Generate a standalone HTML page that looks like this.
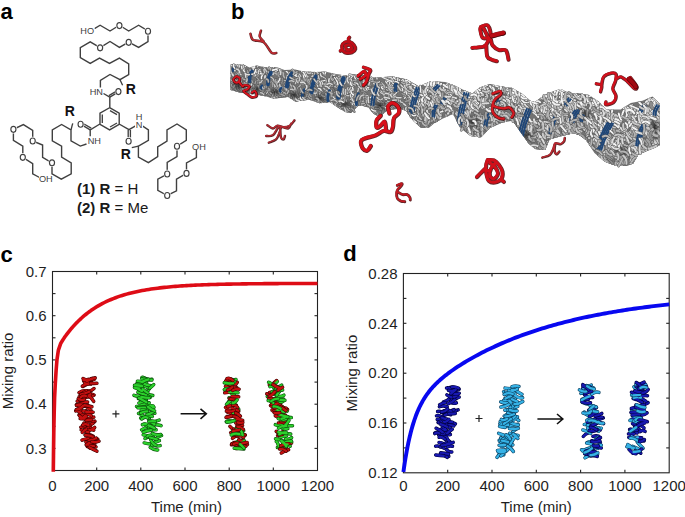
<!DOCTYPE html>
<html><head><meta charset="utf-8"><style>
html,body{margin:0;padding:0;background:#fff;}
svg{display:block;}
.tk{font-family:"Liberation Sans",sans-serif;font-size:15px;fill:#1e1e1e;}
.lab{font-family:"Liberation Sans",sans-serif;font-size:22px;font-weight:bold;fill:#000;}
</style></head><body>
<svg width="685" height="517" viewBox="0 0 685 517">
<rect width="685" height="517" fill="#fff"/>
<text x="0.5" y="18.5" class="lab">a</text>
<text x="231" y="18.5" class="lab">b</text>
<text x="0.5" y="261.5" class="lab">c</text>
<text x="343.3" y="261.3" class="lab">d</text>
<defs><clipPath id="bc"><polygon points="230.5,64.6 242.5,64.0 249.5,67.5 256.5,65.5 265.3,67.3 275.8,67.0 284.6,69.9 295.1,69.5 303.8,71.6 316.1,72.0 324.9,71.6 337.1,74.3 345.0,75.5 357.5,74.0 371.5,77.5 383.8,77.0 392.6,76.6 406.6,79.3 418.8,86.3 431.1,81.0 445.1,81.9 455.0,85.8 462.0,89.3 472.5,93.5 479.5,87.5 490.0,84.0 503.5,86.7 511.7,87.8 522.2,93.7 530.4,100.7 535.0,101.9 544.4,94.9 552.6,91.4 560.7,89.0 570.0,93.7 577.3,92.9 588.4,94.7 599.4,102.0 606.1,109.5 620.6,109.5 630.8,103.0 642.4,100.8 652.5,96.5 659.8,103.7 659.8,145.0 655.7,147.4 647.0,151.1 638.3,154.8 633.3,163.5 627.1,166.0 616.3,166.1 604.7,161.7 594.5,153.0 585.8,140.0 580.0,135.6 573.7,133.3 560.1,136.6 549.6,139.5 545.2,150.0 535.0,149.0 528.6,143.6 519.8,131.3 512.8,120.8 502.3,122.6 490.0,128.0 481.0,137.5 470.5,136.0 460.3,128.0 453.0,114.0 441.3,119.2 434.6,123.1 428.2,128.0 421.0,128.0 413.6,121.3 405.7,110.4 398.7,108.9 388.3,110.0 379.0,117.0 373.2,113.6 368.6,107.8 361.6,105.4 358.0,106.0 351.0,113.0 345.0,112.0 337.0,107.0 330.1,102.3 319.6,103.2 309.1,99.7 295.1,101.4 288.1,97.0 274.0,98.8 265.3,96.2 254.8,94.4 240.8,92.7 230.5,90.0"/></clipPath><radialGradient id="sp"><stop offset="0" stop-color="#141414" stop-opacity="0.95"/><stop offset="1" stop-color="#303030" stop-opacity="0"/></radialGradient></defs>
<polygon points="230.5,64.6 242.5,64.0 249.5,67.5 256.5,65.5 265.3,67.3 275.8,67.0 284.6,69.9 295.1,69.5 303.8,71.6 316.1,72.0 324.9,71.6 337.1,74.3 345.0,75.5 357.5,74.0 371.5,77.5 383.8,77.0 392.6,76.6 406.6,79.3 418.8,86.3 431.1,81.0 445.1,81.9 455.0,85.8 462.0,89.3 472.5,93.5 479.5,87.5 490.0,84.0 503.5,86.7 511.7,87.8 522.2,93.7 530.4,100.7 535.0,101.9 544.4,94.9 552.6,91.4 560.7,89.0 570.0,93.7 577.3,92.9 588.4,94.7 599.4,102.0 606.1,109.5 620.6,109.5 630.8,103.0 642.4,100.8 652.5,96.5 659.8,103.7 659.8,145.0 655.7,147.4 647.0,151.1 638.3,154.8 633.3,163.5 627.1,166.0 616.3,166.1 604.7,161.7 594.5,153.0 585.8,140.0 580.0,135.6 573.7,133.3 560.1,136.6 549.6,139.5 545.2,150.0 535.0,149.0 528.6,143.6 519.8,131.3 512.8,120.8 502.3,122.6 490.0,128.0 481.0,137.5 470.5,136.0 460.3,128.0 453.0,114.0 441.3,119.2 434.6,123.1 428.2,128.0 421.0,128.0 413.6,121.3 405.7,110.4 398.7,108.9 388.3,110.0 379.0,117.0 373.2,113.6 368.6,107.8 361.6,105.4 358.0,106.0 351.0,113.0 345.0,112.0 337.0,107.0 330.1,102.3 319.6,103.2 309.1,99.7 295.1,101.4 288.1,97.0 274.0,98.8 265.3,96.2 254.8,94.4 240.8,92.7 230.5,90.0" fill="#737373"/>
<g fill="none" stroke-linecap="round" clip-path="url(#bc)"><path d="M256.1 74.5Q258.5 73.6 261.1 74.0M240.7 81.7Q242.0 83.4 244.0 82.5M320.6 94.0Q321.6 96.2 324.0 95.4M415.2 92.4Q419.1 92.8 419.2 96.7M382.0 75.5Q385.3 76.9 386.0 80.4M361.9 104.3Q364.1 101.1 367.7 102.6M394.3 73.9Q393.5 77.2 395.7 79.8M297.2 97.8Q298.9 100.0 296.9 101.9M305.1 91.5Q307.3 93.0 309.8 92.7M415.2 98.1Q419.2 98.1 419.2 102.0M385.3 78.2Q387.2 79.9 388.1 82.4M233.6 80.6Q235.0 81.7 236.1 83.1M360.7 100.4Q363.1 100.7 362.8 103.1M300.5 83.4Q300.8 85.7 298.8 86.8M268.9 90.5Q270.6 90.9 271.7 92.3M371.2 93.3Q375.0 94.8 373.6 98.6M246.0 89.9Q247.5 92.0 249.5 93.5M297.4 87.9Q295.4 90.4 297.0 93.2M234.1 89.0Q236.0 90.8 238.1 89.2M339.4 93.1Q341.7 92.5 343.2 94.3M276.3 68.9Q277.8 67.6 279.5 68.6M318.2 82.6Q319.5 84.4 319.6 86.6M268.8 87.4Q268.0 89.2 269.4 90.5M265.1 85.9Q264.3 88.0 263.7 90.1M275.1 81.2Q276.9 83.5 279.3 81.8M343.0 75.6Q342.4 77.7 341.0 79.5M238.7 92.0Q240.5 93.3 242.5 94.3M279.3 72.0Q280.2 73.3 279.7 74.8M255.7 70.0Q257.4 71.0 257.9 72.9M327.7 90.1Q329.4 91.4 330.8 93.1M408.7 92.7Q409.1 94.9 406.9 95.8M356.4 102.1Q357.6 104.7 358.0 107.4M337.1 100.9Q336.7 104.1 333.9 105.6M228.9 86.0Q231.1 87.1 232.8 88.8M281.9 82.3Q283.2 83.8 285.2 83.3M407.8 110.9Q411.0 112.6 410.8 116.2M372.0 79.7Q370.3 82.1 370.6 85.1M341.3 76.9Q343.3 76.1 345.4 76.4M352.2 74.2Q354.1 74.3 355.9 75.0M340.5 98.1Q343.0 97.5 345.2 99.0M403.7 84.5Q404.3 86.2 405.5 87.4M240.1 73.9Q240.8 75.0 241.0 76.4M255.3 80.1Q257.8 81.3 258.4 84.0M347.9 75.4Q347.2 78.7 350.1 80.4M410.4 110.2Q407.0 111.0 407.4 114.4M305.4 74.1Q306.0 76.1 307.9 76.7M387.6 100.6Q387.7 103.7 389.8 106.0M359.5 72.6Q359.1 75.5 361.6 77.2M360.2 95.2Q363.8 95.6 364.3 99.3M403.2 95.9Q405.8 98.0 407.5 100.9" stroke="#505050" stroke-width="2.2"/><path d="M515.0 88.2Q515.0 90.5 516.3 92.4M578.3 120.0Q582.4 120.8 586.6 120.8M430.1 88.7Q431.0 90.4 431.3 92.2M594.5 122.0Q597.3 124.2 595.7 127.4M551.2 116.9Q548.2 119.3 548.7 123.1M492.8 83.6Q493.0 85.5 493.6 87.4M576.0 133.9Q579.2 133.4 580.0 136.5M538.5 145.3Q538.0 149.3 541.3 151.7M441.7 89.9Q444.8 90.2 446.4 92.9M517.8 116.8Q520.4 115.1 522.7 117.3M566.3 126.7Q569.5 129.3 570.1 133.5M565.3 107.3Q567.6 109.5 570.3 111.2M532.7 145.8Q536.2 147.2 535.7 150.9M494.1 109.7Q497.0 108.1 499.4 110.4M460.9 92.5Q463.5 92.8 465.1 90.8M605.8 158.4Q605.8 162.3 609.6 162.9M551.4 97.9Q553.7 99.9 552.1 102.5M616.2 153.2Q618.8 156.9 623.1 158.3M439.7 94.5Q440.5 96.4 440.4 98.5M480.2 113.7Q478.1 117.8 481.9 120.5M434.4 115.4Q437.4 116.8 436.1 119.9M486.7 83.2Q488.2 84.6 488.9 86.5M469.1 125.6Q469.4 128.8 467.9 131.8M613.8 137.9Q610.4 142.2 614.1 146.2M524.6 102.1Q525.6 104.6 524.3 107.1M572.9 125.4Q570.7 126.9 570.7 129.7M615.5 143.1Q614.9 146.9 618.5 148.5M479.1 132.7Q477.8 134.9 477.2 137.4M594.7 99.9Q596.3 102.4 596.7 105.3M490.5 114.3Q492.4 116.0 493.3 118.4M427.1 110.5Q426.7 113.4 429.5 114.0M601.3 123.1Q602.8 128.5 608.4 127.8M538.3 109.0Q541.8 106.2 544.8 109.6M499.2 106.7Q500.5 109.9 500.2 113.3M600.1 128.8Q604.2 127.7 607.2 130.6M593.3 135.6Q597.6 136.6 597.6 140.9M639.4 135.3Q642.4 135.2 645.3 135.7M544.6 123.7Q546.0 125.6 548.5 125.5M571.2 109.0Q571.0 111.1 570.4 113.1M487.9 91.6Q491.4 92.1 490.9 95.7M538.6 140.3Q540.8 142.3 539.8 145.2M589.8 142.4Q590.9 146.6 594.6 149.0M460.2 120.2Q462.8 120.6 464.9 119.0M544.8 135.4Q545.7 137.7 545.1 140.2M501.3 86.7Q500.5 90.9 504.2 93.0M477.3 125.5Q479.5 126.6 481.8 127.7M623.3 124.5Q622.5 128.5 626.2 130.1M623.7 138.9Q622.0 142.0 621.5 145.4M480.7 121.8Q480.5 125.2 478.8 128.2M575.2 119.4Q572.7 122.6 575.1 125.9M461.8 119.6Q465.5 122.6 468.6 118.9M513.9 121.0Q515.1 123.6 516.9 125.9M434.1 108.7Q435.5 110.4 437.7 110.9M493.2 81.5Q493.8 84.6 492.2 87.4M480.3 123.5Q484.3 124.1 484.6 128.1M524.5 128.1Q526.4 130.5 529.0 129.0M521.3 105.1Q524.7 107.1 523.8 110.9M572.3 99.0Q572.7 103.4 577.1 103.2M508.2 102.9Q509.4 104.6 510.2 106.6M624.8 151.8Q624.3 155.9 627.4 158.7M542.1 128.2Q544.6 132.5 549.3 131.3M550.5 132.0Q551.6 135.5 548.8 138.0M548.8 95.4Q546.7 98.1 543.6 99.6M447.2 82.7Q447.4 86.2 450.7 87.5M439.8 95.1Q438.6 97.9 439.9 100.6M545.3 104.7Q546.3 107.6 549.4 107.7M610.1 136.7Q611.3 140.2 613.6 143.1M471.8 131.3Q472.4 134.0 472.5 136.7M562.4 89.2Q562.6 91.5 561.4 93.5M593.2 130.8Q596.6 132.9 600.3 131.4M526.2 103.4Q528.0 105.4 529.6 107.7M469.0 99.6Q473.8 99.8 474.0 104.6M597.6 120.5Q600.5 123.6 604.6 122.7M487.6 125.5Q489.2 128.2 491.8 129.8M625.3 128.8Q622.7 132.5 626.3 135.2M561.8 107.4Q559.8 111.1 562.8 114.0M537.3 141.7Q540.1 145.2 537.8 149.2M524.9 105.0Q526.9 107.8 530.3 108.4M466.1 122.7Q468.2 124.2 468.2 126.9M446.2 85.0Q443.2 85.7 443.7 88.8M464.3 92.4Q464.6 94.7 462.6 95.8M556.9 88.9Q558.8 91.8 561.5 94.0M587.0 96.9Q590.3 98.7 593.1 101.2M554.4 128.9Q553.1 132.1 556.0 133.9M588.7 126.1Q589.5 129.8 589.7 133.4M478.7 92.5Q481.1 91.9 482.6 93.9M542.3 111.0Q543.8 113.0 545.1 115.1" stroke="#505050" stroke-width="2.7"/><path d="M658.1 116.4Q659.6 119.0 658.0 121.5M652.5 107.0Q653.1 109.5 654.6 111.7M657.0 118.3Q656.9 120.9 655.8 123.3M645.9 102.6Q648.9 98.9 653.7 99.5" stroke="#505050" stroke-width="3.2"/><path d="M297.2 97.8Q298.9 100.0 296.9 101.9" stroke="#787878" stroke-width="1.5"/><path d="M538.5 145.3Q538.0 149.3 541.3 151.7M550.5 132.0Q551.6 135.5 548.8 138.0" stroke="#787878" stroke-width="2.0"/><path d="M320.6 94.0Q321.6 96.2 324.0 95.4M360.7 100.4Q363.1 100.7 362.8 103.1M268.8 87.4Q268.0 89.2 269.4 90.5M238.7 92.0Q240.5 93.3 242.5 94.3M407.8 110.9Q411.0 112.6 410.8 116.2M240.1 73.9Q240.8 75.0 241.0 76.4" stroke="#8c8c8c" stroke-width="1.5"/><path d="M513.9 121.0Q515.1 123.6 516.9 125.9M537.3 141.7Q540.1 145.2 537.8 149.2" stroke="#8c8c8c" stroke-width="2.0"/><path d="M240.7 81.7Q242.0 83.4 244.0 82.5M246.0 89.9Q247.5 92.0 249.5 93.5M297.4 87.9Q295.4 90.4 297.0 93.2M234.1 89.0Q236.0 90.8 238.1 89.2M228.9 86.0Q231.1 87.1 232.8 88.8M352.2 74.2Q354.1 74.3 355.9 75.0M403.2 95.9Q405.8 98.0 407.5 100.9" stroke="#a0a0a0" stroke-width="1.5"/><path d="M576.0 133.9Q579.2 133.4 580.0 136.5M605.8 158.4Q605.8 162.3 609.6 162.9M460.2 120.2Q462.8 120.6 464.9 119.0M624.8 151.8Q624.3 155.9 627.4 158.7M471.8 131.3Q472.4 134.0 472.5 136.7" stroke="#a0a0a0" stroke-width="2.0"/><path d="M305.1 91.5Q307.3 93.0 309.8 92.7M415.2 98.1Q419.2 98.1 419.2 102.0M233.6 80.6Q235.0 81.7 236.1 83.1M300.5 83.4Q300.8 85.7 298.8 86.8M268.9 90.5Q270.6 90.9 271.7 92.3M276.3 68.9Q277.8 67.6 279.5 68.6M318.2 82.6Q319.5 84.4 319.6 86.6M265.1 85.9Q264.3 88.0 263.7 90.1M255.7 70.0Q257.4 71.0 257.9 72.9M327.7 90.1Q329.4 91.4 330.8 93.1M356.4 102.1Q357.6 104.7 358.0 107.4M337.1 100.9Q336.7 104.1 333.9 105.6M281.9 82.3Q283.2 83.8 285.2 83.3M255.3 80.1Q257.8 81.3 258.4 84.0M410.4 110.2Q407.0 111.0 407.4 114.4M387.6 100.6Q387.7 103.7 389.8 106.0M360.2 95.2Q363.8 95.6 364.3 99.3" stroke="#b4b4b4" stroke-width="1.5"/><path d="M578.3 120.0Q582.4 120.8 586.6 120.8M551.2 116.9Q548.2 119.3 548.7 123.1M566.3 126.7Q569.5 129.3 570.1 133.5M532.7 145.8Q536.2 147.2 535.7 150.9M480.2 113.7Q478.1 117.8 481.9 120.5M469.1 125.6Q469.4 128.8 467.9 131.8M479.1 132.7Q477.8 134.9 477.2 137.4M639.4 135.3Q642.4 135.2 645.3 135.7M544.6 123.7Q546.0 125.6 548.5 125.5M571.2 109.0Q571.0 111.1 570.4 113.1M538.6 140.3Q540.8 142.3 539.8 145.2M589.8 142.4Q590.9 146.6 594.6 149.0M477.3 125.5Q479.5 126.6 481.8 127.7M480.7 121.8Q480.5 125.2 478.8 128.2M461.8 119.6Q465.5 122.6 468.6 118.9M480.3 123.5Q484.3 124.1 484.6 128.1M524.5 128.1Q526.4 130.5 529.0 129.0M542.1 128.2Q544.6 132.5 549.3 131.3M593.2 130.8Q596.6 132.9 600.3 131.4M487.6 125.5Q489.2 128.2 491.8 129.8M561.8 107.4Q559.8 111.1 562.8 114.0M556.9 88.9Q558.8 91.8 561.5 94.0" stroke="#b4b4b4" stroke-width="2.0"/><path d="M256.1 74.5Q258.5 73.6 261.1 74.0M361.9 104.3Q364.1 101.1 367.7 102.6M343.0 75.6Q342.4 77.7 341.0 79.5M279.3 72.0Q280.2 73.3 279.7 74.8M408.7 92.7Q409.1 94.9 406.9 95.8M372.0 79.7Q370.3 82.1 370.6 85.1M347.9 75.4Q347.2 78.7 350.1 80.4" stroke="#c8c8c8" stroke-width="1.5"/><path d="M565.3 107.3Q567.6 109.5 570.3 111.2M460.9 92.5Q463.5 92.8 465.1 90.8M434.4 115.4Q437.4 116.8 436.1 119.9M613.8 137.9Q610.4 142.2 614.1 146.2M490.5 114.3Q492.4 116.0 493.3 118.4M499.2 106.7Q500.5 109.9 500.2 113.3M600.1 128.8Q604.2 127.7 607.2 130.6M593.3 135.6Q597.6 136.6 597.6 140.9M623.7 138.9Q622.0 142.0 621.5 145.4M575.2 119.4Q572.7 122.6 575.1 125.9M434.1 108.7Q435.5 110.4 437.7 110.9M493.2 81.5Q493.8 84.6 492.2 87.4M526.2 103.4Q528.0 105.4 529.6 107.7M625.3 128.8Q622.7 132.5 626.3 135.2M466.1 122.7Q468.2 124.2 468.2 126.9M464.3 92.4Q464.6 94.7 462.6 95.8M587.0 96.9Q590.3 98.7 593.1 101.2M554.4 128.9Q553.1 132.1 556.0 133.9" stroke="#c8c8c8" stroke-width="2.0"/><path d="M652.5 107.0Q653.1 109.5 654.6 111.7M657.0 118.3Q656.9 120.9 655.8 123.3" stroke="#c8c8c8" stroke-width="2.5"/><path d="M415.2 92.4Q419.1 92.8 419.2 96.7M371.2 93.3Q375.0 94.8 373.6 98.6M339.4 93.1Q341.7 92.5 343.2 94.3M275.1 81.2Q276.9 83.5 279.3 81.8M340.5 98.1Q343.0 97.5 345.2 99.0M403.7 84.5Q404.3 86.2 405.5 87.4" stroke="#dcdcdc" stroke-width="1.5"/><path d="M430.1 88.7Q431.0 90.4 431.3 92.2M594.5 122.0Q597.3 124.2 595.7 127.4M492.8 83.6Q493.0 85.5 493.6 87.4M517.8 116.8Q520.4 115.1 522.7 117.3M494.1 109.7Q497.0 108.1 499.4 110.4M616.2 153.2Q618.8 156.9 623.1 158.3M439.7 94.5Q440.5 96.4 440.4 98.5M486.7 83.2Q488.2 84.6 488.9 86.5M572.9 125.4Q570.7 126.9 570.7 129.7M615.5 143.1Q614.9 146.9 618.5 148.5M427.1 110.5Q426.7 113.4 429.5 114.0M601.3 123.1Q602.8 128.5 608.4 127.8M544.8 135.4Q545.7 137.7 545.1 140.2M501.3 86.7Q500.5 90.9 504.2 93.0M623.3 124.5Q622.5 128.5 626.2 130.1M508.2 102.9Q509.4 104.6 510.2 106.6M548.8 95.4Q546.7 98.1 543.6 99.6M439.8 95.1Q438.6 97.9 439.9 100.6M562.4 89.2Q562.6 91.5 561.4 93.5M524.9 105.0Q526.9 107.8 530.3 108.4" stroke="#dcdcdc" stroke-width="2.0"/><path d="M305.4 74.1Q306.0 76.1 307.9 76.7M359.5 72.6Q359.1 75.5 361.6 77.2" stroke="#f0f0f0" stroke-width="1.5"/><path d="M515.0 88.2Q515.0 90.5 516.3 92.4M441.7 89.9Q444.8 90.2 446.4 92.9M551.4 97.9Q553.7 99.9 552.1 102.5M524.6 102.1Q525.6 104.6 524.3 107.1M594.7 99.9Q596.3 102.4 596.7 105.3M538.3 109.0Q541.8 106.2 544.8 109.6M521.3 105.1Q524.7 107.1 523.8 110.9M572.3 99.0Q572.7 103.4 577.1 103.2M447.2 82.7Q447.4 86.2 450.7 87.5M545.3 104.7Q546.3 107.6 549.4 107.7M610.1 136.7Q611.3 140.2 613.6 143.1M469.0 99.6Q473.8 99.8 474.0 104.6M597.6 120.5Q600.5 123.6 604.6 122.7M446.2 85.0Q443.2 85.7 443.7 88.8M588.7 126.1Q589.5 129.8 589.7 133.4M478.7 92.5Q481.1 91.9 482.6 93.9" stroke="#f0f0f0" stroke-width="2.0"/><path d="M658.1 116.4Q659.6 119.0 658.0 121.5M645.9 102.6Q648.9 98.9 653.7 99.5" stroke="#f0f0f0" stroke-width="2.5"/><path d="M382.0 75.5Q385.3 76.9 386.0 80.4M394.3 73.9Q393.5 77.2 395.7 79.8M385.3 78.2Q387.2 79.9 388.1 82.4M341.3 76.9Q343.3 76.1 345.4 76.4" stroke="#f5f5f5" stroke-width="1.5"/><path d="M487.9 91.6Q491.4 92.1 490.9 95.7M542.3 111.0Q543.8 113.0 545.1 115.1" stroke="#f5f5f5" stroke-width="2.0"/><path d="M334.9 103.7Q336.5 105.6 335.5 107.9M341.1 101.9Q341.8 105.6 338.2 106.7M263.9 70.8Q264.5 72.3 264.9 73.9M409.6 94.7Q408.3 97.5 410.5 99.6M366.3 87.8Q368.4 86.8 369.5 88.9M363.6 86.2Q365.0 90.0 369.0 89.2M240.2 88.3Q240.4 90.0 242.1 90.2M344.4 76.1Q344.6 80.1 348.5 80.5M366.8 88.1Q363.6 90.1 365.0 93.7M272.0 81.1Q274.9 80.6 275.9 83.4M393.7 102.3Q394.1 103.9 394.2 105.6M379.2 89.8Q380.0 92.6 382.9 92.5M323.4 88.3Q326.2 89.5 326.5 92.6M278.5 91.4Q279.4 94.3 282.4 94.7M235.9 81.9Q237.1 84.0 237.4 86.4M402.4 102.6Q404.0 104.2 405.8 105.6M350.4 97.9Q353.4 96.0 356.5 97.8M251.8 89.5Q254.3 89.2 256.4 90.5M282.4 90.2Q283.7 91.6 285.5 91.4M405.4 95.0Q406.1 97.0 404.4 98.3M374.3 108.9Q377.3 106.8 380.0 109.3M316.6 80.4Q317.0 83.8 320.4 84.0M411.3 88.1Q412.3 90.2 414.7 90.1M414.3 100.1Q414.8 102.1 414.6 104.1M351.0 75.9Q352.6 76.4 354.2 76.2M404.7 90.3Q406.3 87.8 408.9 86.5M310.6 85.8Q312.2 87.0 311.9 89.0M246.7 74.2Q246.8 76.8 249.3 77.3M355.0 82.8Q357.6 82.8 358.4 85.4M235.3 79.0Q236.4 81.1 238.7 81.4M277.1 97.1Q278.2 94.2 281.3 94.3M280.6 70.0Q281.5 71.6 282.1 73.3M380.0 111.1Q380.3 113.6 382.1 115.3M372.7 87.0Q374.3 88.5 373.0 90.2M236.0 80.1Q237.0 81.2 238.4 81.0M414.2 105.3Q413.3 108.1 411.4 110.3M286.8 76.0Q286.1 78.6 287.4 81.0M380.1 83.0Q381.3 85.9 383.1 88.4M315.6 75.2Q314.9 77.6 317.3 78.5M392.1 92.0Q392.4 93.9 391.7 95.8M367.0 90.6Q365.0 91.7 365.9 93.8M372.0 90.5Q371.6 92.9 373.5 94.4M309.2 88.7Q309.7 90.7 311.6 91.5M346.4 110.5Q348.3 112.3 349.5 114.6M244.6 66.5Q244.5 68.4 244.1 70.2M353.1 75.3Q355.0 77.6 357.4 75.9M413.4 90.4Q411.0 92.7 411.7 96.0M236.8 73.0Q238.3 73.6 239.6 74.5M320.5 90.9Q319.3 93.0 320.0 95.4M341.3 107.9Q343.8 106.4 346.5 107.4M298.2 75.3Q299.3 77.7 297.8 79.9M317.3 73.1Q318.1 75.2 316.1 76.2M250.2 79.7Q252.9 80.6 252.7 83.5M389.9 103.5Q387.3 105.6 388.2 108.8M258.9 83.6Q258.7 85.3 260.4 85.8M386.1 80.3Q388.5 78.3 390.7 80.4M236.9 84.8Q237.7 86.4 237.4 88.1M339.6 75.2Q338.5 76.9 338.9 78.8M358.3 88.1Q358.7 90.0 357.6 91.5M411.7 89.8Q414.3 91.3 413.8 94.3" stroke="#505050" stroke-width="2.2"/><path d="M498.8 118.6Q500.7 122.9 505.3 122.2M568.5 103.3Q573.7 104.5 573.3 109.8M555.5 109.8Q558.0 111.1 558.3 113.9M575.2 106.1Q576.2 109.1 578.9 110.8M632.0 105.0Q633.1 108.4 636.5 109.1M621.9 140.8Q625.0 138.3 627.6 141.3M494.2 96.6Q492.0 98.1 492.2 100.6M509.0 90.1Q508.8 92.5 508.1 94.7M582.3 136.2Q585.1 137.1 586.4 139.7M588.9 129.3Q589.9 133.4 586.9 136.2M550.9 129.8Q554.3 131.8 553.6 135.7M515.8 100.5Q517.4 102.5 519.8 101.7M526.8 126.1Q529.9 127.7 533.0 129.4M489.5 100.3Q491.2 103.4 494.5 104.9M482.5 100.0Q485.3 100.1 485.6 102.9M585.1 119.1Q585.6 123.1 585.5 127.2M514.0 117.7Q515.4 120.4 517.8 122.3M583.5 101.5Q586.4 102.3 586.1 105.2M572.2 114.2Q571.7 117.1 573.4 119.6M428.9 113.7Q430.4 116.8 433.7 118.2M540.1 138.9Q537.7 140.7 539.0 143.4M571.6 109.2Q573.0 112.2 575.6 114.2M537.9 97.7Q540.8 98.7 543.8 99.0M573.9 115.5Q575.6 118.9 579.2 119.8M556.8 89.4Q553.9 90.9 554.7 94.1M611.4 126.4Q610.7 128.6 609.4 130.4M422.9 82.5Q425.7 82.4 426.5 85.1M625.9 156.3Q621.3 154.3 618.9 158.6M458.1 117.0Q455.3 120.0 457.2 123.6M544.8 103.1Q546.8 105.1 546.8 107.9M533.7 126.5Q535.0 130.1 538.8 130.6M600.7 111.8Q602.4 113.9 600.8 116.1M555.5 90.6Q554.4 93.6 557.3 95.0M472.5 96.6Q474.8 99.5 478.5 99.3M568.0 104.1Q567.5 108.5 571.8 109.3M557.2 95.3Q556.0 97.9 555.9 100.7M526.1 96.2Q527.4 99.7 525.8 103.1M477.5 129.9Q476.1 132.8 476.3 136.1M502.6 88.5Q504.5 87.1 506.7 88.0M428.5 88.0Q427.9 89.6 428.1 91.4M544.2 104.4Q542.8 108.3 544.9 111.9M534.4 140.5Q531.9 140.8 530.0 142.5M456.1 87.2Q459.8 88.7 459.4 92.7M498.6 117.2Q500.1 118.4 501.8 119.5M560.6 93.9Q564.5 94.3 566.7 97.4M474.3 91.6Q475.8 93.1 477.2 94.7M515.5 96.5Q518.8 98.0 518.2 101.6M472.6 106.8Q474.2 107.8 475.4 109.4M581.9 94.6Q581.8 97.2 583.9 98.6M537.4 109.3Q537.8 112.7 541.1 113.8M620.6 157.7Q623.6 160.1 623.1 163.9M608.6 115.6Q608.2 118.2 609.7 120.3M610.8 124.1Q611.3 127.7 614.9 127.8M427.0 103.4Q429.5 105.0 430.6 107.8M591.2 107.6Q590.9 111.2 593.9 113.1M470.7 99.4Q471.0 102.2 472.7 104.4M569.9 119.0Q572.3 120.3 573.9 122.4M475.5 125.4Q472.7 126.9 473.2 130.1M634.3 129.7Q635.1 132.1 636.2 134.4M575.0 118.6Q578.7 118.3 581.2 115.5M548.6 131.2Q552.8 132.7 552.7 137.2M555.3 107.4Q554.7 111.4 556.8 114.8M512.8 96.2Q514.4 98.0 516.9 97.7M545.0 102.0Q542.4 103.9 544.1 106.7M466.2 91.9Q468.9 95.9 473.1 93.5M475.9 124.1Q479.5 125.0 480.9 128.5M598.4 124.6Q600.3 127.5 602.8 129.8M603.7 153.9Q605.4 150.2 609.2 151.4M588.8 138.0Q593.7 138.2 595.5 142.7M527.8 97.4Q527.2 100.2 529.6 101.8M438.3 111.3Q440.2 111.8 441.0 113.7M539.2 145.3Q539.7 149.1 543.5 148.8M550.5 133.4Q550.1 135.7 550.7 138.0M475.7 114.8Q479.1 114.3 482.2 115.8M498.3 113.8Q500.5 114.2 502.7 114.5M449.2 100.2Q445.5 100.9 444.4 104.5M595.0 130.6Q597.4 132.8 595.9 135.6" stroke="#505050" stroke-width="2.7"/><path d="M649.0 120.6Q651.2 123.9 648.2 126.6M645.9 129.6Q645.4 132.9 647.4 135.7M647.9 115.8Q649.7 118.3 648.5 121.2M656.3 119.2Q657.2 123.2 658.9 126.9" stroke="#505050" stroke-width="3.2"/><path d="M258.9 83.6Q258.7 85.3 260.4 85.8" stroke="#787878" stroke-width="1.5"/><path d="M240.2 88.3Q240.4 90.0 242.1 90.2M282.4 90.2Q283.7 91.6 285.5 91.4M380.0 111.1Q380.3 113.6 382.1 115.3M372.7 87.0Q374.3 88.5 373.0 90.2" stroke="#8c8c8c" stroke-width="1.5"/><path d="M514.0 117.7Q515.4 120.4 517.8 122.3" stroke="#8c8c8c" stroke-width="2.0"/><path d="M263.9 70.8Q264.5 72.3 264.9 73.9M235.9 81.9Q237.1 84.0 237.4 86.4M350.4 97.9Q353.4 96.0 356.5 97.8M346.4 110.5Q348.3 112.3 349.5 114.6M250.2 79.7Q252.9 80.6 252.7 83.5M389.9 103.5Q387.3 105.6 388.2 108.8M236.9 84.8Q237.7 86.4 237.4 88.1" stroke="#a0a0a0" stroke-width="1.5"/><path d="M575.2 106.1Q576.2 109.1 578.9 110.8M582.3 136.2Q585.1 137.1 586.4 139.7M540.1 138.9Q537.7 140.7 539.0 143.4M573.9 115.5Q575.6 118.9 579.2 119.8M600.7 111.8Q602.4 113.9 600.8 116.1M515.5 96.5Q518.8 98.0 518.2 101.6M475.5 125.4Q472.7 126.9 473.2 130.1M548.6 131.2Q552.8 132.7 552.7 137.2M438.3 111.3Q440.2 111.8 441.0 113.7M475.7 114.8Q479.1 114.3 482.2 115.8" stroke="#a0a0a0" stroke-width="2.0"/><path d="M649.0 120.6Q651.2 123.9 648.2 126.6" stroke="#a0a0a0" stroke-width="2.5"/><path d="M334.9 103.7Q336.5 105.6 335.5 107.9M341.1 101.9Q341.8 105.6 338.2 106.7M393.7 102.3Q394.1 103.9 394.2 105.6M323.4 88.3Q326.2 89.5 326.5 92.6M278.5 91.4Q279.4 94.3 282.4 94.7M251.8 89.5Q254.3 89.2 256.4 90.5M374.3 108.9Q377.3 106.8 380.0 109.3M411.3 88.1Q412.3 90.2 414.7 90.1M414.3 100.1Q414.8 102.1 414.6 104.1M404.7 90.3Q406.3 87.8 408.9 86.5M235.3 79.0Q236.4 81.1 238.7 81.4M277.1 97.1Q278.2 94.2 281.3 94.3M320.5 90.9Q319.3 93.0 320.0 95.4M341.3 107.9Q343.8 106.4 346.5 107.4" stroke="#b4b4b4" stroke-width="1.5"/><path d="M498.8 118.6Q500.7 122.9 505.3 122.2M494.2 96.6Q492.0 98.1 492.2 100.6M588.9 129.3Q589.9 133.4 586.9 136.2M585.1 119.1Q585.6 123.1 585.5 127.2M611.4 126.4Q610.7 128.6 609.4 130.4M458.1 117.0Q455.3 120.0 457.2 123.6M533.7 126.5Q535.0 130.1 538.8 130.6M620.6 157.7Q623.6 160.1 623.1 163.9M591.2 107.6Q590.9 111.2 593.9 113.1M539.2 145.3Q539.7 149.1 543.5 148.8" stroke="#b4b4b4" stroke-width="2.0"/><path d="M246.7 74.2Q246.8 76.8 249.3 77.3M414.2 105.3Q413.3 108.1 411.4 110.3M286.8 76.0Q286.1 78.6 287.4 81.0M367.0 90.6Q365.0 91.7 365.9 93.8M372.0 90.5Q371.6 92.9 373.5 94.4M353.1 75.3Q355.0 77.6 357.4 75.9M236.8 73.0Q238.3 73.6 239.6 74.5M358.3 88.1Q358.7 90.0 357.6 91.5" stroke="#c8c8c8" stroke-width="1.5"/><path d="M555.5 109.8Q558.0 111.1 558.3 113.9M621.9 140.8Q625.0 138.3 627.6 141.3M550.9 129.8Q554.3 131.8 553.6 135.7M515.8 100.5Q517.4 102.5 519.8 101.7M526.8 126.1Q529.9 127.7 533.0 129.4M489.5 100.3Q491.2 103.4 494.5 104.9M428.9 113.7Q430.4 116.8 433.7 118.2M625.9 156.3Q621.3 154.3 618.9 158.6M557.2 95.3Q556.0 97.9 555.9 100.7M477.5 129.9Q476.1 132.8 476.3 136.1M544.2 104.4Q542.8 108.3 544.9 111.9M534.4 140.5Q531.9 140.8 530.0 142.5M498.6 117.2Q500.1 118.4 501.8 119.5M537.4 109.3Q537.8 112.7 541.1 113.8M610.8 124.1Q611.3 127.7 614.9 127.8M569.9 119.0Q572.3 120.3 573.9 122.4M555.3 107.4Q554.7 111.4 556.8 114.8M603.7 153.9Q605.4 150.2 609.2 151.4M588.8 138.0Q593.7 138.2 595.5 142.7M498.3 113.8Q500.5 114.2 502.7 114.5M449.2 100.2Q445.5 100.9 444.4 104.5M595.0 130.6Q597.4 132.8 595.9 135.6" stroke="#c8c8c8" stroke-width="2.0"/><path d="M645.9 129.6Q645.4 132.9 647.4 135.7M656.3 119.2Q657.2 123.2 658.9 126.9" stroke="#c8c8c8" stroke-width="2.5"/><path d="M363.6 86.2Q365.0 90.0 369.0 89.2M402.4 102.6Q404.0 104.2 405.8 105.6M405.4 95.0Q406.1 97.0 404.4 98.3M316.6 80.4Q317.0 83.8 320.4 84.0M310.6 85.8Q312.2 87.0 311.9 89.0M355.0 82.8Q357.6 82.8 358.4 85.4M236.0 80.1Q237.0 81.2 238.4 81.0M380.1 83.0Q381.3 85.9 383.1 88.4M309.2 88.7Q309.7 90.7 311.6 91.5M244.6 66.5Q244.5 68.4 244.1 70.2M413.4 90.4Q411.0 92.7 411.7 96.0M317.3 73.1Q318.1 75.2 316.1 76.2M339.6 75.2Q338.5 76.9 338.9 78.8M411.7 89.8Q414.3 91.3 413.8 94.3" stroke="#dcdcdc" stroke-width="1.5"/><path d="M632.0 105.0Q633.1 108.4 636.5 109.1M482.5 100.0Q485.3 100.1 485.6 102.9M583.5 101.5Q586.4 102.3 586.1 105.2M572.2 114.2Q571.7 117.1 573.4 119.6M537.9 97.7Q540.8 98.7 543.8 99.0M472.5 96.6Q474.8 99.5 478.5 99.3M502.6 88.5Q504.5 87.1 506.7 88.0M560.6 93.9Q564.5 94.3 566.7 97.4M472.6 106.8Q474.2 107.8 475.4 109.4M581.9 94.6Q581.8 97.2 583.9 98.6M608.6 115.6Q608.2 118.2 609.7 120.3M427.0 103.4Q429.5 105.0 430.6 107.8M634.3 129.7Q635.1 132.1 636.2 134.4M575.0 118.6Q578.7 118.3 581.2 115.5M512.8 96.2Q514.4 98.0 516.9 97.7M545.0 102.0Q542.4 103.9 544.1 106.7M475.9 124.1Q479.5 125.0 480.9 128.5" stroke="#dcdcdc" stroke-width="2.0"/><path d="M647.9 115.8Q649.7 118.3 648.5 121.2" stroke="#dcdcdc" stroke-width="2.5"/><path d="M409.6 94.7Q408.3 97.5 410.5 99.6M366.3 87.8Q368.4 86.8 369.5 88.9M366.8 88.1Q363.6 90.1 365.0 93.7M272.0 81.1Q274.9 80.6 275.9 83.4M392.1 92.0Q392.4 93.9 391.7 95.8M298.2 75.3Q299.3 77.7 297.8 79.9M386.1 80.3Q388.5 78.3 390.7 80.4" stroke="#f0f0f0" stroke-width="1.5"/><path d="M571.6 109.2Q573.0 112.2 575.6 114.2M556.8 89.4Q553.9 90.9 554.7 94.1M422.9 82.5Q425.7 82.4 426.5 85.1M555.5 90.6Q554.4 93.6 557.3 95.0M526.1 96.2Q527.4 99.7 525.8 103.1M470.7 99.4Q471.0 102.2 472.7 104.4M598.4 124.6Q600.3 127.5 602.8 129.8M550.5 133.4Q550.1 135.7 550.7 138.0" stroke="#f0f0f0" stroke-width="2.0"/><path d="M344.4 76.1Q344.6 80.1 348.5 80.5M379.2 89.8Q380.0 92.6 382.9 92.5M351.0 75.9Q352.6 76.4 354.2 76.2M280.6 70.0Q281.5 71.6 282.1 73.3M315.6 75.2Q314.9 77.6 317.3 78.5" stroke="#f5f5f5" stroke-width="1.5"/><path d="M568.5 103.3Q573.7 104.5 573.3 109.8M509.0 90.1Q508.8 92.5 508.1 94.7M544.8 103.1Q546.8 105.1 546.8 107.9M568.0 104.1Q567.5 108.5 571.8 109.3M428.5 88.0Q427.9 89.6 428.1 91.4M456.1 87.2Q459.8 88.7 459.4 92.7M474.3 91.6Q475.8 93.1 477.2 94.7M466.2 91.9Q468.9 95.9 473.1 93.5M527.8 97.4Q527.2 100.2 529.6 101.8" stroke="#f5f5f5" stroke-width="2.0"/><path d="M373.2 75.4Q376.9 75.4 377.1 79.1M276.9 93.9Q277.7 96.5 280.4 96.5M281.7 96.3Q283.4 94.3 285.4 95.9M330.7 100.8Q331.4 102.4 332.4 103.7M304.7 83.4Q305.9 85.5 307.1 87.6M392.1 102.0Q393.4 103.8 393.7 106.0M365.0 85.4Q362.5 87.5 362.2 90.8M276.1 81.6Q276.0 83.2 276.3 84.7M402.8 85.9Q401.4 88.5 402.8 91.0M360.5 85.1Q361.6 87.6 364.1 86.6M259.6 69.3Q259.4 71.5 261.6 71.8M270.9 82.2Q272.8 81.0 275.0 80.3M337.6 96.7Q339.9 96.7 341.9 98.0M415.6 106.0Q419.8 107.9 418.1 112.2M295.8 92.6Q297.2 93.6 297.6 95.4M351.6 100.9Q352.2 103.3 354.7 103.6M337.4 108.4Q339.3 107.1 340.9 108.7M395.3 75.6Q398.7 76.7 397.7 80.2M283.6 91.7Q283.8 94.4 282.5 96.7M236.7 90.0Q235.0 91.6 236.3 93.4M242.5 87.9Q242.9 89.4 243.9 90.4M330.8 96.5Q332.6 97.4 334.2 96.2M282.9 93.9Q281.6 94.6 281.3 96.1M327.4 93.5Q326.7 96.2 324.4 97.9M414.8 117.3Q412.1 118.5 411.7 121.5M288.3 73.2Q289.2 74.4 289.5 75.9M381.1 104.4Q382.7 105.7 384.3 107.1M389.2 74.7Q392.8 76.3 392.3 80.2M391.8 85.1Q392.1 88.0 394.9 88.2M370.5 110.9Q372.8 112.7 374.2 115.2M304.0 77.9Q305.7 79.4 307.9 79.4M301.6 89.8Q300.0 91.3 301.1 93.3M339.9 78.9Q342.3 80.5 344.1 78.3M296.1 79.4Q295.9 82.0 294.7 84.2M414.5 105.5Q416.8 107.2 419.0 108.9M349.2 93.0Q351.7 91.7 353.8 93.5M266.8 90.8Q266.5 93.5 269.0 94.7M406.8 106.8Q404.2 108.9 406.1 111.6M311.9 76.3Q315.0 74.3 317.5 77.1M393.5 90.5Q395.6 93.4 398.5 91.5M242.7 78.0Q243.6 79.3 245.1 79.9M292.3 72.2Q293.0 74.7 295.6 74.1M381.1 75.8Q382.9 79.1 386.4 77.9M311.8 92.2Q311.4 93.6 311.6 95.1M407.0 90.0Q408.1 91.7 410.2 91.7M291.7 70.3Q293.2 71.9 295.3 72.6M392.3 86.7Q391.7 89.2 393.0 91.3M387.5 92.9Q388.9 94.4 389.0 96.5M346.1 94.5Q345.8 96.5 344.3 98.0" stroke="#505050" stroke-width="2.2"/><path d="M613.9 155.0Q615.7 158.0 617.0 161.3M522.8 129.9Q524.6 132.4 522.7 134.8M632.4 134.1Q630.2 139.4 635.1 142.3M640.9 130.1Q643.0 132.4 641.4 135.1M627.0 118.5Q629.1 121.0 630.3 124.0M507.4 85.5Q508.2 89.4 504.5 90.7M634.5 153.2Q636.2 155.5 637.8 157.9M432.6 119.7Q434.8 121.0 436.9 122.7M425.3 105.0Q423.8 107.0 425.4 108.9M459.4 96.0Q460.9 98.4 462.5 100.8M640.9 110.6Q640.6 114.0 643.6 115.5M549.6 111.3Q553.9 112.3 553.8 116.8M483.1 121.2Q483.4 125.2 487.1 126.8M460.4 112.8Q462.1 115.3 465.2 115.6M589.8 115.0Q591.3 117.6 592.5 120.2M537.5 100.0Q535.4 103.3 534.4 107.1M561.0 121.0Q563.7 123.3 562.2 126.5M637.7 110.6Q636.2 113.7 634.8 116.9M552.4 93.9Q554.6 95.8 557.2 94.5M645.5 118.6Q645.8 121.1 646.1 123.7M460.9 102.7Q461.9 104.6 462.2 106.7M601.5 130.5Q604.6 131.9 603.4 135.1M513.4 86.6Q511.2 90.8 514.7 94.0M543.8 108.8Q547.1 109.4 547.9 112.7M468.4 101.1Q472.1 102.0 472.8 105.7M634.0 120.0Q638.1 121.9 638.8 126.5M616.3 140.9Q619.9 143.0 622.1 146.5M640.2 114.9Q642.8 117.3 645.6 119.6M496.9 106.6Q501.0 106.6 502.9 110.2M564.0 88.4Q566.9 90.9 567.1 94.7M549.9 125.1Q553.4 125.6 556.0 127.9M464.7 91.5Q465.6 93.6 467.8 93.7M570.4 100.0Q574.1 103.0 572.6 107.4M550.0 92.7Q552.6 92.7 553.6 95.0M430.6 95.9Q433.7 95.7 434.7 98.6M559.1 107.3Q560.8 110.0 561.3 113.2M570.8 114.0Q572.0 116.1 571.8 118.6M453.3 110.6Q452.8 114.0 453.0 117.6M597.0 117.5Q596.7 121.2 594.3 124.0M610.1 116.0Q612.3 117.8 614.3 119.9M527.5 138.6Q527.4 142.4 530.7 144.4M523.8 118.1Q525.5 119.3 527.3 120.2M635.1 111.5Q633.5 114.9 634.2 118.7M523.9 122.7Q527.3 121.9 529.0 124.9M492.9 122.9Q495.5 124.6 496.1 127.7M641.1 148.4Q642.8 151.5 640.9 154.5M520.6 97.8Q522.1 100.8 525.1 102.4M621.8 134.7Q624.8 137.0 628.6 136.9M482.9 103.8Q481.5 105.8 482.5 108.1M469.3 110.5Q471.4 111.4 472.9 109.8M475.3 125.8Q474.0 129.8 477.1 132.7M549.6 122.8Q550.1 126.2 553.5 126.9M537.1 102.0Q537.9 105.7 540.3 108.6M530.3 123.4Q533.8 123.8 536.4 126.2M502.7 95.5Q505.5 99.2 509.9 97.8M495.5 85.5Q497.6 86.6 499.9 86.6M434.7 85.2Q437.9 86.4 438.1 89.9M542.5 127.3Q541.1 130.6 544.2 132.5M480.8 88.2Q483.8 88.3 486.7 88.1M609.3 140.2Q612.7 143.6 609.8 147.4M516.1 104.9Q515.1 107.6 512.4 106.7M513.4 114.6Q517.1 114.5 520.2 116.4M430.3 120.6Q428.0 122.0 427.5 124.6M628.8 111.1Q626.1 114.4 629.2 117.3M507.2 115.8Q507.5 118.5 510.1 119.1M431.9 105.5Q434.4 106.3 435.5 108.7M450.9 90.2Q450.1 92.5 451.6 94.4M486.4 94.1Q488.3 96.3 486.5 98.6M448.9 88.7Q450.1 91.1 452.4 92.5M587.8 102.8Q591.5 102.9 594.0 105.6M481.8 118.3Q482.6 121.1 480.5 123.3M490.1 107.7Q492.4 109.4 493.9 111.7M628.9 146.0Q628.2 150.4 632.0 152.7M563.2 102.7Q563.3 107.0 560.1 109.9M608.8 127.4Q611.6 129.6 609.4 132.4M626.4 118.9Q628.5 120.8 631.3 120.9M455.4 102.7Q457.5 104.0 458.1 106.4M624.3 144.8Q626.8 146.3 629.7 146.1M457.1 101.3Q459.2 101.2 460.7 102.8M462.6 94.1Q465.9 92.4 469.4 93.5M459.8 109.1Q463.9 108.9 464.1 113.0M591.7 127.4Q593.2 130.9 590.7 133.8M450.8 96.9Q453.6 97.4 456.2 98.2M545.0 104.6Q546.4 106.5 548.5 107.8M615.0 156.3Q618.0 157.1 617.8 160.1M627.4 157.9Q623.7 159.9 625.2 163.9M500.2 101.0Q498.9 103.4 500.0 105.8" stroke="#505050" stroke-width="2.7"/><path d="M650.9 121.3Q645.3 120.6 643.7 125.9M644.0 104.0Q645.2 108.2 649.6 107.6M653.5 108.4Q655.8 112.1 658.0 116.0M651.9 102.6Q654.7 106.2 653.7 110.7M649.0 96.0Q649.7 102.0 655.7 101.6" stroke="#505050" stroke-width="3.2"/><path d="M276.9 93.9Q277.7 96.5 280.4 96.5M281.7 96.3Q283.4 94.3 285.4 95.9M337.6 96.7Q339.9 96.7 341.9 98.0M282.9 93.9Q281.6 94.6 281.3 96.1M370.5 110.9Q372.8 112.7 374.2 115.2M296.1 79.4Q295.9 82.0 294.7 84.2" stroke="#8c8c8c" stroke-width="1.5"/><path d="M513.4 114.6Q517.1 114.5 520.2 116.4" stroke="#8c8c8c" stroke-width="2.0"/><path d="M392.1 102.0Q393.4 103.8 393.7 106.0M276.1 81.6Q276.0 83.2 276.3 84.7M295.8 92.6Q297.2 93.6 297.6 95.4M351.6 100.9Q352.2 103.3 354.7 103.6M337.4 108.4Q339.3 107.1 340.9 108.7M236.7 90.0Q235.0 91.6 236.3 93.4M330.8 96.5Q332.6 97.4 334.2 96.2M381.1 104.4Q382.7 105.7 384.3 107.1M393.5 90.5Q395.6 93.4 398.5 91.5M292.3 72.2Q293.0 74.7 295.6 74.1M311.8 92.2Q311.4 93.6 311.6 95.1" stroke="#a0a0a0" stroke-width="1.5"/><path d="M549.6 111.3Q553.9 112.3 553.8 116.8M523.9 122.7Q527.3 121.9 529.0 124.9M492.9 122.9Q495.5 124.6 496.1 127.7M549.6 122.8Q550.1 126.2 553.5 126.9M542.5 127.3Q541.1 130.6 544.2 132.5M615.0 156.3Q618.0 157.1 617.8 160.1M627.4 157.9Q623.7 159.9 625.2 163.9" stroke="#a0a0a0" stroke-width="2.0"/><path d="M283.6 91.7Q283.8 94.4 282.5 96.7M242.5 87.9Q242.9 89.4 243.9 90.4M301.6 89.8Q300.0 91.3 301.1 93.3M339.9 78.9Q342.3 80.5 344.1 78.3M266.8 90.8Q266.5 93.5 269.0 94.7M242.7 78.0Q243.6 79.3 245.1 79.9M387.5 92.9Q388.9 94.4 389.0 96.5" stroke="#b4b4b4" stroke-width="1.5"/><path d="M613.9 155.0Q615.7 158.0 617.0 161.3M522.8 129.9Q524.6 132.4 522.7 134.8M632.4 134.1Q630.2 139.4 635.1 142.3M634.5 153.2Q636.2 155.5 637.8 157.9M432.6 119.7Q434.8 121.0 436.9 122.7M425.3 105.0Q423.8 107.0 425.4 108.9M483.1 121.2Q483.4 125.2 487.1 126.8M453.3 110.6Q452.8 114.0 453.0 117.6M475.3 125.8Q474.0 129.8 477.1 132.7M609.3 140.2Q612.7 143.6 609.8 147.4M516.1 104.9Q515.1 107.6 512.4 106.7M430.3 120.6Q428.0 122.0 427.5 124.6M628.9 146.0Q628.2 150.4 632.0 152.7M459.8 109.1Q463.9 108.9 464.1 113.0M591.7 127.4Q593.2 130.9 590.7 133.8" stroke="#b4b4b4" stroke-width="2.0"/><path d="M330.7 100.8Q331.4 102.4 332.4 103.7M304.7 83.4Q305.9 85.5 307.1 87.6M365.0 85.4Q362.5 87.5 362.2 90.8M360.5 85.1Q361.6 87.6 364.1 86.6M259.6 69.3Q259.4 71.5 261.6 71.8M270.9 82.2Q272.8 81.0 275.0 80.3M414.8 117.3Q412.1 118.5 411.7 121.5M389.2 74.7Q392.8 76.3 392.3 80.2M414.5 105.5Q416.8 107.2 419.0 108.9M349.2 93.0Q351.7 91.7 353.8 93.5M406.8 106.8Q404.2 108.9 406.1 111.6M407.0 90.0Q408.1 91.7 410.2 91.7M346.1 94.5Q345.8 96.5 344.3 98.0" stroke="#c8c8c8" stroke-width="1.5"/><path d="M640.9 130.1Q643.0 132.4 641.4 135.1M589.8 115.0Q591.3 117.6 592.5 120.2M634.0 120.0Q638.1 121.9 638.8 126.5M549.9 125.1Q553.4 125.6 556.0 127.9M641.1 148.4Q642.8 151.5 640.9 154.5M469.3 110.5Q471.4 111.4 472.9 109.8M537.1 102.0Q537.9 105.7 540.3 108.6M507.2 115.8Q507.5 118.5 510.1 119.1M431.9 105.5Q434.4 106.3 435.5 108.7M450.9 90.2Q450.1 92.5 451.6 94.4M486.4 94.1Q488.3 96.3 486.5 98.6M624.3 144.8Q626.8 146.3 629.7 146.1" stroke="#c8c8c8" stroke-width="2.0"/><path d="M650.9 121.3Q645.3 120.6 643.7 125.9M644.0 104.0Q645.2 108.2 649.6 107.6" stroke="#c8c8c8" stroke-width="2.5"/><path d="M373.2 75.4Q376.9 75.4 377.1 79.1M415.6 106.0Q419.8 107.9 418.1 112.2M395.3 75.6Q398.7 76.7 397.7 80.2M327.4 93.5Q326.7 96.2 324.4 97.9M288.3 73.2Q289.2 74.4 289.5 75.9M311.9 76.3Q315.0 74.3 317.5 77.1M291.7 70.3Q293.2 71.9 295.3 72.6" stroke="#dcdcdc" stroke-width="1.5"/><path d="M627.0 118.5Q629.1 121.0 630.3 124.0M552.4 93.9Q554.6 95.8 557.2 94.5M645.5 118.6Q645.8 121.1 646.1 123.7M468.4 101.1Q472.1 102.0 472.8 105.7M616.3 140.9Q619.9 143.0 622.1 146.5M640.2 114.9Q642.8 117.3 645.6 119.6M570.4 100.0Q574.1 103.0 572.6 107.4M550.0 92.7Q552.6 92.7 553.6 95.0M559.1 107.3Q560.8 110.0 561.3 113.2M597.0 117.5Q596.7 121.2 594.3 124.0M610.1 116.0Q612.3 117.8 614.3 119.9M621.8 134.7Q624.8 137.0 628.6 136.9M482.9 103.8Q481.5 105.8 482.5 108.1M530.3 123.4Q533.8 123.8 536.4 126.2M448.9 88.7Q450.1 91.1 452.4 92.5M481.8 118.3Q482.6 121.1 480.5 123.3M490.1 107.7Q492.4 109.4 493.9 111.7M563.2 102.7Q563.3 107.0 560.1 109.9M608.8 127.4Q611.6 129.6 609.4 132.4M626.4 118.9Q628.5 120.8 631.3 120.9M462.6 94.1Q465.9 92.4 469.4 93.5M450.8 96.9Q453.6 97.4 456.2 98.2M500.2 101.0Q498.9 103.4 500.0 105.8" stroke="#dcdcdc" stroke-width="2.0"/><path d="M402.8 85.9Q401.4 88.5 402.8 91.0" stroke="#f0f0f0" stroke-width="1.5"/><path d="M507.4 85.5Q508.2 89.4 504.5 90.7M561.0 121.0Q563.7 123.3 562.2 126.5M637.7 110.6Q636.2 113.7 634.8 116.9M601.5 130.5Q604.6 131.9 603.4 135.1M513.4 86.6Q511.2 90.8 514.7 94.0M543.8 108.8Q547.1 109.4 547.9 112.7M496.9 106.6Q501.0 106.6 502.9 110.2M564.0 88.4Q566.9 90.9 567.1 94.7M570.8 114.0Q572.0 116.1 571.8 118.6M527.5 138.6Q527.4 142.4 530.7 144.4M523.8 118.1Q525.5 119.3 527.3 120.2M520.6 97.8Q522.1 100.8 525.1 102.4M502.7 95.5Q505.5 99.2 509.9 97.8M495.5 85.5Q497.6 86.6 499.9 86.6M587.8 102.8Q591.5 102.9 594.0 105.6M457.1 101.3Q459.2 101.2 460.7 102.8" stroke="#f0f0f0" stroke-width="2.0"/><path d="M651.9 102.6Q654.7 106.2 653.7 110.7" stroke="#f0f0f0" stroke-width="2.5"/><path d="M391.8 85.1Q392.1 88.0 394.9 88.2M304.0 77.9Q305.7 79.4 307.9 79.4M381.1 75.8Q382.9 79.1 386.4 77.9M392.3 86.7Q391.7 89.2 393.0 91.3" stroke="#f5f5f5" stroke-width="1.5"/><path d="M459.4 96.0Q460.9 98.4 462.5 100.8M640.9 110.6Q640.6 114.0 643.6 115.5M460.4 112.8Q462.1 115.3 465.2 115.6M537.5 100.0Q535.4 103.3 534.4 107.1M460.9 102.7Q461.9 104.6 462.2 106.7M464.7 91.5Q465.6 93.6 467.8 93.7M430.6 95.9Q433.7 95.7 434.7 98.6M635.1 111.5Q633.5 114.9 634.2 118.7M434.7 85.2Q437.9 86.4 438.1 89.9M480.8 88.2Q483.8 88.3 486.7 88.1M628.8 111.1Q626.1 114.4 629.2 117.3M455.4 102.7Q457.5 104.0 458.1 106.4M545.0 104.6Q546.4 106.5 548.5 107.8" stroke="#f5f5f5" stroke-width="2.0"/><path d="M653.5 108.4Q655.8 112.1 658.0 116.0M649.0 96.0Q649.7 102.0 655.7 101.6" stroke="#f5f5f5" stroke-width="2.5"/><path d="M250.6 90.8Q249.7 92.5 251.3 93.5M327.0 90.5Q328.0 92.5 327.0 94.6M372.9 76.6Q371.4 78.9 373.3 80.8M229.5 82.3Q230.5 84.1 231.1 86.0M386.6 89.6Q388.3 91.1 390.4 90.2M328.6 90.8Q330.2 91.7 332.0 92.1M347.3 75.6Q349.1 75.8 350.1 77.2M294.8 75.4Q297.2 76.1 299.0 77.8M393.6 93.1Q392.7 95.7 394.1 98.0M279.1 77.9Q279.3 80.4 281.7 80.9M375.2 106.2Q377.5 107.1 379.8 106.4M374.9 105.1Q371.6 107.6 373.8 111.1M410.5 113.5Q410.6 115.2 410.6 116.9M268.5 88.3Q269.6 90.0 270.3 91.9M410.3 99.1Q412.6 100.6 415.3 101.6M337.6 83.4Q338.8 86.0 338.9 88.9M411.8 115.9Q414.7 117.2 417.9 117.1M254.6 86.8Q253.5 88.1 253.4 89.9M299.1 74.0Q300.2 75.1 300.8 76.5M377.2 85.7Q379.9 88.4 378.3 91.9M263.6 66.6Q265.3 69.0 263.8 71.5M338.1 101.3Q340.4 101.5 342.2 103.0M275.0 95.0Q275.6 96.7 277.4 97.1M322.5 76.7Q324.7 77.9 326.4 79.8M348.3 91.8Q350.9 92.3 352.4 94.4M350.6 102.5Q353.6 103.6 352.5 106.6M342.8 81.0Q345.7 81.7 348.7 81.4M360.2 102.1Q362.0 101.5 363.8 101.1M363.1 102.8Q364.8 103.9 365.4 105.9M352.1 110.9Q352.0 113.2 350.1 114.6M297.5 80.4Q295.5 81.4 295.5 83.8M373.2 113.5Q375.6 112.5 377.4 114.5M354.2 100.8Q356.1 101.0 357.8 101.6M411.2 81.7Q413.8 81.4 415.2 83.5M319.3 99.7Q321.7 100.7 321.9 103.2M365.3 97.0Q364.8 99.1 366.1 100.8M283.9 92.4Q286.0 92.7 286.2 94.7M392.8 90.1Q394.9 90.4 396.3 92.0M245.4 83.3Q247.4 84.8 248.3 87.2M274.3 90.1Q275.0 92.2 276.0 94.1M242.2 62.8Q242.2 65.9 245.2 66.6M267.2 84.3Q265.8 85.8 266.1 87.8M248.3 91.1Q248.3 92.6 247.2 93.5M331.8 94.8Q332.9 97.3 335.0 98.8M398.9 97.6Q397.1 99.7 399.1 101.6M366.4 86.5Q363.5 89.0 365.7 92.1M239.4 85.1Q240.1 86.8 241.1 88.2M283.9 80.4Q285.5 80.4 286.7 81.4M334.6 77.4Q335.3 79.7 337.7 80.0M319.4 102.0Q318.3 103.2 318.3 104.9M297.4 71.7Q297.0 73.9 295.5 75.5" stroke="#505050" stroke-width="2.2"/><path d="M504.1 96.5Q506.2 99.2 509.3 100.4M554.8 98.6Q553.6 102.2 557.1 103.6M633.4 137.9Q635.4 140.2 634.7 143.2M497.4 95.6Q499.2 99.0 502.6 100.9M609.0 123.2Q612.6 122.3 615.1 125.2M445.7 114.8Q446.9 117.9 450.1 117.9M481.8 125.3Q482.9 127.9 482.4 130.6M489.2 118.0Q492.6 120.0 492.7 123.9M630.4 161.7Q632.9 164.7 636.6 165.9M602.3 149.7Q600.7 152.0 601.1 154.7M479.7 123.9Q478.1 127.0 476.8 130.2M437.3 116.2Q438.6 118.2 438.0 120.5M601.2 105.0Q599.2 107.5 598.2 110.5M542.4 136.6Q543.5 138.6 545.3 140.0M488.0 88.4Q486.9 90.8 488.5 93.0M534.0 103.2Q531.5 107.9 536.2 110.4M570.0 98.6Q572.1 101.7 571.7 105.5M629.7 105.9Q632.1 107.5 631.0 110.2M502.2 107.8Q502.6 110.8 502.1 113.9M451.5 85.5Q449.2 87.7 450.7 90.5M451.9 99.4Q452.5 101.3 451.6 103.2M644.2 147.9Q647.5 149.9 646.3 153.6M577.7 115.0Q576.6 118.7 579.0 121.7M631.8 132.4Q633.9 134.4 635.6 136.7M591.2 109.5Q594.7 110.0 598.2 111.0M567.0 90.0Q567.4 94.1 571.2 95.7M537.7 130.1Q539.9 130.4 541.8 129.1M446.7 91.5Q449.9 89.3 452.5 92.0M598.1 109.5Q597.8 112.6 594.8 113.0M528.1 105.0Q530.7 108.3 534.8 107.2M572.4 112.8Q574.0 114.4 575.3 116.4M521.9 98.8Q520.1 101.0 519.2 103.7M642.8 146.2Q643.6 150.4 641.9 154.3M624.6 109.7Q628.3 111.7 632.0 114.0M453.6 87.2Q453.5 89.6 453.7 92.0M436.2 119.4Q436.4 123.5 440.5 123.5M603.1 126.8Q608.5 126.2 610.0 131.4M641.1 103.7Q643.8 107.0 647.8 108.5M496.8 109.8Q494.8 112.6 495.0 116.0M564.0 96.3Q566.4 99.1 564.7 102.4M502.9 115.5Q504.6 116.9 506.6 118.1M542.3 142.5Q544.6 145.2 544.3 148.8M638.6 151.3Q642.2 153.5 645.1 150.5M528.8 136.9Q528.7 140.6 532.2 141.9M536.5 109.0Q534.7 111.0 533.6 113.4M630.1 131.7Q633.4 134.1 632.5 138.1M562.2 119.4Q561.3 124.0 565.8 125.2M475.7 132.4Q478.7 134.2 478.6 137.6M554.4 99.4Q553.5 103.4 556.5 106.2M619.7 126.6Q619.5 130.5 623.1 132.2M476.2 93.9Q475.2 96.6 477.8 97.8M546.0 111.0Q544.4 114.3 542.7 117.6M444.5 85.9Q446.6 87.1 448.7 88.4M598.4 127.5Q596.8 130.4 597.0 133.8M548.0 95.6Q548.9 97.8 548.9 100.2M550.5 135.5Q551.9 137.3 553.2 139.3M518.9 90.8Q518.8 93.2 518.6 95.6M552.5 118.5Q553.7 121.2 556.4 122.5M610.6 113.4Q615.0 113.3 617.8 116.6M439.6 101.0Q442.8 99.4 444.6 102.4M549.3 95.2Q546.8 98.2 547.7 102.0M592.6 135.6Q589.8 140.6 594.5 143.7M598.6 153.8Q603.0 151.3 606.6 154.8M528.6 109.3Q527.4 111.7 529.6 113.3M604.5 110.9Q608.2 110.3 609.9 113.6M526.5 137.9Q529.0 141.0 526.9 144.4M473.8 123.3Q476.1 121.3 479.1 121.8M473.5 88.7Q474.3 91.4 476.7 92.9M523.4 108.5Q525.5 110.0 526.8 112.3M611.0 119.5Q607.8 123.7 611.0 127.9M626.3 134.2Q628.3 136.0 630.2 137.8M468.4 89.0Q471.0 91.9 468.7 95.0M598.0 133.6Q596.4 137.5 595.8 141.7M614.2 114.9Q617.6 117.6 619.1 121.7M449.4 107.3Q447.9 108.9 448.6 110.9M624.0 150.9Q626.6 152.4 625.5 155.2M550.7 127.0Q554.2 127.6 554.0 131.2M553.5 100.1Q556.4 102.2 557.6 105.5M482.3 104.8Q483.0 107.8 485.5 109.7M562.2 96.7Q562.3 100.8 564.9 103.9M605.0 154.4Q608.3 154.9 608.4 158.2M582.7 128.1Q583.9 130.3 586.4 130.8M509.4 92.4Q511.8 95.2 515.4 96.0M480.8 128.7Q481.4 132.8 485.3 133.8M539.5 112.9Q542.9 116.2 540.9 120.5M468.7 97.7Q471.5 96.1 474.0 98.0M546.2 100.4Q549.8 100.8 550.7 104.2M450.1 108.8Q449.6 111.6 447.9 113.8" stroke="#505050" stroke-width="2.7"/><path d="M651.3 104.8Q652.5 107.3 655.1 108.3M653.3 144.2Q658.1 142.7 659.7 147.5" stroke="#505050" stroke-width="3.2"/><path d="M229.5 82.3Q230.5 84.1 231.1 86.0M410.5 113.5Q410.6 115.2 410.6 116.9M248.3 91.1Q248.3 92.6 247.2 93.5M239.4 85.1Q240.1 86.8 241.1 88.2" stroke="#8c8c8c" stroke-width="1.5"/><path d="M436.2 119.4Q436.4 123.5 440.5 123.5M480.8 128.7Q481.4 132.8 485.3 133.8" stroke="#8c8c8c" stroke-width="2.0"/><path d="M279.1 77.9Q279.3 80.4 281.7 80.9M338.1 101.3Q340.4 101.5 342.2 103.0M275.0 95.0Q275.6 96.7 277.4 97.1M352.1 110.9Q352.0 113.2 350.1 114.6M373.2 113.5Q375.6 112.5 377.4 114.5M354.2 100.8Q356.1 101.0 357.8 101.6M319.3 99.7Q321.7 100.7 321.9 103.2M365.3 97.0Q364.8 99.1 366.1 100.8M267.2 84.3Q265.8 85.8 266.1 87.8M319.4 102.0Q318.3 103.2 318.3 104.9" stroke="#a0a0a0" stroke-width="1.5"/><path d="M445.7 114.8Q446.9 117.9 450.1 117.9M602.3 149.7Q600.7 152.0 601.1 154.7M479.7 123.9Q478.1 127.0 476.8 130.2M437.3 116.2Q438.6 118.2 438.0 120.5M638.6 151.3Q642.2 153.5 645.1 150.5M550.5 135.5Q551.9 137.3 553.2 139.3M598.6 153.8Q603.0 151.3 606.6 154.8M449.4 107.3Q447.9 108.9 448.6 110.9M605.0 154.4Q608.3 154.9 608.4 158.2" stroke="#a0a0a0" stroke-width="2.0"/><path d="M250.6 90.8Q249.7 92.5 251.3 93.5M327.0 90.5Q328.0 92.5 327.0 94.6M386.6 89.6Q388.3 91.1 390.4 90.2M328.6 90.8Q330.2 91.7 332.0 92.1M337.6 83.4Q338.8 86.0 338.9 88.9M350.6 102.5Q353.6 103.6 352.5 106.6M360.2 102.1Q362.0 101.5 363.8 101.1M363.1 102.8Q364.8 103.9 365.4 105.9M283.9 92.4Q286.0 92.7 286.2 94.7M392.8 90.1Q394.9 90.4 396.3 92.0M398.9 97.6Q397.1 99.7 399.1 101.6M283.9 80.4Q285.5 80.4 286.7 81.4" stroke="#b4b4b4" stroke-width="1.5"/><path d="M489.2 118.0Q492.6 120.0 492.7 123.9M542.4 136.6Q543.5 138.6 545.3 140.0M451.5 85.5Q449.2 87.7 450.7 90.5M577.7 115.0Q576.6 118.7 579.0 121.7M537.7 130.1Q539.9 130.4 541.8 129.1M446.7 91.5Q449.9 89.3 452.5 92.0M642.8 146.2Q643.6 150.4 641.9 154.3M603.1 126.8Q608.5 126.2 610.0 131.4M502.9 115.5Q504.6 116.9 506.6 118.1M542.3 142.5Q544.6 145.2 544.3 148.8M528.8 136.9Q528.7 140.6 532.2 141.9M619.7 126.6Q619.5 130.5 623.1 132.2M546.0 111.0Q544.4 114.3 542.7 117.6M598.4 127.5Q596.8 130.4 597.0 133.8M548.0 95.6Q548.9 97.8 548.9 100.2M552.5 118.5Q553.7 121.2 556.4 122.5M592.6 135.6Q589.8 140.6 594.5 143.7M526.5 137.9Q529.0 141.0 526.9 144.4M626.3 134.2Q628.3 136.0 630.2 137.8M550.7 127.0Q554.2 127.6 554.0 131.2M582.7 128.1Q583.9 130.3 586.4 130.8M539.5 112.9Q542.9 116.2 540.9 120.5M468.7 97.7Q471.5 96.1 474.0 98.0" stroke="#b4b4b4" stroke-width="2.0"/><path d="M393.6 93.1Q392.7 95.7 394.1 98.0M375.2 106.2Q377.5 107.1 379.8 106.4M268.5 88.3Q269.6 90.0 270.3 91.9M411.8 115.9Q414.7 117.2 417.9 117.1M254.6 86.8Q253.5 88.1 253.4 89.9M299.1 74.0Q300.2 75.1 300.8 76.5M377.2 85.7Q379.9 88.4 378.3 91.9M263.6 66.6Q265.3 69.0 263.8 71.5M322.5 76.7Q324.7 77.9 326.4 79.8M348.3 91.8Q350.9 92.3 352.4 94.4M297.5 80.4Q295.5 81.4 295.5 83.8M245.4 83.3Q247.4 84.8 248.3 87.2M274.3 90.1Q275.0 92.2 276.0 94.1M366.4 86.5Q363.5 89.0 365.7 92.1" stroke="#c8c8c8" stroke-width="1.5"/><path d="M633.4 137.9Q635.4 140.2 634.7 143.2M497.4 95.6Q499.2 99.0 502.6 100.9M481.8 125.3Q482.9 127.9 482.4 130.6M630.4 161.7Q632.9 164.7 636.6 165.9M644.2 147.9Q647.5 149.9 646.3 153.6M631.8 132.4Q633.9 134.4 635.6 136.7M591.2 109.5Q594.7 110.0 598.2 111.0M598.1 109.5Q597.8 112.6 594.8 113.0M641.1 103.7Q643.8 107.0 647.8 108.5M496.8 109.8Q494.8 112.6 495.0 116.0M630.1 131.7Q633.4 134.1 632.5 138.1M562.2 119.4Q561.3 124.0 565.8 125.2M475.7 132.4Q478.7 134.2 478.6 137.6M554.4 99.4Q553.5 103.4 556.5 106.2M476.2 93.9Q475.2 96.6 477.8 97.8M444.5 85.9Q446.6 87.1 448.7 88.4M610.6 113.4Q615.0 113.3 617.8 116.6M439.6 101.0Q442.8 99.4 444.6 102.4M549.3 95.2Q546.8 98.2 547.7 102.0M528.6 109.3Q527.4 111.7 529.6 113.3M473.8 123.3Q476.1 121.3 479.1 121.8M598.0 133.6Q596.4 137.5 595.8 141.7M614.2 114.9Q617.6 117.6 619.1 121.7M624.0 150.9Q626.6 152.4 625.5 155.2M482.3 104.8Q483.0 107.8 485.5 109.7" stroke="#c8c8c8" stroke-width="2.0"/><path d="M374.9 105.1Q371.6 107.6 373.8 111.1M410.3 99.1Q412.6 100.6 415.3 101.6M331.8 94.8Q332.9 97.3 335.0 98.8M297.4 71.7Q297.0 73.9 295.5 75.5" stroke="#dcdcdc" stroke-width="1.5"/><path d="M504.1 96.5Q506.2 99.2 509.3 100.4M609.0 123.2Q612.6 122.3 615.1 125.2M488.0 88.4Q486.9 90.8 488.5 93.0M534.0 103.2Q531.5 107.9 536.2 110.4M629.7 105.9Q632.1 107.5 631.0 110.2M502.2 107.8Q502.6 110.8 502.1 113.9M528.1 105.0Q530.7 108.3 534.8 107.2M572.4 112.8Q574.0 114.4 575.3 116.4M624.6 109.7Q628.3 111.7 632.0 114.0M453.6 87.2Q453.5 89.6 453.7 92.0M564.0 96.3Q566.4 99.1 564.7 102.4M604.5 110.9Q608.2 110.3 609.9 113.6M473.5 88.7Q474.3 91.4 476.7 92.9M523.4 108.5Q525.5 110.0 526.8 112.3M553.5 100.1Q556.4 102.2 557.6 105.5M509.4 92.4Q511.8 95.2 515.4 96.0M450.1 108.8Q449.6 111.6 447.9 113.8" stroke="#dcdcdc" stroke-width="2.0"/><path d="M653.3 144.2Q658.1 142.7 659.7 147.5" stroke="#dcdcdc" stroke-width="2.5"/><path d="M342.8 81.0Q345.7 81.7 348.7 81.4M411.2 81.7Q413.8 81.4 415.2 83.5M242.2 62.8Q242.2 65.9 245.2 66.6M334.6 77.4Q335.3 79.7 337.7 80.0" stroke="#f0f0f0" stroke-width="1.5"/><path d="M601.2 105.0Q599.2 107.5 598.2 110.5M521.9 98.8Q520.1 101.0 519.2 103.7M518.9 90.8Q518.8 93.2 518.6 95.6M611.0 119.5Q607.8 123.7 611.0 127.9M468.4 89.0Q471.0 91.9 468.7 95.0M546.2 100.4Q549.8 100.8 550.7 104.2" stroke="#f0f0f0" stroke-width="2.0"/><path d="M651.3 104.8Q652.5 107.3 655.1 108.3" stroke="#f0f0f0" stroke-width="2.5"/><path d="M372.9 76.6Q371.4 78.9 373.3 80.8M347.3 75.6Q349.1 75.8 350.1 77.2M294.8 75.4Q297.2 76.1 299.0 77.8" stroke="#f5f5f5" stroke-width="1.5"/><path d="M554.8 98.6Q553.6 102.2 557.1 103.6M570.0 98.6Q572.1 101.7 571.7 105.5M451.9 99.4Q452.5 101.3 451.6 103.2M567.0 90.0Q567.4 94.1 571.2 95.7M536.5 109.0Q534.7 111.0 533.6 113.4M562.2 96.7Q562.3 100.8 564.9 103.9" stroke="#f5f5f5" stroke-width="2.0"/><path d="M385.8 81.7Q388.5 83.9 387.6 87.3M249.1 86.2Q249.4 87.9 250.9 88.8M266.3 91.1Q263.3 92.7 264.9 95.7M307.8 98.8Q308.6 100.2 309.8 101.1M241.5 82.0Q241.7 83.8 243.4 84.3M314.6 91.9Q316.9 91.6 319.2 91.3M300.7 96.4Q304.2 97.1 304.1 100.6M309.2 71.4Q310.7 72.6 312.3 73.6M358.7 77.0Q359.1 78.7 360.2 80.1M392.6 104.9Q392.8 107.3 392.9 109.7M244.0 91.5Q246.1 90.7 248.5 90.5M362.8 84.5Q359.8 87.0 361.9 90.3M406.1 107.3Q404.9 109.3 406.4 111.1M369.2 81.0Q370.6 83.3 369.1 85.6M418.5 87.4Q416.5 89.4 418.3 91.5M325.8 93.6Q328.6 94.9 327.5 97.8M267.1 91.4Q267.6 93.1 266.1 94.1M386.9 104.1Q387.7 107.3 385.8 110.0M409.3 85.0Q410.0 87.3 410.5 89.6M249.4 83.6Q250.7 84.8 250.0 86.3M256.8 80.4Q259.7 81.1 259.4 84.0M282.3 96.1Q283.3 97.9 285.4 98.1M422.1 89.9Q421.3 92.5 422.3 95.1M376.8 94.5Q378.8 95.2 378.8 97.3M336.7 77.4Q339.0 79.2 337.3 81.6M275.9 68.3Q275.3 70.7 277.0 72.4M346.9 106.5Q346.4 109.6 349.3 110.7M309.1 91.6Q308.0 94.5 310.1 96.8M332.7 83.8Q331.8 85.5 332.2 87.5M231.0 83.6Q231.2 85.9 232.9 87.3M417.6 94.6Q416.2 97.4 413.0 97.7M310.8 89.3Q308.6 90.6 309.2 93.1M416.7 100.7Q415.8 104.1 417.3 107.4M271.4 66.0Q270.5 68.8 272.8 70.7M414.5 107.3Q416.2 107.9 417.5 109.2M286.3 71.6Q289.4 72.8 288.8 76.2M418.2 122.7Q419.5 124.6 419.5 126.9M315.7 82.7Q318.1 83.8 317.7 86.4M392.3 108.0Q392.1 110.1 393.6 111.7M385.5 87.1Q384.7 90.0 382.3 91.9M397.0 102.8Q399.4 104.1 400.4 106.5M278.1 65.7Q277.8 69.0 274.6 69.6M267.7 90.8Q269.5 91.5 270.5 93.1" stroke="#505050" stroke-width="2.2"/><path d="M594.6 110.8Q596.8 110.9 598.8 111.8M554.7 109.2Q556.1 111.3 557.7 113.3M618.8 153.9Q621.4 155.5 622.7 158.4M521.5 113.6Q521.1 115.5 521.3 117.5M494.3 98.6Q492.5 99.3 491.3 100.8M462.7 108.9Q461.3 110.4 461.8 112.4M543.6 108.3Q544.0 111.7 547.1 112.8M439.1 96.2Q439.2 99.4 436.6 101.2M566.9 128.1Q565.8 131.3 568.8 132.9M613.6 151.1Q611.7 156.0 616.3 158.3M526.5 134.0Q529.3 133.6 530.6 136.1M503.0 87.8Q504.1 91.0 501.9 93.6M640.7 121.0Q641.8 123.3 641.4 125.8M457.6 120.3Q457.4 124.5 461.4 126.0M592.4 119.4Q596.6 119.6 600.1 121.8M562.0 110.5Q563.7 114.0 566.3 117.0M474.7 112.9Q477.4 113.8 479.1 116.0M433.0 112.9Q436.0 115.6 434.8 119.4M521.3 127.3Q524.3 126.8 526.4 129.0M481.6 98.5Q481.0 101.6 483.7 103.0M602.4 123.0Q604.6 124.7 604.0 127.3M444.7 108.0Q448.0 107.0 451.4 107.9M586.1 123.9Q586.5 126.3 584.9 128.1M594.3 98.7Q599.6 101.4 597.1 106.7M518.1 104.7Q522.1 106.6 520.3 110.7M490.5 82.7Q490.9 85.9 493.1 88.1M495.6 96.5Q498.1 96.3 499.2 98.5M464.6 124.9Q466.9 124.5 469.2 125.0M561.9 107.2Q559.9 109.5 561.1 112.2M429.0 92.1Q431.3 91.1 433.1 92.8M618.6 125.0Q619.2 128.3 619.7 131.7M595.6 138.4Q592.4 139.2 591.6 142.5M568.2 123.2Q564.1 125.8 566.3 130.0M608.1 125.4Q609.6 130.2 604.9 132.0M540.7 145.1Q541.3 148.1 544.4 148.5M586.4 120.6Q590.4 119.3 594.5 119.1M572.1 95.7Q571.6 99.3 575.2 100.5M503.0 83.5Q500.7 86.7 503.1 89.8M440.8 97.4Q443.3 97.1 444.6 99.2M592.7 118.0Q594.1 120.5 595.7 122.9M459.8 104.0Q463.1 107.5 459.7 110.9M488.2 113.7Q490.4 116.2 489.8 119.5M600.6 130.5Q601.9 134.4 606.0 134.9M616.1 160.7Q615.2 163.7 615.2 166.9M551.5 110.7Q553.1 112.7 554.8 114.6M501.1 115.6Q505.5 116.3 505.4 120.8M559.5 87.0Q562.5 89.8 563.1 93.8M447.4 96.0Q447.6 98.5 446.1 100.5M443.5 84.8Q445.8 87.0 448.9 87.7M424.9 116.6Q427.2 114.7 429.7 116.3M564.6 121.5Q565.9 124.0 565.8 126.8M586.8 96.2Q590.1 98.5 590.0 102.4M549.9 135.2Q548.6 139.9 553.0 141.8M433.9 79.5Q435.6 80.4 436.5 82.2M443.2 93.2Q440.3 96.2 443.0 99.4M475.2 87.1Q477.5 88.8 480.0 90.3M540.4 108.5Q540.8 111.7 543.9 112.4M643.6 113.5Q642.3 117.0 643.4 120.6M616.0 117.8Q618.2 121.3 617.7 125.4M593.7 109.4Q595.6 111.5 594.5 114.0M595.0 104.6Q597.4 107.8 601.5 108.4M630.9 129.9Q633.5 131.3 632.8 134.1M556.6 133.9Q562.0 133.2 563.1 138.5M427.4 86.4Q428.6 87.6 430.3 88.4M592.1 129.0Q589.2 132.8 592.3 136.5M435.6 105.7Q436.5 108.6 434.2 110.6M536.3 137.5Q538.9 139.5 541.7 137.9M473.7 93.1Q474.5 95.7 475.3 98.3M547.2 113.3Q549.3 114.6 551.7 114.8M506.3 101.6Q509.9 99.6 513.1 102.3M481.6 85.9Q484.9 85.3 485.6 88.6M474.3 104.3Q476.6 103.4 478.9 104.5M607.4 105.5Q603.3 108.3 604.7 113.0M518.8 109.2Q519.9 112.0 522.9 112.0M518.3 95.3Q522.6 94.6 523.9 98.7M436.3 110.4Q439.0 113.9 442.6 111.2M426.2 122.7Q427.0 125.1 426.9 127.6M639.2 118.1Q641.8 119.6 644.4 118.3M426.5 127.2Q429.0 127.6 431.0 129.0M525.9 102.1Q526.0 107.0 530.9 107.3M491.3 87.1Q492.2 89.5 490.8 91.7M640.0 113.9Q641.6 116.8 641.8 120.2M462.2 114.9Q465.7 113.2 467.9 116.4M604.8 119.2Q606.5 122.8 606.6 126.7M576.6 104.6Q578.5 105.9 580.5 106.9M549.2 135.5Q552.3 138.2 551.8 142.3M465.4 121.8Q464.7 124.5 466.4 126.7M449.7 92.1Q449.2 94.3 451.2 95.4M634.7 144.3Q639.5 144.3 640.3 149.0M521.6 109.5Q523.9 112.2 526.7 114.4M469.4 93.1Q471.2 95.1 471.1 97.7M496.0 108.2Q496.5 111.0 494.6 113.1M563.2 113.6Q567.0 114.4 566.8 118.3" stroke="#505050" stroke-width="2.7"/><path d="M655.6 116.3Q657.8 117.6 658.9 119.9M648.9 99.2Q650.6 101.5 649.1 104.1M649.8 140.5Q653.4 142.8 657.6 143.9M656.2 114.9Q657.0 117.1 658.3 119.1M656.2 127.0Q656.1 131.8 659.8 134.8" stroke="#505050" stroke-width="3.2"/><path d="M244.0 91.5Q246.1 90.7 248.5 90.5M267.1 91.4Q267.6 93.1 266.1 94.1" stroke="#787878" stroke-width="1.5"/><path d="M266.3 91.1Q263.3 92.7 264.9 95.7M241.5 82.0Q241.7 83.8 243.4 84.3M310.8 89.3Q308.6 90.6 309.2 93.1M397.0 102.8Q399.4 104.1 400.4 106.5" stroke="#8c8c8c" stroke-width="1.5"/><path d="M521.5 113.6Q521.1 115.5 521.3 117.5M549.9 135.2Q548.6 139.9 553.0 141.8M556.6 133.9Q562.0 133.2 563.1 138.5" stroke="#8c8c8c" stroke-width="2.0"/><path d="M249.1 86.2Q249.4 87.9 250.9 88.8M307.8 98.8Q308.6 100.2 309.8 101.1M249.4 83.6Q250.7 84.8 250.0 86.3M256.8 80.4Q259.7 81.1 259.4 84.0M282.3 96.1Q283.3 97.9 285.4 98.1M346.9 106.5Q346.4 109.6 349.3 110.7M231.0 83.6Q231.2 85.9 232.9 87.3M418.2 122.7Q419.5 124.6 419.5 126.9" stroke="#a0a0a0" stroke-width="1.5"/><path d="M462.7 108.9Q461.3 110.4 461.8 112.4M526.5 134.0Q529.3 133.6 530.6 136.1M457.6 120.3Q457.4 124.5 461.4 126.0M490.5 82.7Q490.9 85.9 493.1 88.1M540.7 145.1Q541.3 148.1 544.4 148.5M586.8 96.2Q590.1 98.5 590.0 102.4M630.9 129.9Q633.5 131.3 632.8 134.1M521.6 109.5Q523.9 112.2 526.7 114.4" stroke="#a0a0a0" stroke-width="2.0"/><path d="M300.7 96.4Q304.2 97.1 304.1 100.6M325.8 93.6Q328.6 94.9 327.5 97.8M386.9 104.1Q387.7 107.3 385.8 110.0M376.8 94.5Q378.8 95.2 378.8 97.3M309.1 91.6Q308.0 94.5 310.1 96.8M416.7 100.7Q415.8 104.1 417.3 107.4M271.4 66.0Q270.5 68.8 272.8 70.7M267.7 90.8Q269.5 91.5 270.5 93.1" stroke="#b4b4b4" stroke-width="1.5"/><path d="M618.8 153.9Q621.4 155.5 622.7 158.4M613.6 151.1Q611.7 156.0 616.3 158.3M562.0 110.5Q563.7 114.0 566.3 117.0M474.7 112.9Q477.4 113.8 479.1 116.0M521.3 127.3Q524.3 126.8 526.4 129.0M602.4 123.0Q604.6 124.7 604.0 127.3M586.1 123.9Q586.5 126.3 584.9 128.1M429.0 92.1Q431.3 91.1 433.1 92.8M551.5 110.7Q553.1 112.7 554.8 114.6M501.1 115.6Q505.5 116.3 505.4 120.8M564.6 121.5Q565.9 124.0 565.8 126.8M443.2 93.2Q440.3 96.2 443.0 99.4M639.2 118.1Q641.8 119.6 644.4 118.3M426.5 127.2Q429.0 127.6 431.0 129.0M462.2 114.9Q465.7 113.2 467.9 116.4M563.2 113.6Q567.0 114.4 566.8 118.3" stroke="#b4b4b4" stroke-width="2.0"/><path d="M649.8 140.5Q653.4 142.8 657.6 143.9" stroke="#b4b4b4" stroke-width="2.5"/><path d="M314.6 91.9Q316.9 91.6 319.2 91.3M392.6 104.9Q392.8 107.3 392.9 109.7M362.8 84.5Q359.8 87.0 361.9 90.3M369.2 81.0Q370.6 83.3 369.1 85.6M332.7 83.8Q331.8 85.5 332.2 87.5M414.5 107.3Q416.2 107.9 417.5 109.2M392.3 108.0Q392.1 110.1 393.6 111.7M385.5 87.1Q384.7 90.0 382.3 91.9" stroke="#c8c8c8" stroke-width="1.5"/><path d="M494.3 98.6Q492.5 99.3 491.3 100.8M444.7 108.0Q448.0 107.0 451.4 107.9M561.9 107.2Q559.9 109.5 561.1 112.2M488.2 113.7Q490.4 116.2 489.8 119.5M447.4 96.0Q447.6 98.5 446.1 100.5M424.9 116.6Q427.2 114.7 429.7 116.3M643.6 113.5Q642.3 117.0 643.4 120.6M616.0 117.8Q618.2 121.3 617.7 125.4M427.4 86.4Q428.6 87.6 430.3 88.4M536.3 137.5Q538.9 139.5 541.7 137.9M473.7 93.1Q474.5 95.7 475.3 98.3M506.3 101.6Q509.9 99.6 513.1 102.3M474.3 104.3Q476.6 103.4 478.9 104.5M426.2 122.7Q427.0 125.1 426.9 127.6M640.0 113.9Q641.6 116.8 641.8 120.2M634.7 144.3Q639.5 144.3 640.3 149.0M469.4 93.1Q471.2 95.1 471.1 97.7" stroke="#c8c8c8" stroke-width="2.0"/><path d="M656.2 127.0Q656.1 131.8 659.8 134.8" stroke="#c8c8c8" stroke-width="2.5"/><path d="M309.2 71.4Q310.7 72.6 312.3 73.6M406.1 107.3Q404.9 109.3 406.4 111.1M418.5 87.4Q416.5 89.4 418.3 91.5M422.1 89.9Q421.3 92.5 422.3 95.1M336.7 77.4Q339.0 79.2 337.3 81.6M315.7 82.7Q318.1 83.8 317.7 86.4" stroke="#dcdcdc" stroke-width="1.5"/><path d="M439.1 96.2Q439.2 99.4 436.6 101.2M566.9 128.1Q565.8 131.3 568.8 132.9M433.0 112.9Q436.0 115.6 434.8 119.4M481.6 98.5Q481.0 101.6 483.7 103.0M594.3 98.7Q599.6 101.4 597.1 106.7M518.1 104.7Q522.1 106.6 520.3 110.7M464.6 124.9Q466.9 124.5 469.2 125.0M618.6 125.0Q619.2 128.3 619.7 131.7M595.6 138.4Q592.4 139.2 591.6 142.5M568.2 123.2Q564.1 125.8 566.3 130.0M608.1 125.4Q609.6 130.2 604.9 132.0M586.4 120.6Q590.4 119.3 594.5 119.1M572.1 95.7Q571.6 99.3 575.2 100.5M503.0 83.5Q500.7 86.7 503.1 89.8M440.8 97.4Q443.3 97.1 444.6 99.2M616.1 160.7Q615.2 163.7 615.2 166.9M559.5 87.0Q562.5 89.8 563.1 93.8M540.4 108.5Q540.8 111.7 543.9 112.4M595.0 104.6Q597.4 107.8 601.5 108.4M435.6 105.7Q436.5 108.6 434.2 110.6M547.2 113.3Q549.3 114.6 551.7 114.8M518.8 109.2Q519.9 112.0 522.9 112.0M491.3 87.1Q492.2 89.5 490.8 91.7M549.2 135.5Q552.3 138.2 551.8 142.3" stroke="#dcdcdc" stroke-width="2.0"/><path d="M655.6 116.3Q657.8 117.6 658.9 119.9M648.9 99.2Q650.6 101.5 649.1 104.1" stroke="#dcdcdc" stroke-width="2.5"/><path d="M385.8 81.7Q388.5 83.9 387.6 87.3M358.7 77.0Q359.1 78.7 360.2 80.1M409.3 85.0Q410.0 87.3 410.5 89.6M275.9 68.3Q275.3 70.7 277.0 72.4M417.6 94.6Q416.2 97.4 413.0 97.7M278.1 65.7Q277.8 69.0 274.6 69.6" stroke="#f0f0f0" stroke-width="1.5"/><path d="M543.6 108.3Q544.0 111.7 547.1 112.8M640.7 121.0Q641.8 123.3 641.4 125.8M592.7 118.0Q594.1 120.5 595.7 122.9M600.6 130.5Q601.9 134.4 606.0 134.9M433.9 79.5Q435.6 80.4 436.5 82.2M475.2 87.1Q477.5 88.8 480.0 90.3M592.1 129.0Q589.2 132.8 592.3 136.5M481.6 85.9Q484.9 85.3 485.6 88.6M518.3 95.3Q522.6 94.6 523.9 98.7M436.3 110.4Q439.0 113.9 442.6 111.2M604.8 119.2Q606.5 122.8 606.6 126.7M576.6 104.6Q578.5 105.9 580.5 106.9M465.4 121.8Q464.7 124.5 466.4 126.7M449.7 92.1Q449.2 94.3 451.2 95.4M496.0 108.2Q496.5 111.0 494.6 113.1" stroke="#f0f0f0" stroke-width="2.0"/><path d="M656.2 114.9Q657.0 117.1 658.3 119.1" stroke="#f0f0f0" stroke-width="2.5"/><path d="M286.3 71.6Q289.4 72.8 288.8 76.2" stroke="#f5f5f5" stroke-width="1.5"/><path d="M594.6 110.8Q596.8 110.9 598.8 111.8M554.7 109.2Q556.1 111.3 557.7 113.3M503.0 87.8Q504.1 91.0 501.9 93.6M592.4 119.4Q596.6 119.6 600.1 121.8M495.6 96.5Q498.1 96.3 499.2 98.5M459.8 104.0Q463.1 107.5 459.7 110.9M443.5 84.8Q445.8 87.0 448.9 87.7M593.7 109.4Q595.6 111.5 594.5 114.0M607.4 105.5Q603.3 108.3 604.7 113.0M525.9 102.1Q526.0 107.0 530.9 107.3" stroke="#f5f5f5" stroke-width="2.0"/><path d="M373.3 101.5Q372.6 104.0 372.8 106.6M381.7 103.8Q384.8 104.6 387.0 106.9M250.0 70.6Q251.2 71.4 251.7 72.9M406.6 91.7Q408.6 94.8 412.1 93.9M393.3 77.0Q395.5 77.1 396.7 79.1M274.2 72.9Q277.0 73.1 277.7 75.8M419.9 99.1Q418.6 101.7 419.0 104.7M240.2 86.5Q241.6 85.8 243.1 85.1M330.4 85.8Q328.5 88.1 329.8 90.8M341.0 98.1Q338.2 99.1 337.6 102.0M340.3 81.3Q343.6 80.0 345.3 83.0M303.1 72.2Q304.9 72.8 306.8 73.2M265.3 69.6Q266.9 70.8 266.4 72.7M272.2 69.1Q274.4 70.1 276.2 71.7M325.6 83.4Q326.8 85.9 328.8 87.7M332.8 78.8Q333.5 80.1 333.9 81.6M308.6 70.2Q310.0 71.2 310.1 72.9M315.9 82.9Q319.2 82.2 320.2 85.4M287.2 75.4Q289.3 74.9 291.2 73.7M339.9 86.3Q339.9 88.9 342.6 88.9M368.2 89.0Q371.3 89.8 373.4 87.5M383.8 97.1Q384.7 98.8 386.4 99.7M379.6 82.9Q376.9 85.7 378.8 89.1M334.8 86.8Q337.7 87.0 340.5 87.5M230.5 78.3Q230.0 81.4 233.0 82.3M395.8 97.3Q398.4 98.0 401.1 97.8M415.3 114.9Q418.1 115.3 421.0 115.9M328.6 96.0Q329.2 98.8 330.8 101.1M329.1 78.8Q328.4 81.1 329.3 83.2M331.4 86.8Q331.0 88.3 331.3 89.9M269.4 93.3Q270.4 95.7 271.1 98.2M258.4 69.7Q260.4 70.4 260.7 72.4M234.1 62.1Q235.4 64.0 234.9 66.3M390.3 78.8Q391.3 81.4 393.2 83.4M238.8 82.6Q241.1 83.1 242.4 85.1M377.1 97.5Q379.1 100.9 382.5 98.9M417.2 93.6Q419.0 95.5 421.5 94.7M412.1 99.8Q409.9 101.1 409.0 103.6M258.3 69.4Q259.1 71.8 261.5 72.4M375.8 88.8Q376.3 92.3 373.2 94.0M315.6 92.2Q316.1 94.0 317.9 94.1M282.7 87.2Q285.2 87.3 285.3 89.9M290.6 84.4Q290.8 87.2 292.6 89.4M251.8 84.3Q254.5 85.5 254.1 88.4M295.6 88.0Q294.0 89.3 295.4 90.9M269.8 88.8Q271.2 91.0 273.6 91.9M232.7 65.6Q233.0 67.7 234.7 68.8M413.9 103.3Q412.7 107.4 416.6 109.0M371.4 112.6Q373.4 112.3 375.3 112.8M360.6 104.1Q362.5 103.6 364.5 103.6M267.8 71.5Q269.2 73.7 271.4 75.1M236.0 68.3Q235.7 69.7 234.4 70.3M286.2 87.0Q286.1 89.8 287.9 91.9M314.4 78.4Q314.9 80.0 313.8 81.4M305.0 87.3Q307.9 89.3 306.4 92.5M386.1 87.3Q388.4 87.2 388.8 89.4M255.7 73.0Q257.0 73.7 258.0 74.9M255.9 80.9Q255.5 82.3 255.0 83.6M365.4 93.1Q366.3 96.5 369.6 97.5M415.6 85.5Q417.7 88.1 419.6 90.9" stroke="#505050" stroke-width="2.2"/><path d="M619.3 154.8Q621.5 151.1 625.4 152.8M525.8 129.2Q529.9 132.1 527.4 136.5M494.9 90.3Q496.2 93.5 494.5 96.5M624.7 109.3Q625.3 112.4 628.0 114.2M568.7 126.6Q571.9 129.6 570.5 133.7M536.2 132.7Q539.7 133.5 539.3 137.1M539.6 97.0Q541.9 98.3 544.4 99.4M548.2 118.1Q550.4 118.2 552.3 119.1M519.3 117.1Q514.9 117.9 515.2 122.3M474.7 100.3Q473.0 102.0 472.3 104.2M641.6 143.1Q640.7 145.7 641.0 148.5M509.1 113.7Q511.7 115.4 514.4 113.9M424.6 96.9Q426.5 99.8 425.0 102.9M634.9 153.1Q635.6 156.5 637.0 159.7M435.5 106.7Q435.4 108.7 436.8 110.2M432.8 106.1Q430.5 110.2 434.4 112.8M608.9 137.8Q611.8 139.1 611.9 142.3M536.1 102.5Q536.2 106.0 539.6 107.1M443.2 96.1Q447.4 94.6 449.1 98.6M432.7 104.3Q435.4 104.8 436.8 107.2M494.2 120.5Q496.8 121.1 497.6 123.8M607.4 118.5Q610.5 121.5 614.5 123.2M460.2 100.6Q463.3 102.7 464.2 106.3M563.0 131.4Q567.1 132.0 568.0 136.1M562.4 96.9Q566.4 99.5 564.8 104.0M548.8 91.2Q547.6 94.8 550.0 97.7M577.7 129.3Q579.1 131.5 581.6 131.5M461.8 125.1Q465.6 123.5 467.3 127.2M522.2 124.4Q523.8 127.9 527.3 129.5M630.1 110.8Q631.9 112.9 634.5 113.9M624.0 147.6Q628.6 149.5 629.6 154.3M517.3 117.2Q519.0 119.3 516.9 121.1M645.0 125.4Q646.7 128.8 645.5 132.4M631.3 108.0Q632.0 111.3 630.1 114.0M489.0 125.0Q493.0 124.1 494.5 127.9M445.6 97.9Q445.6 100.4 447.4 102.3M506.7 114.5Q509.0 117.0 511.0 119.7M630.7 156.8Q631.3 161.9 636.3 163.0M506.5 96.8Q509.0 98.3 511.8 97.3M501.0 121.1Q502.1 123.6 500.1 125.5M441.1 83.7Q438.8 86.0 440.0 89.0M559.6 119.8Q563.2 120.3 564.7 117.0M546.2 93.9Q547.1 97.7 550.9 97.9M485.7 83.9Q487.4 85.6 489.9 85.4M630.6 118.7Q633.1 121.1 635.1 123.9M506.9 107.8Q509.3 107.7 511.3 108.9M444.4 96.3Q443.8 98.6 443.0 101.0M609.4 159.8Q610.6 162.8 612.1 165.6M606.8 127.5Q606.4 130.5 608.9 132.2M579.9 96.0Q582.9 97.5 585.9 98.9M566.1 127.5Q569.3 126.1 570.9 129.3M600.9 150.0Q604.2 151.8 605.6 155.3M457.7 122.5Q459.6 125.0 460.7 127.9M456.2 106.0Q459.1 106.5 459.5 109.4M540.1 136.3Q542.5 137.5 542.4 140.1M639.3 110.0Q641.7 111.0 642.7 113.4M604.8 153.5Q603.6 156.6 605.1 159.5M437.3 103.8Q439.3 105.3 441.8 104.7M588.9 126.4Q592.8 125.6 596.3 127.5M629.4 137.6Q632.4 139.2 634.3 142.1M586.9 126.9Q586.1 129.8 588.0 132.0M446.0 107.9Q448.5 110.9 452.4 110.3M506.2 87.0Q504.9 89.9 506.3 92.7M616.6 154.1Q620.7 154.3 624.3 156.0M482.5 88.7Q484.7 87.2 486.5 85.2M636.6 112.5Q640.2 113.5 641.5 117.0M429.5 103.8Q430.3 106.5 432.9 107.8M475.6 100.4Q476.0 102.7 478.2 103.5M539.9 136.0Q541.7 138.1 543.5 140.1M548.7 120.2Q550.7 123.0 554.2 123.5M566.9 119.1Q567.2 122.9 570.9 123.6M520.2 95.1Q520.9 97.7 523.5 98.2M475.1 119.9Q473.7 122.0 475.2 124.2M475.2 95.2Q476.9 96.5 479.0 97.4M600.9 123.1Q601.7 126.5 601.0 129.8" stroke="#505050" stroke-width="2.7"/><path d="M646.7 107.7Q651.3 108.5 653.0 112.9M657.9 103.1Q655.5 108.2 660.5 110.6M660.6 142.6Q660.4 145.2 659.9 147.7M656.0 126.9Q658.5 127.2 660.3 129.0M657.5 104.7Q657.2 109.2 655.3 113.1M656.0 129.9Q655.9 132.9 655.1 135.8" stroke="#505050" stroke-width="3.2"/><path d="M269.4 93.3Q270.4 95.7 271.1 98.2" stroke="#8c8c8c" stroke-width="1.5"/><path d="M563.0 131.4Q567.1 132.0 568.0 136.1M501.0 121.1Q502.1 123.6 500.1 125.5M457.7 122.5Q459.6 125.0 460.7 127.9M548.7 120.2Q550.7 123.0 554.2 123.5" stroke="#8c8c8c" stroke-width="2.0"/><path d="M328.6 96.0Q329.2 98.8 330.8 101.1M238.8 82.6Q241.1 83.1 242.4 85.1M315.6 92.2Q316.1 94.0 317.9 94.1M282.7 87.2Q285.2 87.3 285.3 89.9M251.8 84.3Q254.5 85.5 254.1 88.4M269.8 88.8Q271.2 91.0 273.6 91.9M413.9 103.3Q412.7 107.4 416.6 109.0M305.0 87.3Q307.9 89.3 306.4 92.5M255.9 80.9Q255.5 82.3 255.0 83.6" stroke="#a0a0a0" stroke-width="1.5"/><path d="M641.6 143.1Q640.7 145.7 641.0 148.5M634.9 153.1Q635.6 156.5 637.0 159.7M445.6 97.9Q445.6 100.4 447.4 102.3M559.6 119.8Q563.2 120.3 564.7 117.0M588.9 126.4Q592.8 125.6 596.3 127.5" stroke="#a0a0a0" stroke-width="2.0"/><path d="M656.0 126.9Q658.5 127.2 660.3 129.0" stroke="#a0a0a0" stroke-width="2.5"/><path d="M373.3 101.5Q372.6 104.0 372.8 106.6M406.6 91.7Q408.6 94.8 412.1 93.9M274.2 72.9Q277.0 73.1 277.7 75.8M240.2 86.5Q241.6 85.8 243.1 85.1M230.5 78.3Q230.0 81.4 233.0 82.3M412.1 99.8Q409.9 101.1 409.0 103.6M258.3 69.4Q259.1 71.8 261.5 72.4M290.6 84.4Q290.8 87.2 292.6 89.4M295.6 88.0Q294.0 89.3 295.4 90.9M371.4 112.6Q373.4 112.3 375.3 112.8M360.6 104.1Q362.5 103.6 364.5 103.6M267.8 71.5Q269.2 73.7 271.4 75.1M314.4 78.4Q314.9 80.0 313.8 81.4M255.7 73.0Q257.0 73.7 258.0 74.9M365.4 93.1Q366.3 96.5 369.6 97.5" stroke="#b4b4b4" stroke-width="1.5"/><path d="M525.8 129.2Q529.9 132.1 527.4 136.5M568.7 126.6Q571.9 129.6 570.5 133.7M519.3 117.1Q514.9 117.9 515.2 122.3M432.7 104.3Q435.4 104.8 436.8 107.2M494.2 120.5Q496.8 121.1 497.6 123.8M461.8 125.1Q465.6 123.5 467.3 127.2M522.2 124.4Q523.8 127.9 527.3 129.5M630.1 110.8Q631.9 112.9 634.5 113.9M645.0 125.4Q646.7 128.8 645.5 132.4M506.7 114.5Q509.0 117.0 511.0 119.7M630.7 156.8Q631.3 161.9 636.3 163.0M546.2 93.9Q547.1 97.7 550.9 97.9M630.6 118.7Q633.1 121.1 635.1 123.9M604.8 153.5Q603.6 156.6 605.1 159.5M506.2 87.0Q504.9 89.9 506.3 92.7M539.9 136.0Q541.7 138.1 543.5 140.1M566.9 119.1Q567.2 122.9 570.9 123.6" stroke="#b4b4b4" stroke-width="2.0"/><path d="M660.6 142.6Q660.4 145.2 659.9 147.7M656.0 129.9Q655.9 132.9 655.1 135.8" stroke="#b4b4b4" stroke-width="2.5"/><path d="M381.7 103.8Q384.8 104.6 387.0 106.9M330.4 85.8Q328.5 88.1 329.8 90.8M341.0 98.1Q338.2 99.1 337.6 102.0M272.2 69.1Q274.4 70.1 276.2 71.7M287.2 75.4Q289.3 74.9 291.2 73.7M339.9 86.3Q339.9 88.9 342.6 88.9M379.6 82.9Q376.9 85.7 378.8 89.1M334.8 86.8Q337.7 87.0 340.5 87.5M415.3 114.9Q418.1 115.3 421.0 115.9M234.1 62.1Q235.4 64.0 234.9 66.3M377.1 97.5Q379.1 100.9 382.5 98.9M375.8 88.8Q376.3 92.3 373.2 94.0M232.7 65.6Q233.0 67.7 234.7 68.8M286.2 87.0Q286.1 89.8 287.9 91.9" stroke="#c8c8c8" stroke-width="1.5"/><path d="M494.9 90.3Q496.2 93.5 494.5 96.5M536.2 132.7Q539.7 133.5 539.3 137.1M548.2 118.1Q550.4 118.2 552.3 119.1M607.4 118.5Q610.5 121.5 614.5 123.2M577.7 129.3Q579.1 131.5 581.6 131.5M517.3 117.2Q519.0 119.3 516.9 121.1M489.0 125.0Q493.0 124.1 494.5 127.9M506.5 96.8Q509.0 98.3 511.8 97.3M506.9 107.8Q509.3 107.7 511.3 108.9M609.4 159.8Q610.6 162.8 612.1 165.6M606.8 127.5Q606.4 130.5 608.9 132.2M566.1 127.5Q569.3 126.1 570.9 129.3M600.9 150.0Q604.2 151.8 605.6 155.3M456.2 106.0Q459.1 106.5 459.5 109.4M629.4 137.6Q632.4 139.2 634.3 142.1M586.9 126.9Q586.1 129.8 588.0 132.0M446.0 107.9Q448.5 110.9 452.4 110.3" stroke="#c8c8c8" stroke-width="2.0"/><path d="M250.0 70.6Q251.2 71.4 251.7 72.9M419.9 99.1Q418.6 101.7 419.0 104.7M265.3 69.6Q266.9 70.8 266.4 72.7M325.6 83.4Q326.8 85.9 328.8 87.7M332.8 78.8Q333.5 80.1 333.9 81.6M315.9 82.9Q319.2 82.2 320.2 85.4M368.2 89.0Q371.3 89.8 373.4 87.5M383.8 97.1Q384.7 98.8 386.4 99.7M395.8 97.3Q398.4 98.0 401.1 97.8M331.4 86.8Q331.0 88.3 331.3 89.9M258.4 69.7Q260.4 70.4 260.7 72.4M417.2 93.6Q419.0 95.5 421.5 94.7M236.0 68.3Q235.7 69.7 234.4 70.3M386.1 87.3Q388.4 87.2 388.8 89.4" stroke="#dcdcdc" stroke-width="1.5"/><path d="M539.6 97.0Q541.9 98.3 544.4 99.4M474.7 100.3Q473.0 102.0 472.3 104.2M509.1 113.7Q511.7 115.4 514.4 113.9M424.6 96.9Q426.5 99.8 425.0 102.9M435.5 106.7Q435.4 108.7 436.8 110.2M536.1 102.5Q536.2 106.0 539.6 107.1M562.4 96.9Q566.4 99.5 564.8 104.0M624.0 147.6Q628.6 149.5 629.6 154.3M540.1 136.3Q542.5 137.5 542.4 140.1M437.3 103.8Q439.3 105.3 441.8 104.7M616.6 154.1Q620.7 154.3 624.3 156.0M482.5 88.7Q484.7 87.2 486.5 85.2M429.5 103.8Q430.3 106.5 432.9 107.8" stroke="#dcdcdc" stroke-width="2.0"/><path d="M657.9 103.1Q655.5 108.2 660.5 110.6" stroke="#dcdcdc" stroke-width="2.5"/><path d="M340.3 81.3Q343.6 80.0 345.3 83.0M303.1 72.2Q304.9 72.8 306.8 73.2M329.1 78.8Q328.4 81.1 329.3 83.2" stroke="#f0f0f0" stroke-width="1.5"/><path d="M619.3 154.8Q621.5 151.1 625.4 152.8M432.8 106.1Q430.5 110.2 434.4 112.8M460.2 100.6Q463.3 102.7 464.2 106.3M548.8 91.2Q547.6 94.8 550.0 97.7M631.3 108.0Q632.0 111.3 630.1 114.0M485.7 83.9Q487.4 85.6 489.9 85.4M444.4 96.3Q443.8 98.6 443.0 101.0M579.9 96.0Q582.9 97.5 585.9 98.9M639.3 110.0Q641.7 111.0 642.7 113.4M636.6 112.5Q640.2 113.5 641.5 117.0M520.2 95.1Q520.9 97.7 523.5 98.2M475.2 95.2Q476.9 96.5 479.0 97.4M600.9 123.1Q601.7 126.5 601.0 129.8" stroke="#f0f0f0" stroke-width="2.0"/><path d="M646.7 107.7Q651.3 108.5 653.0 112.9M657.5 104.7Q657.2 109.2 655.3 113.1" stroke="#f0f0f0" stroke-width="2.5"/><path d="M393.3 77.0Q395.5 77.1 396.7 79.1M308.6 70.2Q310.0 71.2 310.1 72.9M390.3 78.8Q391.3 81.4 393.2 83.4M415.6 85.5Q417.7 88.1 419.6 90.9" stroke="#f5f5f5" stroke-width="1.5"/><path d="M624.7 109.3Q625.3 112.4 628.0 114.2M608.9 137.8Q611.8 139.1 611.9 142.3M443.2 96.1Q447.4 94.6 449.1 98.6M441.1 83.7Q438.8 86.0 440.0 89.0M475.6 100.4Q476.0 102.7 478.2 103.5M475.1 119.9Q473.7 122.0 475.2 124.2" stroke="#f5f5f5" stroke-width="2.0"/><path d="M234.7 89.2Q236.8 90.0 237.2 92.2M376.7 106.1Q380.1 106.0 381.1 109.2M256.6 63.9Q257.3 65.3 257.8 66.9M311.0 78.3Q308.9 80.3 309.1 83.2M279.9 67.4Q281.1 69.2 280.4 71.1M356.0 74.4Q356.5 77.8 359.6 79.1M385.8 76.4Q387.3 77.3 389.0 77.0M308.2 89.1Q309.6 90.3 308.6 92.0M251.2 85.3Q252.4 86.4 251.7 88.0M252.5 65.2Q251.4 66.7 252.7 68.0M394.4 88.1Q392.9 89.9 394.2 91.8M322.1 70.7Q323.0 73.3 325.2 74.9M338.4 88.7Q338.0 90.4 338.5 92.1M251.4 64.7Q252.1 67.3 254.8 67.3M364.3 91.6Q363.0 94.9 366.1 96.7M276.6 79.5Q277.6 82.1 280.3 82.7M408.5 95.6Q410.7 98.7 407.9 101.3M410.9 86.6Q410.6 90.2 414.1 90.8M235.8 73.9Q236.3 76.9 239.2 76.5M397.4 77.4Q398.1 79.2 399.7 80.2M371.3 108.0Q373.9 108.5 374.7 111.1M285.5 82.1Q283.5 83.4 284.8 85.4M369.9 89.4Q371.5 89.4 373.0 88.5M345.3 95.0Q347.2 96.3 349.4 95.6M389.1 87.1Q389.9 89.3 392.2 89.9M228.4 64.1Q230.1 66.3 232.7 65.4M254.4 65.7Q254.6 68.1 253.1 69.9M273.5 93.1Q272.9 95.6 274.7 97.5M348.9 106.9Q350.1 109.1 352.3 110.0M250.8 65.6Q252.5 66.8 252.8 68.8M408.1 112.9Q409.9 113.3 411.7 113.7M272.2 71.7Q273.3 72.9 273.0 74.5M260.0 69.2Q257.2 70.7 258.5 73.6M424.4 99.8Q422.6 103.1 419.3 101.4M324.4 100.1Q327.2 101.5 327.8 104.5M382.7 86.8Q382.4 88.8 383.7 90.4M317.8 95.1Q318.5 97.5 320.9 96.8M412.6 101.8Q414.3 104.2 416.6 106.1M260.5 73.4Q262.3 74.9 264.3 73.5M315.3 100.5Q316.0 102.0 317.7 102.1M361.7 86.6Q365.0 87.6 364.4 91.0M229.5 69.4Q231.6 70.3 231.3 72.6M239.5 77.1Q241.3 78.2 241.1 80.3M371.3 89.9Q373.2 91.6 373.0 94.2M381.7 82.9Q384.1 84.7 384.9 87.6M304.7 97.6Q306.4 95.7 308.8 96.7M370.1 106.6Q367.9 108.1 369.0 110.5M354.7 106.3Q355.1 108.3 355.6 110.3M372.9 101.7Q375.6 104.0 373.9 107.1M402.6 79.4Q405.2 79.8 405.8 82.4M274.6 87.4Q277.7 87.5 278.5 90.4M412.6 99.5Q411.3 101.8 412.3 104.3M243.4 70.0Q244.1 71.1 244.8 72.2M308.4 83.6Q310.8 83.5 311.1 85.9M413.6 116.9Q412.7 120.8 416.3 122.5M236.0 64.0Q237.7 65.4 238.9 67.3M372.0 79.7Q374.0 81.4 374.1 84.0M407.8 82.8Q410.2 82.9 411.0 85.2M344.9 89.2Q346.8 91.0 347.5 93.5M267.8 90.5Q268.2 92.3 266.7 93.4M358.5 86.0Q360.4 89.1 364.0 88.5M368.0 100.6Q369.8 99.9 371.5 100.6" stroke="#505050" stroke-width="2.2"/><path d="M559.8 93.9Q561.9 95.4 564.4 94.9M585.0 116.4Q587.5 117.2 588.9 119.4M630.3 147.5Q632.6 148.4 634.7 149.7M621.4 152.2Q623.1 154.9 626.2 155.5M512.5 115.0Q514.6 117.1 515.1 120.1M610.0 160.6Q613.5 163.6 613.1 168.3M616.6 118.9Q616.0 122.3 618.8 124.2M561.6 106.9Q561.3 109.5 559.2 110.9M569.5 92.2Q574.5 91.3 576.9 95.8M624.1 104.7Q622.4 107.7 625.3 109.7M578.9 121.5Q580.0 124.4 583.1 124.4M476.8 131.4Q478.8 133.2 479.2 135.9M614.2 124.3Q616.4 125.3 618.0 127.2M425.9 124.0Q425.6 126.9 427.3 129.3M481.1 125.0Q484.0 126.5 486.2 128.8M580.9 135.3Q585.2 136.3 584.7 140.7M437.0 97.8Q439.5 101.7 436.0 104.7M432.2 100.5Q431.7 103.5 433.7 105.8M497.8 117.7Q499.1 119.6 500.6 121.5M618.6 119.4Q618.4 123.5 619.2 127.5M606.1 119.1Q604.8 122.8 607.3 125.8M443.2 98.6Q442.8 101.2 445.1 102.5M597.0 157.4Q600.1 157.6 603.0 156.3M597.0 130.8Q599.5 131.7 600.0 134.3M550.9 102.5Q548.4 104.3 550.0 106.8M570.2 108.7Q571.3 112.2 574.2 114.4M570.8 128.1Q569.4 132.4 572.6 135.6M587.5 97.0Q589.7 95.9 592.1 95.8M593.5 129.6Q593.6 132.7 596.6 133.1M623.1 147.9Q624.3 150.0 623.9 152.5M454.4 82.2Q457.7 85.0 454.9 88.2M497.9 92.1Q501.0 90.6 504.3 91.9M556.4 125.8Q556.4 130.1 559.5 133.1M537.5 139.8Q541.2 141.1 541.3 144.9M537.2 104.6Q536.3 108.1 538.2 111.2M494.2 94.3Q495.9 96.9 498.9 95.8M600.0 153.7Q597.7 156.6 598.0 160.3M553.4 126.6Q556.8 129.2 557.4 133.5M481.8 102.0Q482.8 105.0 484.4 107.8M520.3 107.0Q523.0 108.4 522.4 111.4M568.2 95.3Q570.8 96.9 572.8 99.1M547.4 142.1Q544.8 145.0 546.6 148.4M618.1 134.7Q619.0 140.2 624.4 140.1M585.5 129.7Q586.8 132.4 587.6 135.2M559.7 90.5Q562.0 91.6 563.4 93.6M606.3 154.5Q608.7 154.3 610.5 155.9M616.8 161.0Q614.5 163.1 615.3 166.0M431.7 96.4Q434.6 99.2 432.8 102.8M456.1 90.2Q458.9 91.0 460.5 93.4M585.9 126.7Q585.0 128.6 583.6 130.3M496.4 98.9Q498.7 100.9 501.5 99.7M425.4 113.4Q428.2 114.9 429.3 117.8M585.9 125.9Q588.6 129.2 585.9 132.5M601.3 123.1Q602.8 126.1 605.1 128.6M531.2 137.0Q530.9 139.6 533.0 141.2M545.0 142.2Q547.8 143.5 546.7 146.3M473.4 109.4Q476.3 108.5 477.7 111.3M631.7 143.5Q630.7 146.3 633.2 147.7M531.6 145.6Q535.6 144.7 539.2 146.8M609.6 149.2Q609.2 152.7 611.0 155.7M546.9 126.9Q544.7 128.3 544.1 130.8M614.0 118.8Q615.8 121.2 618.3 119.7M552.7 102.2Q552.4 104.9 552.6 107.6M467.3 119.2Q464.4 119.0 463.6 121.8M497.5 95.1Q498.6 97.8 501.3 99.1M525.8 106.4Q526.9 108.2 527.4 110.4M569.9 131.4Q573.6 132.2 576.3 134.8M499.0 106.7Q502.3 108.3 501.6 111.8M502.0 109.6Q501.7 112.9 504.6 114.5M485.8 97.0Q484.5 100.4 486.4 103.6M526.2 139.8Q528.8 142.6 530.0 146.2M513.6 98.0Q517.9 98.0 518.2 102.2M613.4 136.3Q617.3 138.3 621.5 138.9M533.3 112.3Q536.1 114.3 538.3 117.0" stroke="#505050" stroke-width="2.7"/><path d="M654.5 118.6Q654.6 122.7 658.0 125.0M647.5 124.9Q645.2 128.3 647.6 131.7M650.3 110.9Q649.7 115.8 653.7 118.8M655.8 135.9Q658.2 137.3 660.5 138.8M647.8 124.7Q647.8 128.3 646.8 131.7" stroke="#505050" stroke-width="3.2"/><path d="M308.2 89.1Q309.6 90.3 308.6 92.0M324.4 100.1Q327.2 101.5 327.8 104.5" stroke="#787878" stroke-width="1.5"/><path d="M476.8 131.4Q478.8 133.2 479.2 135.9" stroke="#787878" stroke-width="2.0"/><path d="M234.7 89.2Q236.8 90.0 237.2 92.2M251.2 85.3Q252.4 86.4 251.7 88.0M276.6 79.5Q277.6 82.1 280.3 82.7M354.7 106.3Q355.1 108.3 355.6 110.3" stroke="#8c8c8c" stroke-width="1.5"/><path d="M610.0 160.6Q613.5 163.6 613.1 168.3M585.9 126.7Q585.0 128.6 583.6 130.3M425.4 113.4Q428.2 114.9 429.3 117.8M585.9 125.9Q588.6 129.2 585.9 132.5" stroke="#8c8c8c" stroke-width="2.0"/><path d="M394.4 88.1Q392.9 89.9 394.2 91.8M235.8 73.9Q236.3 76.9 239.2 76.5M285.5 82.1Q283.5 83.4 284.8 85.4M273.5 93.1Q272.9 95.6 274.7 97.5M408.1 112.9Q409.9 113.3 411.7 113.7M317.8 95.1Q318.5 97.5 320.9 96.8M315.3 100.5Q316.0 102.0 317.7 102.1M304.7 97.6Q306.4 95.7 308.8 96.7" stroke="#a0a0a0" stroke-width="1.5"/><path d="M512.5 115.0Q514.6 117.1 515.1 120.1M597.0 157.4Q600.1 157.6 603.0 156.3M600.0 153.7Q597.7 156.6 598.0 160.3" stroke="#a0a0a0" stroke-width="2.0"/><path d="M364.3 91.6Q363.0 94.9 366.1 96.7M369.9 89.4Q371.5 89.4 373.0 88.5M250.8 65.6Q252.5 66.8 252.8 68.8M361.7 86.6Q365.0 87.6 364.4 91.0M381.7 82.9Q384.1 84.7 384.9 87.6M274.6 87.4Q277.7 87.5 278.5 90.4M368.0 100.6Q369.8 99.9 371.5 100.6" stroke="#b4b4b4" stroke-width="1.5"/><path d="M621.4 152.2Q623.1 154.9 626.2 155.5M578.9 121.5Q580.0 124.4 583.1 124.4M425.9 124.0Q425.6 126.9 427.3 129.3M497.8 117.7Q499.1 119.6 500.6 121.5M623.1 147.9Q624.3 150.0 623.9 152.5M537.5 139.8Q541.2 141.1 541.3 144.9M553.4 126.6Q556.8 129.2 557.4 133.5M606.3 154.5Q608.7 154.3 610.5 155.9M616.8 161.0Q614.5 163.1 615.3 166.0M531.2 137.0Q530.9 139.6 533.0 141.2M631.7 143.5Q630.7 146.3 633.2 147.7M609.6 149.2Q609.2 152.7 611.0 155.7M499.0 106.7Q502.3 108.3 501.6 111.8M502.0 109.6Q501.7 112.9 504.6 114.5M613.4 136.3Q617.3 138.3 621.5 138.9" stroke="#b4b4b4" stroke-width="2.0"/><path d="M655.8 135.9Q658.2 137.3 660.5 138.8M647.8 124.7Q647.8 128.3 646.8 131.7" stroke="#b4b4b4" stroke-width="2.5"/><path d="M376.7 106.1Q380.1 106.0 381.1 109.2M256.6 63.9Q257.3 65.3 257.8 66.9M311.0 78.3Q308.9 80.3 309.1 83.2M252.5 65.2Q251.4 66.7 252.7 68.0M338.4 88.7Q338.0 90.4 338.5 92.1M371.3 108.0Q373.9 108.5 374.7 111.1M345.3 95.0Q347.2 96.3 349.4 95.6M389.1 87.1Q389.9 89.3 392.2 89.9M348.9 106.9Q350.1 109.1 352.3 110.0M239.5 77.1Q241.3 78.2 241.1 80.3M370.1 106.6Q367.9 108.1 369.0 110.5M372.9 101.7Q375.6 104.0 373.9 107.1M407.8 82.8Q410.2 82.9 411.0 85.2M344.9 89.2Q346.8 91.0 347.5 93.5M267.8 90.5Q268.2 92.3 266.7 93.4M358.5 86.0Q360.4 89.1 364.0 88.5" stroke="#c8c8c8" stroke-width="1.5"/><path d="M630.3 147.5Q632.6 148.4 634.7 149.7M580.9 135.3Q585.2 136.3 584.7 140.7M437.0 97.8Q439.5 101.7 436.0 104.7M432.2 100.5Q431.7 103.5 433.7 105.8M570.2 108.7Q571.3 112.2 574.2 114.4M570.8 128.1Q569.4 132.4 572.6 135.6M556.4 125.8Q556.4 130.1 559.5 133.1M537.2 104.6Q536.3 108.1 538.2 111.2M494.2 94.3Q495.9 96.9 498.9 95.8M547.4 142.1Q544.8 145.0 546.6 148.4M618.1 134.7Q619.0 140.2 624.4 140.1M585.5 129.7Q586.8 132.4 587.6 135.2M601.3 123.1Q602.8 126.1 605.1 128.6M545.0 142.2Q547.8 143.5 546.7 146.3M473.4 109.4Q476.3 108.5 477.7 111.3M467.3 119.2Q464.4 119.0 463.6 121.8M526.2 139.8Q528.8 142.6 530.0 146.2" stroke="#c8c8c8" stroke-width="2.0"/><path d="M647.5 124.9Q645.2 128.3 647.6 131.7" stroke="#c8c8c8" stroke-width="2.5"/><path d="M356.0 74.4Q356.5 77.8 359.6 79.1M322.1 70.7Q323.0 73.3 325.2 74.9M408.5 95.6Q410.7 98.7 407.9 101.3M228.4 64.1Q230.1 66.3 232.7 65.4M254.4 65.7Q254.6 68.1 253.1 69.9M260.0 69.2Q257.2 70.7 258.5 73.6M424.4 99.8Q422.6 103.1 419.3 101.4M382.7 86.8Q382.4 88.8 383.7 90.4M229.5 69.4Q231.6 70.3 231.3 72.6M402.6 79.4Q405.2 79.8 405.8 82.4M412.6 99.5Q411.3 101.8 412.3 104.3M308.4 83.6Q310.8 83.5 311.1 85.9M236.0 64.0Q237.7 65.4 238.9 67.3" stroke="#dcdcdc" stroke-width="1.5"/><path d="M585.0 116.4Q587.5 117.2 588.9 119.4M561.6 106.9Q561.3 109.5 559.2 110.9M481.1 125.0Q484.0 126.5 486.2 128.8M618.6 119.4Q618.4 123.5 619.2 127.5M606.1 119.1Q604.8 122.8 607.3 125.8M443.2 98.6Q442.8 101.2 445.1 102.5M550.9 102.5Q548.4 104.3 550.0 106.8M454.4 82.2Q457.7 85.0 454.9 88.2M481.8 102.0Q482.8 105.0 484.4 107.8M520.3 107.0Q523.0 108.4 522.4 111.4M568.2 95.3Q570.8 96.9 572.8 99.1M456.1 90.2Q458.9 91.0 460.5 93.4M496.4 98.9Q498.7 100.9 501.5 99.7M531.6 145.6Q535.6 144.7 539.2 146.8M546.9 126.9Q544.7 128.3 544.1 130.8M497.5 95.1Q498.6 97.8 501.3 99.1M525.8 106.4Q526.9 108.2 527.4 110.4M569.9 131.4Q573.6 132.2 576.3 134.8M485.8 97.0Q484.5 100.4 486.4 103.6M513.6 98.0Q517.9 98.0 518.2 102.2" stroke="#dcdcdc" stroke-width="2.0"/><path d="M654.5 118.6Q654.6 122.7 658.0 125.0" stroke="#dcdcdc" stroke-width="2.5"/><path d="M279.9 67.4Q281.1 69.2 280.4 71.1M251.4 64.7Q252.1 67.3 254.8 67.3M397.4 77.4Q398.1 79.2 399.7 80.2M272.2 71.7Q273.3 72.9 273.0 74.5M412.6 101.8Q414.3 104.2 416.6 106.1M260.5 73.4Q262.3 74.9 264.3 73.5M371.3 89.9Q373.2 91.6 373.0 94.2M243.4 70.0Q244.1 71.1 244.8 72.2M413.6 116.9Q412.7 120.8 416.3 122.5M372.0 79.7Q374.0 81.4 374.1 84.0" stroke="#f0f0f0" stroke-width="1.5"/><path d="M559.8 93.9Q561.9 95.4 564.4 94.9M616.6 118.9Q616.0 122.3 618.8 124.2M569.5 92.2Q574.5 91.3 576.9 95.8M614.2 124.3Q616.4 125.3 618.0 127.2M597.0 130.8Q599.5 131.7 600.0 134.3M587.5 97.0Q589.7 95.9 592.1 95.8M497.9 92.1Q501.0 90.6 504.3 91.9M559.7 90.5Q562.0 91.6 563.4 93.6M431.7 96.4Q434.6 99.2 432.8 102.8M552.7 102.2Q552.4 104.9 552.6 107.6" stroke="#f0f0f0" stroke-width="2.0"/><path d="M650.3 110.9Q649.7 115.8 653.7 118.8" stroke="#f0f0f0" stroke-width="2.5"/><path d="M385.8 76.4Q387.3 77.3 389.0 77.0M410.9 86.6Q410.6 90.2 414.1 90.8" stroke="#f5f5f5" stroke-width="1.5"/><path d="M624.1 104.7Q622.4 107.7 625.3 109.7M593.5 129.6Q593.6 132.7 596.6 133.1M614.0 118.8Q615.8 121.2 618.3 119.7M533.3 112.3Q536.1 114.3 538.3 117.0" stroke="#f5f5f5" stroke-width="2.0"/><path d="M410.8 113.1Q414.2 114.8 412.6 118.2M337.3 95.2Q339.2 97.4 340.5 99.9M321.4 95.0Q322.7 97.2 325.1 96.8M307.1 78.1Q308.7 80.2 309.9 82.5M383.3 93.6Q383.1 95.6 384.8 96.6M390.3 103.5Q390.2 105.6 392.2 106.3M338.9 100.3Q339.4 101.9 340.2 103.4M272.7 83.3Q274.3 84.4 275.0 86.2M309.3 94.2Q310.6 96.7 311.7 99.3M325.3 78.6Q326.4 80.2 326.1 82.0M352.5 74.9Q355.1 76.6 355.8 79.7M350.4 78.3Q352.7 80.8 352.0 84.1M337.9 78.6Q340.6 78.4 342.0 80.7M353.2 86.8Q351.7 88.2 352.9 89.9M229.5 78.2Q230.0 80.2 231.2 81.7M344.4 77.3Q345.8 78.2 347.1 79.2M352.3 95.0Q352.8 96.8 351.7 98.3M289.9 78.1Q290.4 80.8 293.1 80.4M380.1 84.2Q379.0 85.5 377.7 86.6M390.6 106.3Q391.0 108.6 393.3 108.7M228.6 80.3Q231.4 79.1 232.9 81.7M274.1 66.2Q272.6 68.4 272.5 71.1M242.6 63.5Q243.6 64.9 243.2 66.6M336.2 81.9Q335.5 83.9 336.7 85.6M339.9 90.8Q341.0 92.3 341.7 94.1M405.7 79.8Q406.4 83.5 409.9 84.7M352.7 99.0Q353.5 100.9 352.9 102.8M386.7 93.7Q389.0 93.2 390.4 91.5M362.5 76.2Q364.0 78.8 363.4 81.8M414.5 114.2Q414.9 116.7 415.2 119.2M294.4 98.1Q295.0 101.8 298.7 101.3M279.1 85.6Q280.9 86.3 282.4 87.6M334.2 81.4Q333.7 83.1 335.2 84.2M279.0 89.0Q279.9 91.0 282.1 91.4M280.7 94.5Q282.3 95.3 284.1 95.6M269.2 68.3Q270.8 69.1 271.7 70.6M264.6 68.5Q266.0 69.9 266.5 71.8M365.4 102.1Q368.2 101.6 370.9 102.3M265.1 75.7Q264.2 78.8 267.0 80.4M342.1 80.3Q343.1 82.1 344.5 83.6M261.1 95.0Q262.4 97.0 264.5 95.8M279.6 84.2Q280.1 86.2 280.5 88.1M339.2 107.0Q340.6 108.1 341.0 109.9M392.2 101.1Q394.2 102.9 396.4 104.3M360.9 75.4Q361.5 77.7 363.9 77.7M274.5 86.1Q276.3 87.1 278.4 87.7M306.9 91.9Q307.8 94.3 310.2 93.4M318.0 88.0Q320.0 89.7 322.2 91.2M377.7 100.9Q380.2 102.0 382.6 103.4M263.9 69.5Q263.9 71.2 264.6 72.8M379.7 87.2Q378.1 88.2 378.4 90.2M417.1 91.5Q420.1 93.0 423.6 92.8M350.8 99.2Q353.0 99.5 352.7 101.8M371.4 105.8Q373.3 107.3 374.3 109.5" stroke="#505050" stroke-width="2.2"/><path d="M455.2 92.0Q455.8 94.8 458.7 94.8M591.6 139.9Q591.8 142.9 590.5 145.6M506.6 99.2Q509.7 99.6 509.6 102.7M529.4 118.9Q529.9 122.0 533.0 122.4M456.5 86.3Q458.1 88.2 457.3 90.5M571.6 126.0Q573.8 129.5 574.7 133.5M640.0 110.2Q639.5 113.1 641.9 114.7M426.2 91.9Q425.1 94.4 427.0 96.3M516.2 122.5Q516.1 126.2 516.5 129.9M565.6 92.6Q563.2 96.5 565.4 100.7M631.0 115.9Q633.4 117.8 635.9 116.2M489.1 112.4Q487.8 114.4 488.0 116.8M497.5 96.2Q495.6 97.5 493.5 98.5M468.4 128.5Q471.2 130.0 470.2 133.1M464.2 104.2Q468.3 104.7 469.1 108.7M602.9 105.6Q601.1 107.2 600.6 109.6M642.2 133.6Q646.8 134.4 650.2 137.6M622.1 154.5Q621.3 158.4 619.7 162.1M547.7 137.4Q549.9 136.8 552.2 136.7M611.1 140.0Q613.6 141.6 612.5 144.4M602.3 115.4Q599.7 118.8 600.2 123.0M427.1 116.5Q430.7 116.8 431.3 120.3M566.9 97.9Q569.0 102.3 565.9 106.0M535.0 131.3Q535.9 133.8 537.1 136.2M526.9 122.7Q525.0 124.8 526.6 127.2M541.5 120.6Q541.6 124.6 543.3 128.3M568.7 128.2Q565.7 130.1 566.9 133.3M504.0 115.3Q507.5 115.3 508.4 118.6M470.9 103.9Q471.4 107.5 472.7 110.9M431.8 120.9Q434.8 119.1 437.5 121.3M624.4 104.5Q626.2 108.7 630.0 111.1M610.2 154.8Q612.6 156.5 611.4 159.2M577.7 121.0Q578.0 125.6 582.6 125.7M558.8 108.7Q562.6 111.0 560.3 114.9M602.5 114.8Q600.0 118.4 602.2 122.2M575.4 124.0Q573.8 128.0 577.1 130.6M636.9 126.2Q636.4 130.1 636.3 134.1M448.4 94.2Q448.8 96.1 450.3 97.3M636.8 132.7Q637.2 136.6 640.8 138.1M547.6 113.5Q550.5 115.3 552.5 118.1M547.7 95.8Q548.1 99.9 552.2 99.7M596.0 114.1Q599.0 115.7 601.5 118.0M583.0 109.5Q583.4 113.6 581.6 117.3M522.6 110.5Q524.1 113.5 527.2 112.4M631.7 142.4Q634.9 145.7 635.1 150.2M562.0 95.6Q563.7 96.9 565.6 97.7M636.7 151.3Q638.4 155.8 634.8 158.9M570.9 126.2Q574.9 127.4 574.3 131.6M579.4 125.9Q582.0 126.1 583.8 127.9M546.4 107.5Q548.3 109.3 549.2 111.7M573.6 96.9Q578.2 95.1 580.0 99.7M584.5 114.4Q583.5 117.8 586.9 119.1M559.9 97.1Q563.7 98.5 564.8 102.3M582.3 127.9Q585.8 128.2 586.8 131.5M581.0 102.3Q580.9 105.7 583.4 108.1M634.3 156.3Q633.8 160.8 630.3 163.6M485.6 116.3Q489.1 117.8 491.3 120.8M424.5 113.7Q425.9 117.0 425.0 120.4M458.3 111.4Q457.9 115.8 462.0 117.2M464.9 104.1Q466.5 106.2 464.8 108.3M622.4 136.7Q621.7 140.3 622.9 143.8M544.1 94.5Q545.9 96.6 548.6 97.2M562.9 130.7Q562.8 134.3 566.4 134.6M600.2 113.8Q602.0 116.3 601.3 119.3M615.3 157.0Q619.8 155.6 623.9 158.1M473.3 121.3Q477.3 121.8 478.5 125.7M635.2 148.9Q636.0 152.5 639.8 152.9M494.9 110.7Q495.0 113.3 497.4 114.0M470.4 99.7Q469.4 102.9 472.3 104.6M577.9 101.8Q581.7 103.0 584.7 105.6M427.0 118.1Q427.4 121.2 424.9 122.9M568.4 119.1Q568.3 122.8 566.5 126.0M641.8 128.6Q640.5 132.1 641.7 135.5M468.8 106.4Q468.6 109.2 471.4 109.7M475.3 135.8Q477.0 138.0 479.7 138.8M543.1 139.9Q545.5 143.0 548.9 145.0M613.3 132.2Q616.3 129.3 619.7 131.7M453.8 87.4Q454.2 91.6 458.3 92.6M562.6 114.4Q563.5 117.2 561.7 119.5M610.5 143.6Q615.7 142.8 617.7 147.7M577.8 96.4Q579.3 98.0 581.3 98.8M599.5 147.5Q603.5 150.8 607.2 147.1" stroke="#505050" stroke-width="2.7"/><path d="M646.8 144.2Q649.8 147.6 654.3 147.5M652.3 111.3Q652.1 113.8 651.5 116.2M658.5 128.7Q657.3 131.0 658.1 133.4M657.6 136.5Q661.0 138.2 659.5 141.7M649.8 129.0Q653.0 128.6 655.2 130.9" stroke="#505050" stroke-width="3.2"/><path d="M294.4 98.1Q295.0 101.8 298.7 101.3M280.7 94.5Q282.3 95.3 284.1 95.6" stroke="#787878" stroke-width="1.5"/><path d="M427.1 116.5Q430.7 116.8 431.3 120.3" stroke="#787878" stroke-width="2.0"/><path d="M261.1 95.0Q262.4 97.0 264.5 95.8M306.9 91.9Q307.8 94.3 310.2 93.4" stroke="#8c8c8c" stroke-width="1.5"/><path d="M579.4 125.9Q582.0 126.1 583.8 127.9M543.1 139.9Q545.5 143.0 548.9 145.0" stroke="#8c8c8c" stroke-width="2.0"/><path d="M229.5 78.2Q230.0 80.2 231.2 81.7M386.7 93.7Q389.0 93.2 390.4 91.5M339.2 107.0Q340.6 108.1 341.0 109.9M392.2 101.1Q394.2 102.9 396.4 104.3M274.5 86.1Q276.3 87.1 278.4 87.7" stroke="#a0a0a0" stroke-width="1.5"/><path d="M571.6 126.0Q573.8 129.5 574.7 133.5M516.2 122.5Q516.1 126.2 516.5 129.9M431.8 120.9Q434.8 119.1 437.5 121.3M610.2 154.8Q612.6 156.5 611.4 159.2M575.4 124.0Q573.8 128.0 577.1 130.6M485.6 116.3Q489.1 117.8 491.3 120.8M635.2 148.9Q636.0 152.5 639.8 152.9M427.0 118.1Q427.4 121.2 424.9 122.9M599.5 147.5Q603.5 150.8 607.2 147.1" stroke="#a0a0a0" stroke-width="2.0"/><path d="M657.6 136.5Q661.0 138.2 659.5 141.7" stroke="#a0a0a0" stroke-width="2.5"/><path d="M337.3 95.2Q339.2 97.4 340.5 99.9M321.4 95.0Q322.7 97.2 325.1 96.8M390.3 103.5Q390.2 105.6 392.2 106.3M338.9 100.3Q339.4 101.9 340.2 103.4M309.3 94.2Q310.6 96.7 311.7 99.3M228.6 80.3Q231.4 79.1 232.9 81.7M336.2 81.9Q335.5 83.9 336.7 85.6M334.2 81.4Q333.7 83.1 335.2 84.2M279.0 89.0Q279.9 91.0 282.1 91.4M365.4 102.1Q368.2 101.6 370.9 102.3M318.0 88.0Q320.0 89.7 322.2 91.2M371.4 105.8Q373.3 107.3 374.3 109.5" stroke="#b4b4b4" stroke-width="1.5"/><path d="M591.6 139.9Q591.8 142.9 590.5 145.6M622.1 154.5Q621.3 158.4 619.7 162.1M566.9 97.9Q569.0 102.3 565.9 106.0M541.5 120.6Q541.6 124.6 543.3 128.3M568.7 128.2Q565.7 130.1 566.9 133.3M577.7 121.0Q578.0 125.6 582.6 125.7M602.5 114.8Q600.0 118.4 602.2 122.2M636.9 126.2Q636.4 130.1 636.3 134.1M570.9 126.2Q574.9 127.4 574.3 131.6M582.3 127.9Q585.8 128.2 586.8 131.5M562.9 130.7Q562.8 134.3 566.4 134.6M473.3 121.3Q477.3 121.8 478.5 125.7M494.9 110.7Q495.0 113.3 497.4 114.0M641.8 128.6Q640.5 132.1 641.7 135.5M613.3 132.2Q616.3 129.3 619.7 131.7" stroke="#b4b4b4" stroke-width="2.0"/><path d="M307.1 78.1Q308.7 80.2 309.9 82.5M272.7 83.3Q274.3 84.4 275.0 86.2M325.3 78.6Q326.4 80.2 326.1 82.0M353.2 86.8Q351.7 88.2 352.9 89.9M344.4 77.3Q345.8 78.2 347.1 79.2M380.1 84.2Q379.0 85.5 377.7 86.6M390.6 106.3Q391.0 108.6 393.3 108.7M274.1 66.2Q272.6 68.4 272.5 71.1M414.5 114.2Q414.9 116.7 415.2 119.2M279.1 85.6Q280.9 86.3 282.4 87.6M269.2 68.3Q270.8 69.1 271.7 70.6M264.6 68.5Q266.0 69.9 266.5 71.8M342.1 80.3Q343.1 82.1 344.5 83.6M279.6 84.2Q280.1 86.2 280.5 88.1M377.7 100.9Q380.2 102.0 382.6 103.4M263.9 69.5Q263.9 71.2 264.6 72.8" stroke="#c8c8c8" stroke-width="1.5"/><path d="M565.6 92.6Q563.2 96.5 565.4 100.7M489.1 112.4Q487.8 114.4 488.0 116.8M468.4 128.5Q471.2 130.0 470.2 133.1M464.2 104.2Q468.3 104.7 469.1 108.7M642.2 133.6Q646.8 134.4 650.2 137.6M547.7 137.4Q549.9 136.8 552.2 136.7M535.0 131.3Q535.9 133.8 537.1 136.2M526.9 122.7Q525.0 124.8 526.6 127.2M504.0 115.3Q507.5 115.3 508.4 118.6M470.9 103.9Q471.4 107.5 472.7 110.9M448.4 94.2Q448.8 96.1 450.3 97.3M636.8 132.7Q637.2 136.6 640.8 138.1M522.6 110.5Q524.1 113.5 527.2 112.4M562.0 95.6Q563.7 96.9 565.6 97.7M546.4 107.5Q548.3 109.3 549.2 111.7M584.5 114.4Q583.5 117.8 586.9 119.1M634.3 156.3Q633.8 160.8 630.3 163.6M424.5 113.7Q425.9 117.0 425.0 120.4M458.3 111.4Q457.9 115.8 462.0 117.2M470.4 99.7Q469.4 102.9 472.3 104.6M577.9 101.8Q581.7 103.0 584.7 105.6M568.4 119.1Q568.3 122.8 566.5 126.0M468.8 106.4Q468.6 109.2 471.4 109.7M475.3 135.8Q477.0 138.0 479.7 138.8" stroke="#c8c8c8" stroke-width="2.0"/><path d="M646.8 144.2Q649.8 147.6 654.3 147.5M658.5 128.7Q657.3 131.0 658.1 133.4M649.8 129.0Q653.0 128.6 655.2 130.9" stroke="#c8c8c8" stroke-width="2.5"/><path d="M383.3 93.6Q383.1 95.6 384.8 96.6M350.4 78.3Q352.7 80.8 352.0 84.1M352.3 95.0Q352.8 96.8 351.7 98.3M289.9 78.1Q290.4 80.8 293.1 80.4M242.6 63.5Q243.6 64.9 243.2 66.6M352.7 99.0Q353.5 100.9 352.9 102.8M362.5 76.2Q364.0 78.8 363.4 81.8M379.7 87.2Q378.1 88.2 378.4 90.2M417.1 91.5Q420.1 93.0 423.6 92.8M350.8 99.2Q353.0 99.5 352.7 101.8" stroke="#dcdcdc" stroke-width="1.5"/><path d="M455.2 92.0Q455.8 94.8 458.7 94.8M506.6 99.2Q509.7 99.6 509.6 102.7M456.5 86.3Q458.1 88.2 457.3 90.5M640.0 110.2Q639.5 113.1 641.9 114.7M497.5 96.2Q495.6 97.5 493.5 98.5M602.9 105.6Q601.1 107.2 600.6 109.6M547.6 113.5Q550.5 115.3 552.5 118.1M547.7 95.8Q548.1 99.9 552.2 99.7M596.0 114.1Q599.0 115.7 601.5 118.0M583.0 109.5Q583.4 113.6 581.6 117.3M636.7 151.3Q638.4 155.8 634.8 158.9M622.4 136.7Q621.7 140.3 622.9 143.8M600.2 113.8Q602.0 116.3 601.3 119.3M615.3 157.0Q619.8 155.6 623.9 158.1M562.6 114.4Q563.5 117.2 561.7 119.5" stroke="#dcdcdc" stroke-width="2.0"/><path d="M410.8 113.1Q414.2 114.8 412.6 118.2M337.9 78.6Q340.6 78.4 342.0 80.7M339.9 90.8Q341.0 92.3 341.7 94.1M405.7 79.8Q406.4 83.5 409.9 84.7M265.1 75.7Q264.2 78.8 267.0 80.4M360.9 75.4Q361.5 77.7 363.9 77.7" stroke="#f0f0f0" stroke-width="1.5"/><path d="M529.4 118.9Q529.9 122.0 533.0 122.4M426.2 91.9Q425.1 94.4 427.0 96.3M631.0 115.9Q633.4 117.8 635.9 116.2M611.1 140.0Q613.6 141.6 612.5 144.4M602.3 115.4Q599.7 118.8 600.2 123.0M624.4 104.5Q626.2 108.7 630.0 111.1M558.8 108.7Q562.6 111.0 560.3 114.9M631.7 142.4Q634.9 145.7 635.1 150.2M464.9 104.1Q466.5 106.2 464.8 108.3" stroke="#f0f0f0" stroke-width="2.0"/><path d="M652.3 111.3Q652.1 113.8 651.5 116.2" stroke="#f0f0f0" stroke-width="2.5"/><path d="M352.5 74.9Q355.1 76.6 355.8 79.7" stroke="#f5f5f5" stroke-width="1.5"/><path d="M573.6 96.9Q578.2 95.1 580.0 99.7M559.9 97.1Q563.7 98.5 564.8 102.3M581.0 102.3Q580.9 105.7 583.4 108.1M544.1 94.5Q545.9 96.6 548.6 97.2M453.8 87.4Q454.2 91.6 458.3 92.6M610.5 143.6Q615.7 142.8 617.7 147.7M577.8 96.4Q579.3 98.0 581.3 98.8" stroke="#f5f5f5" stroke-width="2.0"/><path d="M413.4 93.0Q415.1 94.1 416.5 95.7M275.7 79.5Q275.1 81.0 276.0 82.4M239.0 65.3Q239.6 67.1 238.1 68.4M348.1 87.7Q346.1 89.0 347.4 91.0M352.1 87.0Q353.3 88.6 352.8 90.6M326.4 90.3Q327.9 91.6 328.5 93.5M401.7 80.6Q403.8 81.0 405.1 82.8M319.6 83.0Q319.0 85.2 320.9 86.6M347.0 80.6Q347.6 83.4 350.5 84.0M311.8 81.8Q311.7 84.3 310.4 86.4M420.4 114.1Q418.2 116.5 420.5 118.9M299.9 81.2Q303.3 80.0 304.9 83.3M231.8 73.4Q232.3 74.7 233.3 75.7M390.9 104.9Q392.1 106.9 394.3 107.0M420.2 99.0Q420.3 101.3 418.4 102.6M317.5 94.5Q318.7 97.2 316.9 99.5M248.4 73.1Q248.9 75.6 248.5 78.1M289.5 72.7Q290.8 73.7 292.4 73.3M256.4 69.5Q255.9 71.1 256.7 72.5M349.3 73.6Q351.2 74.2 351.4 76.2M247.7 70.7Q248.3 72.3 247.2 73.6M357.8 72.8Q358.6 74.8 360.6 75.5M263.4 94.5Q263.5 96.4 262.0 97.5M355.5 81.6Q354.0 83.2 355.5 84.7M402.0 93.7Q404.0 94.0 405.6 95.5M413.9 90.6Q415.4 93.4 416.5 96.4M302.9 90.8Q306.0 91.7 306.5 95.0M339.8 84.2Q342.2 83.8 343.6 85.9M278.4 72.8Q278.5 74.4 280.0 75.0M253.2 75.5Q255.5 77.6 258.2 75.9M359.6 101.2Q358.0 103.0 359.3 105.1M355.7 105.9Q357.3 108.1 359.9 107.4M351.1 105.6Q353.3 108.7 350.6 111.4M315.8 82.2Q313.8 83.1 314.3 85.2M335.7 84.8Q337.5 84.7 338.8 85.9M318.4 88.5Q320.4 88.5 321.2 90.4M257.2 80.3Q258.7 80.9 258.7 82.6M412.6 89.3Q414.1 90.4 415.0 92.1M387.3 101.5Q389.8 102.5 392.5 102.4M363.3 82.6Q365.5 79.4 368.7 81.7M353.2 101.0Q351.7 102.4 352.3 104.4M342.9 99.4Q344.0 101.7 344.9 103.9M320.2 100.7Q322.3 102.6 324.5 104.3M388.3 80.9Q389.9 82.0 389.8 83.9M400.1 100.3Q400.2 102.6 402.6 102.6M271.3 81.6Q273.0 82.3 274.6 81.4M270.1 92.7Q272.1 93.2 272.3 95.3M229.3 72.6Q232.2 71.8 233.4 74.6M408.7 117.2Q410.7 116.0 412.3 117.6M257.8 78.5Q257.8 80.5 259.8 80.5M276.0 82.4Q276.8 84.6 277.7 86.8M394.3 76.0Q393.5 78.5 396.0 79.3M366.1 99.0Q366.5 101.5 367.0 104.0M315.3 93.0Q314.8 94.6 316.0 95.9M233.6 85.5Q235.0 87.2 235.3 89.3M275.7 81.1Q277.0 81.8 277.3 83.3" stroke="#505050" stroke-width="2.2"/><path d="M433.7 115.8Q432.7 119.6 436.0 121.8M601.2 155.5Q601.4 158.6 603.5 161.0M468.5 133.0Q470.1 135.5 472.9 136.7M541.9 108.0Q543.2 111.3 543.5 114.9M543.0 142.0Q547.2 145.0 544.2 149.4M557.7 103.8Q561.3 104.3 562.4 100.8M603.8 152.1Q608.4 151.7 609.9 156.0M530.3 140.2Q532.0 141.6 534.2 141.3M428.6 81.8Q431.2 82.0 432.8 84.0M617.1 164.1Q619.5 165.7 622.3 165.4M501.6 88.1Q504.3 89.4 507.0 90.4M565.9 92.2Q564.3 94.5 564.9 97.2M436.9 98.4Q436.9 100.4 437.2 102.3M431.1 79.5Q433.9 81.2 432.3 84.1M456.9 122.1Q458.7 124.2 461.3 125.3M644.9 130.4Q645.6 133.3 647.7 135.4M582.6 113.4Q581.7 116.5 582.1 119.7M589.6 123.3Q589.5 127.0 593.1 127.4M525.8 112.3Q526.9 114.4 528.2 116.5M531.8 138.4Q534.0 138.4 536.2 138.2M633.6 124.6Q630.5 127.2 632.9 130.4M501.4 99.6Q503.7 99.4 505.4 101.0M529.5 135.0Q532.3 137.1 533.3 140.4M447.9 83.7Q450.8 82.2 453.0 84.6M630.4 137.5Q633.7 139.8 637.7 138.9M509.8 114.6Q513.7 114.5 515.0 118.3M600.2 107.1Q603.6 106.8 605.3 109.8M434.8 92.9Q436.2 95.8 438.4 98.2M462.4 98.6Q465.3 94.8 469.2 97.5M618.7 113.5Q619.4 117.2 621.4 120.3M423.2 82.6Q424.0 85.2 426.8 85.3M587.8 92.8Q585.9 96.1 588.1 99.1M496.3 95.0Q499.5 95.7 498.8 98.9M483.6 117.7Q487.1 117.9 488.8 120.8M516.0 88.7Q513.9 92.9 517.7 95.7M597.6 129.0Q595.0 133.0 597.6 137.0M474.9 102.2Q476.3 103.9 477.4 105.8M612.7 108.2Q611.6 111.4 612.4 114.8M534.1 104.4Q534.5 107.7 532.3 110.2M623.7 131.3Q628.9 132.1 630.0 137.2M511.8 111.2Q515.4 112.2 519.1 112.9M555.1 134.9Q557.2 137.4 559.5 139.8M519.8 91.7Q518.9 93.7 519.4 95.9M464.1 103.4Q462.5 105.8 461.1 108.3M566.8 132.9Q567.8 136.4 571.4 135.7M606.5 110.9Q607.2 113.0 607.3 115.3M602.2 109.9Q605.0 111.1 604.9 114.1M487.7 113.6Q491.6 114.7 491.6 118.8M561.0 86.3Q558.3 90.2 561.7 93.5M588.9 101.9Q592.4 104.7 589.8 108.4M641.7 139.4Q646.6 140.4 648.3 145.1M449.0 84.6Q449.9 87.4 452.9 87.2M642.7 122.4Q646.6 120.3 649.6 123.5M437.2 88.9Q439.3 90.8 439.5 93.7M521.3 117.2Q521.0 120.2 522.0 123.1M430.5 81.2Q430.2 84.3 430.6 87.3M618.1 152.5Q620.2 153.5 622.4 153.5M510.9 85.9Q514.4 87.0 513.9 90.6M546.3 105.1Q545.4 107.2 546.6 109.2M541.0 143.8Q542.8 147.3 546.7 147.4M506.1 112.9Q509.7 113.4 510.6 116.9M501.9 102.1Q501.8 106.6 506.2 107.8M626.5 136.6Q627.7 139.6 628.8 142.7M484.9 128.2Q487.8 130.4 490.8 128.3M630.7 143.1Q632.3 146.5 632.5 150.3M478.5 96.5Q480.6 94.9 483.3 95.0M605.6 108.6Q609.9 110.7 609.4 115.5M492.4 123.3Q491.8 125.4 492.5 127.6M512.8 120.9Q515.4 122.8 517.0 125.7M634.7 109.0Q635.3 111.4 634.6 113.8M435.9 86.9Q434.3 90.0 436.3 92.8M643.3 123.0Q641.8 128.1 646.3 130.9M631.9 136.1Q634.6 139.4 636.0 143.5M484.6 125.1Q487.0 127.2 487.0 130.3M583.6 121.8Q586.5 121.2 589.1 122.8M469.3 101.7Q469.2 104.1 470.8 106.0M473.7 116.9Q475.2 120.3 475.0 124.0M603.7 135.3Q604.6 139.3 608.8 139.2M577.7 128.3Q581.6 127.5 585.2 129.0M559.3 116.3Q559.4 118.9 561.7 120.2M447.8 90.4Q448.7 92.8 451.3 92.8M522.6 105.6Q526.2 108.8 523.9 113.0" stroke="#505050" stroke-width="2.7"/><path d="M654.5 139.9Q657.5 143.6 662.1 143.0M644.0 118.2Q648.5 117.2 649.9 121.5M644.6 131.7Q646.5 133.0 648.7 133.4" stroke="#505050" stroke-width="3.2"/><path d="M351.1 105.6Q353.3 108.7 350.6 111.4" stroke="#787878" stroke-width="1.5"/><path d="M512.8 120.9Q515.4 122.8 517.0 125.7" stroke="#787878" stroke-width="2.0"/><path d="M420.4 114.1Q418.2 116.5 420.5 118.9M317.5 94.5Q318.7 97.2 316.9 99.5M359.6 101.2Q358.0 103.0 359.3 105.1" stroke="#8c8c8c" stroke-width="1.5"/><path d="M275.7 79.5Q275.1 81.0 276.0 82.4M390.9 104.9Q392.1 106.9 394.3 107.0M247.7 70.7Q248.3 72.3 247.2 73.6M357.8 72.8Q358.6 74.8 360.6 75.5M402.0 93.7Q404.0 94.0 405.6 95.5M339.8 84.2Q342.2 83.8 343.6 85.9M253.2 75.5Q255.5 77.6 258.2 75.9M257.2 80.3Q258.7 80.9 258.7 82.6M320.2 100.7Q322.3 102.6 324.5 104.3M229.3 72.6Q232.2 71.8 233.4 74.6M233.6 85.5Q235.0 87.2 235.3 89.3M275.7 81.1Q277.0 81.8 277.3 83.3" stroke="#a0a0a0" stroke-width="1.5"/><path d="M530.3 140.2Q532.0 141.6 534.2 141.3M617.1 164.1Q619.5 165.7 622.3 165.4M531.8 138.4Q534.0 138.4 536.2 138.2M509.8 114.6Q513.7 114.5 515.0 118.3M555.1 134.9Q557.2 137.4 559.5 139.8M566.8 132.9Q567.8 136.4 571.4 135.7M641.7 139.4Q646.6 140.4 648.3 145.1M643.3 123.0Q641.8 128.1 646.3 130.9" stroke="#a0a0a0" stroke-width="2.0"/><path d="M239.0 65.3Q239.6 67.1 238.1 68.4M311.8 81.8Q311.7 84.3 310.4 86.4M248.4 73.1Q248.9 75.6 248.5 78.1M289.5 72.7Q290.8 73.7 292.4 73.3M263.4 94.5Q263.5 96.4 262.0 97.5M302.9 90.8Q306.0 91.7 306.5 95.0M342.9 99.4Q344.0 101.7 344.9 103.9M388.3 80.9Q389.9 82.0 389.8 83.9M271.3 81.6Q273.0 82.3 274.6 81.4M408.7 117.2Q410.7 116.0 412.3 117.6M276.0 82.4Q276.8 84.6 277.7 86.8M366.1 99.0Q366.5 101.5 367.0 104.0M315.3 93.0Q314.8 94.6 316.0 95.9" stroke="#b4b4b4" stroke-width="1.5"/><path d="M433.7 115.8Q432.7 119.6 436.0 121.8M543.0 142.0Q547.2 145.0 544.2 149.4M456.9 122.1Q458.7 124.2 461.3 125.3M529.5 135.0Q532.3 137.1 533.3 140.4M630.4 137.5Q633.7 139.8 637.7 138.9M511.8 111.2Q515.4 112.2 519.1 112.9M487.7 113.6Q491.6 114.7 491.6 118.8M541.0 143.8Q542.8 147.3 546.7 147.4M484.9 128.2Q487.8 130.4 490.8 128.3M630.7 143.1Q632.3 146.5 632.5 150.3M492.4 123.3Q491.8 125.4 492.5 127.6M631.9 136.1Q634.6 139.4 636.0 143.5M447.8 90.4Q448.7 92.8 451.3 92.8" stroke="#b4b4b4" stroke-width="2.0"/><path d="M644.0 118.2Q648.5 117.2 649.9 121.5" stroke="#b4b4b4" stroke-width="2.5"/><path d="M413.4 93.0Q415.1 94.1 416.5 95.7M326.4 90.3Q327.9 91.6 328.5 93.5M319.6 83.0Q319.0 85.2 320.9 86.6M355.5 81.6Q354.0 83.2 355.5 84.7M278.4 72.8Q278.5 74.4 280.0 75.0M355.7 105.9Q357.3 108.1 359.9 107.4M412.6 89.3Q414.1 90.4 415.0 92.1M387.3 101.5Q389.8 102.5 392.5 102.4M400.1 100.3Q400.2 102.6 402.6 102.6M270.1 92.7Q272.1 93.2 272.3 95.3" stroke="#c8c8c8" stroke-width="1.5"/><path d="M601.2 155.5Q601.4 158.6 603.5 161.0M468.5 133.0Q470.1 135.5 472.9 136.7M603.8 152.1Q608.4 151.7 609.9 156.0M431.1 79.5Q433.9 81.2 432.3 84.1M447.9 83.7Q450.8 82.2 453.0 84.6M496.3 95.0Q499.5 95.7 498.8 98.9M483.6 117.7Q487.1 117.9 488.8 120.8M437.2 88.9Q439.3 90.8 439.5 93.7M478.5 96.5Q480.6 94.9 483.3 95.0M634.7 109.0Q635.3 111.4 634.6 113.8M484.6 125.1Q487.0 127.2 487.0 130.3M583.6 121.8Q586.5 121.2 589.1 122.8M577.7 128.3Q581.6 127.5 585.2 129.0M522.6 105.6Q526.2 108.8 523.9 113.0" stroke="#c8c8c8" stroke-width="2.0"/><path d="M654.5 139.9Q657.5 143.6 662.1 143.0M644.6 131.7Q646.5 133.0 648.7 133.4" stroke="#c8c8c8" stroke-width="2.5"/><path d="M348.1 87.7Q346.1 89.0 347.4 91.0M401.7 80.6Q403.8 81.0 405.1 82.8M299.9 81.2Q303.3 80.0 304.9 83.3M231.8 73.4Q232.3 74.7 233.3 75.7M256.4 69.5Q255.9 71.1 256.7 72.5M315.8 82.2Q313.8 83.1 314.3 85.2M257.8 78.5Q257.8 80.5 259.8 80.5" stroke="#dcdcdc" stroke-width="1.5"/><path d="M541.9 108.0Q543.2 111.3 543.5 114.9M436.9 98.4Q436.9 100.4 437.2 102.3M644.9 130.4Q645.6 133.3 647.7 135.4M582.6 113.4Q581.7 116.5 582.1 119.7M589.6 123.3Q589.5 127.0 593.1 127.4M633.6 124.6Q630.5 127.2 632.9 130.4M501.4 99.6Q503.7 99.4 505.4 101.0M434.8 92.9Q436.2 95.8 438.4 98.2M587.8 92.8Q585.9 96.1 588.1 99.1M623.7 131.3Q628.9 132.1 630.0 137.2M464.1 103.4Q462.5 105.8 461.1 108.3M602.2 109.9Q605.0 111.1 604.9 114.1M588.9 101.9Q592.4 104.7 589.8 108.4M449.0 84.6Q449.9 87.4 452.9 87.2M521.3 117.2Q521.0 120.2 522.0 123.1M430.5 81.2Q430.2 84.3 430.6 87.3M618.1 152.5Q620.2 153.5 622.4 153.5M546.3 105.1Q545.4 107.2 546.6 109.2M506.1 112.9Q509.7 113.4 510.6 116.9M501.9 102.1Q501.8 106.6 506.2 107.8M626.5 136.6Q627.7 139.6 628.8 142.7M605.6 108.6Q609.9 110.7 609.4 115.5M435.9 86.9Q434.3 90.0 436.3 92.8M473.7 116.9Q475.2 120.3 475.0 124.0M559.3 116.3Q559.4 118.9 561.7 120.2" stroke="#dcdcdc" stroke-width="2.0"/><path d="M352.1 87.0Q353.3 88.6 352.8 90.6M347.0 80.6Q347.6 83.4 350.5 84.0M420.2 99.0Q420.3 101.3 418.4 102.6M318.4 88.5Q320.4 88.5 321.2 90.4M353.2 101.0Q351.7 102.4 352.3 104.4M394.3 76.0Q393.5 78.5 396.0 79.3" stroke="#f0f0f0" stroke-width="1.5"/><path d="M428.6 81.8Q431.2 82.0 432.8 84.0M501.6 88.1Q504.3 89.4 507.0 90.4M565.9 92.2Q564.3 94.5 564.9 97.2M525.8 112.3Q526.9 114.4 528.2 116.5M600.2 107.1Q603.6 106.8 605.3 109.8M462.4 98.6Q465.3 94.8 469.2 97.5M423.2 82.6Q424.0 85.2 426.8 85.3M516.0 88.7Q513.9 92.9 517.7 95.7M597.6 129.0Q595.0 133.0 597.6 137.0M474.9 102.2Q476.3 103.9 477.4 105.8M612.7 108.2Q611.6 111.4 612.4 114.8M519.8 91.7Q518.9 93.7 519.4 95.9M561.0 86.3Q558.3 90.2 561.7 93.5M510.9 85.9Q514.4 87.0 513.9 90.6M469.3 101.7Q469.2 104.1 470.8 106.0M603.7 135.3Q604.6 139.3 608.8 139.2" stroke="#f0f0f0" stroke-width="2.0"/><path d="M349.3 73.6Q351.2 74.2 351.4 76.2M413.9 90.6Q415.4 93.4 416.5 96.4M335.7 84.8Q337.5 84.7 338.8 85.9M363.3 82.6Q365.5 79.4 368.7 81.7" stroke="#f5f5f5" stroke-width="1.5"/><path d="M557.7 103.8Q561.3 104.3 562.4 100.8M618.7 113.5Q619.4 117.2 621.4 120.3M534.1 104.4Q534.5 107.7 532.3 110.2M606.5 110.9Q607.2 113.0 607.3 115.3M642.7 122.4Q646.6 120.3 649.6 123.5" stroke="#f5f5f5" stroke-width="2.0"/><path d="M413.6 105.5Q413.3 107.7 414.9 109.3M290.0 83.8Q290.5 85.4 291.9 86.3M290.6 89.3Q293.2 88.9 294.5 91.3M383.2 109.7Q382.3 112.7 383.6 115.5M391.1 79.4Q393.6 80.9 395.8 82.8M242.7 77.6Q240.6 79.7 241.5 82.4M417.2 100.1Q418.3 102.6 419.1 105.3M292.6 95.6Q294.2 97.7 294.2 100.3M301.7 71.4Q302.9 72.4 304.0 73.4M355.1 93.5Q354.9 95.1 355.4 96.7M379.2 81.9Q377.3 82.7 377.6 84.8M405.3 101.6Q408.3 99.7 411.2 101.8M343.1 98.0Q346.0 98.8 346.6 101.7M238.5 63.2Q239.3 64.9 239.3 66.9M383.6 91.3Q385.3 92.5 387.2 93.2M331.1 87.4Q333.6 89.1 334.5 92.1M339.3 94.3Q339.7 96.9 341.6 98.7M256.7 77.5Q258.7 79.0 259.5 81.5M413.7 111.9Q415.9 113.9 417.9 116.1M351.8 92.7Q349.2 94.9 351.3 97.6M408.2 97.6Q409.9 97.9 411.6 98.2M320.7 83.7Q323.0 83.1 325.1 84.4M331.6 74.2Q333.0 76.0 334.9 74.9M242.3 63.9Q243.6 65.5 243.4 67.5M262.2 75.6Q260.9 76.9 261.5 78.7M325.8 93.7Q327.8 95.7 326.1 98.1M365.0 97.6Q368.1 98.1 369.0 101.0M419.9 105.8Q422.4 107.5 423.2 110.3M285.2 83.8Q286.2 85.4 288.1 85.6M241.8 83.8Q244.4 82.9 245.3 85.5M406.7 113.1Q409.7 112.5 411.3 115.0M414.3 87.1Q415.4 89.0 417.5 88.1M417.1 85.4Q416.3 88.9 419.4 90.8M390.6 104.5Q391.7 106.3 392.8 108.1M347.5 88.0Q347.3 90.1 349.1 91.2M249.2 86.3Q247.6 86.5 246.5 87.7M320.5 73.8Q320.2 75.9 322.1 76.7M267.6 65.0Q266.8 67.8 269.2 69.4M353.2 102.3Q354.4 103.7 355.5 105.2M394.1 93.7Q395.4 95.2 394.9 97.1M268.2 77.5Q267.5 79.0 265.9 78.9M400.9 84.8Q402.3 87.0 404.7 88.1M282.2 78.4Q283.4 81.0 281.4 83.1M268.0 74.9Q268.5 76.3 267.9 77.6M241.1 63.8Q240.7 66.9 243.6 67.8M291.7 68.9Q292.5 70.7 293.9 72.0M286.0 83.0Q285.3 84.9 287.3 85.6M338.2 88.6Q339.9 90.0 340.8 92.1M374.2 94.7Q372.8 96.4 374.0 98.2M268.3 88.2Q269.8 89.2 269.2 90.8M236.9 78.7Q237.9 80.1 239.0 81.4M238.6 72.8Q240.3 73.1 241.0 74.8M340.1 77.7Q340.5 79.2 341.3 80.6M266.3 90.4Q268.6 89.8 270.7 90.9M232.6 70.0Q233.8 70.8 235.2 70.7" stroke="#505050" stroke-width="2.2"/><path d="M565.0 109.4Q567.1 110.9 567.9 113.5M623.7 110.7Q621.9 113.7 622.2 117.2M436.4 110.2Q437.7 111.8 439.0 113.4M450.3 82.7Q449.4 85.4 449.3 88.2M439.5 105.6Q439.3 107.7 438.2 109.3M492.9 117.6Q494.6 119.3 494.0 121.7M477.5 117.2Q480.6 119.1 483.9 120.6M471.2 95.3Q475.2 92.8 477.7 96.8M539.4 147.3Q540.8 149.8 542.9 151.8M523.2 121.2Q522.6 123.7 520.3 125.0M563.0 132.2Q564.7 133.8 564.9 136.2M458.4 122.2Q458.8 124.1 459.5 125.8M441.9 104.0Q441.2 106.7 443.7 107.8M601.2 146.2Q602.6 147.9 603.4 150.0M633.8 143.8Q630.1 145.8 630.8 150.0M459.7 117.1Q456.3 119.1 457.3 122.9M492.6 97.7Q496.7 97.9 498.3 101.7M500.5 111.0Q498.7 112.2 498.9 114.4M460.2 106.1Q462.2 105.4 463.1 103.5M474.3 103.5Q470.1 104.8 471.2 109.0M546.5 122.1Q548.9 122.4 550.7 124.1M437.2 89.4Q436.7 92.6 439.8 93.6M557.6 104.0Q557.9 106.3 557.0 108.5M432.9 111.1Q432.2 114.0 430.8 116.5M634.7 143.1Q636.4 146.1 636.6 149.5M639.3 102.5Q641.2 104.7 643.7 106.2M446.1 100.1Q446.4 102.9 445.7 105.7M631.9 118.4Q634.8 120.5 633.4 123.8M532.3 134.5Q532.7 137.1 534.8 138.5M630.3 105.6Q634.5 107.1 638.4 109.2M494.5 119.4Q496.9 118.3 498.6 120.3M485.9 108.5Q487.0 110.1 488.4 111.4M586.1 141.1Q586.6 143.6 588.9 144.4M633.4 131.2Q636.8 135.6 632.5 139.0M563.3 98.3Q564.9 99.8 566.6 101.1M508.4 93.1Q511.5 93.0 513.2 95.6M504.5 118.9Q505.9 120.9 505.5 123.4M581.5 123.5Q582.0 127.2 584.5 129.9M594.1 110.7Q597.4 114.3 602.0 112.9M466.2 102.3Q465.9 105.5 463.8 107.9M429.2 102.8Q430.4 105.0 428.9 107.1M634.2 143.6Q636.9 145.7 640.1 146.1M436.2 120.2Q437.2 121.8 436.8 123.8M535.1 122.0Q538.5 121.7 539.3 124.9M567.9 124.9Q569.5 128.4 566.1 130.2M571.7 128.3Q571.7 133.4 576.8 133.5M582.5 92.9Q582.5 97.9 587.4 98.8M497.1 106.7Q498.5 109.3 499.8 112.0M440.2 95.4Q442.4 97.6 441.4 100.5M513.6 94.7Q514.2 97.8 514.9 100.8M466.6 113.1Q468.0 114.6 468.2 116.6M569.7 99.3Q568.7 103.8 573.1 105.3M599.9 144.2Q602.8 145.8 603.1 149.1M482.5 132.1Q481.5 135.6 484.8 137.2M439.3 91.6Q439.5 93.7 441.6 94.2M623.7 158.5Q625.5 156.8 627.5 155.5M634.5 157.4Q633.3 160.3 635.0 163.0M618.3 138.8Q617.9 143.1 618.3 147.5M539.3 120.2Q541.6 123.1 544.9 121.7M499.5 87.5Q499.4 91.3 501.0 94.7M522.7 98.7Q525.1 98.3 527.3 99.7M546.3 93.4Q550.8 92.3 552.1 96.8M525.0 127.3Q522.6 130.0 524.7 132.9M642.9 145.8Q646.5 147.8 650.0 149.9M541.8 110.0Q541.0 113.7 544.6 114.7M545.2 104.7Q542.9 106.2 543.7 108.8M521.5 103.2Q525.0 104.4 527.3 107.4M621.6 152.1Q624.3 153.8 625.5 156.7M527.8 126.2Q528.3 128.8 530.6 130.0M439.8 87.6Q441.5 91.5 445.4 89.8M574.5 94.7Q576.0 97.9 579.4 99.1M556.0 121.5Q558.9 122.4 561.8 122.2M435.5 79.3Q435.1 81.5 436.1 83.6M581.8 92.7Q582.8 96.1 580.8 99.1M435.9 93.2Q434.2 95.3 435.2 97.9M477.0 90.7Q478.7 93.3 479.8 96.1M611.5 140.1Q611.2 143.8 611.4 147.5M605.3 143.8Q608.1 146.8 612.2 147.4" stroke="#505050" stroke-width="2.7"/><path d="M655.9 112.0Q652.6 116.4 656.7 120.1M643.3 108.9Q646.9 106.6 649.9 109.6M653.7 104.2Q656.9 104.1 658.4 106.9M654.5 139.6Q656.6 141.5 659.1 140.2M644.3 110.4Q647.5 113.6 649.5 117.6M655.2 106.3Q657.8 107.8 659.8 110.0M646.9 127.4Q650.4 128.1 650.3 131.7M656.3 121.2Q660.4 119.0 663.1 122.8" stroke="#505050" stroke-width="3.2"/><path d="M236.9 78.7Q237.9 80.1 239.0 81.4" stroke="#787878" stroke-width="1.5"/><path d="M459.7 117.1Q456.3 119.1 457.3 122.9" stroke="#787878" stroke-width="2.0"/><path d="M383.2 109.7Q382.3 112.7 383.6 115.5M285.2 83.8Q286.2 85.4 288.1 85.6M390.6 104.5Q391.7 106.3 392.8 108.1M282.2 78.4Q283.4 81.0 281.4 83.1M266.3 90.4Q268.6 89.8 270.7 90.9" stroke="#8c8c8c" stroke-width="1.5"/><path d="M436.2 120.2Q437.2 121.8 436.8 123.8M621.6 152.1Q624.3 153.8 625.5 156.7M527.8 126.2Q528.3 128.8 530.6 130.0" stroke="#8c8c8c" stroke-width="2.0"/><path d="M242.7 77.6Q240.6 79.7 241.5 82.4M292.6 95.6Q294.2 97.7 294.2 100.3M355.1 93.5Q354.9 95.1 355.4 96.7M405.3 101.6Q408.3 99.7 411.2 101.8M256.7 77.5Q258.7 79.0 259.5 81.5M365.0 97.6Q368.1 98.1 369.0 101.0M241.8 83.8Q244.4 82.9 245.3 85.5M249.2 86.3Q247.6 86.5 246.5 87.7M286.0 83.0Q285.3 84.9 287.3 85.6M268.3 88.2Q269.8 89.2 269.2 90.8" stroke="#a0a0a0" stroke-width="1.5"/><path d="M439.5 105.6Q439.3 107.7 438.2 109.3M539.4 147.3Q540.8 149.8 542.9 151.8M633.8 143.8Q630.1 145.8 630.8 150.0M432.9 111.1Q432.2 114.0 430.8 116.5M571.7 128.3Q571.7 133.4 576.8 133.5M466.6 113.1Q468.0 114.6 468.2 116.6M642.9 145.8Q646.5 147.8 650.0 149.9" stroke="#a0a0a0" stroke-width="2.0"/><path d="M290.0 83.8Q290.5 85.4 291.9 86.3M383.6 91.3Q385.3 92.5 387.2 93.2M331.1 87.4Q333.6 89.1 334.5 92.1M325.8 93.7Q327.8 95.7 326.1 98.1M419.9 105.8Q422.4 107.5 423.2 110.3" stroke="#b4b4b4" stroke-width="1.5"/><path d="M436.4 110.2Q437.7 111.8 439.0 113.4M523.2 121.2Q522.6 123.7 520.3 125.0M563.0 132.2Q564.7 133.8 564.9 136.2M458.4 122.2Q458.8 124.1 459.5 125.8M441.9 104.0Q441.2 106.7 443.7 107.8M532.3 134.5Q532.7 137.1 534.8 138.5M586.1 141.1Q586.6 143.6 588.9 144.4M633.4 131.2Q636.8 135.6 632.5 139.0M623.7 158.5Q625.5 156.8 627.5 155.5M634.5 157.4Q633.3 160.3 635.0 163.0" stroke="#b4b4b4" stroke-width="2.0"/><path d="M655.9 112.0Q652.6 116.4 656.7 120.1" stroke="#b4b4b4" stroke-width="2.5"/><path d="M290.6 89.3Q293.2 88.9 294.5 91.3M343.1 98.0Q346.0 98.8 346.6 101.7M413.7 111.9Q415.9 113.9 417.9 116.1M320.7 83.7Q323.0 83.1 325.1 84.4M242.3 63.9Q243.6 65.5 243.4 67.5M406.7 113.1Q409.7 112.5 411.3 115.0M347.5 88.0Q347.3 90.1 349.1 91.2M267.6 65.0Q266.8 67.8 269.2 69.4M353.2 102.3Q354.4 103.7 355.5 105.2M268.0 74.9Q268.5 76.3 267.9 77.6M241.1 63.8Q240.7 66.9 243.6 67.8M374.2 94.7Q372.8 96.4 374.0 98.2M340.1 77.7Q340.5 79.2 341.3 80.6" stroke="#c8c8c8" stroke-width="1.5"/><path d="M450.3 82.7Q449.4 85.4 449.3 88.2M492.9 117.6Q494.6 119.3 494.0 121.7M601.2 146.2Q602.6 147.9 603.4 150.0M492.6 97.7Q496.7 97.9 498.3 101.7M500.5 111.0Q498.7 112.2 498.9 114.4M546.5 122.1Q548.9 122.4 550.7 124.1M437.2 89.4Q436.7 92.6 439.8 93.6M557.6 104.0Q557.9 106.3 557.0 108.5M446.1 100.1Q446.4 102.9 445.7 105.7M494.5 119.4Q496.9 118.3 498.6 120.3M485.9 108.5Q487.0 110.1 488.4 111.4M504.5 118.9Q505.9 120.9 505.5 123.4M581.5 123.5Q582.0 127.2 584.5 129.9M429.2 102.8Q430.4 105.0 428.9 107.1M535.1 122.0Q538.5 121.7 539.3 124.9M567.9 124.9Q569.5 128.4 566.1 130.2M599.9 144.2Q602.8 145.8 603.1 149.1M482.5 132.1Q481.5 135.6 484.8 137.2M439.3 91.6Q439.5 93.7 441.6 94.2M499.5 87.5Q499.4 91.3 501.0 94.7M522.7 98.7Q525.1 98.3 527.3 99.7M546.3 93.4Q550.8 92.3 552.1 96.8M525.0 127.3Q522.6 130.0 524.7 132.9M439.8 87.6Q441.5 91.5 445.4 89.8M574.5 94.7Q576.0 97.9 579.4 99.1M556.0 121.5Q558.9 122.4 561.8 122.2" stroke="#c8c8c8" stroke-width="2.0"/><path d="M644.3 110.4Q647.5 113.6 649.5 117.6M655.2 106.3Q657.8 107.8 659.8 110.0M646.9 127.4Q650.4 128.1 650.3 131.7M656.3 121.2Q660.4 119.0 663.1 122.8" stroke="#c8c8c8" stroke-width="2.5"/><path d="M413.6 105.5Q413.3 107.7 414.9 109.3M417.2 100.1Q418.3 102.6 419.1 105.3M301.7 71.4Q302.9 72.4 304.0 73.4M238.5 63.2Q239.3 64.9 239.3 66.9M339.3 94.3Q339.7 96.9 341.6 98.7M351.8 92.7Q349.2 94.9 351.3 97.6M408.2 97.6Q409.9 97.9 411.6 98.2M331.6 74.2Q333.0 76.0 334.9 74.9M417.1 85.4Q416.3 88.9 419.4 90.8M320.5 73.8Q320.2 75.9 322.1 76.7M394.1 93.7Q395.4 95.2 394.9 97.1M268.2 77.5Q267.5 79.0 265.9 78.9M400.9 84.8Q402.3 87.0 404.7 88.1M291.7 68.9Q292.5 70.7 293.9 72.0M338.2 88.6Q339.9 90.0 340.8 92.1M238.6 72.8Q240.3 73.1 241.0 74.8M232.6 70.0Q233.8 70.8 235.2 70.7" stroke="#dcdcdc" stroke-width="1.5"/><path d="M565.0 109.4Q567.1 110.9 567.9 113.5M477.5 117.2Q480.6 119.1 483.9 120.6M474.3 103.5Q470.1 104.8 471.2 109.0M634.7 143.1Q636.4 146.1 636.6 149.5M631.9 118.4Q634.8 120.5 633.4 123.8M594.1 110.7Q597.4 114.3 602.0 112.9M497.1 106.7Q498.5 109.3 499.8 112.0M513.6 94.7Q514.2 97.8 514.9 100.8M569.7 99.3Q568.7 103.8 573.1 105.3M618.3 138.8Q617.9 143.1 618.3 147.5M539.3 120.2Q541.6 123.1 544.9 121.7M521.5 103.2Q525.0 104.4 527.3 107.4M435.5 79.3Q435.1 81.5 436.1 83.6M581.8 92.7Q582.8 96.1 580.8 99.1M611.5 140.1Q611.2 143.8 611.4 147.5M605.3 143.8Q608.1 146.8 612.2 147.4" stroke="#dcdcdc" stroke-width="2.0"/><path d="M643.3 108.9Q646.9 106.6 649.9 109.6M654.5 139.6Q656.6 141.5 659.1 140.2" stroke="#dcdcdc" stroke-width="2.5"/><path d="M391.1 79.4Q393.6 80.9 395.8 82.8" stroke="#f0f0f0" stroke-width="1.5"/><path d="M460.2 106.1Q462.2 105.4 463.1 103.5M630.3 105.6Q634.5 107.1 638.4 109.2M466.2 102.3Q465.9 105.5 463.8 107.9M634.2 143.6Q636.9 145.7 640.1 146.1M440.2 95.4Q442.4 97.6 441.4 100.5M545.2 104.7Q542.9 106.2 543.7 108.8" stroke="#f0f0f0" stroke-width="2.0"/><path d="M653.7 104.2Q656.9 104.1 658.4 106.9" stroke="#f0f0f0" stroke-width="2.5"/><path d="M379.2 81.9Q377.3 82.7 377.6 84.8M262.2 75.6Q260.9 76.9 261.5 78.7M414.3 87.1Q415.4 89.0 417.5 88.1" stroke="#f5f5f5" stroke-width="1.5"/><path d="M623.7 110.7Q621.9 113.7 622.2 117.2M471.2 95.3Q475.2 92.8 477.7 96.8M639.3 102.5Q641.2 104.7 643.7 106.2M563.3 98.3Q564.9 99.8 566.6 101.1M508.4 93.1Q511.5 93.0 513.2 95.6M582.5 92.9Q582.5 97.9 587.4 98.8M541.8 110.0Q541.0 113.7 544.6 114.7M435.9 93.2Q434.2 95.3 435.2 97.9M477.0 90.7Q478.7 93.3 479.8 96.1" stroke="#f5f5f5" stroke-width="2.0"/><path d="M303.6 92.9Q306.0 94.0 308.6 94.8M393.4 74.4Q393.2 76.6 394.3 78.6M328.0 69.2Q325.5 70.9 325.1 73.9M402.5 79.4Q403.6 81.7 406.0 82.1M304.9 88.2Q303.1 89.6 303.9 91.7M409.3 96.7Q411.0 98.2 411.5 100.3M261.0 88.0Q262.3 89.7 264.1 88.7M289.9 94.4Q290.4 96.2 291.4 97.8M367.8 74.7Q368.9 76.7 369.9 78.6M272.6 70.3Q275.0 68.9 277.6 70.1M278.3 72.5Q277.1 75.6 279.8 77.5M317.1 100.0Q317.8 102.4 318.9 104.7M262.2 85.5Q262.5 87.0 262.6 88.4M303.3 74.8Q303.9 77.3 304.5 79.9M288.6 90.7Q288.0 92.3 287.0 93.8M344.2 107.5Q345.8 110.0 346.3 113.0M370.6 80.9Q369.1 82.8 368.8 85.1M364.8 84.6Q365.5 87.5 364.4 90.3M380.5 85.7Q381.0 88.0 383.0 89.0M304.6 93.2Q306.8 94.0 306.2 96.2M389.7 82.3Q388.6 85.6 391.7 87.1M281.1 92.1Q282.2 93.5 281.3 94.9M416.0 105.5Q419.0 107.5 421.5 104.8M329.6 92.7Q331.0 93.8 332.4 94.9M331.0 100.6Q334.0 98.8 336.4 101.3M361.0 100.1Q359.5 102.5 359.4 105.4M268.3 93.7Q269.0 95.5 270.9 95.1M383.5 103.2Q383.3 106.8 386.8 107.7M305.6 74.0Q307.6 75.9 307.0 78.6M320.4 80.9Q322.7 81.2 325.0 80.4M414.1 114.0Q416.4 116.4 416.9 119.6M301.4 98.3Q298.3 97.7 297.7 100.7M300.2 78.0Q300.4 79.5 301.3 80.8M295.5 89.1Q294.5 90.4 294.7 92.1M241.4 66.2Q241.6 67.5 242.0 68.8M291.5 91.8Q292.0 93.8 294.0 93.5M258.0 85.7Q259.0 87.6 259.3 89.6M269.9 69.5Q272.5 68.0 274.1 70.4M388.1 77.1Q391.1 76.6 392.7 79.2M238.9 92.8Q240.1 93.0 241.4 93.2M367.2 104.7Q369.3 104.8 370.0 106.8M283.7 72.9Q282.4 75.6 284.6 77.7M345.7 103.5Q345.9 106.8 349.2 106.7M365.2 93.9Q365.9 95.6 367.8 95.8M407.0 81.5Q407.1 84.4 409.9 84.9M331.7 90.4Q330.1 92.5 330.8 95.0M262.2 80.4Q261.6 82.6 259.2 82.9" stroke="#505050" stroke-width="2.2"/><path d="M590.1 128.7Q589.1 131.1 587.8 133.5M467.1 120.8Q468.7 123.9 472.1 124.5M594.6 114.0Q597.5 116.5 596.0 120.1M559.2 101.0Q556.0 104.2 558.8 107.8M532.5 97.5Q532.8 101.2 533.5 104.8M517.8 118.9Q521.5 120.4 520.7 124.4M528.6 125.4Q529.2 128.5 532.2 129.3M486.0 109.1Q489.2 108.2 490.8 111.1M561.4 114.4Q564.2 115.2 567.1 115.2M611.5 115.2Q613.2 119.9 618.2 120.1M522.4 115.0Q524.5 116.5 523.8 119.0M447.7 106.9Q448.2 109.7 445.5 110.9M603.3 137.2Q607.5 139.8 605.2 144.2M592.5 102.9Q595.8 104.7 598.8 102.6M516.6 106.7Q516.7 109.4 515.4 111.9M460.9 96.9Q462.8 99.6 465.7 101.2M530.0 101.4Q527.7 102.2 526.8 104.5M444.0 109.1Q446.4 111.1 449.5 110.6M637.2 124.9Q640.5 125.9 643.9 125.7M510.8 115.4Q513.2 117.2 512.0 120.0M421.0 94.9Q423.2 97.0 426.1 96.4M533.9 128.5Q532.6 130.8 532.8 133.3M421.3 104.7Q423.4 105.9 425.5 107.3M554.6 132.5Q556.6 134.7 559.3 136.0M631.3 158.3Q629.3 162.3 632.7 165.4M631.9 147.5Q635.4 147.9 635.9 151.4M435.6 85.7Q435.8 88.9 433.3 90.7M615.8 163.7Q618.3 162.7 620.7 163.8M534.4 105.5Q532.1 109.2 535.3 112.0M606.6 144.3Q606.0 147.6 607.8 150.3M634.7 112.6Q633.4 115.9 630.9 118.3M455.5 106.7Q457.9 106.3 460.3 105.8M530.7 138.1Q533.0 137.5 535.3 137.0M625.6 123.1Q628.2 124.7 627.4 127.7M546.7 104.0Q550.6 105.1 551.0 109.1M484.2 116.1Q483.1 119.7 485.2 122.8M517.8 125.4Q521.1 125.1 521.7 128.4M616.0 118.4Q617.9 120.9 620.9 121.7M592.3 112.3Q594.6 110.3 597.5 111.5M470.9 110.2Q469.1 113.3 468.9 116.8M633.7 138.6Q639.1 140.2 638.0 145.7M439.7 80.0Q437.1 82.5 439.1 85.6M510.1 91.9Q511.9 92.7 513.8 93.1M498.3 109.8Q500.6 106.8 504.4 106.2M511.6 103.4Q512.2 107.3 516.2 107.4M542.7 126.9Q545.1 127.9 547.4 129.2M522.0 100.2Q524.9 104.5 529.5 102.2M471.6 104.3Q470.5 106.9 473.0 108.4M552.5 102.4Q555.1 104.6 555.4 108.1M512.3 100.3Q515.2 102.8 518.9 103.6M579.2 132.4Q581.7 134.6 579.9 137.4M512.6 109.3Q515.8 111.8 516.6 115.8M549.6 92.7Q551.0 96.5 547.8 98.8M604.2 123.1Q605.3 125.9 608.3 125.7M425.9 89.3Q428.5 90.3 430.9 91.9M561.8 95.0Q564.6 92.8 566.8 95.6M520.9 133.2Q520.4 137.9 525.0 139.1M548.1 125.2Q547.0 127.7 548.3 130.1M534.8 125.5Q537.8 124.9 538.9 127.7M535.9 101.4Q538.5 100.1 540.2 102.3M422.0 122.0Q423.0 124.9 425.9 125.8M608.2 126.3Q610.8 127.1 611.9 129.6M497.2 95.1Q499.9 96.7 502.0 94.3M454.0 99.9Q453.7 102.8 456.5 103.3M570.6 114.7Q573.4 115.8 572.5 118.7M582.1 107.0Q584.2 108.4 586.4 109.6M551.0 96.9Q551.1 99.1 552.5 100.8M603.3 134.1Q603.3 137.1 604.0 140.0M595.7 125.9Q598.8 129.6 595.4 133.0M441.5 113.9Q437.9 115.9 439.9 119.5M469.4 118.3Q472.7 119.5 475.4 117.4M526.5 139.9Q528.7 141.5 530.3 143.6M434.8 101.7Q436.7 100.2 438.8 101.4M450.8 100.8Q452.1 102.9 450.2 104.6M603.9 111.6Q607.6 113.3 608.4 117.3M593.0 107.6Q593.7 111.2 596.4 113.6M512.6 96.9Q512.8 99.4 514.8 100.8M564.0 100.1Q563.0 103.3 565.9 104.9M620.7 127.7Q621.7 130.7 624.9 131.0M498.9 88.2Q501.7 90.8 500.0 94.3M462.6 85.4Q459.3 87.5 459.9 91.4M562.1 97.5Q564.8 99.4 566.6 102.2M480.9 99.8Q482.7 104.0 479.2 106.9M532.7 147.3Q534.2 149.7 537.0 150.0M422.0 112.2Q423.1 113.8 423.3 115.8M562.2 113.8Q560.1 117.8 562.2 121.9M518.6 125.7Q516.6 128.3 518.9 130.6M627.2 107.5Q629.5 108.7 630.8 111.1" stroke="#505050" stroke-width="2.7"/><path d="M656.6 112.0Q658.5 115.7 662.6 116.4M648.6 138.2Q653.8 138.1 655.7 143.0M648.5 148.6Q652.8 149.0 656.1 146.0M660.7 102.9Q659.4 105.4 658.6 108.0M654.4 102.2Q653.8 105.1 656.0 107.2M646.0 106.8Q646.7 111.2 650.6 113.4" stroke="#505050" stroke-width="3.2"/><path d="M518.6 125.7Q516.6 128.3 518.9 130.6" stroke="#787878" stroke-width="2.0"/><path d="M361.0 100.1Q359.5 102.5 359.4 105.4M268.3 93.7Q269.0 95.5 270.9 95.1M291.5 91.8Q292.0 93.8 294.0 93.5M345.7 103.5Q345.9 106.8 349.2 106.7" stroke="#8c8c8c" stroke-width="1.5"/><path d="M444.0 109.1Q446.4 111.1 449.5 110.6M526.5 139.9Q528.7 141.5 530.3 143.6" stroke="#8c8c8c" stroke-width="2.0"/><path d="M303.6 92.9Q306.0 94.0 308.6 94.8M304.9 88.2Q303.1 89.6 303.9 91.7M289.9 94.4Q290.4 96.2 291.4 97.8M278.3 72.5Q277.1 75.6 279.8 77.5M304.6 93.2Q306.8 94.0 306.2 96.2M383.5 103.2Q383.3 106.8 386.8 107.7M295.5 89.1Q294.5 90.4 294.7 92.1M238.9 92.8Q240.1 93.0 241.4 93.2" stroke="#a0a0a0" stroke-width="1.5"/><path d="M554.6 132.5Q556.6 134.7 559.3 136.0M606.6 144.3Q606.0 147.6 607.8 150.3M634.7 112.6Q633.4 115.9 630.9 118.3M498.3 109.8Q500.6 106.8 504.4 106.2" stroke="#a0a0a0" stroke-width="2.0"/><path d="M261.0 88.0Q262.3 89.7 264.1 88.7M317.1 100.0Q317.8 102.4 318.9 104.7M288.6 90.7Q288.0 92.3 287.0 93.8M281.1 92.1Q282.2 93.5 281.3 94.9M329.6 92.7Q331.0 93.8 332.4 94.9M301.4 98.3Q298.3 97.7 297.7 100.7M300.2 78.0Q300.4 79.5 301.3 80.8M258.0 85.7Q259.0 87.6 259.3 89.6M269.9 69.5Q272.5 68.0 274.1 70.4M367.2 104.7Q369.3 104.8 370.0 106.8M283.7 72.9Q282.4 75.6 284.6 77.7M331.7 90.4Q330.1 92.5 330.8 95.0" stroke="#b4b4b4" stroke-width="1.5"/><path d="M590.1 128.7Q589.1 131.1 587.8 133.5M517.8 118.9Q521.5 120.4 520.7 124.4M486.0 109.1Q489.2 108.2 490.8 111.1M603.3 137.2Q607.5 139.8 605.2 144.2M533.9 128.5Q532.6 130.8 532.8 133.3M484.2 116.1Q483.1 119.7 485.2 122.8M517.8 125.4Q521.1 125.1 521.7 128.4M552.5 102.4Q555.1 104.6 555.4 108.1M512.6 109.3Q515.8 111.8 516.6 115.8M520.9 133.2Q520.4 137.9 525.0 139.1M422.0 122.0Q423.0 124.9 425.9 125.8M454.0 99.9Q453.7 102.8 456.5 103.3M595.7 125.9Q598.8 129.6 595.4 133.0M441.5 113.9Q437.9 115.9 439.9 119.5M532.7 147.3Q534.2 149.7 537.0 150.0M422.0 112.2Q423.1 113.8 423.3 115.8" stroke="#b4b4b4" stroke-width="2.0"/><path d="M262.2 85.5Q262.5 87.0 262.6 88.4M344.2 107.5Q345.8 110.0 346.3 113.0M364.8 84.6Q365.5 87.5 364.4 90.3M331.0 100.6Q334.0 98.8 336.4 101.3M414.1 114.0Q416.4 116.4 416.9 119.6M365.2 93.9Q365.9 95.6 367.8 95.8M407.0 81.5Q407.1 84.4 409.9 84.9M262.2 80.4Q261.6 82.6 259.2 82.9" stroke="#c8c8c8" stroke-width="1.5"/><path d="M467.1 120.8Q468.7 123.9 472.1 124.5M561.4 114.4Q564.2 115.2 567.1 115.2M447.7 106.9Q448.2 109.7 445.5 110.9M516.6 106.7Q516.7 109.4 515.4 111.9M460.9 96.9Q462.8 99.6 465.7 101.2M510.8 115.4Q513.2 117.2 512.0 120.0M631.3 158.3Q629.3 162.3 632.7 165.4M615.8 163.7Q618.3 162.7 620.7 163.8M616.0 118.4Q617.9 120.9 620.9 121.7M633.7 138.6Q639.1 140.2 638.0 145.7M511.6 103.4Q512.2 107.3 516.2 107.4M542.7 126.9Q545.1 127.9 547.4 129.2M534.8 125.5Q537.8 124.9 538.9 127.7M570.6 114.7Q573.4 115.8 572.5 118.7M603.3 134.1Q603.3 137.1 604.0 140.0M450.8 100.8Q452.1 102.9 450.2 104.6M564.0 100.1Q563.0 103.3 565.9 104.9M562.2 113.8Q560.1 117.8 562.2 121.9" stroke="#c8c8c8" stroke-width="2.0"/><path d="M648.5 148.6Q652.8 149.0 656.1 146.0M660.7 102.9Q659.4 105.4 658.6 108.0M646.0 106.8Q646.7 111.2 650.6 113.4" stroke="#c8c8c8" stroke-width="2.5"/><path d="M402.5 79.4Q403.6 81.7 406.0 82.1M409.3 96.7Q411.0 98.2 411.5 100.3M367.8 74.7Q368.9 76.7 369.9 78.6M370.6 80.9Q369.1 82.8 368.8 85.1M389.7 82.3Q388.6 85.6 391.7 87.1M416.0 105.5Q419.0 107.5 421.5 104.8M388.1 77.1Q391.1 76.6 392.7 79.2" stroke="#dcdcdc" stroke-width="1.5"/><path d="M532.5 97.5Q532.8 101.2 533.5 104.8M528.6 125.4Q529.2 128.5 532.2 129.3M522.4 115.0Q524.5 116.5 523.8 119.0M631.9 147.5Q635.4 147.9 635.9 151.4M435.6 85.7Q435.8 88.9 433.3 90.7M534.4 105.5Q532.1 109.2 535.3 112.0M455.5 106.7Q457.9 106.3 460.3 105.8M530.7 138.1Q533.0 137.5 535.3 137.0M592.3 112.3Q594.6 110.3 597.5 111.5M470.9 110.2Q469.1 113.3 468.9 116.8M579.2 132.4Q581.7 134.6 579.9 137.4M549.6 92.7Q551.0 96.5 547.8 98.8M548.1 125.2Q547.0 127.7 548.3 130.1M608.2 126.3Q610.8 127.1 611.9 129.6M582.1 107.0Q584.2 108.4 586.4 109.6M551.0 96.9Q551.1 99.1 552.5 100.8M469.4 118.3Q472.7 119.5 475.4 117.4M434.8 101.7Q436.7 100.2 438.8 101.4M603.9 111.6Q607.6 113.3 608.4 117.3M593.0 107.6Q593.7 111.2 596.4 113.6M620.7 127.7Q621.7 130.7 624.9 131.0M498.9 88.2Q501.7 90.8 500.0 94.3M480.9 99.8Q482.7 104.0 479.2 106.9" stroke="#dcdcdc" stroke-width="2.0"/><path d="M656.6 112.0Q658.5 115.7 662.6 116.4M648.6 138.2Q653.8 138.1 655.7 143.0" stroke="#dcdcdc" stroke-width="2.5"/><path d="M328.0 69.2Q325.5 70.9 325.1 73.9M303.3 74.8Q303.9 77.3 304.5 79.9M320.4 80.9Q322.7 81.2 325.0 80.4M241.4 66.2Q241.6 67.5 242.0 68.8" stroke="#f0f0f0" stroke-width="1.5"/><path d="M559.2 101.0Q556.0 104.2 558.8 107.8M611.5 115.2Q613.2 119.9 618.2 120.1M530.0 101.4Q527.7 102.2 526.8 104.5M637.2 124.9Q640.5 125.9 643.9 125.7M421.0 94.9Q423.2 97.0 426.1 96.4M421.3 104.7Q423.4 105.9 425.5 107.3M625.6 123.1Q628.2 124.7 627.4 127.7M546.7 104.0Q550.6 105.1 551.0 109.1M439.7 80.0Q437.1 82.5 439.1 85.6M522.0 100.2Q524.9 104.5 529.5 102.2M471.6 104.3Q470.5 106.9 473.0 108.4M512.3 100.3Q515.2 102.8 518.9 103.6M425.9 89.3Q428.5 90.3 430.9 91.9M535.9 101.4Q538.5 100.1 540.2 102.3M512.6 96.9Q512.8 99.4 514.8 100.8M562.1 97.5Q564.8 99.4 566.6 102.2M627.2 107.5Q629.5 108.7 630.8 111.1" stroke="#f0f0f0" stroke-width="2.0"/><path d="M393.4 74.4Q393.2 76.6 394.3 78.6M272.6 70.3Q275.0 68.9 277.6 70.1M380.5 85.7Q381.0 88.0 383.0 89.0M305.6 74.0Q307.6 75.9 307.0 78.6" stroke="#f5f5f5" stroke-width="1.5"/><path d="M594.6 114.0Q597.5 116.5 596.0 120.1M592.5 102.9Q595.8 104.7 598.8 102.6M510.1 91.9Q511.9 92.7 513.8 93.1M604.2 123.1Q605.3 125.9 608.3 125.7M561.8 95.0Q564.6 92.8 566.8 95.6M497.2 95.1Q499.9 96.7 502.0 94.3M462.6 85.4Q459.3 87.5 459.9 91.4" stroke="#f5f5f5" stroke-width="2.0"/><path d="M654.4 102.2Q653.8 105.1 656.0 107.2" stroke="#f5f5f5" stroke-width="2.5"/><path d="M412.0 84.1Q413.9 84.6 415.5 85.9M406.2 88.7Q406.3 91.3 404.1 92.8M396.5 105.1Q398.5 105.4 399.0 107.4M348.0 77.1Q345.9 80.2 348.6 82.8M237.5 80.3Q237.7 82.6 235.7 83.8M373.0 106.0Q375.2 105.3 377.3 106.1M280.7 94.0Q282.7 95.0 284.7 95.8M384.2 97.5Q386.8 97.5 389.4 98.2M368.3 97.0Q367.9 99.8 368.6 102.5M279.5 69.7Q280.6 71.9 280.7 74.4M299.6 94.1Q301.5 94.9 303.5 94.7M374.3 109.9Q377.1 111.6 377.7 114.9M363.4 87.4Q363.0 89.8 365.2 90.8M405.1 80.9Q408.5 79.7 410.1 82.8M384.9 93.8Q388.3 92.7 390.5 95.6M409.7 103.9Q413.4 104.6 413.9 108.3M255.9 88.0Q255.7 89.6 254.1 89.9M417.1 109.1Q419.0 111.0 417.2 113.0M293.1 85.9Q295.6 87.2 294.9 90.0M318.2 80.5Q317.2 81.7 317.4 83.3M420.0 103.6Q421.4 106.4 422.1 109.4M304.7 78.9Q305.7 80.1 306.5 81.5M380.6 100.8Q381.4 102.7 383.4 103.0M311.5 91.8Q313.8 93.8 316.8 92.9M405.1 83.9Q404.4 85.9 405.2 87.9M375.8 86.6Q377.5 83.5 380.9 84.4M308.2 95.7Q308.9 97.4 310.2 98.6M250.0 70.0Q251.2 71.1 252.9 71.1M417.6 120.4Q419.2 121.5 421.1 121.5M406.1 81.5Q405.7 83.9 407.0 86.1M246.5 91.3Q245.9 93.6 248.0 94.5M295.3 97.9Q296.3 100.7 299.3 100.8M321.2 81.0Q322.8 82.3 322.1 84.3M336.1 83.9Q337.9 85.4 338.6 87.8M376.2 90.4Q377.3 93.2 379.0 95.8M422.4 109.5Q422.0 111.3 422.1 113.1M230.2 81.3Q231.1 82.9 233.0 83.2M385.9 102.4Q387.8 102.9 388.9 104.7M299.8 81.3Q300.4 84.3 303.5 83.9M315.0 71.1Q314.2 73.1 314.4 75.2M372.7 95.1Q372.3 97.0 370.4 97.5M380.8 91.0Q382.3 92.5 383.9 93.8M338.6 73.9Q341.0 75.0 343.4 76.2M381.8 106.5Q385.1 105.8 386.0 109.1M232.4 88.1Q230.2 90.2 232.2 92.4M325.0 85.9Q327.9 86.3 329.4 88.8M396.9 92.0Q395.8 94.2 393.6 95.2M418.7 113.2Q417.8 117.3 421.3 119.4M350.8 82.0Q349.9 84.2 351.9 85.7M387.2 81.2Q389.7 80.2 392.1 81.3M352.0 83.5Q353.5 84.6 355.4 85.0M327.0 84.4Q329.6 82.7 332.1 84.5M331.7 75.2Q329.7 78.2 332.5 80.3M289.3 94.6Q290.2 96.8 289.2 99.0M405.6 84.0Q407.5 84.7 409.4 84.5M397.6 85.5Q399.2 88.2 401.1 90.8" stroke="#505050" stroke-width="2.2"/><path d="M442.5 96.5Q444.7 97.4 447.1 96.8M428.4 101.7Q429.9 103.6 428.9 105.9M578.5 135.2Q583.8 134.3 584.6 139.5M493.0 107.6Q495.4 109.9 494.5 113.1M423.5 91.3Q424.4 94.6 426.1 97.6M607.0 133.8Q610.8 134.2 610.7 137.9M629.3 150.0Q629.3 154.3 631.8 157.9M523.0 129.1Q525.3 129.1 527.4 128.0M552.6 109.8Q552.6 112.2 551.0 114.1M603.6 161.3Q606.1 160.6 607.5 162.9M551.2 120.2Q552.8 122.6 555.5 121.8M503.3 87.2Q506.0 89.5 504.5 92.8M528.3 128.3Q531.7 128.5 532.8 131.8M634.4 124.4Q636.8 122.7 639.7 123.3M435.9 96.0Q437.0 97.5 437.8 99.3M640.8 150.6Q645.5 150.5 645.9 155.2M425.0 113.4Q426.9 114.3 428.3 115.9M595.4 132.2Q598.8 135.5 597.1 139.9M625.2 107.9Q627.0 110.0 628.3 112.5M433.4 80.0Q430.5 81.7 430.9 85.0M623.3 124.1Q622.7 127.0 624.1 129.5M463.4 99.0Q466.5 99.2 466.5 102.4M553.2 96.9Q552.9 101.4 557.4 101.8M532.5 125.8Q535.1 128.2 535.1 131.8M521.5 94.4Q524.7 96.4 526.1 100.0M629.1 122.0Q629.0 125.1 631.9 125.9M518.1 96.9Q519.6 99.7 518.5 102.7M551.2 107.7Q553.7 109.8 555.8 112.4M609.4 120.8Q611.4 124.3 608.1 126.6M632.2 126.2Q637.7 126.4 637.8 132.0M464.3 118.9Q466.2 120.2 468.0 121.7M466.5 127.3Q469.6 128.3 468.7 131.4M442.9 99.5Q440.8 101.8 443.1 104.0M431.2 83.7Q433.1 83.3 434.9 83.4M603.8 140.9Q604.4 144.7 601.5 147.3M635.1 142.2Q630.9 143.4 628.5 147.1M558.2 89.4Q561.5 88.4 563.8 91.0M500.0 121.0Q503.4 121.3 505.5 124.0M596.4 150.4Q599.9 151.2 601.8 154.3M573.5 106.7Q577.7 107.4 577.6 111.8M478.0 133.1Q478.4 136.7 479.6 140.2M633.4 154.6Q632.6 157.3 634.8 159.0M431.5 85.9Q431.3 89.1 434.4 89.4M587.7 110.1Q586.8 112.8 587.0 115.7M456.5 112.1Q459.4 113.2 460.9 116.0M638.8 115.2Q638.3 119.2 640.1 122.8M521.0 130.1Q525.0 127.2 528.7 130.6M598.0 107.8Q597.2 110.2 597.8 112.6M449.5 83.1Q453.1 83.8 453.7 87.5M603.0 139.7Q607.9 138.9 608.9 143.7M576.1 128.5Q576.2 131.9 579.5 132.6M524.1 108.3Q527.8 108.6 527.6 112.2M561.0 125.9Q563.4 128.8 565.9 131.5M627.3 110.1Q632.0 109.0 634.2 113.3M460.9 112.0Q465.1 110.7 467.0 114.5M558.0 90.4Q557.0 92.5 556.2 94.8M606.7 150.9Q610.0 150.9 613.3 150.3M612.3 146.2Q616.0 147.3 619.1 149.8M432.0 124.5Q431.2 127.2 429.0 128.8M606.8 160.6Q609.5 163.9 612.8 166.5M602.6 145.6Q604.3 148.4 602.1 150.7M493.3 101.9Q495.5 103.6 497.4 105.6M556.6 101.2Q557.0 105.9 561.6 107.2M549.8 128.8Q549.8 131.2 551.2 133.3M524.7 104.3Q526.8 107.6 530.6 106.4M555.0 114.2Q554.4 116.9 554.4 119.7M542.0 139.1Q543.3 140.9 544.1 143.0M615.0 121.3Q617.4 122.2 619.3 123.8M441.0 106.2Q441.5 108.8 444.1 108.6M500.8 101.6Q506.0 102.9 504.8 108.1M626.5 132.7Q628.0 136.6 631.4 139.0M529.9 101.3Q533.3 102.6 536.8 103.8M545.0 107.2Q544.4 110.0 543.6 112.8M626.2 111.1Q627.9 114.2 626.0 117.2M559.9 124.5Q559.2 127.5 556.3 128.3M456.0 113.7Q458.0 116.8 461.2 115.1M533.7 125.9Q533.1 121.5 537.5 120.7M458.2 104.9Q460.0 106.6 462.4 107.3M469.8 124.0Q472.3 125.5 474.7 124.1M602.2 137.7Q606.8 139.6 605.5 144.4M632.8 143.5Q637.9 146.3 641.6 141.9M454.1 104.6Q455.1 107.3 458.0 106.7" stroke="#505050" stroke-width="2.7"/><path d="M649.7 135.2Q652.8 137.1 652.4 140.7M647.0 139.5Q649.7 141.6 649.9 145.1M654.6 130.3Q658.6 130.1 659.1 134.1" stroke="#505050" stroke-width="3.2"/><path d="M246.5 91.3Q245.9 93.6 248.0 94.5M230.2 81.3Q231.1 82.9 233.0 83.2M232.4 88.1Q230.2 90.2 232.2 92.4" stroke="#8c8c8c" stroke-width="1.5"/><path d="M523.0 129.1Q525.3 129.1 527.4 128.0M532.5 125.8Q535.1 128.2 535.1 131.8M606.8 160.6Q609.5 163.9 612.8 166.5M549.8 128.8Q549.8 131.2 551.2 133.3M533.7 125.9Q533.1 121.5 537.5 120.7" stroke="#8c8c8c" stroke-width="2.0"/><path d="M280.7 94.0Q282.7 95.0 284.7 95.8M299.6 94.1Q301.5 94.9 303.5 94.7M374.3 109.9Q377.1 111.6 377.7 114.9M380.6 100.8Q381.4 102.7 383.4 103.0M308.2 95.7Q308.9 97.4 310.2 98.6M385.9 102.4Q387.8 102.9 388.9 104.7M299.8 81.3Q300.4 84.3 303.5 83.9M289.3 94.6Q290.2 96.8 289.2 99.0" stroke="#a0a0a0" stroke-width="1.5"/><path d="M578.5 135.2Q583.8 134.3 584.6 139.5M607.0 133.8Q610.8 134.2 610.7 137.9M503.3 87.2Q506.0 89.5 504.5 92.8M500.0 121.0Q503.4 121.3 505.5 124.0M432.0 124.5Q431.2 127.2 429.0 128.8M559.9 124.5Q559.2 127.5 556.3 128.3" stroke="#a0a0a0" stroke-width="2.0"/><path d="M647.0 139.5Q649.7 141.6 649.9 145.1" stroke="#a0a0a0" stroke-width="2.5"/><path d="M237.5 80.3Q237.7 82.6 235.7 83.8M363.4 87.4Q363.0 89.8 365.2 90.8M255.9 88.0Q255.7 89.6 254.1 89.9M417.1 109.1Q419.0 111.0 417.2 113.0M420.0 103.6Q421.4 106.4 422.1 109.4M304.7 78.9Q305.7 80.1 306.5 81.5M417.6 120.4Q419.2 121.5 421.1 121.5M336.1 83.9Q337.9 85.4 338.6 87.8M315.0 71.1Q314.2 73.1 314.4 75.2M352.0 83.5Q353.5 84.6 355.4 85.0M331.7 75.2Q329.7 78.2 332.5 80.3" stroke="#b4b4b4" stroke-width="1.5"/><path d="M629.3 150.0Q629.3 154.3 631.8 157.9M603.6 161.3Q606.1 160.6 607.5 162.9M640.8 150.6Q645.5 150.5 645.9 155.2M425.0 113.4Q426.9 114.3 428.3 115.9M609.4 120.8Q611.4 124.3 608.1 126.6M632.2 126.2Q637.7 126.4 637.8 132.0M431.2 83.7Q433.1 83.3 434.9 83.4M603.8 140.9Q604.4 144.7 601.5 147.3M635.1 142.2Q630.9 143.4 628.5 147.1M596.4 150.4Q599.9 151.2 601.8 154.3M633.4 154.6Q632.6 157.3 634.8 159.0M456.5 112.1Q459.4 113.2 460.9 116.0M606.7 150.9Q610.0 150.9 613.3 150.3M602.6 145.6Q604.3 148.4 602.1 150.7M555.0 114.2Q554.4 116.9 554.4 119.7M441.0 106.2Q441.5 108.8 444.1 108.6M632.8 143.5Q637.9 146.3 641.6 141.9M454.1 104.6Q455.1 107.3 458.0 106.7" stroke="#b4b4b4" stroke-width="2.0"/><path d="M649.7 135.2Q652.8 137.1 652.4 140.7" stroke="#b4b4b4" stroke-width="2.5"/><path d="M373.0 106.0Q375.2 105.3 377.3 106.1M293.1 85.9Q295.6 87.2 294.9 90.0M375.8 86.6Q377.5 83.5 380.9 84.4M406.1 81.5Q405.7 83.9 407.0 86.1M381.8 106.5Q385.1 105.8 386.0 109.1M418.7 113.2Q417.8 117.3 421.3 119.4M405.6 84.0Q407.5 84.7 409.4 84.5M397.6 85.5Q399.2 88.2 401.1 90.8" stroke="#c8c8c8" stroke-width="1.5"/><path d="M428.4 101.7Q429.9 103.6 428.9 105.9M493.0 107.6Q495.4 109.9 494.5 113.1M551.2 120.2Q552.8 122.6 555.5 121.8M528.3 128.3Q531.7 128.5 532.8 131.8M634.4 124.4Q636.8 122.7 639.7 123.3M435.9 96.0Q437.0 97.5 437.8 99.3M623.3 124.1Q622.7 127.0 624.1 129.5M478.0 133.1Q478.4 136.7 479.6 140.2M587.7 110.1Q586.8 112.8 587.0 115.7M521.0 130.1Q525.0 127.2 528.7 130.6M603.0 139.7Q607.9 138.9 608.9 143.7M576.1 128.5Q576.2 131.9 579.5 132.6M612.3 146.2Q616.0 147.3 619.1 149.8M493.3 101.9Q495.5 103.6 497.4 105.6M500.8 101.6Q506.0 102.9 504.8 108.1M626.5 132.7Q628.0 136.6 631.4 139.0M456.0 113.7Q458.0 116.8 461.2 115.1" stroke="#c8c8c8" stroke-width="2.0"/><path d="M406.2 88.7Q406.3 91.3 404.1 92.8M396.5 105.1Q398.5 105.4 399.0 107.4M348.0 77.1Q345.9 80.2 348.6 82.8M384.2 97.5Q386.8 97.5 389.4 98.2M368.3 97.0Q367.9 99.8 368.6 102.5M279.5 69.7Q280.6 71.9 280.7 74.4M384.9 93.8Q388.3 92.7 390.5 95.6M318.2 80.5Q317.2 81.7 317.4 83.3M311.5 91.8Q313.8 93.8 316.8 92.9M405.1 83.9Q404.4 85.9 405.2 87.9M250.0 70.0Q251.2 71.1 252.9 71.1M295.3 97.9Q296.3 100.7 299.3 100.8M321.2 81.0Q322.8 82.3 322.1 84.3M376.2 90.4Q377.3 93.2 379.0 95.8M422.4 109.5Q422.0 111.3 422.1 113.1M380.8 91.0Q382.3 92.5 383.9 93.8M325.0 85.9Q327.9 86.3 329.4 88.8M396.9 92.0Q395.8 94.2 393.6 95.2M327.0 84.4Q329.6 82.7 332.1 84.5" stroke="#dcdcdc" stroke-width="1.5"/><path d="M442.5 96.5Q444.7 97.4 447.1 96.8M595.4 132.2Q598.8 135.5 597.1 139.9M625.2 107.9Q627.0 110.0 628.3 112.5M518.1 96.9Q519.6 99.7 518.5 102.7M551.2 107.7Q553.7 109.8 555.8 112.4M464.3 118.9Q466.2 120.2 468.0 121.7M442.9 99.5Q440.8 101.8 443.1 104.0M573.5 106.7Q577.7 107.4 577.6 111.8M638.8 115.2Q638.3 119.2 640.1 122.8M598.0 107.8Q597.2 110.2 597.8 112.6M449.5 83.1Q453.1 83.8 453.7 87.5M524.1 108.3Q527.8 108.6 527.6 112.2M460.9 112.0Q465.1 110.7 467.0 114.5M556.6 101.2Q557.0 105.9 561.6 107.2M524.7 104.3Q526.8 107.6 530.6 106.4M542.0 139.1Q543.3 140.9 544.1 143.0M545.0 107.2Q544.4 110.0 543.6 112.8M469.8 124.0Q472.3 125.5 474.7 124.1M602.2 137.7Q606.8 139.6 605.5 144.4" stroke="#dcdcdc" stroke-width="2.0"/><path d="M405.1 80.9Q408.5 79.7 410.1 82.8M409.7 103.9Q413.4 104.6 413.9 108.3M372.7 95.1Q372.3 97.0 370.4 97.5M338.6 73.9Q341.0 75.0 343.4 76.2M350.8 82.0Q349.9 84.2 351.9 85.7" stroke="#f0f0f0" stroke-width="1.5"/><path d="M423.5 91.3Q424.4 94.6 426.1 97.6M463.4 99.0Q466.5 99.2 466.5 102.4M521.5 94.4Q524.7 96.4 526.1 100.0M629.1 122.0Q629.0 125.1 631.9 125.9M466.5 127.3Q469.6 128.3 468.7 131.4M561.0 125.9Q563.4 128.8 565.9 131.5M558.0 90.4Q557.0 92.5 556.2 94.8M615.0 121.3Q617.4 122.2 619.3 123.8M529.9 101.3Q533.3 102.6 536.8 103.8M626.2 111.1Q627.9 114.2 626.0 117.2M458.2 104.9Q460.0 106.6 462.4 107.3" stroke="#f0f0f0" stroke-width="2.0"/><path d="M654.6 130.3Q658.6 130.1 659.1 134.1" stroke="#f0f0f0" stroke-width="2.5"/><path d="M412.0 84.1Q413.9 84.6 415.5 85.9M387.2 81.2Q389.7 80.2 392.1 81.3" stroke="#f5f5f5" stroke-width="1.5"/><path d="M552.6 109.8Q552.6 112.2 551.0 114.1M433.4 80.0Q430.5 81.7 430.9 85.0M553.2 96.9Q552.9 101.4 557.4 101.8M558.2 89.4Q561.5 88.4 563.8 91.0M431.5 85.9Q431.3 89.1 434.4 89.4M627.3 110.1Q632.0 109.0 634.2 113.3" stroke="#f5f5f5" stroke-width="2.0"/><path d="M414.3 104.4Q413.7 107.6 415.2 110.5M306.9 78.6Q306.6 81.9 309.6 83.3" stroke="#505050" stroke-width="2.2"/><path d="M529.9 133.7Q533.1 136.4 536.4 133.9M541.1 105.9Q544.4 103.8 548.4 103.3M594.0 111.5Q597.8 111.0 599.2 114.7M608.3 149.6Q610.4 153.4 614.8 153.7M570.6 104.4Q573.8 106.6 574.0 110.5M567.1 125.8Q570.1 128.1 569.1 131.7" stroke="#505050" stroke-width="2.7"/><path d="M306.9 78.6Q306.6 81.9 309.6 83.3" stroke="#a0a0a0" stroke-width="1.5"/><path d="M529.9 133.7Q533.1 136.4 536.4 133.9M594.0 111.5Q597.8 111.0 599.2 114.7M608.3 149.6Q610.4 153.4 614.8 153.7" stroke="#b4b4b4" stroke-width="2.0"/><path d="M541.1 105.9Q544.4 103.8 548.4 103.3M570.6 104.4Q573.8 106.6 574.0 110.5M567.1 125.8Q570.1 128.1 569.1 131.7" stroke="#c8c8c8" stroke-width="2.0"/><path d="M414.3 104.4Q413.7 107.6 415.2 110.5" stroke="#f0f0f0" stroke-width="1.5"/></g>
<g clip-path="url(#bc)" opacity="0.75">
<ellipse cx="238" cy="86" rx="7" ry="5" fill="url(#sp)"/>
<ellipse cx="257" cy="89" rx="6" ry="4" fill="url(#sp)"/>
<ellipse cx="275" cy="92" rx="7" ry="5" fill="url(#sp)"/>
<ellipse cx="294" cy="95" rx="7" ry="5" fill="url(#sp)"/>
<ellipse cx="303" cy="94" rx="5" ry="4" fill="url(#sp)"/>
<ellipse cx="320" cy="98" rx="7" ry="5" fill="url(#sp)"/>
<ellipse cx="345" cy="104" rx="8" ry="5" fill="url(#sp)"/>
<ellipse cx="380" cy="106" rx="9" ry="6" fill="url(#sp)"/>
<ellipse cx="410" cy="116" rx="9" ry="7" fill="url(#sp)"/>
<ellipse cx="473" cy="122" rx="10" ry="8" fill="url(#sp)"/>
<ellipse cx="528" cy="135" rx="10" ry="10" fill="url(#sp)"/>
<ellipse cx="584" cy="115" rx="8" ry="9" fill="url(#sp)"/>
<ellipse cx="622" cy="152" rx="10" ry="9" fill="url(#sp)"/>
<ellipse cx="655" cy="128" rx="6" ry="16" fill="url(#sp)"/>
</g>
<g stroke="#1f4677" stroke-width="1.9" fill="none" stroke-linecap="round" clip-path="url(#bc)"><path d="M234.5 67.0Q231.8 69.0 233.0 71.0" stroke-width="2.2"/><path d="M252.0 71.5Q248.8 76.5 249.5 81.5" stroke-width="3.7"/><path d="M271.0 72.5Q267.5 78.5 268.0 84.5" stroke-width="3.7"/><path d="M292.0 73.5Q287.5 80.0 287.0 86.5" stroke-width="4.2"/><path d="M262.0 85.5Q259.8 87.5 261.5 89.5" stroke-width="2.2"/><path d="M281.5 87.6Q279.0 89.7 280.5 91.7" stroke-width="2.2"/><path d="M316.0 76.5Q311.8 84.5 311.5 92.5" stroke-width="4.2"/><path d="M304.5 89.5Q301.5 93.5 302.5 97.5" stroke-width="2.7"/><path d="M343.5 78.5Q339.0 88.0 338.5 97.5" stroke-width="4.7"/><path d="M329.5 90.6Q326.8 95.7 328.0 100.8" stroke-width="2.7"/><path d="M358.5 93.6Q355.5 99.2 356.5 104.9" stroke-width="2.7"/><path d="M378.7 84.3Q374.2 94.8 373.7 105.3" stroke-width="1.9"/><path d="M376.3 83.7Q371.8 94.2 371.3 104.7" stroke-width="1.9"/><path d="M397.9 82.1Q395.1 86.6 396.4 91.1" stroke-width="1.9"/><path d="M396.1 81.9Q393.4 86.4 394.6 90.9" stroke-width="1.9"/><path d="M420.4 88.5Q414.9 101.5 413.4 114.5" stroke-width="1.9"/><path d="M418.5 88.0Q413.0 101.0 411.5 114.0" stroke-width="1.9"/><path d="M416.6 87.5Q411.1 100.5 409.6 113.5" stroke-width="1.9"/><path d="M439.3 86.1Q434.6 89.8 433.8 93.6" stroke-width="1.9"/><path d="M437.7 84.9Q432.9 88.7 432.2 92.4" stroke-width="1.9"/><path d="M436.9 105.7Q433.6 111.2 434.4 116.7" stroke-width="1.9"/><path d="M435.1 105.3Q431.9 110.8 432.6 116.3" stroke-width="1.9"/><path d="M445.8 98.4Q442.3 101.2 442.8 103.9" stroke-width="1.9"/><path d="M444.2 97.6Q440.7 100.3 441.2 103.1" stroke-width="1.9"/><path d="M468.5 93.7Q463.0 109.4 461.5 125.2" stroke-width="1.9"/><path d="M466.4 93.2Q460.9 109.0 459.4 124.7" stroke-width="1.9"/><path d="M464.3 92.7Q458.8 108.5 457.3 124.2" stroke-width="1.9"/><path d="M490.6 114.3Q486.6 120.6 486.6 126.8" stroke-width="1.9"/><path d="M488.4 113.7Q484.4 119.9 484.4 126.2" stroke-width="1.9"/><path d="M501.3 98.4Q498.0 101.1 498.8 103.9" stroke-width="1.9"/><path d="M499.7 97.6Q496.5 100.4 497.2 103.1" stroke-width="1.9"/><path d="M531.1 110.0Q525.0 123.5 522.9 137.0" stroke-width="1.9"/><path d="M529.0 109.4Q522.9 122.9 520.8 136.4" stroke-width="1.9"/><path d="M526.9 108.8Q520.8 122.3 518.7 135.8" stroke-width="1.9"/><path d="M557.2 116.4Q552.5 125.2 551.8 134.1" stroke-width="1.9"/><path d="M554.8 115.6Q550.1 124.5 549.4 133.3" stroke-width="1.9"/><path d="M570.5 99.6Q566.7 102.6 567.0 105.6" stroke-width="1.9"/><path d="M568.5 98.4Q564.8 101.4 565.0 104.4" stroke-width="1.9"/><path d="M579.8 111.0Q574.8 116.5 573.8 122.0" stroke-width="1.9"/><path d="M578.0 110.0Q573.0 115.5 572.0 121.0" stroke-width="1.9"/><path d="M576.2 109.0Q571.2 114.5 570.2 120.0" stroke-width="1.9"/><path d="M583.8 115.5Q581.1 118.4 582.3 121.2" stroke-width="1.9"/><path d="M582.2 115.1Q579.4 117.9 580.7 120.8" stroke-width="1.9"/><path d="M612.9 123.7Q605.1 136.7 601.3 149.8" stroke-width="1.9"/><path d="M611.3 123.0Q603.5 136.0 599.7 149.1" stroke-width="1.9"/><path d="M609.7 122.2Q601.9 135.3 598.1 148.3" stroke-width="1.9"/><path d="M608.1 121.5Q600.3 134.6 596.5 147.6" stroke-width="1.9"/><path d="M645.6 126.0Q640.7 136.2 639.8 146.3" stroke-width="1.9"/><path d="M643.8 125.5Q638.9 135.7 638.0 145.8" stroke-width="1.9"/><path d="M642.0 125.0Q637.1 135.1 636.2 145.3" stroke-width="1.9"/><path d="M645.9 106.2Q641.9 108.9 641.9 111.7" stroke-width="1.9"/><path d="M644.1 104.8Q640.1 107.6 640.1 110.3" stroke-width="1.9"/><path d="M659.1 105.9Q655.3 110.6 655.6 115.4" stroke-width="1.9"/><path d="M656.9 105.1Q653.2 109.9 653.4 114.6" stroke-width="1.9"/></g>
<g fill="none" stroke-linecap="round" clip-path="url(#bc)"><path d="M319.6 81.2Q321.1 83.6 321.1 86.4M414.3 105.8Q418.2 105.6 419.3 109.3M314.0 79.1Q315.2 81.0 316.9 82.5M300.6 88.3Q300.8 91.0 303.0 92.8M259.9 89.5Q261.1 91.6 263.4 91.0M234.4 85.7Q234.1 87.1 233.0 88.0M316.2 98.3Q318.8 98.6 318.9 101.2M244.4 82.9Q245.7 83.7 246.9 84.6M279.9 78.6Q279.4 80.7 277.9 82.2M339.0 78.7Q339.3 81.5 340.6 84.0M365.7 104.8Q363.7 105.7 364.2 107.8M340.1 82.6Q340.8 84.2 341.9 85.4M315.6 71.6Q317.6 71.9 318.2 73.8M294.1 71.8Q295.5 73.1 297.0 71.8M290.0 77.3Q292.2 79.0 294.8 79.9" stroke="#505050" stroke-width="2.2"/><path d="M609.9 151.4Q612.0 155.2 616.3 155.6M422.0 100.6Q421.2 103.4 423.3 105.3M607.9 116.5Q610.0 119.7 613.5 118.4M517.6 114.1Q520.0 115.7 522.8 115.4M540.1 112.6Q543.6 114.9 544.8 118.8M643.8 105.3Q646.7 108.9 645.3 113.3M445.3 96.5Q447.7 97.4 450.2 96.6M559.5 120.9Q562.2 123.1 565.6 122.4M562.0 92.3Q561.4 94.5 561.9 96.8M619.2 145.2Q617.8 149.9 621.9 152.5M496.9 90.5Q501.6 90.5 501.7 95.2M594.5 135.9Q597.7 138.1 600.4 140.9M549.0 94.0Q550.8 95.8 551.6 98.2M610.4 130.9Q612.3 132.5 614.2 134.2M617.4 153.6Q619.4 156.5 617.9 159.7M496.6 108.3Q498.9 109.4 501.3 110.3M596.8 141.0Q596.4 144.0 596.4 147.0M463.0 115.5Q461.6 118.1 462.1 121.0M430.6 102.6Q432.0 104.2 431.9 106.4M428.8 79.4Q428.6 82.4 428.0 85.3M636.6 156.7Q633.2 158.4 631.7 161.9M491.2 94.1Q495.0 96.9 492.9 101.1M427.0 87.0Q424.8 89.3 425.2 92.5" stroke="#505050" stroke-width="2.7"/><path d="M647.1 117.1Q651.7 117.3 655.7 119.3M645.6 107.7Q648.7 108.4 648.0 111.5" stroke="#505050" stroke-width="3.2"/><path d="M259.9 89.5Q261.1 91.6 263.4 91.0M234.4 85.7Q234.1 87.1 233.0 88.0" stroke="#8c8c8c" stroke-width="1.5"/><path d="M496.6 108.3Q498.9 109.4 501.3 110.3" stroke="#8c8c8c" stroke-width="2.0"/><path d="M365.7 104.8Q363.7 105.7 364.2 107.8" stroke="#a0a0a0" stroke-width="1.5"/><path d="M609.9 151.4Q612.0 155.2 616.3 155.6M517.6 114.1Q520.0 115.7 522.8 115.4M540.1 112.6Q543.6 114.9 544.8 118.8" stroke="#a0a0a0" stroke-width="2.0"/><path d="M300.6 88.3Q300.8 91.0 303.0 92.8M316.2 98.3Q318.8 98.6 318.9 101.2M244.4 82.9Q245.7 83.7 246.9 84.6M294.1 71.8Q295.5 73.1 297.0 71.8" stroke="#b4b4b4" stroke-width="1.5"/><path d="M559.5 120.9Q562.2 123.1 565.6 122.4M496.9 90.5Q501.6 90.5 501.7 95.2M596.8 141.0Q596.4 144.0 596.4 147.0M636.6 156.7Q633.2 158.4 631.7 161.9" stroke="#b4b4b4" stroke-width="2.0"/><path d="M414.3 105.8Q418.2 105.6 419.3 109.3M314.0 79.1Q315.2 81.0 316.9 82.5M339.0 78.7Q339.3 81.5 340.6 84.0M315.6 71.6Q317.6 71.9 318.2 73.8M290.0 77.3Q292.2 79.0 294.8 79.9" stroke="#c8c8c8" stroke-width="1.5"/><path d="M594.5 135.9Q597.7 138.1 600.4 140.9M617.4 153.6Q619.4 156.5 617.9 159.7M463.0 115.5Q461.6 118.1 462.1 121.0M491.2 94.1Q495.0 96.9 492.9 101.1" stroke="#c8c8c8" stroke-width="2.0"/><path d="M645.6 107.7Q648.7 108.4 648.0 111.5" stroke="#c8c8c8" stroke-width="2.5"/><path d="M319.6 81.2Q321.1 83.6 321.1 86.4M340.1 82.6Q340.8 84.2 341.9 85.4" stroke="#dcdcdc" stroke-width="1.5"/><path d="M422.0 100.6Q421.2 103.4 423.3 105.3M607.9 116.5Q610.0 119.7 613.5 118.4M445.3 96.5Q447.7 97.4 450.2 96.6M427.0 87.0Q424.8 89.3 425.2 92.5" stroke="#dcdcdc" stroke-width="2.0"/><path d="M279.9 78.6Q279.4 80.7 277.9 82.2" stroke="#f0f0f0" stroke-width="1.5"/><path d="M643.8 105.3Q646.7 108.9 645.3 113.3M619.2 145.2Q617.8 149.9 621.9 152.5M610.4 130.9Q612.3 132.5 614.2 134.2M430.6 102.6Q432.0 104.2 431.9 106.4" stroke="#f0f0f0" stroke-width="2.0"/><path d="M647.1 117.1Q651.7 117.3 655.7 119.3" stroke="#f0f0f0" stroke-width="2.5"/><path d="M562.0 92.3Q561.4 94.5 561.9 96.8M549.0 94.0Q550.8 95.8 551.6 98.2M428.8 79.4Q428.6 82.4 428.0 85.3" stroke="#f5f5f5" stroke-width="2.0"/><path d="M342.8 89.0Q345.3 91.2 344.3 94.4M329.0 92.2Q330.8 92.7 332.3 93.8M399.9 76.2Q396.7 77.3 397.8 80.6M302.7 97.5Q303.9 99.5 306.0 100.3M395.1 81.6Q397.3 81.4 398.7 83.0M271.2 97.2Q274.2 96.4 275.7 99.2M251.9 74.3Q254.3 73.6 255.7 75.6M307.2 72.7Q309.0 74.1 310.9 72.9M230.3 68.8Q230.2 71.0 231.2 73.0M359.0 95.2Q356.9 97.3 356.5 100.3M350.7 87.3Q349.8 88.8 348.8 90.2M413.0 93.2Q412.3 95.8 414.9 96.5M274.3 97.3Q274.9 98.5 275.5 99.7M330.3 92.3Q332.4 94.4 331.1 97.0" stroke="#505050" stroke-width="2.2"/><path d="M485.0 126.6Q487.3 129.1 488.2 132.3M588.9 122.0Q587.0 126.1 589.8 129.7M447.2 105.2Q449.3 107.9 449.6 111.3M559.1 116.9Q561.4 119.6 560.7 123.0M570.6 121.9Q573.2 119.8 576.6 119.7M500.3 84.4Q501.6 86.6 500.6 89.0M498.2 102.8Q497.3 105.3 494.7 105.0M542.8 122.6Q543.5 125.8 543.1 129.0M433.8 78.9Q435.2 82.4 433.3 85.7M486.1 98.3Q484.4 101.1 484.0 104.3M423.0 97.6Q421.0 99.5 422.6 101.7M606.1 150.7Q607.5 155.0 611.9 155.1M432.7 96.3Q432.2 99.1 434.8 100.3M547.3 104.6Q548.6 106.1 550.4 107.2M483.7 86.6Q484.0 88.5 485.1 90.1M602.9 136.6Q606.2 134.7 609.0 137.4M592.6 121.3Q592.6 125.6 596.3 127.9M603.0 110.9Q605.3 113.9 602.6 116.4M631.7 153.0Q635.2 155.6 639.5 156.4M552.5 112.9Q554.6 115.2 556.7 117.6M581.1 110.8Q579.2 115.0 583.1 117.4M473.2 121.0Q476.0 121.3 475.8 124.1M458.4 92.0Q459.6 94.5 462.1 95.8M436.6 114.9Q437.6 116.5 438.5 118.1" stroke="#505050" stroke-width="2.7"/><path d="M653.0 129.8Q654.7 133.1 652.3 136.1M647.9 103.4Q651.9 102.6 653.6 106.3" stroke="#505050" stroke-width="3.2"/><path d="M271.2 97.2Q274.2 96.4 275.7 99.2M330.3 92.3Q332.4 94.4 331.1 97.0" stroke="#a0a0a0" stroke-width="1.5"/><path d="M485.0 126.6Q487.3 129.1 488.2 132.3M588.9 122.0Q587.0 126.1 589.8 129.7" stroke="#a0a0a0" stroke-width="2.0"/><path d="M653.0 129.8Q654.7 133.1 652.3 136.1" stroke="#a0a0a0" stroke-width="2.5"/><path d="M329.0 92.2Q330.8 92.7 332.3 93.8M359.0 95.2Q356.9 97.3 356.5 100.3" stroke="#b4b4b4" stroke-width="1.5"/><path d="M570.6 121.9Q573.2 119.8 576.6 119.7M498.2 102.8Q497.3 105.3 494.7 105.0M486.1 98.3Q484.4 101.1 484.0 104.3M606.1 150.7Q607.5 155.0 611.9 155.1M432.7 96.3Q432.2 99.1 434.8 100.3M547.3 104.6Q548.6 106.1 550.4 107.2M602.9 136.6Q606.2 134.7 609.0 137.4M631.7 153.0Q635.2 155.6 639.5 156.4M552.5 112.9Q554.6 115.2 556.7 117.6M436.6 114.9Q437.6 116.5 438.5 118.1" stroke="#b4b4b4" stroke-width="2.0"/><path d="M342.8 89.0Q345.3 91.2 344.3 94.4M302.7 97.5Q303.9 99.5 306.0 100.3M307.2 72.7Q309.0 74.1 310.9 72.9M350.7 87.3Q349.8 88.8 348.8 90.2M274.3 97.3Q274.9 98.5 275.5 99.7" stroke="#c8c8c8" stroke-width="1.5"/><path d="M542.8 122.6Q543.5 125.8 543.1 129.0M592.6 121.3Q592.6 125.6 596.3 127.9M581.1 110.8Q579.2 115.0 583.1 117.4" stroke="#c8c8c8" stroke-width="2.0"/><path d="M399.9 76.2Q396.7 77.3 397.8 80.6M251.9 74.3Q254.3 73.6 255.7 75.6M413.0 93.2Q412.3 95.8 414.9 96.5" stroke="#dcdcdc" stroke-width="1.5"/><path d="M447.2 105.2Q449.3 107.9 449.6 111.3M483.7 86.6Q484.0 88.5 485.1 90.1M603.0 110.9Q605.3 113.9 602.6 116.4M458.4 92.0Q459.6 94.5 462.1 95.8" stroke="#dcdcdc" stroke-width="2.0"/><path d="M647.9 103.4Q651.9 102.6 653.6 106.3" stroke="#dcdcdc" stroke-width="2.5"/><path d="M395.1 81.6Q397.3 81.4 398.7 83.0M230.3 68.8Q230.2 71.0 231.2 73.0" stroke="#f0f0f0" stroke-width="1.5"/><path d="M559.1 116.9Q561.4 119.6 560.7 123.0M423.0 97.6Q421.0 99.5 422.6 101.7M473.2 121.0Q476.0 121.3 475.8 124.1" stroke="#f0f0f0" stroke-width="2.0"/><path d="M500.3 84.4Q501.6 86.6 500.6 89.0M433.8 78.9Q435.2 82.4 433.3 85.7" stroke="#f5f5f5" stroke-width="2.0"/><path d="M351.1 89.9Q350.3 93.4 353.6 95.0M350.6 72.9Q353.2 74.9 351.5 77.7M314.4 88.1Q316.5 89.1 318.0 90.9M272.3 82.4Q272.1 84.5 272.7 86.5M408.7 107.8Q413.1 107.9 413.6 112.3M405.9 91.0Q406.0 92.8 406.9 94.2M271.0 77.1Q273.2 78.0 273.9 80.4M246.1 75.1Q247.3 74.3 248.6 75.0M309.6 94.0Q309.6 95.8 311.1 96.7M345.0 98.7Q343.7 100.3 344.3 102.3M371.6 89.6Q371.7 93.3 374.9 95.0M373.0 109.5Q373.7 112.1 376.4 112.3M255.5 70.0Q257.5 70.2 258.6 68.5M403.5 108.3Q403.0 111.0 405.5 112.3M364.1 95.1Q360.1 95.2 359.8 99.2" stroke="#505050" stroke-width="2.2"/><path d="M507.9 113.3Q509.7 115.7 512.1 117.5M442.5 93.3Q442.8 95.6 441.8 97.7M612.0 146.7Q614.5 150.0 618.4 148.6M564.5 100.3Q559.5 100.4 559.3 105.3M641.8 138.6Q643.7 142.1 642.7 145.9M530.7 128.3Q530.9 131.5 531.9 134.4M636.0 131.7Q639.7 133.0 643.4 134.3M531.5 98.9Q529.6 102.7 531.8 106.4M553.2 132.6Q551.9 136.0 551.6 139.6M562.3 116.3Q562.6 118.8 563.0 121.2M615.9 162.2Q614.4 166.5 618.7 168.3M561.7 98.1Q561.2 101.1 562.8 103.8M466.8 120.0Q468.9 122.8 467.4 126.0M530.7 124.7Q533.0 128.4 529.8 131.3M581.7 96.8Q586.0 97.6 588.0 101.5M632.1 116.3Q635.2 118.8 635.3 122.8M494.9 106.9Q497.1 107.8 497.1 110.2M549.6 123.6Q550.1 127.2 552.1 130.2M639.6 106.5Q641.4 108.4 644.0 109.0M495.4 95.2Q499.1 95.8 501.6 98.6M577.8 123.3Q579.2 127.8 583.8 127.4M565.8 93.9Q563.9 98.0 566.2 101.9M489.6 85.4Q491.5 87.4 491.7 90.2M521.3 96.9Q524.8 100.2 528.2 96.9" stroke="#505050" stroke-width="2.7"/><path d="M659.4 139.0Q660.6 141.6 660.9 144.5" stroke="#505050" stroke-width="3.2"/><path d="M255.5 70.0Q257.5 70.2 258.6 68.5" stroke="#8c8c8c" stroke-width="1.5"/><path d="M489.6 85.4Q491.5 87.4 491.7 90.2" stroke="#8c8c8c" stroke-width="2.0"/><path d="M314.4 88.1Q316.5 89.1 318.0 90.9M272.3 82.4Q272.1 84.5 272.7 86.5M309.6 94.0Q309.6 95.8 311.1 96.7M345.0 98.7Q343.7 100.3 344.3 102.3M373.0 109.5Q373.7 112.1 376.4 112.3M403.5 108.3Q403.0 111.0 405.5 112.3" stroke="#a0a0a0" stroke-width="1.5"/><path d="M507.9 113.3Q509.7 115.7 512.1 117.5M442.5 93.3Q442.8 95.6 441.8 97.7" stroke="#a0a0a0" stroke-width="2.0"/><path d="M659.4 139.0Q660.6 141.6 660.9 144.5" stroke="#a0a0a0" stroke-width="2.5"/><path d="M530.7 128.3Q530.9 131.5 531.9 134.4M553.2 132.6Q551.9 136.0 551.6 139.6M615.9 162.2Q614.4 166.5 618.7 168.3M577.8 123.3Q579.2 127.8 583.8 127.4M565.8 93.9Q563.9 98.0 566.2 101.9" stroke="#b4b4b4" stroke-width="2.0"/><path d="M408.7 107.8Q413.1 107.9 413.6 112.3M271.0 77.1Q273.2 78.0 273.9 80.4M246.1 75.1Q247.3 74.3 248.6 75.0M364.1 95.1Q360.1 95.2 359.8 99.2" stroke="#c8c8c8" stroke-width="1.5"/><path d="M641.8 138.6Q643.7 142.1 642.7 145.9M562.3 116.3Q562.6 118.8 563.0 121.2M639.6 106.5Q641.4 108.4 644.0 109.0" stroke="#c8c8c8" stroke-width="2.0"/><path d="M371.6 89.6Q371.7 93.3 374.9 95.0" stroke="#dcdcdc" stroke-width="1.5"/><path d="M612.0 146.7Q614.5 150.0 618.4 148.6M564.5 100.3Q559.5 100.4 559.3 105.3M636.0 131.7Q639.7 133.0 643.4 134.3M466.8 120.0Q468.9 122.8 467.4 126.0M530.7 124.7Q533.0 128.4 529.8 131.3M632.1 116.3Q635.2 118.8 635.3 122.8M494.9 106.9Q497.1 107.8 497.1 110.2M549.6 123.6Q550.1 127.2 552.1 130.2M495.4 95.2Q499.1 95.8 501.6 98.6" stroke="#dcdcdc" stroke-width="2.0"/><path d="M405.9 91.0Q406.0 92.8 406.9 94.2" stroke="#f0f0f0" stroke-width="1.5"/><path d="M351.1 89.9Q350.3 93.4 353.6 95.0M350.6 72.9Q353.2 74.9 351.5 77.7" stroke="#f5f5f5" stroke-width="1.5"/><path d="M531.5 98.9Q529.6 102.7 531.8 106.4M561.7 98.1Q561.2 101.1 562.8 103.8M581.7 96.8Q586.0 97.6 588.0 101.5M521.3 96.9Q524.8 100.2 528.2 96.9" stroke="#f5f5f5" stroke-width="2.0"/></g>
<g fill="none" stroke-linecap="round"><path d="M331.1 87.9Q333.5 88.5 333.9 90.9M260.7 92.7Q262.7 92.7 263.7 94.5M266.0 79.1Q268.6 79.3 268.4 82.0M246.1 77.5Q248.0 79.6 246.3 81.8" stroke="#505050" stroke-width="2.2"/><path d="M622.3 158.8Q620.7 162.5 618.6 166.0M441.1 114.4Q441.0 116.4 440.2 118.3M570.7 113.9Q573.3 116.0 571.5 118.8M459.1 99.5Q459.3 102.9 462.7 103.0M636.6 122.1Q632.0 122.0 629.6 125.9M518.2 97.8Q520.1 100.8 517.5 103.0M606.1 155.8Q608.2 157.1 610.3 158.5M437.1 98.3Q436.1 101.2 439.0 102.3M608.0 113.3Q606.3 117.0 607.7 120.8" stroke="#505050" stroke-width="2.7"/><path d="M331.1 87.9Q333.5 88.5 333.9 90.9" stroke="#787878" stroke-width="1.5"/><path d="M606.1 155.8Q608.2 157.1 610.3 158.5" stroke="#8c8c8c" stroke-width="2.0"/><path d="M266.0 79.1Q268.6 79.3 268.4 82.0" stroke="#b4b4b4" stroke-width="1.5"/><path d="M622.3 158.8Q620.7 162.5 618.6 166.0M518.2 97.8Q520.1 100.8 517.5 103.0M437.1 98.3Q436.1 101.2 439.0 102.3M608.0 113.3Q606.3 117.0 607.7 120.8" stroke="#b4b4b4" stroke-width="2.0"/><path d="M260.7 92.7Q262.7 92.7 263.7 94.5M246.1 77.5Q248.0 79.6 246.3 81.8" stroke="#c8c8c8" stroke-width="1.5"/><path d="M459.1 99.5Q459.3 102.9 462.7 103.0" stroke="#c8c8c8" stroke-width="2.0"/><path d="M441.1 114.4Q441.0 116.4 440.2 118.3M570.7 113.9Q573.3 116.0 571.5 118.8" stroke="#dcdcdc" stroke-width="2.0"/><path d="M636.6 122.1Q632.0 122.0 629.6 125.9" stroke="#f0f0f0" stroke-width="2.0"/><path d="M339.4 78.0Q338.4 79.5 339.2 81.1M388.2 87.1Q389.1 89.8 391.5 91.6M292.5 69.7Q295.3 71.7 293.4 74.6M300.4 97.8Q300.6 99.6 302.3 99.9" stroke="#505050" stroke-width="2.2"/><path d="M509.9 98.3Q512.3 96.9 514.5 98.7M575.6 103.9Q574.7 106.3 575.6 108.6M593.4 118.1Q594.4 120.4 596.5 121.7M632.3 127.2Q634.5 128.7 636.9 129.8M463.6 123.5Q464.1 127.4 461.3 130.2M555.1 110.9Q559.1 113.3 557.6 117.7M629.2 148.1Q628.6 151.0 630.4 153.4M566.6 123.3Q570.2 124.4 570.0 128.2M446.2 103.2Q446.9 106.2 449.3 108.1" stroke="#505050" stroke-width="2.7"/><path d="M593.4 118.1Q594.4 120.4 596.5 121.7" stroke="#8c8c8c" stroke-width="2.0"/><path d="M339.4 78.0Q338.4 79.5 339.2 81.1M292.5 69.7Q295.3 71.7 293.4 74.6" stroke="#b4b4b4" stroke-width="1.5"/><path d="M463.6 123.5Q464.1 127.4 461.3 130.2M446.2 103.2Q446.9 106.2 449.3 108.1" stroke="#b4b4b4" stroke-width="2.0"/><path d="M388.2 87.1Q389.1 89.8 391.5 91.6" stroke="#c8c8c8" stroke-width="1.5"/><path d="M566.6 123.3Q570.2 124.4 570.0 128.2" stroke="#c8c8c8" stroke-width="2.0"/><path d="M509.9 98.3Q512.3 96.9 514.5 98.7M575.6 103.9Q574.7 106.3 575.6 108.6M555.1 110.9Q559.1 113.3 557.6 117.7" stroke="#dcdcdc" stroke-width="2.0"/><path d="M300.4 97.8Q300.6 99.6 302.3 99.9" stroke="#f0f0f0" stroke-width="1.5"/><path d="M632.3 127.2Q634.5 128.7 636.9 129.8M629.2 148.1Q628.6 151.0 630.4 153.4" stroke="#f0f0f0" stroke-width="2.0"/><path d="M306.6 85.4Q307.6 87.6 305.8 89.2M370.7 81.1Q373.6 82.1 376.6 82.2M336.3 91.5Q338.7 91.1 339.3 93.4M351.9 98.6Q352.2 100.5 353.7 101.7" stroke="#505050" stroke-width="2.2"/><path d="M562.3 112.3Q564.5 115.1 567.6 113.2M603.6 117.4Q607.4 119.0 610.2 122.0M548.2 93.7Q548.1 96.3 549.3 98.6M479.0 95.2Q477.1 97.7 479.1 100.0M516.2 118.6Q518.1 121.2 518.1 124.4M613.2 113.8Q609.8 116.8 612.6 120.4M531.5 123.9Q535.0 124.0 537.6 126.3M622.9 116.7Q625.4 118.6 628.5 118.9M452.1 86.1Q450.7 89.6 452.8 92.8" stroke="#505050" stroke-width="2.7"/><path d="M336.3 91.5Q338.7 91.1 339.3 93.4" stroke="#a0a0a0" stroke-width="1.5"/><path d="M562.3 112.3Q564.5 115.1 567.6 113.2" stroke="#a0a0a0" stroke-width="2.0"/><path d="M370.7 81.1Q373.6 82.1 376.6 82.2" stroke="#b4b4b4" stroke-width="1.5"/><path d="M548.2 93.7Q548.1 96.3 549.3 98.6M531.5 123.9Q535.0 124.0 537.6 126.3M622.9 116.7Q625.4 118.6 628.5 118.9" stroke="#b4b4b4" stroke-width="2.0"/><path d="M613.2 113.8Q609.8 116.8 612.6 120.4" stroke="#c8c8c8" stroke-width="2.0"/><path d="M306.6 85.4Q307.6 87.6 305.8 89.2M351.9 98.6Q352.2 100.5 353.7 101.7" stroke="#dcdcdc" stroke-width="1.5"/><path d="M479.0 95.2Q477.1 97.7 479.1 100.0M452.1 86.1Q450.7 89.6 452.8 92.8" stroke="#dcdcdc" stroke-width="2.0"/><path d="M603.6 117.4Q607.4 119.0 610.2 122.0M516.2 118.6Q518.1 121.2 518.1 124.4" stroke="#f0f0f0" stroke-width="2.0"/><path d="M385.4 107.7Q388.7 108.1 389.9 105.0M413.9 113.4Q416.5 114.3 418.1 116.5M303.5 72.3Q304.6 74.5 305.7 76.7" stroke="#505050" stroke-width="2.2"/><path d="M613.7 129.6Q616.1 133.0 614.7 136.9M614.4 137.4Q612.3 139.7 612.0 142.9M642.6 116.3Q646.4 116.0 648.9 118.7M438.1 109.6Q437.7 113.4 440.8 115.6M461.6 114.4Q463.9 116.3 464.2 119.2M511.2 118.2Q512.9 119.5 513.0 121.7M560.8 111.4Q560.3 113.6 560.8 115.9M462.6 125.7Q465.4 126.9 465.7 129.8M568.6 92.6Q571.8 93.5 572.0 96.8" stroke="#505050" stroke-width="2.7"/><path d="M651.1 102.6Q650.0 106.0 652.7 108.3" stroke="#505050" stroke-width="3.2"/><path d="M462.6 125.7Q465.4 126.9 465.7 129.8" stroke="#8c8c8c" stroke-width="2.0"/><path d="M651.1 102.6Q650.0 106.0 652.7 108.3" stroke="#8c8c8c" stroke-width="2.5"/><path d="M613.7 129.6Q616.1 133.0 614.7 136.9M461.6 114.4Q463.9 116.3 464.2 119.2M568.6 92.6Q571.8 93.5 572.0 96.8" stroke="#a0a0a0" stroke-width="2.0"/><path d="M511.2 118.2Q512.9 119.5 513.0 121.7" stroke="#b4b4b4" stroke-width="2.0"/><path d="M413.9 113.4Q416.5 114.3 418.1 116.5" stroke="#c8c8c8" stroke-width="1.5"/><path d="M438.1 109.6Q437.7 113.4 440.8 115.6M560.8 111.4Q560.3 113.6 560.8 115.9" stroke="#c8c8c8" stroke-width="2.0"/><path d="M385.4 107.7Q388.7 108.1 389.9 105.0" stroke="#dcdcdc" stroke-width="1.5"/><path d="M614.4 137.4Q612.3 139.7 612.0 142.9M642.6 116.3Q646.4 116.0 648.9 118.7" stroke="#dcdcdc" stroke-width="2.0"/><path d="M303.5 72.3Q304.6 74.5 305.7 76.7" stroke="#f0f0f0" stroke-width="1.5"/><path d="M380.6 92.7Q382.5 93.7 384.4 94.8M379.1 84.1Q379.9 86.0 379.9 88.0" stroke="#505050" stroke-width="2.2"/><path d="M510.1 89.4Q510.2 92.6 511.2 95.7M429.3 90.9Q432.6 91.5 433.3 94.8M464.7 96.6Q465.4 98.7 467.1 100.1M486.1 112.5Q484.7 115.4 486.2 118.4M482.8 91.0Q486.2 93.0 489.2 90.6M442.1 100.4Q444.6 102.6 447.8 101.9M542.8 133.5Q542.6 136.7 545.3 138.3M595.5 140.0Q598.4 141.2 599.3 144.2M442.6 101.2Q443.6 103.0 444.9 104.5M642.3 145.2Q644.0 147.5 646.4 148.7" stroke="#505050" stroke-width="2.7"/><path d="M651.2 126.3Q652.0 129.6 652.0 133.1" stroke="#505050" stroke-width="3.2"/><path d="M379.1 84.1Q379.9 86.0 379.9 88.0" stroke="#8c8c8c" stroke-width="1.5"/><path d="M651.2 126.3Q652.0 129.6 652.0 133.1" stroke="#8c8c8c" stroke-width="2.5"/><path d="M464.7 96.6Q465.4 98.7 467.1 100.1M486.1 112.5Q484.7 115.4 486.2 118.4" stroke="#a0a0a0" stroke-width="2.0"/><path d="M510.1 89.4Q510.2 92.6 511.2 95.7" stroke="#b4b4b4" stroke-width="2.0"/><path d="M380.6 92.7Q382.5 93.7 384.4 94.8" stroke="#c8c8c8" stroke-width="1.5"/><path d="M429.3 90.9Q432.6 91.5 433.3 94.8M482.8 91.0Q486.2 93.0 489.2 90.6M542.8 133.5Q542.6 136.7 545.3 138.3M642.3 145.2Q644.0 147.5 646.4 148.7" stroke="#c8c8c8" stroke-width="2.0"/><path d="M595.5 140.0Q598.4 141.2 599.3 144.2M442.6 101.2Q443.6 103.0 444.9 104.5" stroke="#dcdcdc" stroke-width="2.0"/><path d="M442.1 100.4Q444.6 102.6 447.8 101.9" stroke="#f0f0f0" stroke-width="2.0"/><path d="M245.0 73.3Q246.8 75.1 249.3 74.6M387.9 84.5Q389.3 88.4 393.4 87.8M377.2 82.1Q376.0 85.9 379.4 88.0M269.2 67.5Q271.0 68.2 270.6 70.0M245.4 74.2Q245.6 75.7 245.9 77.3M336.4 91.4Q336.4 94.9 339.3 96.6" stroke="#505050" stroke-width="2.2"/><path d="M474.3 104.8Q477.4 105.7 478.2 108.8M426.4 107.1Q423.8 108.0 424.3 110.7M543.9 95.5Q543.4 99.6 546.8 101.9M447.7 99.0Q450.3 100.9 453.5 101.5M501.8 94.5Q502.3 97.5 499.9 99.3M430.4 87.4Q431.9 90.7 435.1 92.4M556.3 112.8Q558.2 113.9 559.9 115.2" stroke="#505050" stroke-width="2.7"/><path d="M426.4 107.1Q423.8 108.0 424.3 110.7" stroke="#a0a0a0" stroke-width="2.0"/><path d="M387.9 84.5Q389.3 88.4 393.4 87.8M269.2 67.5Q271.0 68.2 270.6 70.0" stroke="#b4b4b4" stroke-width="1.5"/><path d="M543.9 95.5Q543.4 99.6 546.8 101.9M501.8 94.5Q502.3 97.5 499.9 99.3M430.4 87.4Q431.9 90.7 435.1 92.4" stroke="#b4b4b4" stroke-width="2.0"/><path d="M377.2 82.1Q376.0 85.9 379.4 88.0M336.4 91.4Q336.4 94.9 339.3 96.6" stroke="#c8c8c8" stroke-width="1.5"/><path d="M474.3 104.8Q477.4 105.7 478.2 108.8M447.7 99.0Q450.3 100.9 453.5 101.5" stroke="#c8c8c8" stroke-width="2.0"/><path d="M245.0 73.3Q246.8 75.1 249.3 74.6M245.4 74.2Q245.6 75.7 245.9 77.3" stroke="#dcdcdc" stroke-width="1.5"/><path d="M556.3 112.8Q558.2 113.9 559.9 115.2" stroke="#dcdcdc" stroke-width="2.0"/><path d="M389.9 94.2Q390.8 95.9 392.1 97.1M339.0 101.2Q341.4 100.8 343.3 102.3M343.8 88.9Q341.9 92.1 344.6 94.8M371.6 109.3Q373.1 111.5 375.8 111.0M294.8 79.9Q297.4 77.2 300.1 79.8M336.4 80.6Q338.0 82.3 337.9 84.7M420.2 85.9Q421.1 89.0 420.4 92.1" stroke="#505050" stroke-width="2.2"/><path d="M529.1 136.5Q528.9 138.8 531.0 140.0M527.5 104.1Q530.0 105.9 531.8 108.4M593.7 107.5Q594.9 110.7 598.3 111.2M552.1 120.8Q554.6 118.2 558.1 118.5M545.8 132.8Q546.7 135.4 549.5 135.4M620.9 151.7Q626.1 150.7 628.5 155.3" stroke="#505050" stroke-width="2.7"/><path d="M527.5 104.1Q530.0 105.9 531.8 108.4" stroke="#8c8c8c" stroke-width="2.0"/><path d="M593.7 107.5Q594.9 110.7 598.3 111.2" stroke="#a0a0a0" stroke-width="2.0"/><path d="M294.8 79.9Q297.4 77.2 300.1 79.8" stroke="#b4b4b4" stroke-width="1.5"/><path d="M529.1 136.5Q528.9 138.8 531.0 140.0M552.1 120.8Q554.6 118.2 558.1 118.5M620.9 151.7Q626.1 150.7 628.5 155.3" stroke="#b4b4b4" stroke-width="2.0"/><path d="M343.8 88.9Q341.9 92.1 344.6 94.8" stroke="#c8c8c8" stroke-width="1.5"/><path d="M545.8 132.8Q546.7 135.4 549.5 135.4" stroke="#c8c8c8" stroke-width="2.0"/><path d="M389.9 94.2Q390.8 95.9 392.1 97.1" stroke="#dcdcdc" stroke-width="1.5"/><path d="M339.0 101.2Q341.4 100.8 343.3 102.3M371.6 109.3Q373.1 111.5 375.8 111.0M336.4 80.6Q338.0 82.3 337.9 84.7M420.2 85.9Q421.1 89.0 420.4 92.1" stroke="#f0f0f0" stroke-width="1.5"/><path d="M300.5 82.5Q303.4 81.3 305.3 83.9M401.7 82.5Q403.1 83.6 404.9 83.8M411.7 114.7Q413.6 116.4 415.9 115.2M361.4 91.0Q364.3 91.7 366.2 94.0M255.8 69.4Q255.6 71.8 254.1 73.8" stroke="#505050" stroke-width="2.2"/><path d="M483.6 98.9Q481.9 101.9 484.0 104.6M486.4 109.1Q488.6 112.1 492.2 111.0M460.5 117.2Q457.7 119.8 459.2 123.4M578.3 115.5Q580.4 116.6 582.3 118.1M446.1 101.0Q448.4 101.1 449.1 103.2M496.6 105.7Q498.6 107.9 501.6 107.6M426.4 96.8Q427.9 97.8 429.3 98.9" stroke="#505050" stroke-width="2.7"/><path d="M652.7 129.3Q648.6 132.0 648.3 136.8" stroke="#505050" stroke-width="3.2"/><path d="M361.4 91.0Q364.3 91.7 366.2 94.0" stroke="#8c8c8c" stroke-width="1.5"/><path d="M401.7 82.5Q403.1 83.6 404.9 83.8" stroke="#b4b4b4" stroke-width="1.5"/><path d="M578.3 115.5Q580.4 116.6 582.3 118.1" stroke="#b4b4b4" stroke-width="2.0"/><path d="M652.7 129.3Q648.6 132.0 648.3 136.8" stroke="#b4b4b4" stroke-width="2.5"/><path d="M496.6 105.7Q498.6 107.9 501.6 107.6" stroke="#c8c8c8" stroke-width="2.0"/><path d="M300.5 82.5Q303.4 81.3 305.3 83.9" stroke="#dcdcdc" stroke-width="1.5"/><path d="M483.6 98.9Q481.9 101.9 484.0 104.6M460.5 117.2Q457.7 119.8 459.2 123.4" stroke="#dcdcdc" stroke-width="2.0"/><path d="M411.7 114.7Q413.6 116.4 415.9 115.2M255.8 69.4Q255.6 71.8 254.1 73.8" stroke="#f0f0f0" stroke-width="1.5"/><path d="M486.4 109.1Q488.6 112.1 492.2 111.0M446.1 101.0Q448.4 101.1 449.1 103.2M426.4 96.8Q427.9 97.8 429.3 98.9" stroke="#f0f0f0" stroke-width="2.0"/><path d="M298.3 75.9Q300.9 78.6 298.6 81.5M307.7 90.2Q309.7 89.0 311.8 90.3M353.0 80.6Q354.7 79.8 356.1 80.9M318.4 75.7Q318.4 77.6 319.3 79.2" stroke="#505050" stroke-width="2.2"/><path d="M447.7 106.1Q450.3 106.5 451.4 108.9M610.9 150.7Q613.1 152.2 614.1 154.7M489.9 86.1Q491.3 88.6 494.0 89.7M528.5 125.9Q528.2 127.9 528.8 129.8M582.1 94.9Q585.8 97.8 584.9 102.4M632.4 121.5Q634.7 125.0 638.7 124.4M468.6 128.0Q469.2 130.4 470.2 132.5M547.0 114.1Q546.3 116.8 548.7 118.0" stroke="#505050" stroke-width="2.7"/><path d="M652.7 132.9Q653.9 136.2 657.4 135.7" stroke="#505050" stroke-width="3.2"/><path d="M353.0 80.6Q354.7 79.8 356.1 80.9" stroke="#a0a0a0" stroke-width="1.5"/><path d="M307.7 90.2Q309.7 89.0 311.8 90.3" stroke="#b4b4b4" stroke-width="1.5"/><path d="M652.7 132.9Q653.9 136.2 657.4 135.7" stroke="#b4b4b4" stroke-width="2.5"/><path d="M298.3 75.9Q300.9 78.6 298.6 81.5M318.4 75.7Q318.4 77.6 319.3 79.2" stroke="#c8c8c8" stroke-width="1.5"/><path d="M610.9 150.7Q613.1 152.2 614.1 154.7M632.4 121.5Q634.7 125.0 638.7 124.4" stroke="#c8c8c8" stroke-width="2.0"/><path d="M528.5 125.9Q528.2 127.9 528.8 129.8M582.1 94.9Q585.8 97.8 584.9 102.4M547.0 114.1Q546.3 116.8 548.7 118.0" stroke="#dcdcdc" stroke-width="2.0"/><path d="M447.7 106.1Q450.3 106.5 451.4 108.9M489.9 86.1Q491.3 88.6 494.0 89.7M468.6 128.0Q469.2 130.4 470.2 132.5" stroke="#f0f0f0" stroke-width="2.0"/><path d="M392.7 100.3Q394.5 100.2 396.3 100.1M296.1 79.5Q296.2 81.8 298.2 82.8M409.0 112.9Q410.7 114.6 410.9 117.1M251.5 84.1Q251.3 86.3 249.2 86.8M345.6 89.4Q345.2 91.9 345.6 94.3" stroke="#505050" stroke-width="2.2"/><path d="M482.5 103.4Q485.5 103.2 488.5 103.3M644.0 124.5Q645.2 129.0 643.5 133.4M467.2 111.0Q469.6 113.9 467.2 116.7M516.7 106.8Q514.9 109.1 516.3 111.7M425.0 113.2Q426.5 116.2 429.0 118.5M459.7 99.5Q461.7 102.4 458.7 104.4M593.7 100.1Q595.3 103.0 596.8 105.8" stroke="#505050" stroke-width="2.7"/><path d="M651.4 132.2Q648.8 136.0 652.0 139.3" stroke="#505050" stroke-width="3.2"/><path d="M651.4 132.2Q648.8 136.0 652.0 139.3" stroke="#8c8c8c" stroke-width="2.5"/><path d="M409.0 112.9Q410.7 114.6 410.9 117.1" stroke="#a0a0a0" stroke-width="1.5"/><path d="M644.0 124.5Q645.2 129.0 643.5 133.4" stroke="#b4b4b4" stroke-width="2.0"/><path d="M296.1 79.5Q296.2 81.8 298.2 82.8M345.6 89.4Q345.2 91.9 345.6 94.3" stroke="#c8c8c8" stroke-width="1.5"/><path d="M467.2 111.0Q469.6 113.9 467.2 116.7M459.7 99.5Q461.7 102.4 458.7 104.4" stroke="#c8c8c8" stroke-width="2.0"/><path d="M392.7 100.3Q394.5 100.2 396.3 100.1M251.5 84.1Q251.3 86.3 249.2 86.8" stroke="#dcdcdc" stroke-width="1.5"/><path d="M482.5 103.4Q485.5 103.2 488.5 103.3M516.7 106.8Q514.9 109.1 516.3 111.7" stroke="#dcdcdc" stroke-width="2.0"/><path d="M425.0 113.2Q426.5 116.2 429.0 118.5M593.7 100.1Q595.3 103.0 596.8 105.8" stroke="#f0f0f0" stroke-width="2.0"/><path d="M371.3 77.5Q369.7 78.8 369.6 80.8M349.2 74.7Q351.5 74.3 352.6 76.4M359.8 82.1Q360.2 84.1 361.1 86.0" stroke="#505050" stroke-width="2.2"/><path d="M538.2 114.6Q541.1 113.4 543.2 115.8M473.6 128.1Q475.3 130.2 477.9 131.1M585.0 117.8Q588.4 120.0 587.4 123.9M623.2 155.6Q627.2 158.8 626.4 163.8M615.1 135.3Q619.6 133.0 623.0 136.8M628.5 112.9Q630.5 115.3 630.0 118.3M552.5 122.2Q552.7 126.1 552.5 130.0M587.8 120.3Q589.6 121.6 591.1 123.3M490.2 115.2Q492.1 117.5 492.0 120.4M567.5 103.3Q570.3 105.3 570.8 108.7" stroke="#505050" stroke-width="2.7"/><path d="M359.8 82.1Q360.2 84.1 361.1 86.0" stroke="#a0a0a0" stroke-width="1.5"/><path d="M628.5 112.9Q630.5 115.3 630.0 118.3" stroke="#a0a0a0" stroke-width="2.0"/><path d="M538.2 114.6Q541.1 113.4 543.2 115.8" stroke="#b4b4b4" stroke-width="2.0"/><path d="M371.3 77.5Q369.7 78.8 369.6 80.8" stroke="#c8c8c8" stroke-width="1.5"/><path d="M473.6 128.1Q475.3 130.2 477.9 131.1M623.2 155.6Q627.2 158.8 626.4 163.8M615.1 135.3Q619.6 133.0 623.0 136.8M552.5 122.2Q552.7 126.1 552.5 130.0M490.2 115.2Q492.1 117.5 492.0 120.4M567.5 103.3Q570.3 105.3 570.8 108.7" stroke="#c8c8c8" stroke-width="2.0"/><path d="M349.2 74.7Q351.5 74.3 352.6 76.4" stroke="#dcdcdc" stroke-width="1.5"/><path d="M585.0 117.8Q588.4 120.0 587.4 123.9" stroke="#dcdcdc" stroke-width="2.0"/><path d="M587.8 120.3Q589.6 121.6 591.1 123.3" stroke="#f0f0f0" stroke-width="2.0"/><path d="M351.2 108.2Q353.8 109.3 354.5 111.9M236.4 69.1Q239.4 69.7 239.8 72.7M236.0 80.6Q237.8 81.3 237.2 83.1M233.8 64.4Q232.9 66.6 234.7 68.2" stroke="#505050" stroke-width="2.2"/><path d="M534.0 119.3Q533.9 122.2 536.6 123.1M428.7 108.6Q430.7 107.3 432.7 108.7M639.9 145.2Q638.9 149.5 640.3 153.6M639.7 138.9Q641.5 141.2 641.8 144.0M492.8 87.6Q495.0 89.8 493.8 92.7M533.9 122.7Q534.3 126.2 537.7 126.9M599.1 140.3Q597.9 143.0 597.2 146.0M549.0 124.5Q552.7 127.4 550.6 131.7M446.7 93.5Q448.6 91.4 451.2 92.6" stroke="#505050" stroke-width="2.7"/><path d="M351.2 108.2Q353.8 109.3 354.5 111.9" stroke="#a0a0a0" stroke-width="1.5"/><path d="M533.9 122.7Q534.3 126.2 537.7 126.9" stroke="#a0a0a0" stroke-width="2.0"/><path d="M236.0 80.6Q237.8 81.3 237.2 83.1" stroke="#b4b4b4" stroke-width="1.5"/><path d="M428.7 108.6Q430.7 107.3 432.7 108.7M599.1 140.3Q597.9 143.0 597.2 146.0M549.0 124.5Q552.7 127.4 550.6 131.7M446.7 93.5Q448.6 91.4 451.2 92.6" stroke="#b4b4b4" stroke-width="2.0"/><path d="M236.4 69.1Q239.4 69.7 239.8 72.7" stroke="#dcdcdc" stroke-width="1.5"/><path d="M534.0 119.3Q533.9 122.2 536.6 123.1M639.9 145.2Q638.9 149.5 640.3 153.6" stroke="#dcdcdc" stroke-width="2.0"/><path d="M233.8 64.4Q232.9 66.6 234.7 68.2" stroke="#f0f0f0" stroke-width="1.5"/><path d="M639.7 138.9Q641.5 141.2 641.8 144.0M492.8 87.6Q495.0 89.8 493.8 92.7" stroke="#f0f0f0" stroke-width="2.0"/><path d="M289.5 81.2Q291.8 80.0 293.9 81.6" stroke="#505050" stroke-width="2.2"/><path d="M548.3 111.9Q546.9 115.9 549.6 119.2M552.8 102.1Q555.1 105.5 559.1 104.7M512.5 96.5Q512.3 98.9 513.6 100.9" stroke="#505050" stroke-width="2.7"/><path d="M548.3 111.9Q546.9 115.9 549.6 119.2" stroke="#b4b4b4" stroke-width="2.0"/><path d="M289.5 81.2Q291.8 80.0 293.9 81.6" stroke="#c8c8c8" stroke-width="1.5"/><path d="M552.8 102.1Q555.1 105.5 559.1 104.7M512.5 96.5Q512.3 98.9 513.6 100.9" stroke="#f0f0f0" stroke-width="2.0"/></g>
<path d="M250.5,33.8C250.9,34.8 250.9,38.6 253.1,40.0C255.3,41.4 260.5,40.1 263.6,42.2C266.7,44.3 269.4,50.9 271.5,52.7C273.6,54.5 275.5,53.0 276.3,53.1M263.6,41.3C263.0,40.5 260.1,38.2 259.7,36.5C259.3,34.8 260.8,31.8 261.0,30.8" fill="none" stroke="#420004" stroke-width="2.5" stroke-linecap="round" stroke-linejoin="round" opacity="0.85"/>
<path d="M250.5,33.8C250.9,34.8 250.9,38.6 253.1,40.0C255.3,41.4 260.5,40.1 263.6,42.2C266.7,44.3 269.4,50.9 271.5,52.7C273.6,54.5 275.5,53.0 276.3,53.1M263.6,41.3C263.0,40.5 260.1,38.2 259.7,36.5C259.3,34.8 260.8,31.8 261.0,30.8" fill="none" stroke="#c42a30" stroke-width="1.4" stroke-linecap="round" stroke-linejoin="round" transform="translate(-0.3,-0.3)"/>
<path d="M343.0,51.0C342.8,50.2 341.7,47.4 342.0,46.0C342.3,44.6 343.7,43.2 345.0,42.5C346.3,41.8 348.5,41.6 350.0,42.0C351.5,42.4 353.1,43.8 354.0,45.0C354.9,46.2 355.8,47.8 355.5,49.0C355.2,50.2 353.6,51.8 352.0,52.5C350.4,53.2 347.5,53.2 346.0,53.0C344.5,52.8 343.5,51.3 343.0,51.0M345.5,46.0C346.2,45.8 348.9,44.5 350.0,45.0C351.1,45.5 352.5,48.2 352.0,49.0C351.5,49.8 348.1,50.5 347.0,50.0C345.9,49.5 345.8,46.7 345.5,46.0M349.5,42.0C349.3,41.5 348.5,39.8 348.5,39.0C348.5,38.2 349.3,37.8 349.5,37.5M342.0,50.0 L340.5,51.0" fill="none" stroke="#420004" stroke-width="3.7" stroke-linecap="round" stroke-linejoin="round" opacity="0.85"/>
<path d="M343.0,51.0C342.8,50.2 341.7,47.4 342.0,46.0C342.3,44.6 343.7,43.2 345.0,42.5C346.3,41.8 348.5,41.6 350.0,42.0C351.5,42.4 353.1,43.8 354.0,45.0C354.9,46.2 355.8,47.8 355.5,49.0C355.2,50.2 353.6,51.8 352.0,52.5C350.4,53.2 347.5,53.2 346.0,53.0C344.5,52.8 343.5,51.3 343.0,51.0M345.5,46.0C346.2,45.8 348.9,44.5 350.0,45.0C351.1,45.5 352.5,48.2 352.0,49.0C351.5,49.8 348.1,50.5 347.0,50.0C345.9,49.5 345.8,46.7 345.5,46.0M349.5,42.0C349.3,41.5 348.5,39.8 348.5,39.0C348.5,38.2 349.3,37.8 349.5,37.5M342.0,50.0 L340.5,51.0" fill="none" stroke="#c00c16" stroke-width="2.6" stroke-linecap="round" stroke-linejoin="round" transform="translate(-0.3,-0.3)"/>
<path d="M481.0,27.0C482.2,26.8 486.4,24.1 488.0,25.6C489.6,27.1 491.3,33.9 490.5,36.0C489.7,38.1 484.7,39.0 483.0,38.0C481.3,37.0 480.7,31.8 480.4,30.0C480.1,28.2 480.9,27.5 481.0,27.0M484.0,29.0 L487.0,35.0M490.0,37.0C491.0,36.7 493.8,35.6 496.0,35.0C498.2,34.4 502.2,33.8 503.5,33.5M472.4,48.0C473.3,47.9 476.2,47.7 478.0,47.5C479.8,47.3 481.7,47.4 483.1,46.9C484.5,46.4 485.3,46.1 486.3,44.8C487.3,43.5 488.6,40.0 489.0,39.0M486.3,44.8C486.5,46.8 486.4,54.0 487.3,56.5C488.2,59.0 490.0,58.9 491.6,59.7C493.2,60.5 496.0,61.0 496.9,61.3M491.0,40.0C491.3,40.9 491.4,43.8 492.7,45.5C494.0,47.2 496.8,49.3 499.0,50.1C501.2,50.9 504.4,48.9 506.0,50.5C507.6,52.1 508.2,58.2 508.6,59.7" fill="none" stroke="#420004" stroke-width="4.0" stroke-linecap="round" stroke-linejoin="round" opacity="0.85"/>
<path d="M481.0,27.0C482.2,26.8 486.4,24.1 488.0,25.6C489.6,27.1 491.3,33.9 490.5,36.0C489.7,38.1 484.7,39.0 483.0,38.0C481.3,37.0 480.7,31.8 480.4,30.0C480.1,28.2 480.9,27.5 481.0,27.0M484.0,29.0 L487.0,35.0M490.0,37.0C491.0,36.7 493.8,35.6 496.0,35.0C498.2,34.4 502.2,33.8 503.5,33.5M472.4,48.0C473.3,47.9 476.2,47.7 478.0,47.5C479.8,47.3 481.7,47.4 483.1,46.9C484.5,46.4 485.3,46.1 486.3,44.8C487.3,43.5 488.6,40.0 489.0,39.0M486.3,44.8C486.5,46.8 486.4,54.0 487.3,56.5C488.2,59.0 490.0,58.9 491.6,59.7C493.2,60.5 496.0,61.0 496.9,61.3M491.0,40.0C491.3,40.9 491.4,43.8 492.7,45.5C494.0,47.2 496.8,49.3 499.0,50.1C501.2,50.9 504.4,48.9 506.0,50.5C507.6,52.1 508.2,58.2 508.6,59.7" fill="none" stroke="#cc0e18" stroke-width="2.9" stroke-linecap="round" stroke-linejoin="round" transform="translate(-0.3,-0.3)"/>
<path d="M492.0,36.0C492.8,35.8 495.1,35.0 497.0,34.5C498.9,34.0 502.4,33.2 503.5,33.0" fill="none" stroke="#420004" stroke-width="5.1" stroke-linecap="round" stroke-linejoin="round" opacity="0.85"/>
<path d="M492.0,36.0C492.8,35.8 495.1,35.0 497.0,34.5C498.9,34.0 502.4,33.2 503.5,33.0" fill="none" stroke="#b80c14" stroke-width="4.0" stroke-linecap="round" stroke-linejoin="round" transform="translate(-0.3,-0.3)"/>
<path d="M596.4,83.9C597.3,84.2 601.0,84.2 601.7,85.5C602.4,86.8 600.8,90.8 600.6,91.9M601.7,85.5C602.1,84.1 602.2,79.0 603.8,77.0C605.4,75.0 609.2,73.7 611.3,73.3C613.3,72.9 615.4,73.1 616.1,74.4C616.8,75.7 616.0,78.9 615.5,81.3C615.0,83.7 612.8,86.2 612.9,88.7C613.0,91.2 616.0,93.9 616.1,96.2C616.2,98.5 615.1,101.2 613.4,102.6C611.7,104.0 607.2,104.8 606.0,104.7C604.8,104.6 606.0,102.5 606.0,102.0M616.6,79.1C617.3,78.8 619.1,76.6 620.9,77.0C622.7,77.4 624.9,79.3 627.2,81.3C629.5,83.2 633.1,87.8 634.7,88.7C636.3,89.6 637.5,88.4 636.8,86.6C636.1,84.8 631.5,79.1 630.4,77.6" fill="none" stroke="#420004" stroke-width="3.5" stroke-linecap="round" stroke-linejoin="round" opacity="0.85"/>
<path d="M596.4,83.9C597.3,84.2 601.0,84.2 601.7,85.5C602.4,86.8 600.8,90.8 600.6,91.9M601.7,85.5C602.1,84.1 602.2,79.0 603.8,77.0C605.4,75.0 609.2,73.7 611.3,73.3C613.3,72.9 615.4,73.1 616.1,74.4C616.8,75.7 616.0,78.9 615.5,81.3C615.0,83.7 612.8,86.2 612.9,88.7C613.0,91.2 616.0,93.9 616.1,96.2C616.2,98.5 615.1,101.2 613.4,102.6C611.7,104.0 607.2,104.8 606.0,104.7C604.8,104.6 606.0,102.5 606.0,102.0M616.6,79.1C617.3,78.8 619.1,76.6 620.9,77.0C622.7,77.4 624.9,79.3 627.2,81.3C629.5,83.2 633.1,87.8 634.7,88.7C636.3,89.6 637.5,88.4 636.8,86.6C636.1,84.8 631.5,79.1 630.4,77.6" fill="none" stroke="#d0101c" stroke-width="2.4" stroke-linecap="round" stroke-linejoin="round" transform="translate(-0.3,-0.3)"/>
<path d="M629.0,79.0C629.8,79.8 632.8,82.7 634.0,84.0C635.2,85.3 635.7,86.5 636.0,87.0" fill="none" stroke="#420004" stroke-width="4.9" stroke-linecap="round" stroke-linejoin="round" opacity="0.85"/>
<path d="M629.0,79.0C629.8,79.8 632.8,82.7 634.0,84.0C635.2,85.3 635.7,86.5 636.0,87.0" fill="none" stroke="#a00810" stroke-width="3.8" stroke-linecap="round" stroke-linejoin="round" transform="translate(-0.3,-0.3)"/>
<path d="M236.6,76.6C237.1,76.9 239.3,77.3 239.7,78.2C240.1,79.1 239.6,81.2 238.9,82.0C238.2,82.8 236.7,83.2 235.8,82.8C234.9,82.4 233.4,80.7 233.5,79.7C233.6,78.7 236.1,77.1 236.6,76.6M238.9,82.0C239.2,82.3 239.8,82.8 240.5,83.6C241.2,84.4 242.0,86.5 242.8,86.7C243.6,87.0 243.9,85.1 245.1,85.1C246.3,85.1 249.4,85.9 249.8,86.7C250.2,87.5 248.4,89.0 247.4,89.8C246.4,90.6 243.6,90.5 243.6,91.3C243.6,92.1 246.0,93.4 247.4,94.4C248.8,95.4 250.6,97.2 252.1,97.5C253.6,97.8 256.2,97.0 256.7,96.0C257.2,95.0 256.0,91.8 255.2,91.3C254.4,90.8 252.6,92.6 252.1,92.9" fill="none" stroke="#420004" stroke-width="2.9" stroke-linecap="round" stroke-linejoin="round" opacity="0.85"/>
<path d="M236.6,76.6C237.1,76.9 239.3,77.3 239.7,78.2C240.1,79.1 239.6,81.2 238.9,82.0C238.2,82.8 236.7,83.2 235.8,82.8C234.9,82.4 233.4,80.7 233.5,79.7C233.6,78.7 236.1,77.1 236.6,76.6M238.9,82.0C239.2,82.3 239.8,82.8 240.5,83.6C241.2,84.4 242.0,86.5 242.8,86.7C243.6,87.0 243.9,85.1 245.1,85.1C246.3,85.1 249.4,85.9 249.8,86.7C250.2,87.5 248.4,89.0 247.4,89.8C246.4,90.6 243.6,90.5 243.6,91.3C243.6,92.1 246.0,93.4 247.4,94.4C248.8,95.4 250.6,97.2 252.1,97.5C253.6,97.8 256.2,97.0 256.7,96.0C257.2,95.0 256.0,91.8 255.2,91.3C254.4,90.8 252.6,92.6 252.1,92.9" fill="none" stroke="#d8141e" stroke-width="1.8" stroke-linecap="round" stroke-linejoin="round" transform="translate(-0.3,-0.3)"/>
<path d="M363.6,67.4C364.8,67.9 369.6,69.0 370.5,70.1C371.4,71.2 369.6,72.0 369.0,73.9C368.4,75.8 367.6,79.8 366.7,81.7C365.8,83.6 364.1,84.9 363.6,85.5M358.2,76.2C359.2,75.4 363.0,71.7 364.3,71.6C365.6,71.5 366.5,74.2 365.9,75.5C365.3,76.8 361.4,78.7 360.5,79.3" fill="none" stroke="#420004" stroke-width="3.7" stroke-linecap="round" stroke-linejoin="round" opacity="0.85"/>
<path d="M363.6,67.4C364.8,67.9 369.6,69.0 370.5,70.1C371.4,71.2 369.6,72.0 369.0,73.9C368.4,75.8 367.6,79.8 366.7,81.7C365.8,83.6 364.1,84.9 363.6,85.5M358.2,76.2C359.2,75.4 363.0,71.7 364.3,71.6C365.6,71.5 366.5,74.2 365.9,75.5C365.3,76.8 361.4,78.7 360.5,79.3" fill="none" stroke="#d8101a" stroke-width="2.6" stroke-linecap="round" stroke-linejoin="round" transform="translate(-0.3,-0.3)"/>
<path d="M389.5,113.6C389.3,112.4 387.7,108.3 388.3,106.6C388.9,104.8 391.3,102.9 393.0,103.1C394.7,103.3 397.8,106.0 398.7,107.8C399.6,109.5 399.5,111.9 398.7,113.6C397.9,115.3 395.1,115.9 394.1,118.2C393.1,120.5 393.5,125.2 392.9,127.5C392.3,129.8 392.1,131.5 390.6,132.1C389.1,132.7 386.2,130.4 383.7,131.0C381.2,131.6 378.6,134.3 375.5,135.6C372.4,136.8 367.5,137.5 365.1,138.5C362.7,139.5 361.4,139.8 361.0,141.4C360.6,143.1 361.7,146.9 362.8,148.4C363.9,149.9 366.0,151.1 367.4,150.7C368.8,150.3 370.3,146.9 370.9,146.1M386.0,128.7C385.8,127.5 385.8,122.1 384.8,121.7C383.8,121.3 381.6,125.3 380.2,126.3C378.8,127.3 377.3,128.5 376.7,127.5C376.1,126.5 376.0,122.4 376.7,120.5C377.4,118.6 380.1,116.7 380.8,115.9" fill="none" stroke="#420004" stroke-width="4.3" stroke-linecap="round" stroke-linejoin="round" opacity="0.85"/>
<path d="M389.5,113.6C389.3,112.4 387.7,108.3 388.3,106.6C388.9,104.8 391.3,102.9 393.0,103.1C394.7,103.3 397.8,106.0 398.7,107.8C399.6,109.5 399.5,111.9 398.7,113.6C397.9,115.3 395.1,115.9 394.1,118.2C393.1,120.5 393.5,125.2 392.9,127.5C392.3,129.8 392.1,131.5 390.6,132.1C389.1,132.7 386.2,130.4 383.7,131.0C381.2,131.6 378.6,134.3 375.5,135.6C372.4,136.8 367.5,137.5 365.1,138.5C362.7,139.5 361.4,139.8 361.0,141.4C360.6,143.1 361.7,146.9 362.8,148.4C363.9,149.9 366.0,151.1 367.4,150.7C368.8,150.3 370.3,146.9 370.9,146.1M386.0,128.7C385.8,127.5 385.8,122.1 384.8,121.7C383.8,121.3 381.6,125.3 380.2,126.3C378.8,127.3 377.3,128.5 376.7,127.5C376.1,126.5 376.0,122.4 376.7,120.5C377.4,118.6 380.1,116.7 380.8,115.9" fill="none" stroke="#d8101a" stroke-width="3.2" stroke-linecap="round" stroke-linejoin="round" transform="translate(-0.3,-0.3)"/>
<path d="M493.0,93.9C494.2,93.5 498.7,91.2 500.0,91.3C501.3,91.4 501.6,93.5 500.9,94.8C500.2,96.1 497.0,97.5 495.7,99.1C494.4,100.7 493.0,103.1 493.0,104.4C493.0,105.7 493.9,106.3 495.7,107.0C497.4,107.7 501.2,108.5 503.5,108.7C505.8,108.9 507.9,107.2 509.6,107.9C511.3,108.6 513.5,111.5 513.9,113.1C514.3,114.7 512.3,116.7 512.0,117.4M493.0,104.4C492.9,105.3 492.3,108.4 492.5,110.0C492.7,111.6 492.9,112.6 494.0,114.0C495.1,115.4 497.3,117.5 499.0,118.3C500.7,119.1 503.2,118.9 504.0,119.0" fill="none" stroke="#420004" stroke-width="3.3" stroke-linecap="round" stroke-linejoin="round" opacity="0.85"/>
<path d="M493.0,93.9C494.2,93.5 498.7,91.2 500.0,91.3C501.3,91.4 501.6,93.5 500.9,94.8C500.2,96.1 497.0,97.5 495.7,99.1C494.4,100.7 493.0,103.1 493.0,104.4C493.0,105.7 493.9,106.3 495.7,107.0C497.4,107.7 501.2,108.5 503.5,108.7C505.8,108.9 507.9,107.2 509.6,107.9C511.3,108.6 513.5,111.5 513.9,113.1C514.3,114.7 512.3,116.7 512.0,117.4M493.0,104.4C492.9,105.3 492.3,108.4 492.5,110.0C492.7,111.6 492.9,112.6 494.0,114.0C495.1,115.4 497.3,117.5 499.0,118.3C500.7,119.1 503.2,118.9 504.0,119.0" fill="none" stroke="#d41a22" stroke-width="2.2" stroke-linecap="round" stroke-linejoin="round" transform="translate(-0.3,-0.3)"/>
<path d="M267.4,125.2C268.3,125.8 271.2,128.4 272.9,128.5C274.6,128.6 275.8,126.0 277.6,125.8C279.4,125.6 281.7,127.2 283.7,127.2C285.7,127.2 288.0,126.9 289.8,125.8C291.6,124.7 293.7,121.3 294.5,120.4M266.1,136.0C267.2,135.9 271.0,136.6 272.9,135.3C274.8,134.1 276.4,130.0 277.6,128.5C278.8,127.0 279.9,126.8 280.3,126.5M268.8,142.7C270.0,142.1 274.4,141.1 276.2,139.4C278.0,137.7 278.7,134.6 279.6,132.6C280.5,130.6 280.2,127.9 281.7,127.2C283.2,126.5 286.8,129.1 288.4,128.5C290.0,127.9 290.7,124.6 291.1,123.8M280.3,128.5C280.4,130.0 280.4,135.5 281.0,137.3C281.6,139.1 283.0,139.6 283.7,139.4C284.4,139.2 284.8,136.6 285.0,136.0" fill="none" stroke="#420004" stroke-width="2.4" stroke-linecap="round" stroke-linejoin="round" opacity="0.85"/>
<path d="M267.4,125.2C268.3,125.8 271.2,128.4 272.9,128.5C274.6,128.6 275.8,126.0 277.6,125.8C279.4,125.6 281.7,127.2 283.7,127.2C285.7,127.2 288.0,126.9 289.8,125.8C291.6,124.7 293.7,121.3 294.5,120.4M266.1,136.0C267.2,135.9 271.0,136.6 272.9,135.3C274.8,134.1 276.4,130.0 277.6,128.5C278.8,127.0 279.9,126.8 280.3,126.5M268.8,142.7C270.0,142.1 274.4,141.1 276.2,139.4C278.0,137.7 278.7,134.6 279.6,132.6C280.5,130.6 280.2,127.9 281.7,127.2C283.2,126.5 286.8,129.1 288.4,128.5C290.0,127.9 290.7,124.6 291.1,123.8M280.3,128.5C280.4,130.0 280.4,135.5 281.0,137.3C281.6,139.1 283.0,139.6 283.7,139.4C284.4,139.2 284.8,136.6 285.0,136.0" fill="none" stroke="#b82a32" stroke-width="1.3" stroke-linecap="round" stroke-linejoin="round" transform="translate(-0.3,-0.3)"/>
<path d="M542.4,157.7C543.6,157.2 548.1,156.4 549.9,155.0C551.7,153.6 552.4,150.9 553.3,149.0C554.2,147.1 554.1,144.3 555.3,143.5C556.5,142.7 559.2,144.5 560.7,144.2C562.2,143.9 563.4,142.5 564.1,141.5C564.8,140.5 564.7,138.7 564.8,138.1M555.3,143.5C555.2,144.6 554.4,148.5 554.6,150.3C554.8,152.1 555.9,154.2 556.7,154.4C557.5,154.6 559.0,152.1 559.4,151.7" fill="none" stroke="#420004" stroke-width="2.5" stroke-linecap="round" stroke-linejoin="round" opacity="0.85"/>
<path d="M542.4,157.7C543.6,157.2 548.1,156.4 549.9,155.0C551.7,153.6 552.4,150.9 553.3,149.0C554.2,147.1 554.1,144.3 555.3,143.5C556.5,142.7 559.2,144.5 560.7,144.2C562.2,143.9 563.4,142.5 564.1,141.5C564.8,140.5 564.7,138.7 564.8,138.1M555.3,143.5C555.2,144.6 554.4,148.5 554.6,150.3C554.8,152.1 555.9,154.2 556.7,154.4C557.5,154.6 559.0,152.1 559.4,151.7" fill="none" stroke="#c02830" stroke-width="1.4" stroke-linecap="round" stroke-linejoin="round" transform="translate(-0.3,-0.3)"/>
<path d="M477.0,177.1C477.8,176.2 480.5,173.5 482.0,172.0C483.5,170.5 485.3,168.7 486.0,168.0M487.8,160.0C488.8,160.1 492.1,159.7 494.0,160.5C495.9,161.3 497.6,163.1 499.0,165.0C500.4,166.9 502.1,169.4 502.5,171.7C502.9,174.0 502.8,177.2 501.5,179.0C500.2,180.8 497.1,182.2 495.0,182.5C492.9,182.8 490.4,182.4 489.0,181.0C487.6,179.6 487.0,176.6 486.5,174.0C486.0,171.4 486.0,167.8 486.2,165.5C486.4,163.2 487.5,160.9 487.8,160.0M490.0,163.0C490.8,163.7 493.7,165.2 495.0,167.0C496.3,168.8 498.2,172.0 498.0,174.0C497.8,176.0 495.3,178.7 494.0,179.0C492.7,179.3 490.5,177.7 490.0,176.0C489.5,174.3 490.0,171.2 491.0,169.0C492.0,166.8 495.2,164.0 496.0,163.0M501.0,179.4 L504.0,182.0M484.0,170.0 L490.0,171.0" fill="none" stroke="#420004" stroke-width="4.1" stroke-linecap="round" stroke-linejoin="round" opacity="0.85"/>
<path d="M477.0,177.1C477.8,176.2 480.5,173.5 482.0,172.0C483.5,170.5 485.3,168.7 486.0,168.0M487.8,160.0C488.8,160.1 492.1,159.7 494.0,160.5C495.9,161.3 497.6,163.1 499.0,165.0C500.4,166.9 502.1,169.4 502.5,171.7C502.9,174.0 502.8,177.2 501.5,179.0C500.2,180.8 497.1,182.2 495.0,182.5C492.9,182.8 490.4,182.4 489.0,181.0C487.6,179.6 487.0,176.6 486.5,174.0C486.0,171.4 486.0,167.8 486.2,165.5C486.4,163.2 487.5,160.9 487.8,160.0M490.0,163.0C490.8,163.7 493.7,165.2 495.0,167.0C496.3,168.8 498.2,172.0 498.0,174.0C497.8,176.0 495.3,178.7 494.0,179.0C492.7,179.3 490.5,177.7 490.0,176.0C489.5,174.3 490.0,171.2 491.0,169.0C492.0,166.8 495.2,164.0 496.0,163.0M501.0,179.4 L504.0,182.0M484.0,170.0 L490.0,171.0" fill="none" stroke="#d0101a" stroke-width="3.0" stroke-linecap="round" stroke-linejoin="round" transform="translate(-0.3,-0.3)"/>
<path d="M397.3,185.4C398.1,185.1 401.2,183.6 401.9,183.7C402.6,183.8 402.0,185.0 401.3,186.0C400.6,187.0 398.7,188.3 397.9,189.5C397.1,190.7 396.8,191.6 396.7,193.0C396.6,194.4 396.6,196.8 397.3,198.2C398.0,199.5 399.6,200.5 400.8,201.1C402.1,201.7 404.1,201.6 404.8,201.7M398.4,192.4C399.1,192.8 401.0,194.3 402.5,194.7C404.0,195.1 405.9,194.2 407.2,194.7C408.4,195.2 409.5,196.7 410.0,197.6C410.5,198.5 410.2,199.6 410.3,200.0" fill="none" stroke="#420004" stroke-width="2.9" stroke-linecap="round" stroke-linejoin="round" opacity="0.85"/>
<path d="M397.3,185.4C398.1,185.1 401.2,183.6 401.9,183.7C402.6,183.8 402.0,185.0 401.3,186.0C400.6,187.0 398.7,188.3 397.9,189.5C397.1,190.7 396.8,191.6 396.7,193.0C396.6,194.4 396.6,196.8 397.3,198.2C398.0,199.5 399.6,200.5 400.8,201.1C402.1,201.7 404.1,201.6 404.8,201.7M398.4,192.4C399.1,192.8 401.0,194.3 402.5,194.7C404.0,195.1 405.9,194.2 407.2,194.7C408.4,195.2 409.5,196.7 410.0,197.6C410.5,198.5 410.2,199.6 410.3,200.0" fill="none" stroke="#c41a22" stroke-width="1.8" stroke-linecap="round" stroke-linejoin="round" transform="translate(-0.3,-0.3)"/>
<polyline points="94.5,28.6 100.1,25.2 110.0,31.0 119.4,25.2 128.7,31.0 138.6,25.2 148.0,31.0 148.0,41.5 138.6,47.4 128.7,42.1 119.4,47.4 110.0,41.5 100.1,47.6 90.2,41.8 80.3,47.6 80.3,57.5 90.2,63.4 99.5,58.1 109.5,63.4 119.4,58.1 128.7,63.9 128.7,74.5 120.0,79.7 110.0,74.5 100.4,80.3 100.4,88.0" fill="none" stroke="#404040" stroke-width="1.4" stroke-linejoin="miter" stroke-linecap="butt"/>
<line x1="120.0" y1="79.7" x2="122.6" y2="85.3" stroke="#404040" stroke-width="1.35"/>
<polyline points="103.5,93.5 109.8,97.2 109.8,107.5" fill="none" stroke="#404040" stroke-width="1.4" stroke-linejoin="miter" stroke-linecap="butt"/>
<line x1="109.8" y1="97.2" x2="116.5" y2="93.2" stroke="#404040" stroke-width="1.35"/>
<line x1="108.9" y1="95.6" x2="115.6" y2="91.6" stroke="#404040" stroke-width="1.35"/>
<polyline points="109.6,107.7 119.2,113.2 119.2,124.3 109.6,129.9 100.0,124.4 100.0,113.2 109.6,107.7 119.2,113.2" fill="none" stroke="#404040" stroke-width="1.4" stroke-linejoin="miter" stroke-linecap="butt"/>
<line x1="102.3" y1="114.5" x2="102.3" y2="123.1" stroke="#404040" stroke-width="1.35"/>
<line x1="110.0" y1="110.6" x2="117.0" y2="114.6" stroke="#404040" stroke-width="1.35"/>
<line x1="110.0" y1="127.0" x2="117.0" y2="123.0" stroke="#404040" stroke-width="1.35"/>
<polyline points="119.1,124.0 129.0,129.6 136.0,125.6" fill="none" stroke="#404040" stroke-width="1.4" stroke-linejoin="miter" stroke-linecap="butt"/>
<line x1="128.2" y1="130.0" x2="128.2" y2="137.8" stroke="#404040" stroke-width="1.35"/>
<line x1="130.4" y1="130.0" x2="130.4" y2="137.8" stroke="#404040" stroke-width="1.35"/>
<line x1="139.0" y1="118.8" x2="139.0" y2="121.0" stroke="#404040" stroke-width="1.35"/>
<polyline points="142.0,125.6 148.4,129.9 148.4,140.4 138.4,146.2 138.4,157.0 148.4,162.6 157.7,156.7 157.7,146.8 167.0,141.0 167.0,129.9 177.0,124.0 186.3,129.9 186.3,140.4 177.0,146.2 177.0,156.7 167.2,162.3 167.2,174.0 157.8,179.2 157.8,190.3 167.2,195.5 176.5,190.9 176.5,179.2 186.5,173.4 186.5,162.8 196.4,157.6 196.4,150.0" fill="none" stroke="#404040" stroke-width="1.4" stroke-linejoin="miter" stroke-linecap="butt"/>
<line x1="138.4" y1="146.2" x2="131.8" y2="147.6" stroke="#404040" stroke-width="1.35"/>
<polyline points="99.9,124.0 90.2,129.8 90.2,136.5" fill="none" stroke="#404040" stroke-width="1.4" stroke-linejoin="miter" stroke-linecap="butt"/>
<line x1="90.2" y1="129.8" x2="83.0" y2="125.6" stroke="#404040" stroke-width="1.35"/>
<line x1="91.2" y1="128.2" x2="84.0" y2="124.0" stroke="#404040" stroke-width="1.35"/>
<polyline points="86.5,144.0 80.3,146.1 71.0,140.9 71.0,129.8 61.6,124.5 52.3,129.8 52.3,140.9 61.6,146.1 61.6,157.2 71.2,162.8 71.2,173.9 61.3,179.1 52.0,173.9 52.0,162.8 42.6,157.3 42.6,145.0 32.7,141.0 32.7,130.4 23.4,124.6 13.4,129.3 13.4,140.4 22.8,146.2 22.8,157.3 32.7,163.7 32.7,173.9 39.5,177.5" fill="none" stroke="#404040" stroke-width="1.4" stroke-linejoin="miter" stroke-linecap="butt"/>
<line x1="71.0" y1="129.8" x2="72.7" y2="123.4" stroke="#404040" stroke-width="1.35"/>
<ellipse cx="119.4" cy="25.6" rx="3.6" ry="4.2" fill="#fff" stroke="none"/><ellipse cx="119.4" cy="25.6" rx="2.55" ry="3.0" fill="none" stroke="#404040" stroke-width="1.15"/>
<ellipse cx="148.0" cy="31.2" rx="3.6" ry="4.2" fill="#fff" stroke="none"/><ellipse cx="148.0" cy="31.2" rx="2.55" ry="3.0" fill="none" stroke="#404040" stroke-width="1.15"/>
<ellipse cx="128.7" cy="42.3" rx="3.6" ry="4.2" fill="#fff" stroke="none"/><ellipse cx="128.7" cy="42.3" rx="2.55" ry="3.0" fill="none" stroke="#404040" stroke-width="1.15"/>
<ellipse cx="100.1" cy="47.8" rx="3.6" ry="4.2" fill="#fff" stroke="none"/><ellipse cx="100.1" cy="47.8" rx="2.55" ry="3.0" fill="none" stroke="#404040" stroke-width="1.15"/>
<ellipse cx="118.4" cy="91.6" rx="3.6" ry="4.2" fill="#fff" stroke="none"/><ellipse cx="118.4" cy="91.6" rx="2.55" ry="3.0" fill="none" stroke="#404040" stroke-width="1.15"/>
<ellipse cx="128.6" cy="141.2" rx="3.6" ry="4.2" fill="#fff" stroke="none"/><ellipse cx="128.6" cy="141.2" rx="2.55" ry="3.0" fill="none" stroke="#404040" stroke-width="1.15"/>
<ellipse cx="177.0" cy="146.2" rx="3.6" ry="4.2" fill="#fff" stroke="none"/><ellipse cx="177.0" cy="146.2" rx="2.55" ry="3.0" fill="none" stroke="#404040" stroke-width="1.15"/>
<ellipse cx="167.2" cy="174.0" rx="3.6" ry="4.2" fill="#fff" stroke="none"/><ellipse cx="167.2" cy="174.0" rx="2.55" ry="3.0" fill="none" stroke="#404040" stroke-width="1.15"/>
<ellipse cx="167.2" cy="195.5" rx="3.6" ry="4.2" fill="#fff" stroke="none"/><ellipse cx="167.2" cy="195.5" rx="2.55" ry="3.0" fill="none" stroke="#404040" stroke-width="1.15"/>
<ellipse cx="186.5" cy="173.4" rx="3.6" ry="4.2" fill="#fff" stroke="none"/><ellipse cx="186.5" cy="173.4" rx="2.55" ry="3.0" fill="none" stroke="#404040" stroke-width="1.15"/>
<ellipse cx="80.6" cy="124.2" rx="3.6" ry="4.2" fill="#fff" stroke="none"/><ellipse cx="80.6" cy="124.2" rx="2.55" ry="3.0" fill="none" stroke="#404040" stroke-width="1.15"/>
<ellipse cx="52.0" cy="162.8" rx="3.6" ry="4.2" fill="#fff" stroke="none"/><ellipse cx="52.0" cy="162.8" rx="2.55" ry="3.0" fill="none" stroke="#404040" stroke-width="1.15"/>
<ellipse cx="32.7" cy="141.0" rx="3.6" ry="4.2" fill="#fff" stroke="none"/><ellipse cx="32.7" cy="141.0" rx="2.55" ry="3.0" fill="none" stroke="#404040" stroke-width="1.15"/>
<ellipse cx="13.4" cy="129.3" rx="3.6" ry="4.2" fill="#fff" stroke="none"/><ellipse cx="13.4" cy="129.3" rx="2.55" ry="3.0" fill="none" stroke="#404040" stroke-width="1.15"/>
<ellipse cx="22.8" cy="157.3" rx="3.6" ry="4.2" fill="#fff" stroke="none"/><ellipse cx="22.8" cy="157.3" rx="2.55" ry="3.0" fill="none" stroke="#404040" stroke-width="1.15"/>
<rect x="89.5" y="87.5" width="13.5" height="8" fill="#fff"/>
<text x="96.3" y="95.0" text-anchor="middle" font-family="Liberation Sans, sans-serif" font-size="9.2" font-weight="normal" fill="#404040">HN</text>
<rect x="135" y="115" width="8" height="12.5" fill="#fff"/>
<text x="139.0" y="127.7" text-anchor="middle" font-family="Liberation Sans, sans-serif" font-size="9.2" font-weight="normal" fill="#404040">N</text>
<text x="139.0" y="119.6" text-anchor="middle" font-family="Liberation Sans, sans-serif" font-size="9.2" font-weight="normal" fill="#404040">H</text>
<rect x="87" y="136.5" width="14" height="8" fill="#fff"/>
<text x="94.3" y="144.0" text-anchor="middle" font-family="Liberation Sans, sans-serif" font-size="9.2" font-weight="normal" fill="#404040">NH</text>
<rect x="80" y="26" width="14.5" height="8.5" fill="#fff"/>
<text x="87.2" y="34.2" text-anchor="middle" font-family="Liberation Sans, sans-serif" font-size="9.2" font-weight="normal" fill="#404040">HO</text>
<rect x="192" y="142" width="14" height="8" fill="#fff"/>
<text x="199.0" y="150.0" text-anchor="middle" font-family="Liberation Sans, sans-serif" font-size="9.2" font-weight="normal" fill="#404040">OH</text>
<rect x="39" y="175" width="14" height="8" fill="#fff"/>
<text x="45.8" y="182.3" text-anchor="middle" font-family="Liberation Sans, sans-serif" font-size="9.2" font-weight="normal" fill="#404040">OH</text>
<text x="130.8" y="94.3" text-anchor="middle" font-family="Liberation Sans, sans-serif" font-size="14" font-weight="bold" fill="#111">R</text>
<text x="69.8" y="116.4" text-anchor="middle" font-family="Liberation Sans, sans-serif" font-size="14" font-weight="bold" fill="#111">R</text>
<text x="125.7" y="159.4" text-anchor="middle" font-family="Liberation Sans, sans-serif" font-size="14" font-weight="bold" fill="#111">R</text>
<text x="77" y="194.3" font-family="Liberation Sans, sans-serif" font-size="15" fill="#1a1a1a"><tspan font-weight="bold">(1) R</tspan> = H</text>
<text x="77" y="213.4" font-family="Liberation Sans, sans-serif" font-size="15" fill="#1a1a1a"><tspan font-weight="bold">(2) R</tspan> = Me</text>
<rect x="52.5" y="271.5" width="265.0" height="199.0" fill="none" stroke="#222" stroke-width="1.1"/>
<line x1="52.5" y1="448.4" x2="55.5" y2="448.4" stroke="#222" stroke-width="1.1"/>
<line x1="317.5" y1="448.4" x2="314.5" y2="448.4" stroke="#222" stroke-width="1.1"/>
<line x1="52.5" y1="426.3" x2="55.5" y2="426.3" stroke="#222" stroke-width="1.1"/>
<line x1="317.5" y1="426.3" x2="314.5" y2="426.3" stroke="#222" stroke-width="1.1"/>
<line x1="52.5" y1="404.2" x2="55.5" y2="404.2" stroke="#222" stroke-width="1.1"/>
<line x1="317.5" y1="404.2" x2="314.5" y2="404.2" stroke="#222" stroke-width="1.1"/>
<line x1="52.5" y1="382.1" x2="55.5" y2="382.1" stroke="#222" stroke-width="1.1"/>
<line x1="317.5" y1="382.1" x2="314.5" y2="382.1" stroke="#222" stroke-width="1.1"/>
<line x1="52.5" y1="359.9" x2="55.5" y2="359.9" stroke="#222" stroke-width="1.1"/>
<line x1="317.5" y1="359.9" x2="314.5" y2="359.9" stroke="#222" stroke-width="1.1"/>
<line x1="52.5" y1="337.8" x2="55.5" y2="337.8" stroke="#222" stroke-width="1.1"/>
<line x1="317.5" y1="337.8" x2="314.5" y2="337.8" stroke="#222" stroke-width="1.1"/>
<line x1="52.5" y1="315.7" x2="55.5" y2="315.7" stroke="#222" stroke-width="1.1"/>
<line x1="317.5" y1="315.7" x2="314.5" y2="315.7" stroke="#222" stroke-width="1.1"/>
<line x1="52.5" y1="293.6" x2="55.5" y2="293.6" stroke="#222" stroke-width="1.1"/>
<line x1="317.5" y1="293.6" x2="314.5" y2="293.6" stroke="#222" stroke-width="1.1"/>
<line x1="96.7" y1="271.5" x2="96.7" y2="274.5" stroke="#222" stroke-width="1.1"/>
<line x1="96.7" y1="470.5" x2="96.7" y2="467.5" stroke="#222" stroke-width="1.1"/>
<line x1="140.8" y1="271.5" x2="140.8" y2="274.5" stroke="#222" stroke-width="1.1"/>
<line x1="140.8" y1="470.5" x2="140.8" y2="467.5" stroke="#222" stroke-width="1.1"/>
<line x1="185.0" y1="271.5" x2="185.0" y2="274.5" stroke="#222" stroke-width="1.1"/>
<line x1="185.0" y1="470.5" x2="185.0" y2="467.5" stroke="#222" stroke-width="1.1"/>
<line x1="229.2" y1="271.5" x2="229.2" y2="274.5" stroke="#222" stroke-width="1.1"/>
<line x1="229.2" y1="470.5" x2="229.2" y2="467.5" stroke="#222" stroke-width="1.1"/>
<line x1="273.3" y1="271.5" x2="273.3" y2="274.5" stroke="#222" stroke-width="1.1"/>
<line x1="273.3" y1="470.5" x2="273.3" y2="467.5" stroke="#222" stroke-width="1.1"/>
<text x="46.5" y="453.6" text-anchor="end" class="tk">0.3</text>
<text x="46.5" y="409.4" text-anchor="end" class="tk">0.4</text>
<text x="46.5" y="365.1" text-anchor="end" class="tk">0.5</text>
<text x="46.5" y="320.9" text-anchor="end" class="tk">0.6</text>
<text x="46.5" y="276.7" text-anchor="end" class="tk">0.7</text>
<text x="52.5" y="490.5" text-anchor="middle" class="tk">0</text>
<text x="96.7" y="490.5" text-anchor="middle" class="tk">200</text>
<text x="140.8" y="490.5" text-anchor="middle" class="tk">400</text>
<text x="185.0" y="490.5" text-anchor="middle" class="tk">600</text>
<text x="229.2" y="490.5" text-anchor="middle" class="tk">800</text>
<text x="273.3" y="490.5" text-anchor="middle" class="tk">1000</text>
<text x="317.5" y="490.5" text-anchor="middle" class="tk">1200</text>
<text x="186.5" y="512.2" text-anchor="middle" class="tk">Time (min)</text>
<text transform="translate(12.5,371.0) rotate(-90)" text-anchor="middle" class="tk">Mixing ratio</text>
<path d="M53.30,471.70 L53.50,455.70 L53.80,432.70 L54.20,412.70 L54.60,397.70 L55.30,383.70 L56.10,370.70 L57.00,359.40 L58.40,350.10 L60.80,343.20 L62.96,339.80 L63.55,338.87 L64.14,337.98 L64.73,337.11 L65.32,336.27 L65.91,335.45 L66.51,334.65 L67.10,333.86 L67.69,333.08 L68.28,332.32 L68.87,331.57 L69.46,330.84 L70.05,330.11 L70.65,329.40 L71.24,328.70 L71.83,328.01 L72.42,327.33 L73.01,326.66 L73.60,326.00 L74.19,325.35 L74.79,324.71 L75.38,324.08 L75.97,323.46 L76.56,322.85 L77.15,322.25 L77.74,321.65 L78.33,321.07 L78.93,320.50 L79.52,319.93 L80.11,319.37 L80.70,318.82 L81.29,318.28 L81.88,317.75 L82.47,317.23 L83.06,316.71 L83.66,316.20 L84.25,315.70 L84.84,315.21 L85.43,314.73 L86.02,314.25 L86.61,313.78 L87.20,313.31 L87.80,312.86 L88.39,312.41 L88.98,311.97 L89.57,311.53 L90.16,311.10 L90.75,310.68 L91.34,310.26 L91.94,309.85 L92.53,309.45 L93.12,309.05 L93.71,308.66 L94.30,308.28 L94.89,307.90 L95.48,307.52 L96.08,307.15 L96.67,306.79 L97.77,306.13 L99.99,304.85 L102.21,303.65 L104.43,302.52 L106.65,301.44 L108.87,300.43 L111.09,299.48 L113.31,298.57 L115.53,297.72 L117.75,296.92 L119.97,296.16 L122.19,295.44 L124.40,294.77 L126.62,294.13 L128.84,293.53 L131.06,292.96 L133.28,292.42 L135.50,291.91 L137.72,291.43 L139.94,290.98 L142.16,290.55 L144.38,290.15 L146.60,289.77 L148.82,289.41 L151.04,289.07 L153.26,288.75 L155.48,288.45 L157.70,288.17 L159.92,287.90 L162.14,287.64 L164.36,287.41 L166.57,287.18 L168.79,286.97 L171.01,286.76 L173.23,286.57 L175.45,286.39 L177.67,286.22 L179.89,286.06 L182.11,285.91 L184.33,285.77 L186.55,285.63 L188.77,285.51 L190.99,285.39 L193.21,285.27 L195.43,285.17 L197.65,285.07 L199.87,284.97 L202.09,284.88 L204.31,284.80 L206.53,284.72 L208.75,284.64 L210.96,284.57 L213.18,284.50 L215.40,284.44 L217.62,284.38 L219.84,284.32 L222.06,284.27 L224.28,284.22 L226.50,284.17 L228.72,284.12 L230.94,284.08 L233.16,284.04 L235.38,284.00 L237.60,283.97 L239.82,283.93 L242.04,283.90 L244.26,283.87 L246.48,283.84 L248.70,283.82 L250.92,283.79 L253.13,283.77 L255.35,283.74 L257.57,283.72 L259.79,283.70 L262.01,283.68 L264.23,283.66 L266.45,283.65 L268.67,283.63 L270.89,283.62 L273.11,283.60 L275.33,283.59 L277.55,283.58 L279.77,283.56 L281.99,283.55 L284.21,283.54 L286.43,283.53 L288.65,283.52 L290.87,283.51 L293.09,283.51 L295.31,283.50 L297.52,283.49 L299.74,283.48 L301.96,283.48 L304.18,283.47 L306.40,283.46 L308.62,283.46 L310.84,283.45 L313.06,283.45 L315.28,283.44 L317.50,283.44" fill="none" stroke="#de0c16" stroke-width="3.6" stroke-linecap="butt" stroke-linejoin="round"/>
<rect x="403.4" y="273.5" width="265.8" height="199.3" fill="none" stroke="#222" stroke-width="1.1"/>
<line x1="403.4" y1="447.9" x2="406.4" y2="447.9" stroke="#222" stroke-width="1.1"/>
<line x1="669.2" y1="447.9" x2="666.2" y2="447.9" stroke="#222" stroke-width="1.1"/>
<line x1="403.4" y1="423.0" x2="406.4" y2="423.0" stroke="#222" stroke-width="1.1"/>
<line x1="669.2" y1="423.0" x2="666.2" y2="423.0" stroke="#222" stroke-width="1.1"/>
<line x1="403.4" y1="398.1" x2="406.4" y2="398.1" stroke="#222" stroke-width="1.1"/>
<line x1="669.2" y1="398.1" x2="666.2" y2="398.1" stroke="#222" stroke-width="1.1"/>
<line x1="403.4" y1="373.2" x2="406.4" y2="373.2" stroke="#222" stroke-width="1.1"/>
<line x1="669.2" y1="373.2" x2="666.2" y2="373.2" stroke="#222" stroke-width="1.1"/>
<line x1="403.4" y1="348.2" x2="406.4" y2="348.2" stroke="#222" stroke-width="1.1"/>
<line x1="669.2" y1="348.2" x2="666.2" y2="348.2" stroke="#222" stroke-width="1.1"/>
<line x1="403.4" y1="323.3" x2="406.4" y2="323.3" stroke="#222" stroke-width="1.1"/>
<line x1="669.2" y1="323.3" x2="666.2" y2="323.3" stroke="#222" stroke-width="1.1"/>
<line x1="403.4" y1="298.4" x2="406.4" y2="298.4" stroke="#222" stroke-width="1.1"/>
<line x1="669.2" y1="298.4" x2="666.2" y2="298.4" stroke="#222" stroke-width="1.1"/>
<line x1="447.7" y1="273.5" x2="447.7" y2="276.5" stroke="#222" stroke-width="1.1"/>
<line x1="447.7" y1="472.8" x2="447.7" y2="469.8" stroke="#222" stroke-width="1.1"/>
<line x1="492.0" y1="273.5" x2="492.0" y2="276.5" stroke="#222" stroke-width="1.1"/>
<line x1="492.0" y1="472.8" x2="492.0" y2="469.8" stroke="#222" stroke-width="1.1"/>
<line x1="536.3" y1="273.5" x2="536.3" y2="276.5" stroke="#222" stroke-width="1.1"/>
<line x1="536.3" y1="472.8" x2="536.3" y2="469.8" stroke="#222" stroke-width="1.1"/>
<line x1="580.6" y1="273.5" x2="580.6" y2="276.5" stroke="#222" stroke-width="1.1"/>
<line x1="580.6" y1="472.8" x2="580.6" y2="469.8" stroke="#222" stroke-width="1.1"/>
<line x1="624.9" y1="273.5" x2="624.9" y2="276.5" stroke="#222" stroke-width="1.1"/>
<line x1="624.9" y1="472.8" x2="624.9" y2="469.8" stroke="#222" stroke-width="1.1"/>
<text x="397.5" y="478.0" text-anchor="end" class="tk">0.12</text>
<text x="397.5" y="428.2" text-anchor="end" class="tk">0.16</text>
<text x="397.5" y="378.3" text-anchor="end" class="tk">0.20</text>
<text x="397.5" y="328.5" text-anchor="end" class="tk">0.24</text>
<text x="397.5" y="278.7" text-anchor="end" class="tk">0.28</text>
<text x="403.4" y="490.5" text-anchor="middle" class="tk">0</text>
<text x="447.7" y="490.5" text-anchor="middle" class="tk">200</text>
<text x="492.0" y="490.5" text-anchor="middle" class="tk">400</text>
<text x="536.3" y="490.5" text-anchor="middle" class="tk">600</text>
<text x="580.6" y="490.5" text-anchor="middle" class="tk">800</text>
<text x="624.9" y="490.5" text-anchor="middle" class="tk">1000</text>
<text x="669.2" y="490.5" text-anchor="middle" class="tk">1200</text>
<text x="536.3" y="512.2" text-anchor="middle" class="tk">Time (min)</text>
<text transform="translate(356.5,373.1) rotate(-90)" text-anchor="middle" class="tk">Mixing ratio</text>
<path d="M403.40,472.03 L403.62,470.44 L403.84,468.89 L404.06,467.36 L404.29,465.86 L404.51,464.39 L404.73,462.95 L404.95,461.54 L405.17,460.15 L405.39,458.79 L405.61,457.45 L405.84,456.14 L406.06,454.86 L406.28,453.60 L406.50,452.36 L406.72,451.14 L406.94,449.95 L407.17,448.77 L407.39,447.62 L407.61,446.49 L407.83,445.39 L408.05,444.30 L408.27,443.23 L408.49,442.18 L408.72,441.15 L408.94,440.13 L409.16,439.14 L409.38,438.16 L409.60,437.20 L409.82,436.26 L410.04,435.33 L410.27,434.42 L410.49,433.53 L410.71,432.65 L410.93,431.78 L411.15,430.93 L411.37,430.10 L411.60,429.28 L411.82,428.47 L412.04,427.68 L412.26,426.90 L412.70,425.38 L413.30,423.42 L413.89,421.55 L414.48,419.75 L415.08,418.03 L415.67,416.38 L416.26,414.80 L416.86,413.28 L417.45,411.82 L418.04,410.42 L418.63,409.07 L419.23,407.78 L419.82,406.52 L420.41,405.32 L421.01,404.16 L421.60,403.03 L422.19,401.95 L422.79,400.90 L423.38,399.89 L423.97,398.90 L424.57,397.95 L425.16,397.03 L425.75,396.13 L426.35,395.26 L426.94,394.42 L427.53,393.60 L428.13,392.80 L428.72,392.02 L429.31,391.26 L429.90,390.52 L430.50,389.80 L431.09,389.09 L431.68,388.40 L432.28,387.73 L432.87,387.07 L433.46,386.42 L434.06,385.79 L434.65,385.17 L435.24,384.56 L435.84,383.96 L436.43,383.38 L437.02,382.80 L437.62,382.24 L438.21,381.68 L438.80,381.13 L439.40,380.59 L439.99,380.06 L440.58,379.54 L441.18,379.02 L441.77,378.51 L442.36,378.01 L442.95,377.52 L443.55,377.03 L444.14,376.54 L444.73,376.07 L445.33,375.59 L445.92,375.13 L446.51,374.67 L447.11,374.21 L447.70,373.76 L448.81,372.93 L451.03,371.30 L453.26,369.73 L455.49,368.21 L457.71,366.73 L459.94,365.29 L462.16,363.89 L464.39,362.52 L466.62,361.19 L468.84,359.88 L471.07,358.60 L473.30,357.35 L475.52,356.12 L477.75,354.92 L479.97,353.74 L482.20,352.59 L484.43,351.46 L486.65,350.35 L488.88,349.26 L491.11,348.19 L493.33,347.14 L495.56,346.12 L497.78,345.11 L500.01,344.12 L502.24,343.15 L504.46,342.19 L506.69,341.26 L508.91,340.34 L511.14,339.44 L513.37,338.56 L515.59,337.69 L517.82,336.84 L520.05,336.00 L522.27,335.18 L524.50,334.38 L526.72,333.59 L528.95,332.81 L531.18,332.05 L533.40,331.30 L535.63,330.57 L537.85,329.85 L540.08,329.14 L542.31,328.45 L544.53,327.77 L546.76,327.10 L548.99,326.45 L551.21,325.80 L553.44,325.17 L555.66,324.55 L557.89,323.95 L560.12,323.35 L562.34,322.76 L564.57,322.19 L566.80,321.63 L569.02,321.07 L571.25,320.53 L573.47,319.99 L575.70,319.47 L577.93,318.96 L580.15,318.45 L582.38,317.96 L584.60,317.47 L586.83,317.00 L589.06,316.53 L591.28,316.07 L593.51,315.62 L595.74,315.18 L597.96,314.74 L600.19,314.32 L602.41,313.90 L604.64,313.49 L606.87,313.08 L609.09,312.69 L611.32,312.30 L613.55,311.92 L615.77,311.55 L618.00,311.18 L620.22,310.82 L622.45,310.47 L624.68,310.12 L626.90,309.78 L629.13,309.44 L631.35,309.12 L633.58,308.79 L635.81,308.48 L638.03,308.17 L640.26,307.86 L642.49,307.57 L644.71,307.27 L646.94,306.98 L649.16,306.70 L651.39,306.43 L653.62,306.15 L655.84,305.89 L658.07,305.62 L660.30,305.37 L662.52,305.11 L664.75,304.87 L666.97,304.62 L669.20,304.39" fill="none" stroke="#0808f0" stroke-width="3.9" stroke-linecap="butt" stroke-linejoin="round"/>
<g fill="none" stroke-linecap="round"><path d="M85.2 435.0Q89.2 433.7 93.3 436.3M76.4 404.7Q79.6 407.9 82.7 406.7M84.0 423.0Q86.4 426.6 88.7 426.6M86.3 439.3Q89.5 436.5 92.7 437.6M87.9 418.7Q90.9 418.7 93.8 417.2M92.2 441.4Q95.0 438.2 97.7 439.1M85.4 429.0Q87.8 427.4 90.3 428.4M79.4 401.2Q83.5 402.4 87.6 401.9" stroke="#420000" stroke-width="3.5"/><path d="M85.2 435.0Q89.2 433.7 93.3 436.3M76.4 404.7Q79.6 407.9 82.7 406.7M84.0 423.0Q86.4 426.6 88.7 426.6M86.3 439.3Q89.5 436.5 92.7 437.6M87.9 418.7Q90.9 418.7 93.8 417.2M92.2 441.4Q95.0 438.2 97.7 439.1M85.4 429.0Q87.8 427.4 90.3 428.4M79.4 401.2Q83.5 402.4 87.6 401.9" stroke="#c41010" stroke-width="2.3"/><path d="M78.1 409.9Q82.2 411.7 86.2 410.8M79.0 414.8Q82.5 416.4 86.0 414.2M82.9 386.4Q86.7 384.2 90.5 382.8M85.9 442.0Q87.9 445.8 89.9 448.0M80.8 427.2Q84.3 425.3 87.7 427.0M82.6 426.7Q86.3 426.3 89.9 428.6M79.9 407.6Q83.7 406.7 87.6 404.8M87.7 443.6Q91.9 443.8 96.0 447.0" stroke="#420000" stroke-width="3.5"/><path d="M78.1 409.9Q82.2 411.7 86.2 410.8M79.0 414.8Q82.5 416.4 86.0 414.2M82.9 386.4Q86.7 384.2 90.5 382.8M85.9 442.0Q87.9 445.8 89.9 448.0M80.8 427.2Q84.3 425.3 87.7 427.0M82.6 426.7Q86.3 426.3 89.9 428.6M79.9 407.6Q83.7 406.7 87.6 404.8M87.7 443.6Q91.9 443.8 96.0 447.0" stroke="#c41010" stroke-width="2.3"/><path d="M83.0 430.8Q86.9 429.0 90.7 427.4M87.3 446.6Q90.5 446.2 93.6 446.5M87.3 425.4Q91.1 425.5 95.0 421.2M79.0 392.6Q83.1 389.9 87.2 391.1M82.0 440.1Q86.1 438.4 90.2 438.8M78.1 411.1Q80.9 412.4 83.7 415.7M75.7 410.9Q78.2 409.5 80.8 409.6M86.3 445.0Q90.5 445.1 94.8 443.8" stroke="#420000" stroke-width="3.5"/><path d="M83.0 430.8Q86.9 429.0 90.7 427.4M87.3 446.6Q90.5 446.2 93.6 446.5M87.3 425.4Q91.1 425.5 95.0 421.2M79.0 392.6Q83.1 389.9 87.2 391.1M82.0 440.1Q86.1 438.4 90.2 438.8M78.1 411.1Q80.9 412.4 83.7 415.7M75.7 410.9Q78.2 409.5 80.8 409.6M86.3 445.0Q90.5 445.1 94.8 443.8" stroke="#c41010" stroke-width="2.3"/><path d="M90.3 439.9Q93.4 439.9 96.6 439.1M87.0 431.6Q90.4 428.7 93.8 430.1M83.7 380.8Q86.4 379.3 89.2 381.8M87.0 392.9Q90.5 393.3 94.1 395.0M84.7 405.8Q87.9 407.5 91.0 410.3M88.9 430.0Q91.8 430.3 94.7 427.4M82.0 415.2Q85.9 414.3 89.8 413.6M86.2 382.5Q88.8 383.5 91.3 381.7" stroke="#420000" stroke-width="3.5"/><path d="M90.3 439.9Q93.4 439.9 96.6 439.1M87.0 431.6Q90.4 428.7 93.8 430.1M83.7 380.8Q86.4 379.3 89.2 381.8M87.0 392.9Q90.5 393.3 94.1 395.0M84.7 405.8Q87.9 407.5 91.0 410.3M88.9 430.0Q91.8 430.3 94.7 427.4M82.0 415.2Q85.9 414.3 89.8 413.6M86.2 382.5Q88.8 383.5 91.3 381.7" stroke="#c41010" stroke-width="2.3"/><path d="M85.5 381.2Q88.9 380.9 92.2 378.6M82.8 418.0Q85.7 414.6 88.5 413.5M79.4 415.8Q82.7 418.8 86.0 419.7M87.6 446.5Q90.7 444.3 93.8 446.2M88.7 380.3Q91.6 380.5 94.6 379.1M79.2 396.8Q81.8 396.2 84.3 395.6M80.2 418.6Q83.4 419.3 86.6 416.3M80.4 394.8Q83.8 392.0 87.2 390.8" stroke="#420000" stroke-width="3.5"/><path d="M85.5 381.2Q88.9 380.9 92.2 378.6M82.8 418.0Q85.7 414.6 88.5 413.5M79.4 415.8Q82.7 418.8 86.0 419.7M87.6 446.5Q90.7 444.3 93.8 446.2M88.7 380.3Q91.6 380.5 94.6 379.1M79.2 396.8Q81.8 396.2 84.3 395.6M80.2 418.6Q83.4 419.3 86.6 416.3M80.4 394.8Q83.8 392.0 87.2 390.8" stroke="#c41010" stroke-width="2.3"/><path d="M82.3 386.1Q86.6 382.9 90.9 384.1M85.0 381.9Q87.8 384.9 90.5 383.7M88.8 440.7Q91.6 440.0 94.5 442.7M90.0 440.2Q93.1 439.7 96.2 438.0M86.6 413.2Q89.0 414.4 91.4 415.8M79.3 405.9Q83.7 405.7 88.1 406.2M76.5 405.4Q79.7 403.8 82.9 404.7M84.5 382.3Q88.0 381.4 91.5 383.6" stroke="#420000" stroke-width="3.5"/><path d="M82.3 386.1Q86.6 382.9 90.9 384.1M85.0 381.9Q87.8 384.9 90.5 383.7M88.8 440.7Q91.6 440.0 94.5 442.7M90.0 440.2Q93.1 439.7 96.2 438.0M86.6 413.2Q89.0 414.4 91.4 415.8M79.3 405.9Q83.7 405.7 88.1 406.2M76.5 405.4Q79.7 403.8 82.9 404.7M84.5 382.3Q88.0 381.4 91.5 383.6" stroke="#c41010" stroke-width="2.3"/><path d="M86.4 444.8Q89.0 442.0 91.5 442.7M76.3 409.6Q79.8 409.5 83.4 405.6M84.9 428.9Q87.3 428.8 89.7 425.3M88.6 445.6Q91.2 445.5 93.9 446.2M81.2 429.9Q84.9 430.8 88.6 432.4M84.3 405.1Q88.1 405.7 91.9 406.8M90.5 383.3Q93.7 383.5 96.9 383.3M86.5 421.7Q90.1 420.7 93.7 421.4" stroke="#420000" stroke-width="3.5"/><path d="M86.4 444.8Q89.0 442.0 91.5 442.7M76.3 409.6Q79.8 409.5 83.4 405.6M84.9 428.9Q87.3 428.8 89.7 425.3M88.6 445.6Q91.2 445.5 93.9 446.2M81.2 429.9Q84.9 430.8 88.6 432.4M84.3 405.1Q88.1 405.7 91.9 406.8M90.5 383.3Q93.7 383.5 96.9 383.3M86.5 421.7Q90.1 420.7 93.7 421.4" stroke="#c41010" stroke-width="2.3"/><path d="M92.0 441.7Q95.5 442.7 99.0 441.2M86.2 412.0Q89.6 412.1 93.1 412.2M86.6 396.6Q89.8 397.5 92.9 395.8M86.8 381.2Q91.0 378.1 95.2 377.8M82.7 425.0Q85.6 423.2 88.5 425.3M88.8 390.9Q91.4 391.1 94.0 388.5M83.0 378.5Q85.6 380.3 88.1 379.4M83.4 380.0Q87.7 380.0 92.1 379.2" stroke="#420000" stroke-width="3.5"/><path d="M92.0 441.7Q95.5 442.7 99.0 441.2M86.2 412.0Q89.6 412.1 93.1 412.2M86.6 396.6Q89.8 397.5 92.9 395.8M86.8 381.2Q91.0 378.1 95.2 377.8M82.7 425.0Q85.6 423.2 88.5 425.3M88.8 390.9Q91.4 391.1 94.0 388.5M83.0 378.5Q85.6 380.3 88.1 379.4M83.4 380.0Q87.7 380.0 92.1 379.2" stroke="#c41010" stroke-width="2.3"/><path d="M80.8 394.3Q85.1 393.4 89.3 391.8M88.2 395.6Q90.9 396.7 93.7 401.4M85.3 435.1Q89.0 434.8 92.8 436.7M77.2 401.1Q80.5 398.7 83.9 399.1M83.0 398.7Q86.7 397.4 90.4 394.3M89.3 447.3Q93.1 449.6 96.9 451.2M86.3 420.3Q89.0 420.1 91.6 419.7M82.3 432.5Q84.3 430.0 86.4 429.2" stroke="#420000" stroke-width="3.5"/><path d="M80.8 394.3Q85.1 393.4 89.3 391.8M88.2 395.6Q90.9 396.7 93.7 401.4M85.3 435.1Q89.0 434.8 92.8 436.7M77.2 401.1Q80.5 398.7 83.9 399.1M83.0 398.7Q86.7 397.4 90.4 394.3M89.3 447.3Q93.1 449.6 96.9 451.2M86.3 420.3Q89.0 420.1 91.6 419.7M82.3 432.5Q84.3 430.0 86.4 429.2" stroke="#c41010" stroke-width="2.3"/><path d="M80.8 397.2Q83.4 394.6 85.9 396.1M78.3 398.6Q81.3 401.1 84.3 399.5" stroke="#420000" stroke-width="3.5"/><path d="M80.8 397.2Q83.4 394.6 85.9 396.1M78.3 398.6Q81.3 401.1 84.3 399.5" stroke="#c41010" stroke-width="2.3"/><path d="M144.2 442.9Q147.6 443.6 150.9 444.1M145.4 405.0Q149.3 405.4 153.2 406.0M144.2 395.4Q148.5 394.2 152.8 395.5M152.8 425.0Q157.0 424.0 161.1 425.7M147.2 409.7Q150.6 408.6 154.0 407.3M141.4 394.3Q145.0 394.1 148.6 396.7M138.9 388.6Q141.8 385.9 144.8 386.1M141.6 429.8Q145.6 426.9 149.6 427.6" stroke="#0a500a" stroke-width="3.5"/><path d="M144.2 442.9Q147.6 443.6 150.9 444.1M145.4 405.0Q149.3 405.4 153.2 406.0M144.2 395.4Q148.5 394.2 152.8 395.5M152.8 425.0Q157.0 424.0 161.1 425.7M147.2 409.7Q150.6 408.6 154.0 407.3M141.4 394.3Q145.0 394.1 148.6 396.7M138.9 388.6Q141.8 385.9 144.8 386.1M141.6 429.8Q145.6 426.9 149.6 427.6" stroke="#2cd02c" stroke-width="2.3"/><path d="M141.1 402.3Q144.0 401.3 146.8 398.2M145.0 438.5Q148.0 436.5 150.9 437.7M151.7 444.9Q155.9 446.5 160.1 445.6M137.6 406.8Q141.0 407.1 144.3 405.8M140.9 394.4Q144.8 394.0 148.6 390.0M138.3 398.4Q140.5 398.1 142.7 400.9M139.6 396.4Q143.0 397.3 146.4 400.5M141.0 414.8Q145.2 417.4 149.5 417.7" stroke="#0a500a" stroke-width="3.5"/><path d="M141.1 402.3Q144.0 401.3 146.8 398.2M145.0 438.5Q148.0 436.5 150.9 437.7M151.7 444.9Q155.9 446.5 160.1 445.6M137.6 406.8Q141.0 407.1 144.3 405.8M140.9 394.4Q144.8 394.0 148.6 390.0M138.3 398.4Q140.5 398.1 142.7 400.9M139.6 396.4Q143.0 397.3 146.4 400.5M141.0 414.8Q145.2 417.4 149.5 417.7" stroke="#2cd02c" stroke-width="2.3"/><path d="M148.3 418.6Q150.7 421.5 153.2 423.8M150.2 447.4Q154.0 450.3 157.7 450.0M146.1 378.7Q149.0 380.4 151.9 379.2M147.1 416.3Q149.7 414.6 152.3 416.5M138.5 413.4Q142.9 410.9 147.2 411.9M144.1 424.2Q147.4 425.7 150.6 429.7M140.6 418.1Q144.4 418.3 148.2 415.3M141.2 404.6Q145.2 403.3 149.2 402.8" stroke="#0a500a" stroke-width="3.5"/><path d="M148.3 418.6Q150.7 421.5 153.2 423.8M150.2 447.4Q154.0 450.3 157.7 450.0M146.1 378.7Q149.0 380.4 151.9 379.2M147.1 416.3Q149.7 414.6 152.3 416.5M138.5 413.4Q142.9 410.9 147.2 411.9M144.1 424.2Q147.4 425.7 150.6 429.7M140.6 418.1Q144.4 418.3 148.2 415.3M141.2 404.6Q145.2 403.3 149.2 402.8" stroke="#2cd02c" stroke-width="2.3"/><path d="M147.6 437.1Q150.3 436.5 152.9 436.7M142.5 406.9Q145.4 407.6 148.4 407.7M143.0 394.3Q146.6 395.6 150.3 397.2M138.3 389.6Q142.3 392.7 146.3 392.0M140.4 399.9Q143.2 400.7 146.1 400.5M136.5 406.4Q140.4 406.6 144.2 407.2M141.1 411.6Q144.3 410.1 147.4 409.1M141.7 387.3Q144.2 383.5 146.8 383.3" stroke="#0a500a" stroke-width="3.5"/><path d="M147.6 437.1Q150.3 436.5 152.9 436.7M142.5 406.9Q145.4 407.6 148.4 407.7M143.0 394.3Q146.6 395.6 150.3 397.2M138.3 389.6Q142.3 392.7 146.3 392.0M140.4 399.9Q143.2 400.7 146.1 400.5M136.5 406.4Q140.4 406.6 144.2 407.2M141.1 411.6Q144.3 410.1 147.4 409.1M141.7 387.3Q144.2 383.5 146.8 383.3" stroke="#2cd02c" stroke-width="2.3"/><path d="M154.2 442.6Q156.8 441.6 159.4 440.6M149.0 427.6Q151.3 426.3 153.6 425.6M142.6 377.3Q144.8 377.9 147.0 379.9M143.9 385.3Q146.8 387.9 149.7 388.2M141.8 377.7Q144.8 378.9 147.8 379.5M143.2 434.9Q147.1 435.7 150.9 436.0M153.7 422.6Q156.4 420.7 159.1 420.1M149.6 413.1Q152.2 412.1 154.9 413.3" stroke="#0a500a" stroke-width="3.5"/><path d="M154.2 442.6Q156.8 441.6 159.4 440.6M149.0 427.6Q151.3 426.3 153.6 425.6M142.6 377.3Q144.8 377.9 147.0 379.9M143.9 385.3Q146.8 387.9 149.7 388.2M141.8 377.7Q144.8 378.9 147.8 379.5M143.2 434.9Q147.1 435.7 150.9 436.0M153.7 422.6Q156.4 420.7 159.1 420.1M149.6 413.1Q152.2 412.1 154.9 413.3" stroke="#2cd02c" stroke-width="2.3"/><path d="M155.5 439.4Q158.6 435.7 161.6 435.5M134.0 395.3Q138.2 397.2 142.4 395.4M147.3 436.4Q150.3 434.4 153.3 435.8M142.0 378.9Q145.7 380.8 149.3 379.7M146.9 414.5Q150.3 414.4 153.7 411.7M138.1 407.8Q141.6 407.5 145.1 407.6M149.3 430.1Q152.7 429.5 156.1 429.8M144.6 379.3Q148.2 379.5 151.8 380.0" stroke="#0a500a" stroke-width="3.5"/><path d="M155.5 439.4Q158.6 435.7 161.6 435.5M134.0 395.3Q138.2 397.2 142.4 395.4M147.3 436.4Q150.3 434.4 153.3 435.8M142.0 378.9Q145.7 380.8 149.3 379.7M146.9 414.5Q150.3 414.4 153.7 411.7M138.1 407.8Q141.6 407.5 145.1 407.6M149.3 430.1Q152.7 429.5 156.1 429.8M144.6 379.3Q148.2 379.5 151.8 380.0" stroke="#2cd02c" stroke-width="2.3"/><path d="M142.4 424.7Q145.8 423.1 149.3 425.3M136.8 383.6Q140.0 385.4 143.1 383.4M137.9 392.3Q142.1 393.9 146.4 395.2M152.3 433.4Q156.5 435.6 160.7 434.5M134.6 386.7Q138.6 385.4 142.5 387.3M149.1 421.1Q151.8 422.2 154.6 424.2M150.7 439.8Q153.3 444.7 155.8 445.2M138.9 403.0Q141.5 401.8 144.1 401.5" stroke="#0a500a" stroke-width="3.5"/><path d="M142.4 424.7Q145.8 423.1 149.3 425.3M136.8 383.6Q140.0 385.4 143.1 383.4M137.9 392.3Q142.1 393.9 146.4 395.2M152.3 433.4Q156.5 435.6 160.7 434.5M134.6 386.7Q138.6 385.4 142.5 387.3M149.1 421.1Q151.8 422.2 154.6 424.2M150.7 439.8Q153.3 444.7 155.8 445.2M138.9 403.0Q141.5 401.8 144.1 401.5" stroke="#2cd02c" stroke-width="2.3"/><path d="M143.2 432.2Q147.1 430.6 151.0 430.2M150.1 437.5Q153.5 438.7 156.8 439.4M148.8 421.5Q152.0 420.8 155.2 421.4M141.3 410.1Q143.9 408.9 146.6 411.7M143.2 383.2Q147.3 385.8 151.4 385.8M142.7 389.1Q145.2 391.2 147.8 392.9M134.5 387.5Q137.1 389.2 139.7 387.3M135.2 386.4Q138.5 389.7 141.9 391.2" stroke="#0a500a" stroke-width="3.5"/><path d="M143.2 432.2Q147.1 430.6 151.0 430.2M150.1 437.5Q153.5 438.7 156.8 439.4M148.8 421.5Q152.0 420.8 155.2 421.4M141.3 410.1Q143.9 408.9 146.6 411.7M143.2 383.2Q147.3 385.8 151.4 385.8M142.7 389.1Q145.2 391.2 147.8 392.9M134.5 387.5Q137.1 389.2 139.7 387.3M135.2 386.4Q138.5 389.7 141.9 391.2" stroke="#2cd02c" stroke-width="2.3"/><path d="M140.7 412.9Q144.0 411.1 147.4 411.3M141.3 396.8Q145.3 397.6 149.3 397.8M149.6 388.1Q151.6 386.8 153.7 384.6M141.7 419.0Q144.6 416.2 147.5 417.7M142.5 381.6Q145.5 380.3 148.5 379.3M138.7 398.1Q142.6 400.1 146.5 402.3M137.4 381.2Q140.1 381.1 142.7 382.1M148.4 425.4Q151.4 426.4 154.5 428.3" stroke="#0a500a" stroke-width="3.5"/><path d="M140.7 412.9Q144.0 411.1 147.4 411.3M141.3 396.8Q145.3 397.6 149.3 397.8M149.6 388.1Q151.6 386.8 153.7 384.6M141.7 419.0Q144.6 416.2 147.5 417.7M142.5 381.6Q145.5 380.3 148.5 379.3M138.7 398.1Q142.6 400.1 146.5 402.3M137.4 381.2Q140.1 381.1 142.7 382.1M148.4 425.4Q151.4 426.4 154.5 428.3" stroke="#2cd02c" stroke-width="2.3"/><path d="M134.5 385.3Q138.3 385.1 142.2 386.1M147.9 406.7Q151.3 410.0 154.6 410.9" stroke="#0a500a" stroke-width="3.5"/><path d="M134.5 385.3Q138.3 385.1 142.2 386.1M147.9 406.7Q151.3 410.0 154.6 410.9" stroke="#2cd02c" stroke-width="2.3"/><path d="M232.5 438.3Q236.6 434.6 240.6 435.1M226.9 383.0Q229.8 383.7 232.6 382.0M236.0 428.5Q238.5 426.5 241.1 428.8M235.8 423.0Q238.5 424.9 241.2 424.4M236.8 433.1Q241.0 434.8 245.3 435.1M234.1 442.6Q236.6 442.3 239.0 444.4" stroke="#420000" stroke-width="3.5"/><path d="M228.4 401.8Q231.8 403.9 235.3 405.0M228.3 379.8Q232.2 380.9 236.0 379.5" stroke="#0a500a" stroke-width="3.5"/><path d="M232.5 438.3Q236.6 434.6 240.6 435.1M226.9 383.0Q229.8 383.7 232.6 382.0M236.0 428.5Q238.5 426.5 241.1 428.8M235.8 423.0Q238.5 424.9 241.2 424.4M236.8 433.1Q241.0 434.8 245.3 435.1M234.1 442.6Q236.6 442.3 239.0 444.4" stroke="#c41010" stroke-width="2.3"/><path d="M228.4 401.8Q231.8 403.9 235.3 405.0M228.3 379.8Q232.2 380.9 236.0 379.5" stroke="#2cd02c" stroke-width="2.3"/><path d="M225.4 386.4Q228.6 386.6 231.7 382.4M227.5 412.3Q231.6 414.5 235.7 412.4M235.1 445.1Q238.7 442.3 242.3 439.9M230.7 432.6Q234.8 436.5 239.0 436.1M237.4 447.4Q241.6 445.5 245.9 446.3M225.5 407.4Q229.0 411.0 232.5 411.0M232.0 443.8Q235.9 443.0 239.9 445.0" stroke="#420000" stroke-width="3.5"/><path d="M226.2 421.6Q228.7 420.0 231.2 421.1" stroke="#0a500a" stroke-width="3.5"/><path d="M225.4 386.4Q228.6 386.6 231.7 382.4M227.5 412.3Q231.6 414.5 235.7 412.4M235.1 445.1Q238.7 442.3 242.3 439.9M230.7 432.6Q234.8 436.5 239.0 436.1M237.4 447.4Q241.6 445.5 245.9 446.3M225.5 407.4Q229.0 411.0 232.5 411.0M232.0 443.8Q235.9 443.0 239.9 445.0" stroke="#c41010" stroke-width="2.3"/><path d="M226.2 421.6Q228.7 420.0 231.2 421.1" stroke="#2cd02c" stroke-width="2.3"/><path d="M231.4 444.8Q234.1 444.4 236.9 444.8M227.0 416.5Q230.1 417.2 233.2 415.8M236.8 426.2Q239.7 425.7 242.6 425.4M232.7 411.8Q235.7 411.6 238.8 411.2M236.0 443.8Q239.8 441.6 243.6 442.8" stroke="#420000" stroke-width="3.5"/><path d="M229.0 397.8Q231.9 399.8 234.9 398.7M236.8 441.7Q238.3 441.7 239.9 446.0M233.1 413.4Q236.0 410.2 238.8 409.4" stroke="#0a500a" stroke-width="3.5"/><path d="M231.4 444.8Q234.1 444.4 236.9 444.8M227.0 416.5Q230.1 417.2 233.2 415.8M236.8 426.2Q239.7 425.7 242.6 425.4M232.7 411.8Q235.7 411.6 238.8 411.2M236.0 443.8Q239.8 441.6 243.6 442.8" stroke="#c41010" stroke-width="2.3"/><path d="M229.0 397.8Q231.9 399.8 234.9 398.7M236.8 441.7Q238.3 441.7 239.9 446.0M233.1 413.4Q236.0 410.2 238.8 409.4" stroke="#2cd02c" stroke-width="2.3"/><path d="M231.8 443.9Q235.7 441.9 239.5 444.4M232.0 408.0Q235.2 410.0 238.3 410.7M238.7 433.3Q241.7 434.0 244.7 434.9M235.1 448.2Q238.0 449.3 240.9 447.2M232.5 434.9Q235.3 435.4 238.2 432.9" stroke="#420000" stroke-width="3.5"/><path d="M238.0 430.0Q240.8 432.2 243.7 430.8M228.3 391.0Q231.6 393.7 235.0 395.7M226.5 404.3Q229.6 401.6 232.6 398.2" stroke="#0a500a" stroke-width="3.5"/><path d="M231.8 443.9Q235.7 441.9 239.5 444.4M232.0 408.0Q235.2 410.0 238.3 410.7M238.7 433.3Q241.7 434.0 244.7 434.9M235.1 448.2Q238.0 449.3 240.9 447.2M232.5 434.9Q235.3 435.4 238.2 432.9" stroke="#c41010" stroke-width="2.3"/><path d="M238.0 430.0Q240.8 432.2 243.7 430.8M228.3 391.0Q231.6 393.7 235.0 395.7M226.5 404.3Q229.6 401.6 232.6 398.2" stroke="#2cd02c" stroke-width="2.3"/><path d="M229.9 426.3Q232.9 429.8 235.9 431.1M242.9 441.9Q245.1 442.4 247.4 444.6M228.5 384.3Q232.9 384.9 237.3 382.4M224.7 392.8Q228.2 392.4 231.7 391.6M229.6 381.2Q232.8 380.5 236.1 384.1" stroke="#420000" stroke-width="3.5"/><path d="M234.2 448.2Q238.3 448.6 242.4 448.6M236.7 448.5Q240.3 448.4 243.9 448.9M229.1 392.0Q233.5 391.8 238.0 392.7" stroke="#0a500a" stroke-width="3.5"/><path d="M229.9 426.3Q232.9 429.8 235.9 431.1M242.9 441.9Q245.1 442.4 247.4 444.6M228.5 384.3Q232.9 384.9 237.3 382.4M224.7 392.8Q228.2 392.4 231.7 391.6M229.6 381.2Q232.8 380.5 236.1 384.1" stroke="#c41010" stroke-width="2.3"/><path d="M234.2 448.2Q238.3 448.6 242.4 448.6M236.7 448.5Q240.3 448.4 243.9 448.9M229.1 392.0Q233.5 391.8 238.0 392.7" stroke="#2cd02c" stroke-width="2.3"/><path d="M231.5 416.3Q235.3 415.4 239.1 418.5M238.7 439.7Q242.3 441.3 245.9 442.7M235.0 419.6Q238.8 418.9 242.7 420.4M236.3 435.4Q240.0 434.7 243.7 437.2" stroke="#420000" stroke-width="3.5"/><path d="M229.8 378.8Q232.2 379.1 234.6 381.8M234.3 429.3Q238.5 428.3 242.7 430.0M224.3 389.6Q226.9 387.8 229.5 389.8M239.9 444.8Q242.1 442.1 244.2 440.6" stroke="#0a500a" stroke-width="3.5"/><path d="M231.5 416.3Q235.3 415.4 239.1 418.5M238.7 439.7Q242.3 441.3 245.9 442.7M235.0 419.6Q238.8 418.9 242.7 420.4M236.3 435.4Q240.0 434.7 243.7 437.2" stroke="#c41010" stroke-width="2.3"/><path d="M229.8 378.8Q232.2 379.1 234.6 381.8M234.3 429.3Q238.5 428.3 242.7 430.0M224.3 389.6Q226.9 387.8 229.5 389.8M239.9 444.8Q242.1 442.1 244.2 440.6" stroke="#2cd02c" stroke-width="2.3"/><path d="M233.6 444.0Q236.5 442.5 239.4 443.7M233.6 429.3Q237.6 432.3 241.7 431.7M237.5 426.7Q240.4 426.9 243.4 429.3M226.4 411.1Q230.3 412.1 234.2 410.5M229.3 398.7Q231.9 397.9 234.6 400.6M228.7 384.2Q232.8 387.5 236.9 387.8M225.8 380.7Q228.4 378.8 230.9 379.8" stroke="#420000" stroke-width="3.5"/><path d="M227.0 422.2Q230.7 421.9 234.5 420.5" stroke="#0a500a" stroke-width="3.5"/><path d="M233.6 444.0Q236.5 442.5 239.4 443.7M233.6 429.3Q237.6 432.3 241.7 431.7M237.5 426.7Q240.4 426.9 243.4 429.3M226.4 411.1Q230.3 412.1 234.2 410.5M229.3 398.7Q231.9 397.9 234.6 400.6M228.7 384.2Q232.8 387.5 236.9 387.8M225.8 380.7Q228.4 378.8 230.9 379.8" stroke="#c41010" stroke-width="2.3"/><path d="M227.0 422.2Q230.7 421.9 234.5 420.5" stroke="#2cd02c" stroke-width="2.3"/><path d="M227.5 389.9Q229.8 389.8 232.1 387.2M230.4 399.0Q233.1 399.7 235.8 397.3M232.7 390.4Q235.9 388.3 239.1 389.1M227.6 406.6Q232.0 404.7 236.3 405.3M226.0 417.4Q228.8 417.2 231.6 415.7" stroke="#420000" stroke-width="3.5"/><path d="M224.3 382.7Q228.7 384.0 233.1 383.2M239.4 429.7Q241.1 430.3 242.7 434.9M232.6 431.7Q236.5 434.9 240.5 434.5" stroke="#0a500a" stroke-width="3.5"/><path d="M227.5 389.9Q229.8 389.8 232.1 387.2M230.4 399.0Q233.1 399.7 235.8 397.3M232.7 390.4Q235.9 388.3 239.1 389.1M227.6 406.6Q232.0 404.7 236.3 405.3M226.0 417.4Q228.8 417.2 231.6 415.7" stroke="#c41010" stroke-width="2.3"/><path d="M224.3 382.7Q228.7 384.0 233.1 383.2M239.4 429.7Q241.1 430.3 242.7 434.9M232.6 431.7Q236.5 434.9 240.5 434.5" stroke="#2cd02c" stroke-width="2.3"/><path d="M232.0 396.4Q235.4 396.3 238.7 396.8M232.7 405.0Q235.1 404.3 237.6 407.3M232.9 431.3Q236.1 430.0 239.3 429.9M241.7 443.5Q244.5 442.8 247.2 442.4M226.9 378.6Q229.9 377.4 232.9 380.5M237.7 422.4Q240.2 423.4 242.8 422.4" stroke="#420000" stroke-width="3.5"/><path d="M240.2 444.1Q242.0 445.9 243.9 448.1M231.3 434.9Q235.4 432.9 239.5 434.1" stroke="#0a500a" stroke-width="3.5"/><path d="M232.0 396.4Q235.4 396.3 238.7 396.8M232.7 405.0Q235.1 404.3 237.6 407.3M232.9 431.3Q236.1 430.0 239.3 429.9M241.7 443.5Q244.5 442.8 247.2 442.4M226.9 378.6Q229.9 377.4 232.9 380.5M237.7 422.4Q240.2 423.4 242.8 422.4" stroke="#c41010" stroke-width="2.3"/><path d="M240.2 444.1Q242.0 445.9 243.9 448.1M231.3 434.9Q235.4 432.9 239.5 434.1" stroke="#2cd02c" stroke-width="2.3"/><path d="M235.6 412.9Q238.0 413.3 240.4 416.2" stroke="#420000" stroke-width="3.5"/><path d="M232.6 403.1Q234.9 403.2 237.1 399.8" stroke="#0a500a" stroke-width="3.5"/><path d="M235.6 412.9Q238.0 413.3 240.4 416.2" stroke="#c41010" stroke-width="2.3"/><path d="M232.6 403.1Q234.9 403.2 237.1 399.8" stroke="#2cd02c" stroke-width="2.3"/><path d="M285.3 446.6Q288.4 444.1 291.5 443.0M280.8 408.6Q284.2 410.1 287.6 409.5M272.0 410.1Q275.2 410.8 278.3 408.9" stroke="#420000" stroke-width="3.5"/><path d="M283.8 441.2Q287.7 439.5 291.7 442.1M276.7 399.4Q280.1 399.9 283.4 399.0M267.3 396.4Q271.7 393.3 276.0 394.4M281.2 406.6Q284.2 408.2 287.2 411.1M269.7 400.8Q273.5 402.0 277.4 399.3" stroke="#0a500a" stroke-width="3.5"/><path d="M285.3 446.6Q288.4 444.1 291.5 443.0M280.8 408.6Q284.2 410.1 287.6 409.5M272.0 410.1Q275.2 410.8 278.3 408.9" stroke="#c41010" stroke-width="2.3"/><path d="M283.8 441.2Q287.7 439.5 291.7 442.1M276.7 399.4Q280.1 399.9 283.4 399.0M267.3 396.4Q271.7 393.3 276.0 394.4M281.2 406.6Q284.2 408.2 287.2 411.1M269.7 400.8Q273.5 402.0 277.4 399.3" stroke="#2cd02c" stroke-width="2.3"/><path d="M278.4 423.1Q281.8 422.6 285.2 423.7M279.7 409.7Q283.0 407.4 286.2 408.1M273.3 411.3Q276.9 411.5 280.4 410.6M281.2 446.0Q283.8 446.0 286.4 447.2" stroke="#420000" stroke-width="3.5"/><path d="M285.3 434.0Q288.0 433.4 290.7 434.0M285.6 438.9Q288.6 440.1 291.6 437.6M275.3 424.7Q278.7 426.4 282.2 425.1M276.2 411.4Q280.0 412.4 283.8 412.8" stroke="#0a500a" stroke-width="3.5"/><path d="M278.4 423.1Q281.8 422.6 285.2 423.7M279.7 409.7Q283.0 407.4 286.2 408.1M273.3 411.3Q276.9 411.5 280.4 410.6M281.2 446.0Q283.8 446.0 286.4 447.2" stroke="#c41010" stroke-width="2.3"/><path d="M285.3 434.0Q288.0 433.4 290.7 434.0M285.6 438.9Q288.6 440.1 291.6 437.6M275.3 424.7Q278.7 426.4 282.2 425.1M276.2 411.4Q280.0 412.4 283.8 412.8" stroke="#2cd02c" stroke-width="2.3"/><path d="M280.8 421.5Q284.5 422.2 288.2 420.1M269.3 385.0Q273.0 384.8 276.7 380.5M271.8 400.3Q275.4 397.7 279.0 398.2M276.1 412.8Q279.0 411.6 281.8 409.3M274.0 400.5Q277.4 403.6 280.7 403.6M278.6 414.3Q282.1 414.9 285.6 415.3" stroke="#420000" stroke-width="3.5"/><path d="M271.2 385.0Q274.2 385.4 277.3 381.5M273.8 388.1Q277.7 388.4 281.7 385.2" stroke="#0a500a" stroke-width="3.5"/><path d="M280.8 421.5Q284.5 422.2 288.2 420.1M269.3 385.0Q273.0 384.8 276.7 380.5M271.8 400.3Q275.4 397.7 279.0 398.2M276.1 412.8Q279.0 411.6 281.8 409.3M274.0 400.5Q277.4 403.6 280.7 403.6M278.6 414.3Q282.1 414.9 285.6 415.3" stroke="#c41010" stroke-width="2.3"/><path d="M271.2 385.0Q274.2 385.4 277.3 381.5M273.8 388.1Q277.7 388.4 281.7 385.2" stroke="#2cd02c" stroke-width="2.3"/><path d="M270.5 405.6Q274.2 408.3 277.8 409.0M275.3 415.8Q277.8 417.6 280.3 417.2M277.6 435.7Q280.1 432.6 282.7 431.6" stroke="#420000" stroke-width="3.5"/><path d="M269.9 386.6Q273.1 385.6 276.2 388.0M276.4 402.4Q279.7 402.9 283.0 401.5M274.2 405.9Q278.2 405.9 282.2 406.5M277.4 410.1Q280.8 411.4 284.3 411.8M286.6 425.8Q289.6 425.7 292.5 425.7" stroke="#0a500a" stroke-width="3.5"/><path d="M270.5 405.6Q274.2 408.3 277.8 409.0M275.3 415.8Q277.8 417.6 280.3 417.2M277.6 435.7Q280.1 432.6 282.7 431.6" stroke="#c41010" stroke-width="2.3"/><path d="M269.9 386.6Q273.1 385.6 276.2 388.0M276.4 402.4Q279.7 402.9 283.0 401.5M274.2 405.9Q278.2 405.9 282.2 406.5M277.4 410.1Q280.8 411.4 284.3 411.8M286.6 425.8Q289.6 425.7 292.5 425.7" stroke="#2cd02c" stroke-width="2.3"/><path d="M274.8 404.1Q278.3 406.6 281.8 407.2M266.8 393.7Q271.0 394.9 275.3 392.4M277.3 403.9Q280.4 405.4 283.5 407.6M271.5 404.3Q274.4 405.0 277.2 403.4" stroke="#420000" stroke-width="3.5"/><path d="M278.8 399.7Q281.8 400.0 284.9 400.3M275.9 395.4Q279.9 397.5 283.9 395.2M279.9 437.6Q283.3 435.7 286.6 435.8M278.3 418.6Q282.1 420.9 285.9 419.3" stroke="#0a500a" stroke-width="3.5"/><path d="M274.8 404.1Q278.3 406.6 281.8 407.2M266.8 393.7Q271.0 394.9 275.3 392.4M277.3 403.9Q280.4 405.4 283.5 407.6M271.5 404.3Q274.4 405.0 277.2 403.4" stroke="#c41010" stroke-width="2.3"/><path d="M278.8 399.7Q281.8 400.0 284.9 400.3M275.9 395.4Q279.9 397.5 283.9 395.2M279.9 437.6Q283.3 435.7 286.6 435.8M278.3 418.6Q282.1 420.9 285.9 419.3" stroke="#2cd02c" stroke-width="2.3"/><path d="M276.2 431.3Q279.1 434.5 282.1 433.6M269.6 392.4Q272.7 392.1 275.8 391.5M281.3 453.0Q284.9 450.5 288.6 449.7M278.3 406.3Q282.2 407.2 286.0 410.6" stroke="#420000" stroke-width="3.5"/><path d="M284.7 417.1Q288.0 417.5 291.3 417.6M280.6 427.4Q284.2 429.8 287.8 428.5M282.1 444.9Q286.1 444.0 290.2 446.2M277.4 447.4Q280.1 447.0 282.8 448.8" stroke="#0a500a" stroke-width="3.5"/><path d="M276.2 431.3Q279.1 434.5 282.1 433.6M269.6 392.4Q272.7 392.1 275.8 391.5M281.3 453.0Q284.9 450.5 288.6 449.7M278.3 406.3Q282.2 407.2 286.0 410.6" stroke="#c41010" stroke-width="2.3"/><path d="M284.7 417.1Q288.0 417.5 291.3 417.6M280.6 427.4Q284.2 429.8 287.8 428.5M282.1 444.9Q286.1 444.0 290.2 446.2M277.4 447.4Q280.1 447.0 282.8 448.8" stroke="#2cd02c" stroke-width="2.3"/><path d="M278.7 434.9Q281.9 435.7 285.2 432.3" stroke="#420000" stroke-width="3.5"/><path d="M271.9 391.9Q274.8 391.2 277.8 386.5M278.5 428.2Q282.4 425.2 286.4 426.2M281.3 418.9Q283.7 418.5 286.1 416.5M283.8 426.6Q286.4 424.8 289.0 420.3M279.2 414.4Q283.5 416.2 287.8 416.8M268.6 382.3Q271.8 384.5 274.9 384.7M276.7 395.4Q278.3 392.5 279.8 391.2" stroke="#0a500a" stroke-width="3.5"/><path d="M278.7 434.9Q281.9 435.7 285.2 432.3" stroke="#c41010" stroke-width="2.3"/><path d="M271.9 391.9Q274.8 391.2 277.8 386.5M278.5 428.2Q282.4 425.2 286.4 426.2M281.3 418.9Q283.7 418.5 286.1 416.5M283.8 426.6Q286.4 424.8 289.0 420.3M279.2 414.4Q283.5 416.2 287.8 416.8M268.6 382.3Q271.8 384.5 274.9 384.7M276.7 395.4Q278.3 392.5 279.8 391.2" stroke="#2cd02c" stroke-width="2.3"/><path d="M268.5 397.8Q272.0 398.1 275.4 400.3" stroke="#420000" stroke-width="3.5"/><path d="M275.0 390.7Q278.8 391.0 282.6 390.0M278.3 432.2Q282.5 432.9 286.7 433.4M283.4 443.1Q287.4 440.9 291.5 441.1M268.2 400.6Q270.8 400.3 273.3 402.9M276.3 441.6Q277.5 441.8 278.7 446.3M279.2 434.4Q282.7 431.8 286.3 432.5M275.5 438.8Q279.6 439.0 283.6 441.6" stroke="#0a500a" stroke-width="3.5"/><path d="M268.5 397.8Q272.0 398.1 275.4 400.3" stroke="#c41010" stroke-width="2.3"/><path d="M275.0 390.7Q278.8 391.0 282.6 390.0M278.3 432.2Q282.5 432.9 286.7 433.4M283.4 443.1Q287.4 440.9 291.5 441.1M268.2 400.6Q270.8 400.3 273.3 402.9M276.3 441.6Q277.5 441.8 278.7 446.3M279.2 434.4Q282.7 431.8 286.3 432.5M275.5 438.8Q279.6 439.0 283.6 441.6" stroke="#2cd02c" stroke-width="2.3"/><path d="M278.0 390.2Q280.3 388.6 282.6 387.3M280.8 445.7Q284.8 443.6 288.8 443.7M272.9 384.5Q276.4 387.1 279.9 388.2M269.4 396.1Q272.1 395.1 274.8 391.7M274.4 412.8Q277.0 413.4 279.7 412.6" stroke="#420000" stroke-width="3.5"/><path d="M273.6 406.5Q277.1 406.0 280.6 408.7M281.2 440.6Q283.7 441.8 286.3 446.4M282.1 441.8Q284.8 445.1 287.4 444.5" stroke="#0a500a" stroke-width="3.5"/><path d="M278.0 390.2Q280.3 388.6 282.6 387.3M280.8 445.7Q284.8 443.6 288.8 443.7M272.9 384.5Q276.4 387.1 279.9 388.2M269.4 396.1Q272.1 395.1 274.8 391.7M274.4 412.8Q277.0 413.4 279.7 412.6" stroke="#c41010" stroke-width="2.3"/><path d="M273.6 406.5Q277.1 406.0 280.6 408.7M281.2 440.6Q283.7 441.8 286.3 446.4M282.1 441.8Q284.8 445.1 287.4 444.5" stroke="#2cd02c" stroke-width="2.3"/><path d="M279.7 449.0Q283.0 448.2 286.3 451.1" stroke="#420000" stroke-width="3.5"/><path d="M271.2 401.2Q274.7 398.4 278.3 398.7" stroke="#0a500a" stroke-width="3.5"/><path d="M279.7 449.0Q283.0 448.2 286.3 451.1" stroke="#c41010" stroke-width="2.3"/><path d="M271.2 401.2Q274.7 398.4 278.3 398.7" stroke="#2cd02c" stroke-width="2.3"/><path d="M440.3 432.7Q443.4 432.1 446.5 430.6M452.5 410.3Q455.3 410.9 458.1 409.9M440.4 418.2Q442.8 417.5 445.2 413.8M449.9 389.3Q453.4 388.3 456.9 391.3M445.6 426.6Q448.7 424.9 451.9 424.3M438.5 431.1Q442.1 431.7 445.7 429.0M447.8 424.7Q450.9 423.2 454.0 424.7M450.3 401.8Q453.4 404.2 456.4 402.9" stroke="#000040" stroke-width="3.5"/><path d="M440.3 432.7Q443.4 432.1 446.5 430.6M452.5 410.3Q455.3 410.9 458.1 409.9M440.4 418.2Q442.8 417.5 445.2 413.8M449.9 389.3Q453.4 388.3 456.9 391.3M445.6 426.6Q448.7 424.9 451.9 424.3M438.5 431.1Q442.1 431.7 445.7 429.0M447.8 424.7Q450.9 423.2 454.0 424.7M450.3 401.8Q453.4 404.2 456.4 402.9" stroke="#1818b0" stroke-width="2.3"/><path d="M452.6 398.7Q454.5 397.4 456.4 393.2M437.6 411.5Q440.7 410.7 443.7 413.2M434.9 433.0Q437.5 431.2 440.1 433.4M442.2 426.3Q444.0 427.2 445.9 429.9M441.6 454.7Q445.2 455.8 448.8 456.3M451.3 413.4Q453.7 411.4 456.1 410.5M439.4 406.8Q443.3 404.9 447.2 407.1M441.0 429.3Q445.2 430.6 449.4 431.7" stroke="#000040" stroke-width="3.5"/><path d="M452.6 398.7Q454.5 397.4 456.4 393.2M437.6 411.5Q440.7 410.7 443.7 413.2M434.9 433.0Q437.5 431.2 440.1 433.4M442.2 426.3Q444.0 427.2 445.9 429.9M441.6 454.7Q445.2 455.8 448.8 456.3M451.3 413.4Q453.7 411.4 456.1 410.5M439.4 406.8Q443.3 404.9 447.2 407.1M441.0 429.3Q445.2 430.6 449.4 431.7" stroke="#1818b0" stroke-width="2.3"/><path d="M439.0 442.5Q441.7 442.7 444.4 444.0M440.4 453.7Q443.8 454.6 447.3 457.4M444.1 412.3Q447.4 414.4 450.7 414.8M437.2 419.4Q440.5 419.4 443.8 418.6M450.6 394.9Q453.6 392.0 456.5 393.3M446.2 449.4Q449.0 452.5 451.8 452.0M443.4 401.9Q446.7 401.5 449.9 398.3M436.5 415.8Q439.4 414.6 442.3 417.6" stroke="#000040" stroke-width="3.5"/><path d="M439.0 442.5Q441.7 442.7 444.4 444.0M440.4 453.7Q443.8 454.6 447.3 457.4M444.1 412.3Q447.4 414.4 450.7 414.8M437.2 419.4Q440.5 419.4 443.8 418.6M450.6 394.9Q453.6 392.0 456.5 393.3M446.2 449.4Q449.0 452.5 451.8 452.0M443.4 401.9Q446.7 401.5 449.9 398.3M436.5 415.8Q439.4 414.6 442.3 417.6" stroke="#1818b0" stroke-width="2.3"/><path d="M438.6 435.0Q442.6 433.1 446.6 432.5M438.1 432.6Q442.1 434.3 446.0 436.2M451.1 400.8Q453.6 397.8 456.1 398.8M441.4 412.5Q444.0 411.9 446.6 410.1M448.2 412.3Q451.0 411.6 453.9 409.7M446.8 437.8Q448.5 441.5 450.1 441.8M438.1 422.5Q441.9 420.0 445.6 421.2M448.4 390.0Q451.1 386.6 453.8 387.6" stroke="#000040" stroke-width="3.5"/><path d="M438.6 435.0Q442.6 433.1 446.6 432.5M438.1 432.6Q442.1 434.3 446.0 436.2M451.1 400.8Q453.6 397.8 456.1 398.8M441.4 412.5Q444.0 411.9 446.6 410.1M448.2 412.3Q451.0 411.6 453.9 409.7M446.8 437.8Q448.5 441.5 450.1 441.8M438.1 422.5Q441.9 420.0 445.6 421.2M448.4 390.0Q451.1 386.6 453.8 387.6" stroke="#1818b0" stroke-width="2.3"/><path d="M450.5 387.3Q454.8 386.8 459.2 389.2M439.6 404.7Q442.5 403.0 445.4 402.7M450.9 395.7Q455.0 397.6 459.2 397.1M449.6 424.1Q452.5 422.0 455.4 423.8M452.2 395.3Q455.2 398.7 458.2 397.7M442.4 432.0Q446.4 435.4 450.4 434.6M442.4 419.5Q445.3 419.0 448.3 421.0M435.6 446.1Q439.8 445.2 443.9 448.1" stroke="#000040" stroke-width="3.5"/><path d="M450.5 387.3Q454.8 386.8 459.2 389.2M439.6 404.7Q442.5 403.0 445.4 402.7M450.9 395.7Q455.0 397.6 459.2 397.1M449.6 424.1Q452.5 422.0 455.4 423.8M452.2 395.3Q455.2 398.7 458.2 397.7M442.4 432.0Q446.4 435.4 450.4 434.6M442.4 419.5Q445.3 419.0 448.3 421.0M435.6 446.1Q439.8 445.2 443.9 448.1" stroke="#1818b0" stroke-width="2.3"/><path d="M448.2 387.9Q451.9 389.1 455.5 388.3M443.7 410.7Q447.3 410.1 450.9 411.0M440.2 446.9Q443.3 445.1 446.5 442.4M447.2 447.0Q449.8 445.5 452.5 446.3M446.5 388.1Q450.0 388.3 453.6 388.9M445.0 415.0Q447.3 414.2 449.5 412.9M440.6 452.8Q444.6 453.3 448.5 453.8M445.0 425.9Q449.4 424.3 453.8 425.9" stroke="#000040" stroke-width="3.5"/><path d="M448.2 387.9Q451.9 389.1 455.5 388.3M443.7 410.7Q447.3 410.1 450.9 411.0M440.2 446.9Q443.3 445.1 446.5 442.4M447.2 447.0Q449.8 445.5 452.5 446.3M446.5 388.1Q450.0 388.3 453.6 388.9M445.0 415.0Q447.3 414.2 449.5 412.9M440.6 452.8Q444.6 453.3 448.5 453.8M445.0 425.9Q449.4 424.3 453.8 425.9" stroke="#1818b0" stroke-width="2.3"/><path d="M439.1 437.3Q442.0 436.2 445.0 439.2M448.0 403.9Q451.4 402.8 454.8 399.6M434.8 433.6Q437.7 431.6 440.6 433.9M445.3 425.3Q447.9 427.1 450.4 427.8M449.0 413.6Q452.1 413.9 455.3 413.4M435.7 455.0Q439.8 455.5 443.8 455.8M438.5 422.3Q442.5 425.4 446.4 424.3M449.7 396.8Q453.6 397.9 457.4 395.2" stroke="#000040" stroke-width="3.5"/><path d="M439.1 437.3Q442.0 436.2 445.0 439.2M448.0 403.9Q451.4 402.8 454.8 399.6M434.8 433.6Q437.7 431.6 440.6 433.9M445.3 425.3Q447.9 427.1 450.4 427.8M449.0 413.6Q452.1 413.9 455.3 413.4M435.7 455.0Q439.8 455.5 443.8 455.8M438.5 422.3Q442.5 425.4 446.4 424.3M449.7 396.8Q453.6 397.9 457.4 395.2" stroke="#1818b0" stroke-width="2.3"/><path d="M453.2 393.5Q456.3 394.8 459.3 393.3M441.5 411.9Q444.6 412.3 447.7 409.0M443.9 433.4Q446.5 433.9 449.1 431.1M444.9 420.2Q448.7 422.0 452.5 422.2M440.4 424.1Q443.7 425.0 447.0 426.7M442.0 434.2Q445.4 434.0 448.9 432.1M441.7 417.6Q444.3 419.2 446.9 419.0M446.9 394.8Q449.2 396.5 451.5 397.3" stroke="#000040" stroke-width="3.5"/><path d="M453.2 393.5Q456.3 394.8 459.3 393.3M441.5 411.9Q444.6 412.3 447.7 409.0M443.9 433.4Q446.5 433.9 449.1 431.1M444.9 420.2Q448.7 422.0 452.5 422.2M440.4 424.1Q443.7 425.0 447.0 426.7M442.0 434.2Q445.4 434.0 448.9 432.1M441.7 417.6Q444.3 419.2 446.9 419.0M446.9 394.8Q449.2 396.5 451.5 397.3" stroke="#1818b0" stroke-width="2.3"/><path d="M448.6 390.4Q451.2 391.3 453.8 390.2M441.9 445.3Q445.1 445.9 448.4 443.5M451.0 393.5Q453.4 391.8 455.7 389.7M447.1 433.4Q449.7 430.8 452.3 429.3M445.4 444.8Q449.3 443.9 453.2 442.4M451.9 387.2Q455.2 386.4 458.6 388.3M444.0 421.7Q446.5 422.7 449.0 419.3M436.1 428.2Q439.5 429.6 442.8 432.4" stroke="#000040" stroke-width="3.5"/><path d="M448.6 390.4Q451.2 391.3 453.8 390.2M441.9 445.3Q445.1 445.9 448.4 443.5M451.0 393.5Q453.4 391.8 455.7 389.7M447.1 433.4Q449.7 430.8 452.3 429.3M445.4 444.8Q449.3 443.9 453.2 442.4M451.9 387.2Q455.2 386.4 458.6 388.3M444.0 421.7Q446.5 422.7 449.0 419.3M436.1 428.2Q439.5 429.6 442.8 432.4" stroke="#1818b0" stroke-width="2.3"/><path d="M503.6 426.1Q506.6 426.5 509.7 426.3M499.3 440.3Q501.8 437.8 504.4 439.2M503.7 391.6Q506.6 394.4 509.4 397.7M505.2 424.5Q507.4 421.3 509.6 421.1M504.2 416.0Q508.0 413.0 511.8 414.2M498.7 454.7Q501.3 453.1 503.8 454.7M515.3 389.7Q518.6 392.9 521.9 394.4M510.5 425.4Q514.2 425.7 517.9 424.2" stroke="#0a4060" stroke-width="3.5"/><path d="M503.6 426.1Q506.6 426.5 509.7 426.3M499.3 440.3Q501.8 437.8 504.4 439.2M503.7 391.6Q506.6 394.4 509.4 397.7M505.2 424.5Q507.4 421.3 509.6 421.1M504.2 416.0Q508.0 413.0 511.8 414.2M498.7 454.7Q501.3 453.1 503.8 454.7M515.3 389.7Q518.6 392.9 521.9 394.4M510.5 425.4Q514.2 425.7 517.9 424.2" stroke="#36b2e6" stroke-width="2.3"/><path d="M512.7 432.1Q514.7 429.3 516.7 428.7M504.2 439.4Q507.2 438.4 510.2 438.3M510.1 422.5Q514.2 424.5 518.3 425.2M499.9 423.6Q504.0 425.9 508.2 425.0M497.1 457.3Q499.1 454.2 501.2 453.3M510.5 404.4Q514.0 404.3 517.6 405.3M506.6 409.8Q510.8 411.2 515.0 412.1M505.5 420.1Q508.0 420.8 510.5 418.9" stroke="#0a4060" stroke-width="3.5"/><path d="M512.7 432.1Q514.7 429.3 516.7 428.7M504.2 439.4Q507.2 438.4 510.2 438.3M510.1 422.5Q514.2 424.5 518.3 425.2M499.9 423.6Q504.0 425.9 508.2 425.0M497.1 457.3Q499.1 454.2 501.2 453.3M510.5 404.4Q514.0 404.3 517.6 405.3M506.6 409.8Q510.8 411.2 515.0 412.1M505.5 420.1Q508.0 420.8 510.5 418.9" stroke="#36b2e6" stroke-width="2.3"/><path d="M509.7 433.3Q513.9 435.0 518.1 435.5M508.6 400.6Q511.9 401.4 515.2 399.1M498.7 433.4Q502.6 434.8 506.6 436.2M505.8 422.6Q508.4 422.8 511.1 421.0M500.8 437.9Q503.1 442.3 505.5 442.8M513.0 410.4Q515.4 407.0 517.7 406.4M511.3 416.6Q515.0 416.8 518.7 420.5M499.5 441.3Q503.1 440.2 506.7 442.3" stroke="#0a4060" stroke-width="3.5"/><path d="M509.7 433.3Q513.9 435.0 518.1 435.5M508.6 400.6Q511.9 401.4 515.2 399.1M498.7 433.4Q502.6 434.8 506.6 436.2M505.8 422.6Q508.4 422.8 511.1 421.0M500.8 437.9Q503.1 442.3 505.5 442.8M513.0 410.4Q515.4 407.0 517.7 406.4M511.3 416.6Q515.0 416.8 518.7 420.5M499.5 441.3Q503.1 440.2 506.7 442.3" stroke="#36b2e6" stroke-width="2.3"/><path d="M505.7 392.3Q509.1 393.0 512.6 393.1M505.7 438.1Q508.8 438.4 511.9 435.1M505.1 388.1Q509.1 388.8 513.1 388.9M505.0 398.4Q508.9 399.7 512.7 397.7M513.5 420.2Q515.5 417.6 517.4 416.7M502.4 439.5Q506.1 437.5 509.7 437.0M510.6 409.0Q512.7 407.7 514.8 402.4M503.2 442.7Q507.0 443.4 510.8 445.5" stroke="#0a4060" stroke-width="3.5"/><path d="M505.7 392.3Q509.1 393.0 512.6 393.1M505.7 438.1Q508.8 438.4 511.9 435.1M505.1 388.1Q509.1 388.8 513.1 388.9M505.0 398.4Q508.9 399.7 512.7 397.7M513.5 420.2Q515.5 417.6 517.4 416.7M502.4 439.5Q506.1 437.5 509.7 437.0M510.6 409.0Q512.7 407.7 514.8 402.4M503.2 442.7Q507.0 443.4 510.8 445.5" stroke="#36b2e6" stroke-width="2.3"/><path d="M504.7 418.9Q507.4 417.2 510.2 418.2M505.1 452.0Q507.5 450.1 509.8 447.1M501.0 455.9Q503.2 455.1 505.3 450.1M499.6 426.4Q502.3 427.4 505.1 427.4M509.9 421.4Q512.6 418.6 515.3 416.2M512.1 386.6Q515.5 385.4 518.9 386.5M504.8 410.2Q507.7 410.6 510.6 407.3M507.1 443.3Q510.0 442.6 512.8 444.9" stroke="#0a4060" stroke-width="3.5"/><path d="M504.7 418.9Q507.4 417.2 510.2 418.2M505.1 452.0Q507.5 450.1 509.8 447.1M501.0 455.9Q503.2 455.1 505.3 450.1M499.6 426.4Q502.3 427.4 505.1 427.4M509.9 421.4Q512.6 418.6 515.3 416.2M512.1 386.6Q515.5 385.4 518.9 386.5M504.8 410.2Q507.7 410.6 510.6 407.3M507.1 443.3Q510.0 442.6 512.8 444.9" stroke="#36b2e6" stroke-width="2.3"/><path d="M500.3 421.6Q504.3 419.8 508.3 420.4M503.5 400.6Q507.8 402.3 512.0 400.0M505.6 398.5Q508.3 397.1 511.0 396.2M504.4 405.4Q507.6 404.6 510.9 402.8M500.8 446.1Q503.3 447.1 505.9 444.6M508.3 394.2Q511.3 389.8 514.2 389.5M507.8 412.8Q510.9 414.9 513.9 413.6M501.1 442.4Q504.7 440.7 508.4 437.9" stroke="#0a4060" stroke-width="3.5"/><path d="M500.3 421.6Q504.3 419.8 508.3 420.4M503.5 400.6Q507.8 402.3 512.0 400.0M505.6 398.5Q508.3 397.1 511.0 396.2M504.4 405.4Q507.6 404.6 510.9 402.8M500.8 446.1Q503.3 447.1 505.9 444.6M508.3 394.2Q511.3 389.8 514.2 389.5M507.8 412.8Q510.9 414.9 513.9 413.6M501.1 442.4Q504.7 440.7 508.4 437.9" stroke="#36b2e6" stroke-width="2.3"/><path d="M508.7 390.5Q510.8 392.1 512.9 394.3M511.8 389.9Q514.5 390.9 517.2 388.8M506.2 436.1Q509.1 439.7 512.1 441.3M515.1 395.5Q518.8 398.5 522.6 397.8M508.2 409.9Q511.8 412.0 515.4 409.9M508.7 391.6Q511.8 391.4 514.9 393.6M503.9 423.8Q507.5 421.4 511.1 418.9M509.5 428.6Q513.9 429.5 518.3 428.3" stroke="#0a4060" stroke-width="3.5"/><path d="M508.7 390.5Q510.8 392.1 512.9 394.3M511.8 389.9Q514.5 390.9 517.2 388.8M506.2 436.1Q509.1 439.7 512.1 441.3M515.1 395.5Q518.8 398.5 522.6 397.8M508.2 409.9Q511.8 412.0 515.4 409.9M508.7 391.6Q511.8 391.4 514.9 393.6M503.9 423.8Q507.5 421.4 511.1 418.9M509.5 428.6Q513.9 429.5 518.3 428.3" stroke="#36b2e6" stroke-width="2.3"/><path d="M514.4 404.2Q518.6 404.3 522.7 401.5M512.0 399.3Q514.5 400.7 517.0 401.4M513.2 434.1Q515.5 435.1 517.8 438.4M510.2 444.4Q512.6 439.5 515.0 437.2M509.8 409.9Q513.4 411.5 517.0 410.9M500.8 401.8Q503.9 403.3 507.0 402.8M501.4 419.4Q504.3 421.2 507.2 418.7M507.3 446.2Q510.3 447.1 513.3 451.5" stroke="#0a4060" stroke-width="3.5"/><path d="M514.4 404.2Q518.6 404.3 522.7 401.5M512.0 399.3Q514.5 400.7 517.0 401.4M513.2 434.1Q515.5 435.1 517.8 438.4M510.2 444.4Q512.6 439.5 515.0 437.2M509.8 409.9Q513.4 411.5 517.0 410.9M500.8 401.8Q503.9 403.3 507.0 402.8M501.4 419.4Q504.3 421.2 507.2 418.7M507.3 446.2Q510.3 447.1 513.3 451.5" stroke="#36b2e6" stroke-width="2.3"/><path d="M505.2 416.3Q509.6 416.1 513.9 414.3M501.9 440.7Q504.9 441.3 507.9 441.9M504.2 394.4Q508.5 392.2 512.8 394.0M499.1 445.3Q502.0 445.2 505.0 445.0M500.9 407.1Q504.9 406.7 508.8 404.4M506.2 434.8Q508.2 435.1 510.2 439.2M497.9 451.4Q501.6 453.3 505.3 451.3M497.5 450.4Q501.2 449.8 504.8 450.1" stroke="#0a4060" stroke-width="3.5"/><path d="M505.2 416.3Q509.6 416.1 513.9 414.3M501.9 440.7Q504.9 441.3 507.9 441.9M504.2 394.4Q508.5 392.2 512.8 394.0M499.1 445.3Q502.0 445.2 505.0 445.0M500.9 407.1Q504.9 406.7 508.8 404.4M506.2 434.8Q508.2 435.1 510.2 439.2M497.9 451.4Q501.6 453.3 505.3 451.3M497.5 450.4Q501.2 449.8 504.8 450.1" stroke="#36b2e6" stroke-width="2.3"/><path d="M593.4 425.4Q596.4 424.6 599.4 419.8M583.3 436.5Q585.4 433.9 587.5 433.4M596.4 418.9Q599.9 419.4 603.3 417.9M594.7 427.7Q597.4 430.4 600.2 430.1M591.8 440.8Q596.1 440.7 600.4 442.6" stroke="#000040" stroke-width="3.5"/><path d="M582.0 402.1Q586.2 404.3 590.3 404.5M586.8 452.4Q591.1 454.6 595.3 452.4M591.7 448.8Q594.9 447.0 598.1 448.4" stroke="#0a4060" stroke-width="3.5"/><path d="M593.4 425.4Q596.4 424.6 599.4 419.8M583.3 436.5Q585.4 433.9 587.5 433.4M596.4 418.9Q599.9 419.4 603.3 417.9M594.7 427.7Q597.4 430.4 600.2 430.1M591.8 440.8Q596.1 440.7 600.4 442.6" stroke="#1818b0" stroke-width="2.3"/><path d="M582.0 402.1Q586.2 404.3 590.3 404.5M586.8 452.4Q591.1 454.6 595.3 452.4M591.7 448.8Q594.9 447.0 598.1 448.4" stroke="#36b2e6" stroke-width="2.3"/><path d="M589.1 455.6Q593.2 456.1 597.3 455.2M597.0 417.1Q599.6 417.5 602.3 417.2M592.9 436.3Q595.8 435.4 598.7 436.1M590.4 408.2Q593.4 410.0 596.5 407.6" stroke="#000040" stroke-width="3.5"/><path d="M591.0 451.2Q591.7 449.2 592.5 442.9M591.7 394.2Q595.3 391.3 598.9 392.4M584.3 424.5Q587.4 424.5 590.5 422.5M584.4 412.0Q586.8 415.4 589.2 416.2" stroke="#0a4060" stroke-width="3.5"/><path d="M589.1 455.6Q593.2 456.1 597.3 455.2M597.0 417.1Q599.6 417.5 602.3 417.2M592.9 436.3Q595.8 435.4 598.7 436.1M590.4 408.2Q593.4 410.0 596.5 407.6" stroke="#1818b0" stroke-width="2.3"/><path d="M591.0 451.2Q591.7 449.2 592.5 442.9M591.7 394.2Q595.3 391.3 598.9 392.4M584.3 424.5Q587.4 424.5 590.5 422.5M584.4 412.0Q586.8 415.4 589.2 416.2" stroke="#36b2e6" stroke-width="2.3"/><path d="M589.4 416.6Q592.8 414.7 596.3 413.6M588.7 410.1Q591.1 412.9 593.5 412.1" stroke="#000040" stroke-width="3.5"/><path d="M594.5 426.9Q597.9 428.7 601.3 428.2M581.6 393.3Q584.6 393.5 587.6 390.0M587.4 442.5Q590.1 440.8 592.7 442.8M593.6 450.8Q595.6 453.1 597.6 454.4M593.8 440.8Q595.7 439.7 597.6 437.4M585.4 453.9Q588.1 456.1 590.8 454.9" stroke="#0a4060" stroke-width="3.5"/><path d="M589.4 416.6Q592.8 414.7 596.3 413.6M588.7 410.1Q591.1 412.9 593.5 412.1" stroke="#1818b0" stroke-width="2.3"/><path d="M594.5 426.9Q597.9 428.7 601.3 428.2M581.6 393.3Q584.6 393.5 587.6 390.0M587.4 442.5Q590.1 440.8 592.7 442.8M593.6 450.8Q595.6 453.1 597.6 454.4M593.8 440.8Q595.7 439.7 597.6 437.4M585.4 453.9Q588.1 456.1 590.8 454.9" stroke="#36b2e6" stroke-width="2.3"/><path d="M595.7 440.6Q598.1 438.4 600.5 437.5M584.6 453.0Q588.7 452.2 592.9 449.5" stroke="#000040" stroke-width="3.5"/><path d="M582.7 451.0Q586.2 449.1 589.6 448.0M586.7 385.5Q590.1 387.1 593.6 388.0M590.4 409.7Q594.0 411.7 597.6 411.8M582.5 393.0Q585.1 389.6 587.7 389.2M581.5 449.8Q584.6 450.0 587.7 449.8M582.9 430.0Q586.7 430.6 590.6 433.4" stroke="#0a4060" stroke-width="3.5"/><path d="M595.7 440.6Q598.1 438.4 600.5 437.5M584.6 453.0Q588.7 452.2 592.9 449.5" stroke="#1818b0" stroke-width="2.3"/><path d="M582.7 451.0Q586.2 449.1 589.6 448.0M586.7 385.5Q590.1 387.1 593.6 388.0M590.4 409.7Q594.0 411.7 597.6 411.8M582.5 393.0Q585.1 389.6 587.7 389.2M581.5 449.8Q584.6 450.0 587.7 449.8M582.9 430.0Q586.7 430.6 590.6 433.4" stroke="#36b2e6" stroke-width="2.3"/><path d="M582.7 388.4Q586.8 386.7 590.8 388.3M585.4 451.2Q588.9 450.5 592.5 448.9M582.2 399.2Q585.4 399.3 588.6 399.2M585.3 453.7Q588.3 453.8 591.4 455.5" stroke="#000040" stroke-width="3.5"/><path d="M587.3 425.2Q588.0 429.8 588.6 430.5M589.8 405.3Q593.0 406.0 596.3 407.0M592.1 431.4Q595.5 430.1 598.8 428.2M583.3 388.5Q587.3 386.2 591.2 385.1" stroke="#0a4060" stroke-width="3.5"/><path d="M582.7 388.4Q586.8 386.7 590.8 388.3M585.4 451.2Q588.9 450.5 592.5 448.9M582.2 399.2Q585.4 399.3 588.6 399.2M585.3 453.7Q588.3 453.8 591.4 455.5" stroke="#1818b0" stroke-width="2.3"/><path d="M587.3 425.2Q588.0 429.8 588.6 430.5M589.8 405.3Q593.0 406.0 596.3 407.0M592.1 431.4Q595.5 430.1 598.8 428.2M583.3 388.5Q587.3 386.2 591.2 385.1" stroke="#36b2e6" stroke-width="2.3"/><path d="M584.7 395.0Q588.7 397.9 592.7 397.4M582.1 401.9Q586.3 403.9 590.5 402.8" stroke="#000040" stroke-width="3.5"/><path d="M587.9 425.0Q591.0 425.6 594.0 423.6M585.0 457.8Q588.8 455.8 592.5 453.2M586.6 443.1Q589.7 443.2 592.8 444.8M581.7 399.9Q585.8 397.6 589.9 396.2M594.0 428.6Q596.4 430.6 598.7 431.3M580.9 393.4Q583.5 391.5 586.1 392.2" stroke="#0a4060" stroke-width="3.5"/><path d="M584.7 395.0Q588.7 397.9 592.7 397.4M582.1 401.9Q586.3 403.9 590.5 402.8" stroke="#1818b0" stroke-width="2.3"/><path d="M587.9 425.0Q591.0 425.6 594.0 423.6M585.0 457.8Q588.8 455.8 592.5 453.2M586.6 443.1Q589.7 443.2 592.8 444.8M581.7 399.9Q585.8 397.6 589.9 396.2M594.0 428.6Q596.4 430.6 598.7 431.3M580.9 393.4Q583.5 391.5 586.1 392.2" stroke="#36b2e6" stroke-width="2.3"/><path d="M589.2 430.5Q593.5 432.1 597.7 429.8M591.0 425.6Q594.9 425.3 598.7 421.3M587.3 422.2Q591.1 421.9 594.9 418.9M596.3 422.5Q600.0 422.2 603.6 423.7M594.8 446.9Q598.1 447.5 601.3 448.0M585.0 393.5Q588.4 392.0 591.7 391.2" stroke="#000040" stroke-width="3.5"/><path d="M589.6 410.0Q591.7 407.2 593.7 406.0M586.7 420.4Q589.2 418.5 591.8 419.9" stroke="#0a4060" stroke-width="3.5"/><path d="M589.2 430.5Q593.5 432.1 597.7 429.8M591.0 425.6Q594.9 425.3 598.7 421.3M587.3 422.2Q591.1 421.9 594.9 418.9M596.3 422.5Q600.0 422.2 603.6 423.7M594.8 446.9Q598.1 447.5 601.3 448.0M585.0 393.5Q588.4 392.0 591.7 391.2" stroke="#1818b0" stroke-width="2.3"/><path d="M589.6 410.0Q591.7 407.2 593.7 406.0M586.7 420.4Q589.2 418.5 591.8 419.9" stroke="#36b2e6" stroke-width="2.3"/><path d="M586.9 454.0Q590.0 454.5 593.1 453.7M591.6 441.4Q595.8 442.6 599.9 440.9M584.7 453.7Q587.5 453.5 590.4 455.6M595.2 415.9Q598.5 415.5 601.8 413.4" stroke="#000040" stroke-width="3.5"/><path d="M598.4 421.9Q600.9 424.2 603.4 423.2M595.4 446.3Q598.3 444.3 601.3 445.2M579.4 389.9Q582.9 392.2 586.3 391.3M589.2 420.7Q593.3 419.5 597.4 422.2" stroke="#0a4060" stroke-width="3.5"/><path d="M586.9 454.0Q590.0 454.5 593.1 453.7M591.6 441.4Q595.8 442.6 599.9 440.9M584.7 453.7Q587.5 453.5 590.4 455.6M595.2 415.9Q598.5 415.5 601.8 413.4" stroke="#1818b0" stroke-width="2.3"/><path d="M598.4 421.9Q600.9 424.2 603.4 423.2M595.4 446.3Q598.3 444.3 601.3 445.2M579.4 389.9Q582.9 392.2 586.3 391.3M589.2 420.7Q593.3 419.5 597.4 422.2" stroke="#36b2e6" stroke-width="2.3"/><path d="M582.8 384.6Q585.7 385.7 588.7 389.9M582.8 385.9Q586.5 388.3 590.3 387.1M593.3 445.5Q595.8 446.7 598.3 445.9M590.6 451.9Q593.2 451.8 595.7 452.0M588.6 454.3Q592.9 454.0 597.3 456.4" stroke="#000040" stroke-width="3.5"/><path d="M583.0 413.0Q586.4 413.8 589.8 412.8M584.8 413.7Q588.0 413.9 591.3 411.2M584.5 452.7Q588.2 451.8 591.9 448.3" stroke="#0a4060" stroke-width="3.5"/><path d="M582.8 384.6Q585.7 385.7 588.7 389.9M582.8 385.9Q586.5 388.3 590.3 387.1M593.3 445.5Q595.8 446.7 598.3 445.9M590.6 451.9Q593.2 451.8 595.7 452.0M588.6 454.3Q592.9 454.0 597.3 456.4" stroke="#1818b0" stroke-width="2.3"/><path d="M583.0 413.0Q586.4 413.8 589.8 412.8M584.8 413.7Q588.0 413.9 591.3 411.2M584.5 452.7Q588.2 451.8 591.9 448.3" stroke="#36b2e6" stroke-width="2.3"/><path d="M590.5 427.3Q593.5 427.2 596.6 429.8" stroke="#000040" stroke-width="3.5"/><path d="M587.1 386.1Q590.7 389.0 594.3 389.1M590.4 455.1Q594.1 455.4 597.8 452.8" stroke="#0a4060" stroke-width="3.5"/><path d="M590.5 427.3Q593.5 427.2 596.6 429.8" stroke="#1818b0" stroke-width="2.3"/><path d="M587.1 386.1Q590.7 389.0 594.3 389.1M590.4 455.1Q594.1 455.4 597.8 452.8" stroke="#36b2e6" stroke-width="2.3"/><path d="M637.9 411.2Q641.0 411.1 644.2 413.9M638.5 387.2Q642.0 385.6 645.4 384.4M635.5 448.7Q638.1 450.4 640.8 453.2M636.8 437.4Q640.5 437.7 644.2 440.9" stroke="#000040" stroke-width="3.5"/><path d="M631.6 395.1Q635.6 394.0 639.6 391.4M634.1 424.9Q637.1 427.5 640.1 425.7M639.0 389.4Q642.4 387.9 645.9 384.8M633.4 408.8Q635.8 408.4 638.1 406.8" stroke="#0a4060" stroke-width="3.5"/><path d="M637.9 411.2Q641.0 411.1 644.2 413.9M638.5 387.2Q642.0 385.6 645.4 384.4M635.5 448.7Q638.1 450.4 640.8 453.2M636.8 437.4Q640.5 437.7 644.2 440.9" stroke="#1818b0" stroke-width="2.3"/><path d="M631.6 395.1Q635.6 394.0 639.6 391.4M634.1 424.9Q637.1 427.5 640.1 425.7M639.0 389.4Q642.4 387.9 645.9 384.8M633.4 408.8Q635.8 408.4 638.1 406.8" stroke="#36b2e6" stroke-width="2.3"/><path d="M629.6 429.6Q633.3 429.2 637.1 433.0M632.5 423.6Q635.6 422.7 638.7 425.5M634.9 418.8Q638.9 417.6 642.9 420.4M634.5 425.8Q637.4 428.4 640.3 431.4" stroke="#000040" stroke-width="3.5"/><path d="M633.9 386.9Q636.1 389.4 638.3 390.0M631.1 419.5Q633.9 422.0 636.8 420.3M637.2 441.8Q640.1 445.4 643.1 448.3M631.4 409.5Q635.4 408.8 639.5 405.9" stroke="#0a4060" stroke-width="3.5"/><path d="M629.6 429.6Q633.3 429.2 637.1 433.0M632.5 423.6Q635.6 422.7 638.7 425.5M634.9 418.8Q638.9 417.6 642.9 420.4M634.5 425.8Q637.4 428.4 640.3 431.4" stroke="#1818b0" stroke-width="2.3"/><path d="M633.9 386.9Q636.1 389.4 638.3 390.0M631.1 419.5Q633.9 422.0 636.8 420.3M637.2 441.8Q640.1 445.4 643.1 448.3M631.4 409.5Q635.4 408.8 639.5 405.9" stroke="#36b2e6" stroke-width="2.3"/><path d="M632.9 437.8Q637.3 437.4 641.7 437.8M628.7 437.4Q630.9 437.5 633.0 434.1M633.2 398.2Q636.1 394.0 639.0 393.5M634.9 427.8Q637.3 428.6 639.7 429.8M632.9 453.3Q636.4 453.6 639.8 451.6M640.4 405.2Q644.2 405.3 648.1 402.7" stroke="#000040" stroke-width="3.5"/><path d="M631.8 436.3Q634.8 439.0 637.8 437.3M639.4 397.3Q641.5 398.0 643.6 400.9" stroke="#0a4060" stroke-width="3.5"/><path d="M632.9 437.8Q637.3 437.4 641.7 437.8M628.7 437.4Q630.9 437.5 633.0 434.1M633.2 398.2Q636.1 394.0 639.0 393.5M634.9 427.8Q637.3 428.6 639.7 429.8M632.9 453.3Q636.4 453.6 639.8 451.6M640.4 405.2Q644.2 405.3 648.1 402.7" stroke="#1818b0" stroke-width="2.3"/><path d="M631.8 436.3Q634.8 439.0 637.8 437.3M639.4 397.3Q641.5 398.0 643.6 400.9" stroke="#36b2e6" stroke-width="2.3"/><path d="M633.2 418.2Q635.9 419.4 638.5 420.3M631.4 408.3Q634.6 407.1 637.7 407.0M634.2 418.0Q637.7 416.2 641.2 417.6M635.9 405.1Q640.1 406.4 644.4 404.6" stroke="#000040" stroke-width="3.5"/><path d="M629.9 420.5Q633.9 419.8 637.9 422.5M632.5 415.9Q635.7 417.4 638.8 417.2M632.7 446.4Q636.5 447.6 640.4 450.3M630.2 438.2Q633.8 437.6 637.4 440.7" stroke="#0a4060" stroke-width="3.5"/><path d="M633.2 418.2Q635.9 419.4 638.5 420.3M631.4 408.3Q634.6 407.1 637.7 407.0M634.2 418.0Q637.7 416.2 641.2 417.6M635.9 405.1Q640.1 406.4 644.4 404.6" stroke="#1818b0" stroke-width="2.3"/><path d="M629.9 420.5Q633.9 419.8 637.9 422.5M632.5 415.9Q635.7 417.4 638.8 417.2M632.7 446.4Q636.5 447.6 640.4 450.3M630.2 438.2Q633.8 437.6 637.4 440.7" stroke="#36b2e6" stroke-width="2.3"/><path d="M640.1 411.9Q643.2 414.4 646.3 412.6M639.5 441.5Q641.9 442.0 644.4 439.5M635.6 396.9Q637.1 396.1 638.7 392.8M633.4 398.6Q636.5 399.9 639.6 399.7M639.7 398.0Q642.8 398.8 646.0 401.4M636.1 386.5Q638.4 387.2 640.8 389.7" stroke="#000040" stroke-width="3.5"/><path d="M636.5 419.1Q639.5 418.3 642.4 420.8M633.7 421.0Q637.3 423.0 640.9 421.9" stroke="#0a4060" stroke-width="3.5"/><path d="M640.1 411.9Q643.2 414.4 646.3 412.6M639.5 441.5Q641.9 442.0 644.4 439.5M635.6 396.9Q637.1 396.1 638.7 392.8M633.4 398.6Q636.5 399.9 639.6 399.7M639.7 398.0Q642.8 398.8 646.0 401.4M636.1 386.5Q638.4 387.2 640.8 389.7" stroke="#1818b0" stroke-width="2.3"/><path d="M636.5 419.1Q639.5 418.3 642.4 420.8M633.7 421.0Q637.3 423.0 640.9 421.9" stroke="#36b2e6" stroke-width="2.3"/><path d="M630.4 429.2Q633.7 429.6 637.0 430.3M629.0 449.5Q632.4 453.6 635.8 453.8M641.2 396.2Q644.3 395.1 647.5 395.7M635.9 398.5Q639.0 400.8 642.2 402.3M633.8 452.6Q637.8 452.7 641.8 449.0M633.7 395.9Q636.6 395.8 639.5 396.8" stroke="#000040" stroke-width="3.5"/><path d="M633.6 452.0Q636.6 451.6 639.6 451.1M633.8 397.8Q637.4 396.5 640.9 397.7" stroke="#0a4060" stroke-width="3.5"/><path d="M630.4 429.2Q633.7 429.6 637.0 430.3M629.0 449.5Q632.4 453.6 635.8 453.8M641.2 396.2Q644.3 395.1 647.5 395.7M635.9 398.5Q639.0 400.8 642.2 402.3M633.8 452.6Q637.8 452.7 641.8 449.0M633.7 395.9Q636.6 395.8 639.5 396.8" stroke="#1818b0" stroke-width="2.3"/><path d="M633.6 452.0Q636.6 451.6 639.6 451.1M633.8 397.8Q637.4 396.5 640.9 397.7" stroke="#36b2e6" stroke-width="2.3"/><path d="M642.2 415.1Q644.7 414.9 647.1 412.9M632.1 415.1Q635.8 414.3 639.6 414.5M631.4 392.3Q635.0 392.2 638.6 395.3M628.5 433.8Q631.3 432.8 634.1 433.8M634.8 427.1Q638.1 425.4 641.4 423.5M630.9 412.4Q633.9 411.9 636.9 411.9" stroke="#000040" stroke-width="3.5"/><path d="M633.3 395.4Q636.7 394.9 640.1 394.8M635.9 384.4Q639.8 386.4 643.7 388.1" stroke="#0a4060" stroke-width="3.5"/><path d="M642.2 415.1Q644.7 414.9 647.1 412.9M632.1 415.1Q635.8 414.3 639.6 414.5M631.4 392.3Q635.0 392.2 638.6 395.3M628.5 433.8Q631.3 432.8 634.1 433.8M634.8 427.1Q638.1 425.4 641.4 423.5M630.9 412.4Q633.9 411.9 636.9 411.9" stroke="#1818b0" stroke-width="2.3"/><path d="M633.3 395.4Q636.7 394.9 640.1 394.8M635.9 384.4Q639.8 386.4 643.7 388.1" stroke="#36b2e6" stroke-width="2.3"/><path d="M635.6 407.1Q639.9 408.7 644.1 409.9M638.4 388.9Q642.4 388.6 646.5 386.6M634.7 390.9Q639.0 392.8 643.4 391.6M638.1 385.4Q641.1 383.3 644.1 382.1M639.6 431.7Q642.4 429.5 645.1 431.4M638.1 423.7Q641.0 424.7 644.0 427.9" stroke="#000040" stroke-width="3.5"/><path d="M637.4 410.9Q641.0 412.6 644.6 411.7M635.4 419.9Q638.3 416.9 641.2 418.3" stroke="#0a4060" stroke-width="3.5"/><path d="M635.6 407.1Q639.9 408.7 644.1 409.9M638.4 388.9Q642.4 388.6 646.5 386.6M634.7 390.9Q639.0 392.8 643.4 391.6M638.1 385.4Q641.1 383.3 644.1 382.1M639.6 431.7Q642.4 429.5 645.1 431.4M638.1 423.7Q641.0 424.7 644.0 427.9" stroke="#1818b0" stroke-width="2.3"/><path d="M637.4 410.9Q641.0 412.6 644.6 411.7M635.4 419.9Q638.3 416.9 641.2 418.3" stroke="#36b2e6" stroke-width="2.3"/><path d="M636.2 382.5Q638.8 383.3 641.4 387.2M637.7 425.9Q641.3 423.1 644.8 423.0M639.1 419.9Q643.2 420.1 647.4 421.7M642.3 393.0Q645.3 393.3 648.2 389.4" stroke="#000040" stroke-width="3.5"/><path d="M640.4 387.9Q643.5 386.0 646.6 387.6M630.2 431.4Q633.2 429.5 636.2 427.3M627.8 444.5Q629.8 445.5 631.9 448.0M626.8 446.7Q630.4 447.0 633.9 447.8" stroke="#0a4060" stroke-width="3.5"/><path d="M636.2 382.5Q638.8 383.3 641.4 387.2M637.7 425.9Q641.3 423.1 644.8 423.0M639.1 419.9Q643.2 420.1 647.4 421.7M642.3 393.0Q645.3 393.3 648.2 389.4" stroke="#1818b0" stroke-width="2.3"/><path d="M640.4 387.9Q643.5 386.0 646.6 387.6M630.2 431.4Q633.2 429.5 636.2 427.3M627.8 444.5Q629.8 445.5 631.9 448.0M626.8 446.7Q630.4 447.0 633.9 447.8" stroke="#36b2e6" stroke-width="2.3"/><path d="M636.5 404.8Q640.7 407.3 644.9 407.5" stroke="#0a4060" stroke-width="3.5"/><path d="M636.5 404.8Q640.7 407.3 644.9 407.5" stroke="#36b2e6" stroke-width="2.3"/></g><path d="M112.4 413.9H119.4M115.9 410.4V417.4M475.5 418.5H482.5M479 415V422" stroke="#222" stroke-width="1.2"/><path d="M180.6 413.8H206M200.5 408.8L206.3 413.8L200.5 418.8M537.4 419H562.5M557 414L562.8 419L557 424" fill="none" stroke="#111" stroke-width="1.6"/>
</svg></body></html>
